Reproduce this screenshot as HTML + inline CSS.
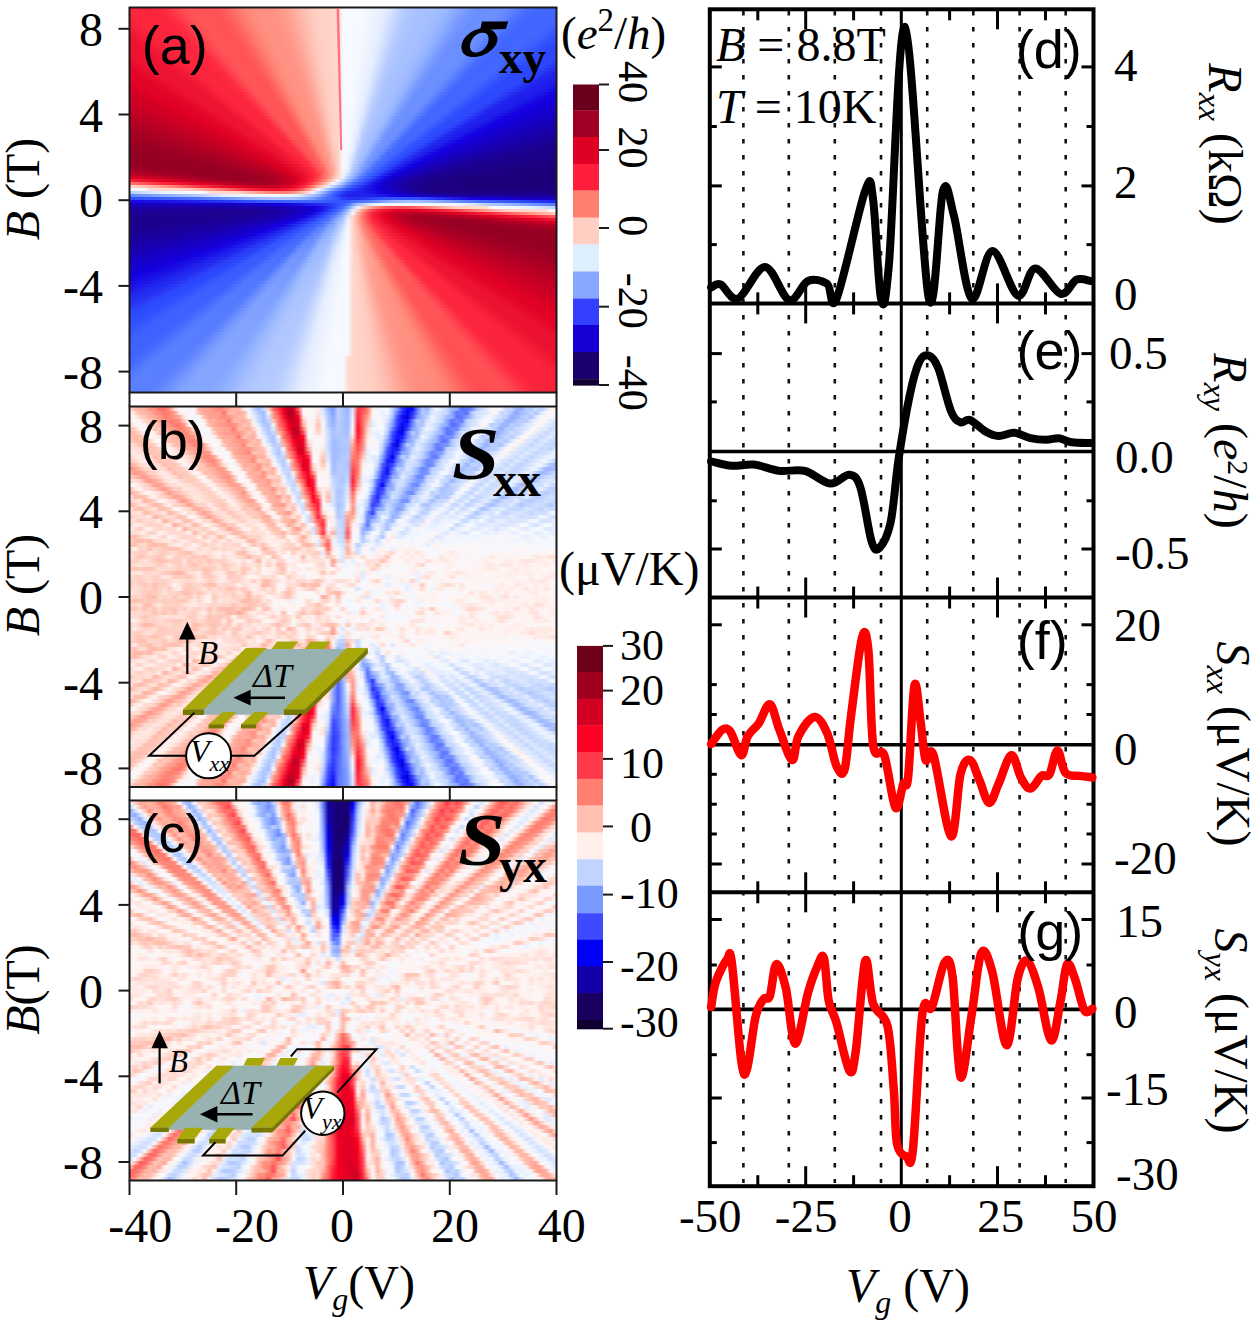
<!DOCTYPE html>
<html><head><meta charset="utf-8"><style>
html,body{margin:0;padding:0;background:#fff;width:1259px;height:1328px;overflow:hidden}
.hm{position:absolute;overflow:hidden}
.hm i{display:block;width:100%}
svg{position:absolute;left:0;top:0}
</style></head><body>
<div class="hm" style="left:130px;top:8px;width:426px;height:384px"><i style="height:3px;background:linear-gradient(90deg,#fc263d,#fc263d,#fb253d,#fb253c,#fb243c,#fc253d,#fd273e,#ff2b41,#ff3546,#ff3f4c,#ff4851,#ff4f55,#ff5457,#ff5558,#ff5458,#ff5357,#ff5256,#ff5357,#ff5659,#ff5d5d,#ff6662,#ff7068,#ff7b6e,#ff8475,#ff8a7c,#ff8e80,#ff9082,#ff9183,#ff9283,#ff9385,#ff9688,#ff9c8e,#ffa395,#ffac9e,#ffb5a8,#ffbeb1,#ffc6ba,#ffcdc1,#ffd0c4,#ffd2c6,#ffd3c9,#ffd6cc,#ffd8cf,#f6f9ff,#f6f9ff,#f6f9ff,#f6f9ff,#f6f9ff,#f2f6ff,#eef3ff,#ebf1ff,#e7efff,#dee8ff,#d3e0ff,#c7d7ff,#bbceff,#b3c9ff,#aec5ff,#aac2ff,#a7c0ff,#a6bfff,#a5beff,#a2bdff,#9fbaff,#99b6ff,#92b1ff,#89a9ff,#7fa1ff,#7799ff,#7193ff,#6d90ff,#6b8eff,#6c8fff,#6c8fff,#6d90ff,#6b8eff,#678bff,#6185ff,#597eff,#5076ff,#496fff,#456aff,#4267ff,#4165ff,#4165ff,#4266ff,#4267ff)"></i><i style="height:3px;background:linear-gradient(90deg,#fc253d,#fc263d,#fc263d,#fb253d,#fb243c,#fb253c,#fc263d,#fe293f,#ff2f43,#ff3949,#ff434e,#ff4c53,#ff5256,#ff5558,#ff5558,#ff5458,#ff5257,#ff5257,#ff5458,#ff5a5b,#ff6260,#ff6c65,#ff776c,#ff8172,#ff887a,#ff8d7f,#ff9082,#ff9183,#ff9183,#ff9384,#ff9587,#ff9a8c,#ffa294,#ffaa9d,#ffb4a7,#ffbdb0,#ffc5b9,#ffccc0,#ffd0c4,#ffd2c6,#ffd3c9,#ffd6cc,#ffd8cf,#f6f9ff,#f6f9ff,#f6f9ff,#f6f9ff,#f6f9ff,#f2f6ff,#eef3ff,#eaf1ff,#e7eeff,#dde7ff,#d1deff,#c5d5ff,#b9cdff,#b2c8ff,#adc4ff,#a9c2ff,#a7c0ff,#a6bfff,#a4beff,#a1bcff,#9db9ff,#97b5ff,#8fafff,#85a6ff,#7c9eff,#7496ff,#6f92ff,#6c8fff,#6b8eff,#6c8fff,#6d90ff,#6c8fff,#698dff,#6488ff,#5d81ff,#5479ff,#4b71ff,#466cff,#4368ff,#4266ff,#4165ff,#4165ff,#4266ff,#4267ff)"></i><i style="height:3px;background:linear-gradient(90deg,#fb243c,#fc263d,#fc263d,#fc253d,#fb253c,#fb243c,#fb253d,#fd273e,#ff2a40,#ff3445,#ff3e4b,#ff4851,#ff4f55,#ff5458,#ff5558,#ff5458,#ff5357,#ff5256,#ff5357,#ff575a,#ff5f5e,#ff6963,#ff736a,#ff7e6f,#ff8678,#ff8c7e,#ff9081,#ff9183,#ff9183,#ff9284,#ff9586,#ff998b,#ffa092,#ffa99b,#ffb2a5,#ffbcaf,#ffc4b8,#ffccbf,#ffd0c4,#ffd1c6,#ffd3c9,#ffd5cb,#ffd8cf,#f6f9ff,#f6f9ff,#f6f9ff,#f6f9ff,#f6f9ff,#f1f6ff,#edf3ff,#eaf1ff,#e6eeff,#dbe6ff,#cfddff,#c2d4ff,#b7cbff,#b1c7ff,#acc3ff,#a9c1ff,#a7c0ff,#a5bfff,#a3beff,#a0bbff,#9bb8ff,#94b3ff,#8bacff,#82a3ff,#799bff,#7294ff,#6d90ff,#6b8fff,#6c8fff,#6c8fff,#6d90ff,#6b8eff,#678bff,#6085ff,#587dff,#4f75ff,#486eff,#4469ff,#4266ff,#4165ff,#4165ff,#4266ff,#4267ff,#4266ff)"></i><i style="height:3px;background:linear-gradient(90deg,#fa233b,#fb253d,#fc263d,#fc263d,#fb253d,#fb243c,#fb253c,#fc263d,#fe283f,#ff2e42,#ff3848,#ff434e,#ff4c53,#ff5256,#ff5558,#ff5558,#ff5457,#ff5257,#ff5257,#ff5558,#ff5c5c,#ff6561,#ff7067,#ff7b6e,#ff8475,#ff8b7c,#ff8f80,#ff9182,#ff9183,#ff9284,#ff9486,#ff988a,#ff9f91,#ffa79a,#ffb1a4,#ffbbae,#ffc3b7,#ffcbbf,#ffd0c4,#ffd1c6,#ffd3c8,#ffd5cb,#ffd8cf,#f6f9ff,#f6f9ff,#f6f9ff,#f6f9ff,#f6f9ff,#f1f5ff,#edf3ff,#e9f0ff,#e5edff,#d9e5ff,#cddbff,#c0d2ff,#b6caff,#afc6ff,#abc3ff,#a8c1ff,#a6c0ff,#a5bfff,#a3bdff,#9fbaff,#99b6ff,#91b1ff,#88a8ff,#7e9fff,#7598ff,#6f92ff,#6c8fff,#6b8eff,#6c8fff,#6d90ff,#6c8fff,#698dff,#6488ff,#5c80ff,#5378ff,#4a70ff,#466bff,#4367ff,#4165ff,#4165ff,#4266ff,#4267ff,#4267ff,#4165ff)"></i><i style="height:3px;background:linear-gradient(90deg,#f8213a,#fa243c,#fc253d,#fc263d,#fc263d,#fb253d,#fb243c,#fb253d,#fc273e,#ff2a40,#ff3345,#ff3d4b,#ff4751,#ff4f55,#ff5458,#ff5558,#ff5458,#ff5357,#ff5257,#ff5458,#ff595a,#ff615f,#ff6c65,#ff776c,#ff8172,#ff897a,#ff8e80,#ff9082,#ff9183,#ff9283,#ff9385,#ff9789,#ff9d90,#ffa698,#ffb0a2,#ffb9ad,#ffc2b6,#ffcabe,#ffcfc4,#ffd1c6,#ffd3c8,#ffd5cb,#ffd8cf,#f6f9ff,#f6f9ff,#f6f9ff,#f6f9ff,#f6f9ff,#f0f5ff,#edf2ff,#e9f0ff,#e3ecff,#d7e3ff,#cadaff,#bed0ff,#b4c9ff,#aec5ff,#aac2ff,#a7c0ff,#a6bfff,#a4beff,#a2bcff,#9db9ff,#97b5ff,#8eaeff,#84a5ff,#7a9cff,#7395ff,#6e91ff,#6b8fff,#6c8fff,#6c8fff,#6d90ff,#6b8eff,#678aff,#6084ff,#577cff,#4e73ff,#476dff,#4468ff,#4266ff,#4165ff,#4166ff,#4266ff,#4267ff,#4266ff,#4063ff)"></i><i style="height:3px;background:linear-gradient(90deg,#f61e38,#f9223a,#fb243c,#fc263d,#fc263d,#fc253d,#fb253c,#fb243c,#fc253d,#fd283e,#ff2d42,#ff3748,#ff424e,#ff4b53,#ff5257,#ff5558,#ff5558,#ff5357,#ff5257,#ff5357,#ff5659,#ff5e5d,#ff6863,#ff7369,#ff7e70,#ff8778,#ff8d7e,#ff9082,#ff9183,#ff9283,#ff9385,#ff9688,#ff9c8e,#ffa497,#ffaea1,#ffb8ab,#ffc1b5,#ffc9bd,#ffcfc3,#ffd1c6,#ffd3c8,#ffd5cb,#ffd8cf,#f6f9ff,#f6f9ff,#f6f9ff,#f6f9ff,#f6f9ff,#f0f5ff,#ecf2ff,#e8f0ff,#e2ebff,#d5e2ff,#c8d8ff,#bbceff,#b3c8ff,#adc4ff,#a9c2ff,#a7c0ff,#a5bfff,#a4beff,#a0bbff,#9bb8ff,#94b3ff,#8babff,#80a2ff,#7799ff,#7093ff,#6c8fff,#6b8eff,#6c8fff,#6d90ff,#6c8fff,#698cff,#6387ff,#5b80ff,#5277ff,#496fff,#456aff,#4267ff,#4165ff,#4165ff,#4266ff,#4267ff,#4266ff,#4064ff,#3d61ff)"></i><i style="height:3px;background:linear-gradient(90deg,#f41b36,#f71f39,#fa233b,#fb253d,#fc263d,#fc263d,#fb253d,#fb243c,#fb253c,#fc263d,#fe293f,#ff3144,#ff3c4a,#ff4750,#ff4f55,#ff5458,#ff5558,#ff5458,#ff5257,#ff5257,#ff5458,#ff5a5b,#ff6461,#ff6f67,#ff7b6e,#ff8576,#ff8b7d,#ff8f81,#ff9183,#ff9183,#ff9284,#ff9587,#ff9b8d,#ffa395,#ffad9f,#ffb7aa,#ffc0b4,#ffc9bd,#ffcfc3,#ffd1c6,#ffd3c8,#ffd5cb,#ffd8cf,#f6f9ff,#f6f9ff,#f6f9ff,#f6f9ff,#f5f8ff,#f0f5ff,#ecf2ff,#e8efff,#e0eaff,#d3e0ff,#c6d6ff,#b9cdff,#b1c7ff,#acc4ff,#a9c1ff,#a7c0ff,#a5bfff,#a3bdff,#9fbaff,#99b6ff,#91b1ff,#87a7ff,#7c9eff,#7496ff,#6e91ff,#6c8fff,#6c8fff,#6c8fff,#6d90ff,#6b8eff,#668aff,#5f83ff,#567bff,#4c72ff,#476cff,#4368ff,#4165ff,#4165ff,#4266ff,#4267ff,#4267ff,#4165ff,#3e62ff,#3b5dff)"></i><i style="height:3px;background:linear-gradient(90deg,#f21934,#f51c37,#f82039,#fa233c,#fc253d,#fc263d,#fc263d,#fb253d,#fb243c,#fb253d,#fd273e,#ff2c41,#ff3647,#ff424d,#ff4b53,#ff5257,#ff5558,#ff5558,#ff5357,#ff5257,#ff5357,#ff585a,#ff605f,#ff6b65,#ff776c,#ff8273,#ff8a7b,#ff8f80,#ff9182,#ff9183,#ff9284,#ff9586,#ff9a8c,#ffa194,#ffab9e,#ffb5a8,#ffbfb3,#ffc8bc,#ffcfc3,#ffd1c5,#ffd3c8,#ffd5cb,#ffd8cf,#f6f9ff,#f6f9ff,#f6f9ff,#f6f9ff,#f4f8ff,#eff4ff,#ebf2ff,#e7efff,#dee8ff,#d1dfff,#c3d4ff,#b7cbff,#b0c6ff,#abc3ff,#a8c1ff,#a6c0ff,#a5beff,#a2bdff,#9db9ff,#96b4ff,#8daeff,#83a4ff,#799bff,#7194ff,#6d90ff,#6b8fff,#6c8fff,#6d90ff,#6c8fff,#698cff,#6387ff,#5a7fff,#5076ff,#486eff,#4469ff,#4266ff,#4165ff,#4266ff,#4266ff,#4267ff,#4266ff,#3f63ff,#3c5eff,#3759ff)"></i><i style="height:3px;background:linear-gradient(90deg,#f01633,#f31a35,#f61d38,#f9213a,#fb243c,#fc263d,#fc263d,#fc253d,#fb253c,#fb253c,#fc263d,#fe283f,#ff3043,#ff3c4a,#ff4650,#ff4f55,#ff5458,#ff5558,#ff5458,#ff5257,#ff5257,#ff5559,#ff5d5d,#ff6762,#ff7369,#ff7f70,#ff8879,#ff8d7f,#ff9082,#ff9183,#ff9284,#ff9486,#ff988a,#ffa092,#ffa99c,#ffb4a7,#ffbeb2,#ffc7bb,#ffcfc3,#ffd1c5,#ffd3c8,#ffd5cb,#ffd8cf,#f6f9ff,#f6f9ff,#f6f9ff,#f6f9ff,#f4f8ff,#eff4ff,#ebf1ff,#e7efff,#dce7ff,#cfddff,#c1d3ff,#b6caff,#afc6ff,#aac2ff,#a7c0ff,#a6bfff,#a4beff,#a1bcff,#9bb8ff,#94b2ff,#89aaff,#7fa0ff,#7598ff,#6f92ff,#6c8fff,#6b8fff,#6c8fff,#6d90ff,#6b8eff,#668aff,#5e82ff,#557aff,#4b71ff,#466bff,#4367ff,#4165ff,#4165ff,#4266ff,#4367ff,#4266ff,#4064ff,#3d60ff,#385aff,#3455ff)"></i><i style="height:3px;background:linear-gradient(90deg,#ef1431,#f11733,#f41b36,#f71f38,#f9223b,#fb253c,#fc263d,#fc263d,#fb253d,#fb243c,#fb253d,#fd273e,#ff2a40,#ff3546,#ff414d,#ff4b53,#ff5257,#ff5558,#ff5558,#ff5357,#ff5257,#ff5458,#ff595b,#ff6360,#ff6f67,#ff7b6e,#ff8576,#ff8c7e,#ff9081,#ff9183,#ff9283,#ff9385,#ff9789,#ff9e90,#ffa89a,#ffb2a5,#ffbdb0,#ffc6ba,#ffcec2,#ffd1c5,#ffd3c8,#ffd5cb,#ffd8cf,#f6f9ff,#f6f9ff,#f6f9ff,#f6f9ff,#f3f7ff,#eef4ff,#eaf1ff,#e6eeff,#dae5ff,#ccdbff,#bed1ff,#b4c9ff,#aec5ff,#a9c2ff,#a7c0ff,#a5bfff,#a3bdff,#9fbbff,#99b6ff,#90b0ff,#85a6ff,#7b9dff,#7295ff,#6d90ff,#6b8fff,#6c8fff,#6d90ff,#6c8fff,#698cff,#6286ff,#597eff,#4f74ff,#476dff,#4468ff,#4266ff,#4165ff,#4266ff,#4267ff,#4267ff,#4165ff,#3e61ff,#395cff,#3556ff,#3151ff)"></i><i style="height:3px;background:linear-gradient(90deg,#ee1331,#ef1532,#f11834,#f41b36,#f72039,#fa233b,#fb253d,#fc263d,#fc263d,#fb253d,#fb243c,#fc253d,#fd283f,#ff2f43,#ff3b49,#ff4650,#ff4f55,#ff5458,#ff5558,#ff5458,#ff5257,#ff5357,#ff5759,#ff5f5e,#ff6a64,#ff776b,#ff8273,#ff8a7c,#ff8f81,#ff9183,#ff9183,#ff9384,#ff9688,#ff9d8f,#ffa698,#ffb1a4,#ffbcaf,#ffc5b9,#ffcdc1,#ffd1c5,#ffd2c8,#ffd5cb,#ffd8cf,#f6f9ff,#f6f9ff,#f6f9ff,#f6f9ff,#f3f7ff,#eef4ff,#eaf1ff,#e6eeff,#d8e4ff,#cad9ff,#bccfff,#b2c8ff,#acc4ff,#a9c1ff,#a7c0ff,#a5bfff,#a2bdff,#9db9ff,#96b4ff,#8dadff,#81a2ff,#7799ff,#7093ff,#6c8fff,#6c8fff,#6c8fff,#6d90ff,#6b8eff,#6689ff,#5d82ff,#5378ff,#496fff,#456aff,#4266ff,#4165ff,#4266ff,#4267ff,#4267ff,#4165ff,#3f62ff,#3b5dff,#3657ff,#3252ff,#2f4cfe)"></i><i style="height:3px;background:linear-gradient(90deg,#ee1230,#ee1331,#f01532,#f21834,#f51d37,#f8213a,#fa243c,#fc263d,#fc263d,#fc253d,#fb253c,#fb253c,#fc263d,#ff2a40,#ff3446,#ff404c,#ff4b53,#ff5257,#ff5558,#ff5558,#ff5357,#ff5257,#ff5558,#ff5b5c,#ff6662,#ff7369,#ff7f70,#ff887a,#ff8e80,#ff9182,#ff9183,#ff9284,#ff9587,#ff9b8d,#ffa497,#ffafa2,#ffbaad,#ffc4b8,#ffcdc1,#ffd0c5,#ffd2c7,#ffd5ca,#ffd8cf,#f6f9ff,#f6f9ff,#f6f9ff,#f6f9ff,#f2f7ff,#eef3ff,#eaf0ff,#e4ecff,#d6e2ff,#c7d7ff,#b9cdff,#b1c7ff,#abc3ff,#a8c1ff,#a6bfff,#a4beff,#a1bcff,#9bb8ff,#93b2ff,#88a9ff,#7d9fff,#7496ff,#6e91ff,#6c8fff,#6c8fff,#6d90ff,#6c8fff,#698cff,#6185ff,#587dff,#4d73ff,#476cff,#4367ff,#4165ff,#4165ff,#4266ff,#4367ff,#4266ff,#3f63ff,#3c5eff,#3759ff,#3353ff,#2f4efe,#2d49fc)"></i><i style="height:3px;background:linear-gradient(90deg,#ee1230,#ee1230,#ee1331,#f01633,#f31935,#f61e38,#f9223a,#fb243c,#fc263d,#fc263d,#fb253d,#fb253c,#fb253d,#fd273e,#ff2d42,#ff3949,#ff4550,#ff4f55,#ff5458,#ff5558,#ff5458,#ff5257,#ff5357,#ff585a,#ff625f,#ff6e66,#ff7b6e,#ff8677,#ff8d7e,#ff9082,#ff9183,#ff9284,#ff9486,#ff9a8c,#ffa395,#ffada0,#ffb9ac,#ffc3b7,#ffccc0,#ffd0c5,#ffd2c7,#ffd5ca,#ffd8cf,#f6f9ff,#f6f9ff,#f6f9ff,#f6f9ff,#f2f6ff,#edf3ff,#e9f0ff,#e2ebff,#d4e1ff,#c5d5ff,#b7cbff,#b0c6ff,#aac2ff,#a7c0ff,#a6bfff,#a4beff,#a0bbff,#99b6ff,#90b0ff,#84a5ff,#799bff,#7193ff,#6c8fff,#6c8fff,#6c8fff,#6d90ff,#6b8eff,#6589ff,#5c81ff,#5277ff,#496eff,#4469ff,#4266ff,#4165ff,#4266ff,#4367ff,#4266ff,#4064ff,#3d60ff,#385aff,#3354ff,#304fff,#2e49fc,#2d47fb)"></i><i style="height:3px;background:linear-gradient(90deg,#ee1330,#ee1230,#ee1330,#ef1431,#f11733,#f41a36,#f71f38,#fa233b,#fb253d,#fc263d,#fc263d,#fb253d,#fb253c,#fc263d,#fe293f,#ff3345,#ff3f4c,#ff4b52,#ff5257,#ff5558,#ff5558,#ff5357,#ff5257,#ff5659,#ff5e5d,#ff6a64,#ff776b,#ff8374,#ff8b7d,#ff9081,#ff9183,#ff9283,#ff9485,#ff998a,#ffa193,#ffac9e,#ffb7aa,#ffc2b6,#ffcbbf,#ffd0c4,#ffd2c7,#ffd5ca,#ffd8cf,#f6f9ff,#f6f9ff,#f6f9ff,#f6f9ff,#f2f6ff,#edf3ff,#e9f0ff,#e0eaff,#d1dfff,#c2d3ff,#b5caff,#aec5ff,#a9c2ff,#a7c0ff,#a5bfff,#a3bdff,#9ebaff,#96b4ff,#8cacff,#80a1ff,#7598ff,#6f91ff,#6c8fff,#6c8fff,#6d90ff,#6c8fff,#688cff,#6185ff,#567bff,#4b71ff,#466bff,#4267ff,#4165ff,#4266ff,#4267ff,#4267ff,#4165ff,#3e61ff,#395bff,#3455ff,#3050ff,#2e4afd,#2d47fc,#2d47fc)"></i><i style="height:3px;background:linear-gradient(90deg,#ee1331,#ee1330,#ee1230,#ee1330,#ef1432,#f11734,#f41c36,#f82039,#fa233c,#fc263d,#fc263d,#fc253d,#fb253c,#fb253d,#fd273e,#ff2c41,#ff3848,#ff454f,#ff4f55,#ff5458,#ff5558,#ff5458,#ff5257,#ff5458,#ff5a5b,#ff6561,#ff7269,#ff7f70,#ff897a,#ff8f80,#ff9183,#ff9283,#ff9385,#ff9789,#ff9f91,#ffaa9c,#ffb6a9,#ffc1b4,#ffcabe,#ffd0c4,#ffd2c7,#ffd4ca,#ffd8ce,#f6f9ff,#f6f9ff,#f6f9ff,#f6f9ff,#f1f6ff,#ecf2ff,#e8efff,#dee8ff,#cfddff,#bfd1ff,#b4c9ff,#adc4ff,#a9c1ff,#a6c0ff,#a5beff,#a1bcff,#9bb8ff,#93b2ff,#87a8ff,#7b9dff,#7295ff,#6d90ff,#6c8fff,#6c8fff,#6d90ff,#6b8eff,#6588ff,#5b80ff,#5075ff,#486dff,#4368ff,#4166ff,#4165ff,#4266ff,#4367ff,#4266ff,#3f62ff,#3a5dff,#3557ff,#3151ff,#2e4bfd,#2d47fc,#2d47fc,#2d48fc)"></i><i style="height:3px;background:linear-gradient(90deg,#ed1230,#ee1331,#ee1330,#ee1230,#ee1331,#ef1532,#f21834,#f51d37,#f8213a,#fb243c,#fc263d,#fc263d,#fb253d,#fb253c,#fc253d,#fe283f,#ff3144,#ff3e4b,#ff4a52,#ff5257,#ff5558,#ff5558,#ff5357,#ff5357,#ff5759,#ff605f,#ff6e66,#ff7b6e,#ff8678,#ff8d7f,#ff9182,#ff9183,#ff9384,#ff9688,#ff9d90,#ffa89a,#ffb4a7,#ffc0b3,#ffcabd,#ffd0c4,#ffd2c7,#ffd4ca,#ffd8ce,#f6f9ff,#f6f9ff,#f6f9ff,#f6f9ff,#f1f5ff,#ecf2ff,#e7efff,#dce6ff,#ccdbff,#bdcfff,#b2c8ff,#acc3ff,#a8c1ff,#a6bfff,#a4beff,#a0bbff,#99b6ff,#8fafff,#82a4ff,#7799ff,#6f92ff,#6c8fff,#6c8fff,#6d90ff,#6c8fff,#688cff,#6084ff,#557aff,#4a70ff,#456aff,#4266ff,#4165ff,#4266ff,#4367ff,#4266ff,#4063ff,#3c5eff,#3758ff,#3252ff,#2f4cfd,#2d48fc,#2d47fc,#2d48fc,#2d48fc)"></i><i style="height:3px;background:linear-gradient(90deg,#ec112f,#ee1230,#ee1331,#ee1330,#ee1230,#ee1331,#f01532,#f31935,#f61e38,#f9223b,#fb253d,#fc263d,#fc263d,#fb253d,#fb253c,#fc263e,#ff2a40,#ff3747,#ff444f,#ff4f55,#ff5458,#ff5558,#ff5357,#ff5257,#ff5558,#ff5c5c,#ff6963,#ff776b,#ff8375,#ff8c7d,#ff9082,#ff9183,#ff9284,#ff9587,#ff9c8e,#ffa699,#ffb2a5,#ffbeb2,#ffc9bc,#ffd0c4,#ffd2c7,#ffd4ca,#ffd8ce,#f6f9ff,#f6f9ff,#f6f9ff,#f6f9ff,#f0f5ff,#ebf2ff,#e7efff,#d9e5ff,#c9d9ff,#bacdff,#b0c7ff,#abc3ff,#a7c0ff,#a6bfff,#a3bdff,#9ebaff,#96b4ff,#8aabff,#7e9fff,#7396ff,#6d90ff,#6c8fff,#6c8fff,#6d90ff,#6b8eff,#6488ff,#5a7fff,#4e74ff,#476cff,#4367ff,#4165ff,#4266ff,#4367ff,#4267ff,#4164ff,#3d60ff,#3859ff,#3353ff,#2f4dfe,#2d48fc,#2d47fc,#2d48fc,#2d48fc,#2c46fb)"></i><i style="height:3px;background:linear-gradient(90deg,#ea0e2d,#ec112f,#ee1330,#ee1331,#ee1330,#ee1230,#ee1431,#f01633,#f31a36,#f71f39,#fa233b,#fc263d,#fc263d,#fc253d,#fb253c,#fb253d,#fd283f,#ff3043,#ff3d4b,#ff4a52,#ff5257,#ff5559,#ff5458,#ff5257,#ff5357,#ff595a,#ff6461,#ff7269,#ff8071,#ff8a7b,#ff8f81,#ff9183,#ff9284,#ff9486,#ff9a8c,#ffa497,#ffb0a3,#ffbdb0,#ffc8bb,#ffcfc4,#ffd2c6,#ffd4ca,#ffd8ce,#f6f9ff,#f6f9ff,#f6f9ff,#f6f9ff,#f0f5ff,#ebf1ff,#e6eeff,#d7e3ff,#c7d7ff,#b7cbff,#afc6ff,#aac2ff,#a7c0ff,#a5bfff,#a2bcff,#9cb8ff,#92b2ff,#86a6ff,#799bff,#7093ff,#6c8fff,#6c8fff,#6d90ff,#6c8fff,#688bff,#5f83ff,#5379ff,#496eff,#4469ff,#4266ff,#4165ff,#4267ff,#4367ff,#4165ff,#3e61ff,#395bff,#3455ff,#304fff,#2d49fc,#2d47fc,#2d48fc,#2d48fc,#2d46fb,#2b41f9)"></i><i style="height:3px;background:linear-gradient(90deg,#e80b2b,#eb0e2e,#ed112f,#ee1330,#ee1331,#ee1330,#ee1330,#ef1431,#f11733,#f41c36,#f82039,#fb243c,#fc263d,#fc263d,#fb253d,#fb253c,#fc263d,#ff2a40,#ff3647,#ff444e,#ff4f55,#ff5558,#ff5558,#ff5357,#ff5257,#ff5659,#ff5f5e,#ff6d66,#ff7c6e,#ff8779,#ff8e80,#ff9183,#ff9283,#ff9385,#ff998b,#ffa295,#ffafa1,#ffbbaf,#ffc7ba,#ffcfc3,#ffd1c6,#ffd4ca,#ffd7ce,#f6f9ff,#f6f9ff,#f6f9ff,#f6f9ff,#eff4ff,#eaf1ff,#e4edff,#d4e1ff,#c4d5ff,#b5caff,#adc5ff,#a9c1ff,#a6c0ff,#a4beff,#a0bbff,#99b6ff,#8eaeff,#81a2ff,#7597ff,#6e91ff,#6c8fff,#6c8fff,#6d90ff,#6b8eff,#6487ff,#597dff,#4c72ff,#466bff,#4266ff,#4165ff,#4266ff,#4367ff,#4266ff,#3f62ff,#3a5dff,#3556ff,#3050ff,#2e4afc,#2d47fc,#2d48fc,#2d48fc,#2d47fb,#2b41f9,#2839f6)"></i><i style="height:3px;background:linear-gradient(90deg,#e60829,#e80b2b,#eb0f2e,#ed1130,#ee1330,#ee1331,#ee1230,#ee1330,#ef1432,#f21834,#f51d37,#f9213a,#fb253d,#fc263d,#fc263d,#fb253d,#fb253d,#fd273e,#ff2e42,#ff3c4a,#ff4a52,#ff5257,#ff5659,#ff5458,#ff5257,#ff5458,#ff5b5c,#ff6863,#ff776b,#ff8475,#ff8d7e,#ff9182,#ff9283,#ff9385,#ff9789,#ffa093,#ffad9f,#ffbaad,#ffc6b9,#ffcfc3,#ffd1c6,#ffd4c9,#ffd7ce,#f6f9ff,#f6f9ff,#f6f9ff,#f5f9ff,#eff4ff,#eaf1ff,#e2ebff,#d2dfff,#c0d2ff,#b3c9ff,#acc4ff,#a8c1ff,#a6bfff,#a3beff,#9ebaff,#95b4ff,#89aaff,#7c9dff,#7294ff,#6d90ff,#6c8fff,#6d90ff,#6c8fff,#678bff,#5e82ff,#5277ff,#486dff,#4368ff,#4165ff,#4266ff,#4367ff,#4267ff,#4064ff,#3b5eff,#3657ff,#3151ff,#2e4afd,#2d47fc,#2d48fc,#2d48fc,#2d47fb,#2b42f9,#2839f6,#2530f3)"></i><i style="height:3px;background:linear-gradient(90deg,#e40527,#e60829,#e80b2b,#eb0f2e,#ed1230,#ee1331,#ee1331,#ee1230,#ee1331,#f01532,#f21935,#f61e38,#fa233b,#fc253d,#fc263d,#fc253d,#fb253c,#fc263d,#fe293f,#ff3446,#ff434e,#ff4f55,#ff5558,#ff5558,#ff5357,#ff5357,#ff575a,#ff6260,#ff7168,#ff8071,#ff8b7c,#ff9082,#ff9183,#ff9284,#ff9688,#ff9e91,#ffaa9d,#ffb8ab,#ffc4b8,#ffcec2,#ffd1c6,#ffd4c9,#ffd7ce,#f6f9ff,#f6f9ff,#f6f9ff,#f5f8ff,#eef4ff,#e9f0ff,#e0eaff,#cfddff,#bdd0ff,#b2c8ff,#abc3ff,#a7c0ff,#a5bfff,#a2bdff,#9cb8ff,#92b1ff,#84a5ff,#7799ff,#6f92ff,#6c8fff,#6c8fff,#6d90ff,#6a8eff,#6387ff,#577cff,#4a70ff,#4569ff,#4266ff,#4266ff,#4267ff,#4367ff,#4165ff,#3d60ff,#3759ff,#3252ff,#2e4cfd,#2d48fc,#2d48fc,#2d48fc,#2d47fc,#2b42fa,#283af6,#2530f3,#2227ef)"></i><i style="height:3px;background:linear-gradient(90deg,#e30426,#e40527,#e60829,#e80b2c,#eb0f2e,#ed1230,#ee1331,#ee1331,#ee1230,#ee1331,#f01633,#f31a35,#f71f39,#fa243c,#fc263d,#fc263d,#fb253d,#fb253c,#fc273e,#ff2c41,#ff3b4a,#ff4952,#ff5357,#ff5659,#ff5458,#ff5257,#ff5558,#ff5e5d,#ff6c65,#ff7c6e,#ff8879,#ff8f81,#ff9183,#ff9284,#ff9587,#ff9c8f,#ffa89b,#ffb6a9,#ffc3b7,#ffcdc1,#ffd1c6,#ffd4c9,#ffd7ce,#f6f9ff,#f6f9ff,#f6f9ff,#f4f8ff,#eef3ff,#e9f0ff,#dee8ff,#ccdbff,#baceff,#b0c6ff,#aac2ff,#a7c0ff,#a5beff,#a1bcff,#99b6ff,#8dadff,#7fa0ff,#7396ff,#6d90ff,#6c8fff,#6d90ff,#6c8fff,#678bff,#5d81ff,#5075ff,#476cff,#4367ff,#4165ff,#4266ff,#4367ff,#4266ff,#3e61ff,#395bff,#3354ff,#2f4dfe,#2d48fc,#2d47fc,#2d48fc,#2d48fc,#2b43fa,#283af7,#2530f3,#2227ef,#2022ed)"></i><i style="height:3px;background:linear-gradient(90deg,#e20326,#e30426,#e40527,#e60829,#e90c2c,#eb0f2e,#ed1230,#ee1331,#ee1331,#ee1330,#ee1431,#f11733,#f41c36,#f8213a,#fb253c,#fc263d,#fc263d,#fb253d,#fb253d,#fe283f,#ff3345,#ff424e,#ff4f55,#ff5558,#ff5558,#ff5357,#ff5357,#ff5a5b,#ff6662,#ff776b,#ff8576,#ff8e7f,#ff9183,#ff9283,#ff9486,#ff9b8d,#ffa699,#ffb4a7,#ffc2b5,#ffcdc0,#ffd1c5,#ffd4c9,#ffd7ce,#f6f9ff,#f6f9ff,#f6f9ff,#f3f7ff,#edf3ff,#e8efff,#dbe6ff,#c9d8ff,#b7cbff,#aec5ff,#a9c1ff,#a6c0ff,#a4beff,#9ebaff,#95b3ff,#88a8ff,#7a9cff,#7093ff,#6c8fff,#6c8fff,#6d90ff,#6a8eff,#6286ff,#557aff,#496fff,#4468ff,#4266ff,#4266ff,#4367ff,#4266ff,#3f63ff,#3a5cff,#3455ff,#304ffe,#2d48fc,#2d47fc,#2d48fc,#2d48fc,#2c43fa,#293bf7,#2530f3,#2227ef,#2022ed,#1f1fec)"></i><i style="height:3px;background:linear-gradient(90deg,#e20326,#e20326,#e30426,#e40527,#e60829,#e90c2c,#ec102e,#ed1230,#ee1331,#ee1330,#ee1330,#ef1431,#f11834,#f51d37,#f9223b,#fc253d,#fc263d,#fc253d,#fb253c,#fc263d,#ff2b40,#ff3a49,#ff4951,#ff5357,#ff5659,#ff5458,#ff5257,#ff5659,#ff615f,#ff7168,#ff8172,#ff8c7d,#ff9082,#ff9283,#ff9385,#ff998b,#ffa496,#ffb2a5,#ffc0b4,#ffccc0,#ffd1c5,#ffd3c9,#ffd7ce,#f6f9ff,#f6f9ff,#f6f9ff,#f3f7ff,#edf3ff,#e7efff,#d8e4ff,#c5d6ff,#b5caff,#adc4ff,#a8c1ff,#a6bfff,#a3bdff,#9cb8ff,#91b1ff,#82a3ff,#7597ff,#6e91ff,#6c8fff,#6d90ff,#6c90ff,#678aff,#5b80ff,#4e73ff,#466bff,#4266ff,#4266ff,#4367ff,#4367ff,#4064ff,#3b5eff,#3557ff,#3050ff,#2e49fc,#2d47fc,#2d48fc,#2d48fc,#2c44fa,#293bf7,#2531f3,#2227ef,#2021ed,#1f1fec,#1f1eec)"></i><i style="height:3px;background:linear-gradient(90deg,#e10225,#e20326,#e20326,#e30426,#e40527,#e60829,#e90c2c,#ec102f,#ee1230,#ee1331,#ee1330,#ee1330,#ef1532,#f21935,#f61e38,#fa233b,#fc263d,#fc263d,#fb253d,#fb253d,#fd283e,#ff3144,#ff414d,#ff4e55,#ff5558,#ff5558,#ff5357,#ff5458,#ff5c5c,#ff6b65,#ff7c6e,#ff897a,#ff9081,#ff9283,#ff9384,#ff9789,#ffa294,#ffb0a3,#ffbfb2,#ffcbbf,#ffd1c5,#ffd3c9,#ffd7cd,#f6f9ff,#f6f9ff,#f6f9ff,#f2f6ff,#ecf2ff,#e6eeff,#d5e2ff,#c2d3ff,#b3c9ff,#abc3ff,#a7c0ff,#a5bfff,#a1bcff,#98b6ff,#8cacff,#7c9eff,#7194ff,#6c8fff,#6c8fff,#6d90ff,#6a8dff,#6185ff,#5479ff,#486dff,#4367ff,#4266ff,#4266ff,#4367ff,#4165ff,#3d60ff,#3758ff,#3151ff,#2e4afd,#2d47fc,#2d48fc,#2d48fc,#2c44fa,#293cf7,#2531f3,#2227ef,#2021ed,#1f1fec,#1f1eec,#1e1deb)"></i><i style="height:3px;background:linear-gradient(90deg,#df0024,#e10225,#e20326,#e20326,#e30426,#e40527,#e6082a,#e90c2c,#ec102f,#ee1330,#ee1331,#ee1330,#ee1331,#f01532,#f31a35,#f72039,#fb243c,#fc263d,#fc263d,#fb253d,#fc263d,#ff2a40,#ff3848,#ff4851,#ff5357,#ff5659,#ff5458,#ff5357,#ff585a,#ff6561,#ff766b,#ff8677,#ff8e80,#ff9183,#ff9284,#ff9688,#ffa092,#ffaea0,#ffbdb0,#ffcabd,#ffd0c5,#ffd3c8,#ffd7cd,#f6f9ff,#f6f9ff,#f6f9ff,#f2f6ff,#ebf2ff,#e5edff,#d2dfff,#bed1ff,#b1c7ff,#aac2ff,#a7c0ff,#a4beff,#9fbaff,#95b3ff,#86a7ff,#7799ff,#6e91ff,#6c8fff,#6d90ff,#6d90ff,#668aff,#5a7eff,#4b71ff,#4569ff,#4266ff,#4266ff,#4367ff,#4266ff,#3e61ff,#385aff,#3253ff,#2e4bfd,#2d48fc,#2d48fc,#2d49fc,#2c45fb,#293cf7,#2531f3,#2227ef,#2021ed,#1f1fec,#1f1eec,#1e1ceb,#1c18e9)"></i><i style="height:3px;background:linear-gradient(90deg,#da0024,#df0024,#e10125,#e20326,#e20326,#e30426,#e40528,#e6082a,#e90d2c,#ec102f,#ee1330,#ee1331,#ee1330,#ee1331,#f01633,#f41c36,#f9213a,#fb253d,#fc263e,#fc253d,#fb253d,#fd273e,#ff2f43,#ff404c,#ff4e55,#ff5558,#ff5558,#ff5357,#ff5558,#ff605e,#ff7068,#ff8173,#ff8d7e,#ff9183,#ff9284,#ff9587,#ff9d90,#ffab9e,#ffbbae,#ffc8bc,#ffd0c4,#ffd3c8,#ffd7cd,#f6f9ff,#f6f9ff,#f6f9ff,#f1f6ff,#ebf1ff,#e3ebff,#cfddff,#bbceff,#afc6ff,#a9c2ff,#a6c0ff,#a3bdff,#9cb8ff,#90b0ff,#80a1ff,#7395ff,#6d90ff,#6c8fff,#6d90ff,#6a8dff,#6084ff,#5277ff,#476cff,#4267ff,#4266ff,#4367ff,#4367ff,#4063ff,#3a5cff,#3354ff,#2f4dfe,#2d48fc,#2d48fc,#2d49fc,#2c45fb,#293df8,#2531f3,#2227ef,#2021ed,#1f1fec,#1f1eec,#1e1ceb,#1c17e9,#1a10e6)"></i><i style="height:3px;background:linear-gradient(90deg,#d50024,#d90024,#de0024,#e10125,#e20326,#e20326,#e30426,#e40528,#e6092a,#ea0d2d,#ec112f,#ee1331,#ee1331,#ee1330,#ef1431,#f11734,#f51d37,#fa233b,#fc263d,#fc263d,#fb253d,#fb253d,#fe293f,#ff3747,#ff4851,#ff5357,#ff5659,#ff5457,#ff5357,#ff5b5b,#ff6a64,#ff7c6f,#ff8a7b,#ff9082,#ff9283,#ff9486,#ff9b8d,#ffa99b,#ffb9ac,#ffc7bb,#ffd0c4,#ffd3c8,#ffd7cd,#f6f9ff,#f6f9ff,#f6f9ff,#f0f5ff,#eaf1ff,#e0eaff,#cbdaff,#b7ccff,#adc5ff,#a8c1ff,#a6bfff,#a1bcff,#98b6ff,#8aabff,#7a9cff,#6f92ff,#6c8fff,#6d90ff,#6d90ff,#6689ff,#587dff,#4a6fff,#4468ff,#4266ff,#4267ff,#4367ff,#4165ff,#3b5eff,#3556ff,#2f4efe,#2d48fc,#2d48fc,#2e49fc,#2c46fb,#293df8,#2532f3,#2227ef,#2021ed,#1f1fec,#1f1eec,#1e1ceb,#1c16e9,#190fe6,#1708e3)"></i><i style="height:3px;background:linear-gradient(90deg,#d20024,#d50024,#d90024,#dd0024,#e10125,#e20326,#e20326,#e30426,#e40528,#e6092a,#ea0d2d,#ed112f,#ee1331,#ee1331,#ee1330,#ef1431,#f21934,#f71f38,#fa243c,#fc263d,#fc263d,#fb253d,#fc263d,#ff2d42,#ff3f4c,#ff4e54,#ff5659,#ff5558,#ff5357,#ff5759,#ff6461,#ff766b,#ff8778,#ff8f81,#ff9283,#ff9385,#ff998b,#ffa699,#ffb7aa,#ffc6ba,#ffd0c4,#ffd3c8,#ffd7cd,#f6f9ff,#f6f9ff,#f6f9ff,#f0f5ff,#e9f0ff,#dde7ff,#c8d8ff,#b5caff,#acc3ff,#a7c0ff,#a5bfff,#9fbbff,#94b3ff,#84a5ff,#7597ff,#6d90ff,#6c90ff,#6e90ff,#6a8dff,#5f83ff,#4f75ff,#466aff,#4266ff,#4266ff,#4367ff,#4266ff,#3d60ff,#3658ff,#3050ff,#2e49fc,#2d48fc,#2e49fc,#2d46fb,#2a3ef8,#2632f3,#2227ef,#2021ed,#1f1fec,#1f1eec,#1e1beb,#1c15e8,#190ee5,#1606e2,#1401e0)"></i><i style="height:3px;background:linear-gradient(90deg,#d10024,#d20024,#d40024,#d80024,#dd0024,#e10125,#e20326,#e20326,#e30426,#e40528,#e7092a,#ea0d2d,#ed1130,#ee1331,#ee1331,#ee1331,#ef1532,#f31a35,#f82039,#fb253d,#fc263e,#fc253d,#fb253d,#fd283f,#ff3546,#ff4750,#ff5357,#ff5659,#ff5357,#ff5458,#ff5e5d,#ff7067,#ff8273,#ff8e7f,#ff9183,#ff9284,#ff9889,#ffa496,#ffb4a7,#ffc4b8,#ffcfc4,#ffd2c8,#ffd6cd,#f6f9ff,#f6f9ff,#f6f9ff,#eff4ff,#e9f0ff,#dae5ff,#c4d5ff,#b3c8ff,#aac2ff,#a7c0ff,#a4beff,#9cb8ff,#8fafff,#7d9fff,#7193ff,#6c8fff,#6d90ff,#6d90ff,#6588ff,#567bff,#486eff,#4367ff,#4266ff,#4367ff,#4267ff,#3e62ff,#385aff,#3151ff,#2e4afd,#2d48fc,#2e49fc,#2d47fb,#2a3ef8,#2632f4,#2227ef,#2021ed,#1f1fec,#1f1eec,#1d1bea,#1b14e8,#180ce5,#1605e2,#1400e0,#1400de)"></i><i style="height:3px;background:linear-gradient(90deg,#cf0024,#d00024,#d20024,#d40024,#d70024,#dc0024,#e00124,#e20326,#e20326,#e30426,#e40528,#e7092a,#ea0e2d,#ed1230,#ee1331,#ee1331,#ee1331,#f01633,#f41c36,#f9223b,#fc263d,#fc263d,#fb253d,#fc263d,#ff2b41,#ff3d4b,#ff4e54,#ff5659,#ff5558,#ff5357,#ff595a,#ff6963,#ff7d6f,#ff8b7d,#ff9183,#ff9284,#ff9688,#ffa193,#ffb2a5,#ffc3b6,#ffcfc3,#ffd2c7,#ffd6cd,#f6f9ff,#f6f9ff,#f6f9ff,#eef4ff,#e8efff,#d7e3ff,#c0d2ff,#b0c7ff,#a9c2ff,#a6bfff,#a2bdff,#98b6ff,#88a9ff,#779aff,#6e91ff,#6c90ff,#6e91ff,#6a8dff,#5d82ff,#4d73ff,#4469ff,#4266ff,#4367ff,#4367ff,#4064ff,#395cff,#3253ff,#2e4bfd,#2d48fc,#2e49fc,#2d47fc,#2a3ff8,#2633f4,#2227ef,#2021ed,#1f1fec,#1f1eec,#1d1aea,#1b13e7,#180be4,#1504e2,#1400e0,#1400de,#1400dc)"></i><i style="height:3px;background:linear-gradient(90deg,#cb0024,#ce0024,#d00024,#d20024,#d30024,#d70024,#db0024,#e00024,#e20226,#e20326,#e30426,#e40528,#e7092a,#ea0e2d,#ed1230,#ee1331,#ee1331,#ee1331,#f11733,#f61d37,#fa233c,#fc263e,#fc263d,#fb253d,#fd273e,#ff3345,#ff4650,#ff5357,#ff5659,#ff5357,#ff5558,#ff6260,#ff766b,#ff8879,#ff9082,#ff9284,#ff9586,#ff9f91,#ffafa2,#ffc1b4,#ffcfc3,#ffd2c7,#ffd6cc,#f6f9ff,#f6f9ff,#f6f9ff,#eef3ff,#e7efff,#d3e0ff,#bbcfff,#aec5ff,#a8c1ff,#a5bfff,#a0bbff,#93b2ff,#81a3ff,#7295ff,#6d90ff,#6d90ff,#6d90ff,#6488ff,#5479ff,#476cff,#4266ff,#4266ff,#4368ff,#4165ff,#3b5eff,#3455ff,#2f4cfe,#2d48fc,#2e49fc,#2d48fc,#2a40f9,#2633f4,#2227ef,#2021ed,#1f1fec,#1e1eec,#1d1aea,#1a12e7,#1709e4,#1503e1,#1400df,#1400dd,#1500db,#1500d7)"></i><i style="height:3px;background:linear-gradient(90deg,#c60024,#c90024,#cd0024,#d00024,#d10024,#d30024,#d60024,#db0024,#e00024,#e20226,#e20326,#e30426,#e40528,#e7092a,#eb0e2e,#ed1230,#ee1331,#ee1331,#ef1431,#f21834,#f71f39,#fb253c,#fc263e,#fc253d,#fc253d,#ff2a40,#ff3c4a,#ff4e54,#ff5659,#ff5558,#ff5357,#ff5c5c,#ff6f67,#ff8374,#ff8f80,#ff9283,#ff9485,#ff9c8e,#ffad9f,#ffbfb2,#ffcec2,#ffd2c7,#ffd6cc,#f6f9ff,#f6f9ff,#f6f9ff,#edf3ff,#e6eeff,#cfddff,#b7ccff,#acc4ff,#a7c0ff,#a4beff,#9cb9ff,#8daeff,#7b9dff,#6f92ff,#6d90ff,#6e91ff,#698dff,#5c80ff,#4a70ff,#4368ff,#4266ff,#4367ff,#4266ff,#3d60ff,#3557ff,#2f4efe,#2d48fc,#2e49fc,#2d48fc,#2b40f9,#2633f4,#2227ef,#2021ed,#1f1fec,#1e1eec,#1d19ea,#1a10e6,#1708e3,#1502e1,#1400df,#1400dd,#1500da,#1500d5,#1600d0)"></i><i style="height:3px;background:linear-gradient(90deg,#c20024,#c50024,#c80024,#cc0024,#cf0024,#d10024,#d20024,#d50024,#da0024,#df0024,#e20225,#e20326,#e30427,#e40628,#e70a2a,#eb0f2e,#ee1330,#ee1331,#ee1331,#ef1432,#f31a35,#f8213a,#fc263d,#fc263e,#fb253d,#fc263e,#ff3144,#ff454f,#ff5457,#ff5659,#ff5357,#ff5759,#ff6763,#ff7d6f,#ff8c7e,#ff9283,#ff9385,#ff9a8c,#ffaa9c,#ffbdb0,#ffccc0,#ffd2c7,#ffd6cc,#f6f9ff,#f6f9ff,#f5f8ff,#ecf2ff,#e3ecff,#cbdaff,#b5caff,#abc3ff,#a7c0ff,#a3bdff,#98b6ff,#86a7ff,#7597ff,#6d90ff,#6d90ff,#6d90ff,#6387ff,#5177ff,#456aff,#4266ff,#4367ff,#4367ff,#3f62ff,#3759ff,#3050ff,#2d49fc,#2e49fc,#2d49fc,#2b41f9,#2634f4,#2227ef,#2021ed,#1f1fec,#1e1eeb,#1c18e9,#190fe6,#1606e2,#1401e0,#1400de,#1400dc,#1500d8,#1500d3,#1600cf,#1600cb)"></i><i style="height:3px;background:linear-gradient(90deg,#c00024,#c20024,#c40024,#c70024,#cb0024,#ce0024,#d10024,#d20024,#d50024,#d90024,#df0024,#e20225,#e20326,#e30427,#e40628,#e70a2b,#eb0f2e,#ee1331,#ee1331,#ee1331,#f01532,#f41c36,#fa233b,#fc263e,#fc263d,#fb253d,#fe293f,#ff3a49,#ff4e54,#ff5659,#ff5458,#ff5458,#ff605f,#ff766b,#ff897a,#ff9183,#ff9284,#ff988a,#ffa799,#ffbaae,#ffcbbf,#ffd2c6,#ffd6cc,#f6f9ff,#f6f9ff,#f4f8ff,#ecf2ff,#e0e9ff,#c6d6ff,#b2c8ff,#a9c2ff,#a6bfff,#a0bbff,#93b2ff,#7fa0ff,#7093ff,#6d90ff,#6e91ff,#698cff,#5a7eff,#496eff,#4367ff,#4266ff,#4368ff,#4064ff,#395bff,#3152ff,#2e49fc,#2e49fc,#2e49fc,#2b42fa,#2634f4,#2227ef,#2021ed,#1f1fec,#1e1deb,#1c17e9,#190de5,#1605e2,#1400e0,#1400de,#1400db,#1500d7,#1500d2,#1600cd,#1600ca,#1600c7)"></i><i style="height:3px;background:linear-gradient(90deg,#bc0024,#bf0024,#c10024,#c30024,#c60024,#c90024,#cd0024,#d00024,#d20024,#d40024,#d80024,#de0024,#e10225,#e20326,#e30427,#e40628,#e70a2b,#ec102e,#ee1331,#ee1331,#ee1331,#f11633,#f61d38,#fb243c,#fc273e,#fc253d,#fc263d,#ff2e42,#ff444f,#ff5458,#ff5659,#ff5357,#ff5a5b,#ff6e66,#ff8475,#ff9081,#ff9284,#ff9688,#ffa396,#ffb8ab,#ffcabe,#ffd1c6,#ffd6cc,#f6f9ff,#f6f9ff,#f3f7ff,#ebf1ff,#dce7ff,#c1d3ff,#afc6ff,#a8c1ff,#a5bfff,#9db9ff,#8cacff,#789aff,#6d90ff,#6d90ff,#6d90ff,#6286ff,#4f74ff,#4469ff,#4266ff,#4368ff,#4266ff,#3b5eff,#3353ff,#2e4afd,#2e49fc,#2e4afc,#2b43fa,#2635f4,#2227ef,#2021ed,#1f1fec,#1e1deb,#1c15e8,#180ce5,#1504e1,#1400e0,#1400dd,#1500da,#1500d5,#1600d0,#1600cc,#1600c9,#1700c6,#1700c3)"></i><i style="height:3px;background:linear-gradient(90deg,#b80024,#bb0024,#bd0024,#c00024,#c20024,#c40024,#c80024,#cc0024,#cf0024,#d20024,#d30024,#d70024,#dd0024,#e10225,#e20326,#e30427,#e40628,#e80a2b,#ec102f,#ee1331,#ee1331,#ee1331,#f21834,#f72039,#fc263d,#fc263e,#fb253d,#fd283e,#ff3848,#ff4d54,#ff5659,#ff5458,#ff5659,#ff6662,#ff7e6f,#ff8e7f,#ff9284,#ff9486,#ffa093,#ffb5a8,#ffc8bc,#ffd1c6,#ffd5cb,#f6f9ff,#f6f9ff,#f2f7ff,#eaf1ff,#d8e4ff,#bccfff,#adc4ff,#a7c0ff,#a3bdff,#98b5ff,#84a5ff,#7295ff,#6d90ff,#6e91ff,#688cff,#577cff,#476cff,#4266ff,#4367ff,#4367ff,#3d60ff,#3455ff,#2f4cfd,#2e49fc,#2e4afd,#2c44fa,#2735f5,#2227ef,#2021ed,#1f1fec,#1e1ceb,#1b14e8,#170ae4,#1503e1,#1400df,#1400dd,#1500d9,#1500d3,#1600ce,#1600ca,#1600c7,#1700c4,#1700c1,#1800bd)"></i><i style="height:3px;background:linear-gradient(90deg,#b40024,#b60024,#b90024,#bc0024,#bf0024,#c10024,#c30024,#c70024,#cb0024,#cf0024,#d10024,#d30024,#d60024,#dc0024,#e10125,#e20326,#e30427,#e40628,#e80b2b,#ec112f,#ee1331,#ee1331,#ef1431,#f31a35,#f9223a,#fc263e,#fc263d,#fc253d,#ff2c41,#ff434e,#ff5458,#ff5659,#ff5457,#ff5e5d,#ff766b,#ff8a7c,#ff9283,#ff9385,#ff9d8f,#ffb2a5,#ffc6ba,#ffd1c5,#ffd5cb,#f6f9ff,#f6f9ff,#f2f6ff,#e9f0ff,#d4e1ff,#b8ccff,#abc3ff,#a7c0ff,#a1bcff,#92b1ff,#7c9dff,#6e91ff,#6e90ff,#6d90ff,#6084ff,#4c71ff,#4368ff,#4267ff,#4368ff,#3f63ff,#3658ff,#2f4efe,#2e49fc,#2e4afd,#2c44fb,#2736f5,#2227ef,#2021ed,#1f20ec,#1e1ceb,#1a13e7,#1708e3,#1502e1,#1400df,#1400dc,#1500d7,#1600d1,#1600cc,#1600c9,#1700c6,#1700c2,#1700be,#1800bb,#1800b8)"></i><i style="height:3px;background:linear-gradient(90deg,#b10024,#b30024,#b50024,#b70024,#ba0024,#be0024,#c00024,#c20024,#c50024,#c90024,#ce0024,#d10024,#d30024,#d60024,#db0024,#e10125,#e20326,#e30427,#e40628,#e80b2b,#ed112f,#ee1431,#ee1331,#ef1532,#f41c36,#fa243c,#fd273e,#fc253d,#fd273e,#ff3647,#ff4d54,#ff5759,#ff5458,#ff585a,#ff6d66,#ff8576,#ff9183,#ff9384,#ff9b8d,#ffaea1,#ffc4b8,#ffd1c5,#ffd5cb,#f6f9ff,#f6f9ff,#f1f5ff,#e8efff,#cfddff,#b4c9ff,#aac2ff,#a6bfff,#9db9ff,#8aaaff,#7497ff,#6d90ff,#6e91ff,#688bff,#557aff,#456aff,#4266ff,#4368ff,#4165ff,#385aff,#3050ff,#2e49fc,#2e4afd,#2c45fb,#2736f5,#2227ef,#2021ed,#1f20ec,#1d1bea,#1a11e6,#1607e3,#1401e0,#1400de,#1500da,#1500d5,#1600cf,#1600cb,#1600c8,#1700c4,#1700c0,#1800bc,#1800b9,#1800b6,#1900b3)"></i><i style="height:3px;background:linear-gradient(90deg,#ad0024,#af0024,#b10024,#b40024,#b60024,#b90024,#bc0024,#bf0024,#c10024,#c40024,#c80024,#cc0024,#d00024,#d20024,#d50024,#da0024,#e10124,#e20326,#e30427,#e40628,#e80b2c,#ed1130,#ef1431,#ee1331,#f01633,#f61e38,#fb253d,#fc273e,#fc253d,#ff2a40,#ff414d,#ff5458,#ff5659,#ff5458,#ff6360,#ff7e70,#ff8f81,#ff9284,#ff988a,#ffab9d,#ffc2b6,#ffd0c5,#ffd5cb,#f6f9ff,#f6f9ff,#f0f5ff,#e7eeff,#cad9ff,#b1c7ff,#a8c1ff,#a4beff,#97b5ff,#81a2ff,#7092ff,#6e91ff,#6d90ff,#5e83ff,#496fff,#4367ff,#4368ff,#4267ff,#3b5dff,#3152ff,#2e4afd,#2e4afd,#2d46fb,#2737f5,#2227ef,#2021ed,#1f20ec,#1d1aea,#190fe6,#1605e2,#1400e0,#1400dd,#1500d9,#1500d2,#1600cd,#1600c9,#1700c6,#1700c2,#1700be,#1800ba,#1800b7,#1800b4,#1900b1,#1900ad)"></i><i style="height:3px;background:linear-gradient(90deg,#a90024,#ab0024,#ad0024,#b00024,#b20024,#b50024,#b70024,#ba0024,#be0024,#c00024,#c30024,#c60024,#cb0024,#cf0024,#d20024,#d40024,#d90024,#e00024,#e20326,#e30427,#e40628,#e90c2c,#ed1230,#ef1431,#ee1331,#f11734,#f82039,#fc263e,#fc263d,#fc263d,#ff3345,#ff4d54,#ff5759,#ff5458,#ff5b5c,#ff756b,#ff8c7d,#ff9284,#ff9688,#ffa799,#ffc0b3,#ffd0c4,#ffd5cb,#f6f9ff,#f6f9ff,#eff4ff,#e4edff,#c4d5ff,#aec5ff,#a7c0ff,#a1bcff,#90b0ff,#789aff,#6d90ff,#6f91ff,#678bff,#5177ff,#4469ff,#4367ff,#4368ff,#3d60ff,#3354ff,#2e4afd,#2e4bfd,#2d47fc,#2838f6,#2228ef,#2021ed,#1f1fec,#1d19ea,#190de5,#1504e1,#1400df,#1400dc,#1500d7,#1600d0,#1600cb,#1600c8,#1700c4,#1700c0,#1800bb,#1800b8,#1800b5,#1900b1,#1900ae,#1900ab,#1a00a8)"></i><i style="height:3px;background:linear-gradient(90deg,#a50024,#a70024,#a90024,#ab0024,#ae0024,#b10024,#b30024,#b50024,#b80024,#bc0024,#bf0024,#c20024,#c50024,#c90024,#ce0024,#d10024,#d40024,#d80024,#e00024,#e20326,#e30427,#e40628,#e90c2c,#ee1230,#ef1431,#ef1431,#f31935,#fa233b,#fd273e,#fc263d,#fe283f,#ff404c,#ff5558,#ff5659,#ff5659,#ff6b65,#ff8778,#ff9284,#ff9486,#ffa395,#ffbdb0,#ffd0c4,#ffd5ca,#f6f9ff,#f6f9ff,#eef3ff,#e0e9ff,#bed0ff,#acc4ff,#a6c0ff,#9db9ff,#87a8ff,#7194ff,#6e91ff,#6d90ff,#5c81ff,#476cff,#4267ff,#4468ff,#4063ff,#3556ff,#2e4cfd,#2e4bfd,#2d48fc,#2839f6,#2228ef,#2021ed,#1f1fec,#1c17e9,#180be4,#1502e1,#1400df,#1500db,#1500d4,#1600ce,#1600ca,#1700c6,#1700c2,#1700bd,#1800b9,#1800b6,#1900b2,#1900af,#1900ac,#1a00a9,#1a00a6,#1a00a3)"></i><i style="height:3px;background:linear-gradient(90deg,#a20024,#a30024,#a50024,#a80024,#aa0024,#ac0024,#af0024,#b10024,#b40024,#b70024,#ba0024,#be0024,#c10024,#c40024,#c70024,#cd0024,#d10024,#d30024,#d70024,#df0024,#e20326,#e30427,#e50628,#e90d2c,#ee1331,#ef1431,#ef1432,#f41c36,#fb253d,#fd273e,#fc263d,#ff3043,#ff4c53,#ff575a,#ff5458,#ff615f,#ff7f70,#ff9182,#ff9385,#ff9f91,#ffb9ac,#ffcfc3,#ffd4ca,#f6f9ff,#f6f9ff,#edf3ff,#dbe6ff,#b8ccff,#aac2ff,#a5bfff,#97b5ff,#7d9eff,#6e91ff,#6f92ff,#668aff,#4e73ff,#4367ff,#4368ff,#4266ff,#385aff,#2f4dfe,#2e4bfd,#2e49fc,#2839f6,#2228ef,#2021ed,#1f1fec,#1c16e8,#1709e3,#1401e1,#1400de,#1500d9,#1500d2,#1600cc,#1600c8,#1700c4,#1700bf,#1800bb,#1800b7,#1800b4,#1900b0,#1900ac,#1900a9,#1a00a6,#1a00a3,#1a00a0,#1b009e)"></i><i style="height:3px;background:linear-gradient(90deg,#9f0024,#a00024,#a20024,#a40024,#a60024,#a80024,#aa0024,#ad0024,#af0024,#b20024,#b50024,#b80024,#bc0024,#bf0024,#c20024,#c60024,#cb0024,#d00024,#d30024,#d60024,#de0024,#e20326,#e30427,#e50628,#ea0d2d,#ee1331,#ef1431,#f01532,#f61e38,#fc263e,#fc263d,#fd273e,#ff3d4b,#ff5558,#ff5559,#ff595b,#ff756a,#ff8e7f,#ff9385,#ff9c8e,#ffb5a9,#ffcec2,#ffd4ca,#f6f9ff,#f6f9ff,#ecf2ff,#d5e2ff,#b4c9ff,#a9c1ff,#a2bdff,#8fafff,#7497ff,#6e91ff,#6d90ff,#597eff,#456aff,#4367ff,#4368ff,#3b5dff,#3050ff,#2e4bfd,#2e4afd,#283af7,#2228ef,#2021ed,#1f1fec,#1b14e8,#1607e3,#1401e0,#1400dd,#1500d6,#1600cf,#1600ca,#1700c7,#1700c2,#1800bc,#1800b8,#1800b5,#1900b1,#1900ad,#1900aa,#1a00a6,#1a00a3,#1a00a0,#1b009d,#1b009b,#1b0098)"></i><i style="height:3px;background:linear-gradient(90deg,#9c0023,#9d0024,#9e0024,#a00024,#a20024,#a40024,#a60024,#a80024,#ab0024,#ad0024,#b00024,#b30024,#b60024,#ba0024,#be0024,#c10024,#c40024,#c90024,#cf0024,#d20024,#d50024,#dc0024,#e20326,#e30427,#e50728,#ea0e2d,#ee1331,#ef1431,#f11733,#f8213a,#fd273e,#fc263d,#ff2d42,#ff4b53,#ff5759,#ff5559,#ff6964,#ff8879,#ff9284,#ff998b,#ffb1a4,#ffccc0,#ffd4c9,#f6f9ff,#f6f9ff,#ebf1ff,#cfddff,#b0c7ff,#a7c0ff,#9db9ff,#84a5ff,#7092ff,#6f92ff,#6488ff,#4a70ff,#4367ff,#4468ff,#3d60ff,#3252ff,#2e4bfd,#2e4afd,#293bf7,#2228f0,#2022ed,#1e1eec,#1a11e7,#1605e2,#1400e0,#1400db,#1500d4,#1600cd,#1600c9,#1700c4,#1700bf,#1800ba,#1800b6,#1900b2,#1900ae,#1900aa,#1a00a7,#1a00a4,#1a00a0,#1b009d,#1b009b,#1b0098,#1b0095,#1c0093)"></i><i style="height:3px;background:linear-gradient(90deg,#9a0023,#9b0023,#9c0023,#9d0024,#9e0024,#a00024,#a20024,#a40024,#a60024,#a90024,#ab0024,#ae0024,#b10024,#b40024,#b80024,#bc0024,#c00024,#c30024,#c70024,#cd0024,#d20024,#d50024,#db0024,#e20226,#e30427,#e50729,#ea0e2d,#ef1431,#ef1431,#f21935,#fa243c,#fd273e,#fd273e,#ff3b49,#ff5458,#ff5659,#ff5f5e,#ff8071,#ff9183,#ff9788,#ffada0,#ffc9bd,#ffd4c9,#f6f9ff,#f6f9ff,#e9f0ff,#c8d8ff,#adc5ff,#a6bfff,#96b4ff,#799bff,#6f91ff,#6c8fff,#567bff,#4469ff,#4468ff,#4064ff,#3455ff,#2f4cfd,#2e4bfd,#293cf7,#2228f0,#2022ed,#1e1deb,#190fe6,#1504e2,#1400df,#1500d9,#1600d1,#1600cb,#1700c7,#1700c1,#1800bc,#1800b7,#1800b3,#1900af,#1900ab,#1a00a7,#1a00a4,#1a00a0,#1b009d,#1b009a,#1b0098,#1c0095,#1c0092,#1c0090,#1c008f)"></i><i style="height:3px;background:linear-gradient(90deg,#980023,#980023,#990023,#9a0023,#9c0023,#9d0024,#9e0024,#a00024,#a20024,#a40024,#a60024,#a90024,#ac0024,#af0024,#b20024,#b60024,#b90024,#be0024,#c20024,#c50024,#cb0024,#d10024,#d40024,#da0024,#e10225,#e30527,#e50729,#eb0f2e,#ef1431,#ef1532,#f41c36,#fc263d,#fc273e,#ff2a40,#ff4952,#ff5759,#ff595a,#ff746a,#ff8e80,#ff9587,#ffa89b,#ffc7ba,#ffd3c8,#f6f9ff,#f6f9ff,#e7efff,#c1d3ff,#abc3ff,#a2bdff,#8cacff,#7295ff,#6f92ff,#6286ff,#486eff,#4468ff,#4266ff,#3758ff,#2f4dfe,#2e4bfd,#293df8,#2229f0,#2022ed,#1e1beb,#180de5,#1503e1,#1400de,#1500d6,#1600ce,#1600c9,#1700c4,#1700be,#1800b9,#1800b5,#1900b0,#1900ac,#1a00a8,#1a00a4,#1a00a1,#1b009d,#1b009a,#1b0097,#1c0094,#1c0092,#1c0090,#1c008e,#1c008d,#1c008c)"></i><i style="height:3px;background:linear-gradient(90deg,#960022,#960023,#970023,#980023,#990023,#9a0023,#9b0023,#9d0023,#9e0024,#a00024,#a20024,#a40024,#a70024,#aa0024,#ad0024,#b00024,#b40024,#b70024,#bb0024,#c00024,#c40024,#c90024,#cf0024,#d40024,#d90024,#e10125,#e30527,#e50729,#eb0f2e,#ef1431,#f01532,#f71f38,#fd273e,#fd273e,#ff3848,#ff5458,#ff5759,#ff6863,#ff897a,#ff9485,#ffa496,#ffc4b7,#ffd3c8,#f6f9ff,#f5f8ff,#e5edff,#bacdff,#a9c1ff,#9db9ff,#80a2ff,#7092ff,#6b8eff,#5277ff,#4469ff,#4368ff,#3a5cff,#304fff,#2f4cfd,#2a3ef8,#2229f0,#2022ed,#1d1aea,#180ae4,#1502e1,#1400dc,#1500d3,#1600cc,#1700c7,#1700c1,#1800bb,#1800b6,#1900b1,#1900ad,#1a00a8,#1a00a5,#1a00a1,#1b009d,#1b009a,#1b0097,#1c0094,#1c0091,#1c008f,#1c008e,#1c008d,#1c008c,#1c008b,#1c008a)"></i><i style="height:3px;background:linear-gradient(90deg,#950022,#950022,#960022,#960023,#970023,#980023,#990023,#9a0023,#9b0023,#9c0023,#9e0024,#9f0024,#a20024,#a40024,#a70024,#aa0024,#ad0024,#b10024,#b50024,#b90024,#be0024,#c20024,#c70024,#ce0024,#d30024,#d80024,#e00124,#e30527,#e60829,#ec102f,#ef1432,#f11733,#f9223b,#fd273e,#ff2940,#ff4851,#ff5759,#ff5e5d,#ff8071,#ff9284,#ff9f92,#ffc0b3,#ffd2c8,#f6f9ff,#f3f7ff,#dfe9ff,#b5caff,#a7c0ff,#95b3ff,#7699ff,#6f92ff,#5f83ff,#476cff,#4469ff,#3d60ff,#3151ff,#2f4dfe,#2a3ff9,#232af0,#2022ed,#1c17e9,#1708e3,#1401e0,#1500d9,#1600d0,#1600ca,#1700c4,#1700bd,#1800b8,#1900b3,#1900ae,#1900a9,#1a00a5,#1a00a1,#1b009d,#1b009a,#1b0096,#1c0093,#1c0090,#1c008f,#1c008e,#1c008c,#1c008b,#1c008a,#1c0089,#1c0088,#1c0087)"></i><i style="height:3px;background:linear-gradient(90deg,#940022,#940022,#940022,#950022,#950022,#960022,#960023,#970023,#980023,#990023,#9b0023,#9c0023,#9e0024,#9f0024,#a20024,#a40024,#a80024,#ab0024,#ae0024,#b30024,#b70024,#bb0024,#c10024,#c50024,#cb0024,#d20024,#d70024,#e00024,#e30527,#e60829,#ec112f,#ef1532,#f31935,#fb253c,#fd273e,#ff3546,#ff5357,#ff595a,#ff746a,#ff9081,#ff9b8d,#ffbcaf,#ffd2c7,#f6f9ff,#f1f6ff,#d8e3ff,#b0c7ff,#a3bdff,#89aaff,#7194ff,#6a8dff,#4e73ff,#4469ff,#4064ff,#3354ff,#2f4dfe,#2b41f9,#232af0,#2022ed,#1b15e8,#1606e2,#1400df,#1500d6,#1600cd,#1600c7,#1700c0,#1800ba,#1800b4,#1900af,#1900aa,#1a00a5,#1a00a1,#1b009d,#1b0099,#1b0096,#1c0093,#1c0090,#1c008e,#1c008d,#1c008c,#1c008b,#1c0089,#1c0088,#1c0087,#1c0086,#1c0086,#1c0085)"></i><i style="height:3px;background:linear-gradient(90deg,#950022,#940022,#940022,#940022,#940022,#950022,#950022,#950022,#960023,#970023,#980023,#990023,#9a0023,#9c0023,#9d0024,#9f0024,#a20024,#a50024,#a80024,#ac0024,#b00024,#b40024,#b90024,#be0024,#c30024,#c90024,#d10024,#d60024,#df0024,#e30527,#e6082a,#ed1130,#f01532,#f51c37,#fc273e,#fe293f,#ff4650,#ff575a,#ff6662,#ff8a7c,#ff988a,#ffb7aa,#ffd1c6,#f6f9ff,#f0f5ff,#d0ddff,#acc4ff,#9db9ff,#7c9eff,#6f92ff,#5c80ff,#466bff,#4367ff,#3657ff,#2f4efe,#2b42fa,#232bf0,#2022ed,#1a12e7,#1605e2,#1400dd,#1500d2,#1600cb,#1700c4,#1800bc,#1800b6,#1900b0,#1900ab,#1a00a6,#1a00a1,#1b009d,#1b0099,#1b0095,#1c0092,#1c008f,#1c008e,#1c008c,#1c008b,#1c008a,#1c0089,#1c0088,#1c0087,#1c0086,#1c0085,#1c0084,#1c0083,#1c0083)"></i><i style="height:3px;background:linear-gradient(90deg,#960023,#960022,#950022,#950022,#940022,#940022,#940022,#940022,#950022,#950022,#960022,#960023,#970023,#980023,#9a0023,#9b0023,#9d0024,#9f0024,#a20024,#a50024,#a90024,#ad0024,#b10024,#b60024,#bb0024,#c10024,#c70024,#cf0024,#d50024,#dd0024,#e30527,#e6092a,#ed1230,#f01633,#f72039,#fd283e,#ff3244,#ff5457,#ff5d5d,#ff8172,#ff9587,#ffb1a4,#ffd1c6,#f6f9ff,#eef3ff,#c6d7ff,#a9c1ff,#93b2ff,#7496ff,#698cff,#4a70ff,#4469ff,#395cff,#3050ff,#2c44fa,#232bf1,#2021ed,#1910e6,#1503e1,#1500d9,#1600cf,#1600c8,#1700bf,#1800b8,#1900b2,#1900ac,#1a00a7,#1a00a1,#1b009d,#1b0099,#1c0095,#1c0091,#1c008f,#1c008d,#1c008c,#1c008a,#1c0089,#1c0088,#1c0087,#1c0086,#1c0085,#1c0084,#1c0083,#1c0082,#1c0082,#1c0081,#1c0080)"></i><i style="height:3px;background:linear-gradient(90deg,#9a0023,#990023,#980023,#970023,#960023,#950022,#950022,#950022,#940022,#940022,#950022,#950022,#950022,#960023,#970023,#980023,#990023,#9b0023,#9d0024,#9f0024,#a20024,#a50024,#a90024,#ae0024,#b30024,#b80024,#be0024,#c50024,#cc0024,#d40024,#dc0024,#e30527,#e7092a,#ee1331,#f11734,#fa233c,#fe293f,#ff444f,#ff595b,#ff746a,#ff9384,#ffac9e,#ffd0c5,#f6f9ff,#ecf2ff,#bccfff,#a4beff,#85a6ff,#7093ff,#587dff,#456aff,#3d60ff,#3151ff,#2c45fb,#232cf1,#1f20ec,#190de5,#1401e0,#1500d5,#1600cc,#1700c3,#1800bb,#1800b4,#1900ad,#1a00a7,#1a00a2,#1b009d,#1b0098,#1c0094,#1c0090,#1c008e,#1c008c,#1c008b,#1c0089,#1c0088,#1c0087,#1c0086,#1c0085,#1c0084,#1c0083,#1c0082,#1c0081,#1c0081,#1c0080,#1c0080,#1c007f,#1c007e)"></i><i style="height:3px;background:linear-gradient(90deg,#a00024,#9e0024,#9d0023,#9b0023,#9a0023,#990023,#980023,#970023,#960023,#950022,#950022,#950022,#950022,#950022,#950022,#960022,#970023,#980023,#990023,#9b0023,#9d0023,#9f0024,#a20024,#a60024,#aa0024,#af0024,#b50024,#bb0024,#c20024,#c90024,#d30024,#db0024,#e30527,#e70a2b,#ef1432,#f31a35,#fd273e,#ff3144,#ff5659,#ff6762,#ff8f81,#ffa799,#ffd0c4,#f5f8ff,#e9f0ff,#b4c9ff,#9cb9ff,#789aff,#678bff,#486eff,#4165ff,#3353ff,#2d48fc,#242cf1,#1f1fec,#180ae4,#1400de,#1500d2,#1600c8,#1700bf,#1800b7,#1900af,#1a00a8,#1a00a2,#1b009d,#1b0097,#1c0093,#1c008f,#1c008d,#1c008c,#1c008a,#1c0089,#1c0087,#1c0086,#1c0085,#1c0084,#1c0083,#1c0082,#1c0081,#1c0080,#1c0080,#1c007f,#1c007f,#1c007e,#1c007e,#1c007d,#1c007d)"></i><i style="height:3px;background:linear-gradient(90deg,#ac0024,#a90024,#a60024,#a40024,#a10024,#9f0024,#9d0024,#9c0023,#9a0023,#990023,#980023,#970023,#960023,#960022,#950022,#950022,#950022,#960022,#960023,#970023,#990023,#9a0023,#9c0023,#9f0024,#a20024,#a70024,#ac0024,#b10024,#b80024,#bf0024,#c70024,#d10024,#da0024,#e40527,#e90c2c,#f11733,#f71f38,#ff2b41,#ff4751,#ff6260,#ff897a,#ffa597,#ffd0c4,#f4f7ff,#e2ebff,#abc3ff,#8fafff,#7092ff,#5277ff,#4468ff,#3556ff,#2e4afd,#242df1,#1e1deb,#1709e3,#1500da,#1600ce,#1700c3,#1800ba,#1900b1,#1900aa,#1a00a3,#1b009c,#1b0097,#1c0092,#1c008f,#1c008d,#1c008b,#1c0089,#1c0087,#1c0086,#1c0085,#1c0084,#1c0083,#1c0082,#1c0081,#1c0080,#1c007f,#1c007f,#1c007e,#1c007e,#1c007d,#1c007d,#1c007c,#1c007c,#1c007c,#1c007b)"></i><i style="height:3px;background:linear-gradient(90deg,#c00024,#bc0024,#b80024,#b40024,#b10024,#ad0024,#aa0024,#a70024,#a40024,#a10024,#9f0024,#9d0024,#9b0023,#9a0023,#980023,#970023,#970023,#960023,#960023,#960023,#970023,#980023,#990023,#9b0023,#9d0024,#9f0024,#a30024,#a80024,#ae0024,#b50024,#bd0024,#c70024,#d10024,#dc0024,#e50729,#eb0f2e,#f41b36,#fd273e,#ff3c4a,#ff6561,#ff8475,#ffaa9c,#ffd2c7,#f0f5ff,#cfddff,#a1bcff,#7a9cff,#6185ff,#456aff,#385aff,#2e4cfd,#242ef2,#1d1aea,#1607e3,#1500d6,#1600ca,#1700bf,#1800b5,#1900ac,#1a00a4,#1b009d,#1b0097,#1c0091,#1c008e,#1c008c,#1c008a,#1c0088,#1c0086,#1c0085,#1c0084,#1c0082,#1c0081,#1c0081,#1c0080,#1c007f,#1c007e,#1c007e,#1c007d,#1c007d,#1c007c,#1c007c,#1c007c,#1c007b,#1c007b,#1c007b,#1c007b,#1c007a)"></i><i style="height:3px;background:linear-gradient(90deg,#e00024,#da0024,#d50024,#d00024,#cb0024,#c60024,#c10024,#bc0024,#b80024,#b30024,#af0024,#ab0024,#a80024,#a40024,#a10024,#9f0024,#9d0024,#9b0023,#9a0023,#990023,#980023,#980023,#980023,#990023,#9a0023,#9c0023,#9e0024,#a10024,#a70024,#ad0024,#b40024,#be0024,#c80024,#d40024,#e20225,#e90d2d,#f11834,#fb253d,#ff454f,#ff6662,#ff8b7c,#ffb9ac,#ffd6cd,#e9f0ff,#b4c9ff,#8fafff,#678bff,#486dff,#3b5eff,#2f4dfe,#242ef2,#1c18e9,#1604e2,#1500d4,#1700c6,#1800bb,#1900b0,#1a00a7,#1b009f,#1b0097,#1c0091,#1c008e,#1c008b,#1c0089,#1c0087,#1c0085,#1c0084,#1c0082,#1c0081,#1c0080,#1c007f,#1c007e,#1c007e,#1c007d,#1c007d,#1c007c,#1c007c,#1c007b,#1c007b,#1c007b,#1c007b,#1c007a,#1c007a,#1c007a,#1c007a,#1c007a,#1c007a)"></i><i style="height:3px;background:linear-gradient(90deg,#f72039,#f41b36,#f11633,#ed1230,#ea0d2d,#e7092a,#e30527,#e00024,#da0024,#d40024,#ce0024,#c80024,#c30024,#bd0024,#b80024,#b30024,#af0024,#aa0024,#a70024,#a30024,#a00024,#9e0024,#9d0024,#9c0023,#9c0023,#9c0023,#9d0024,#a00024,#a30024,#a90024,#b00024,#b90024,#c40024,#d20024,#e10125,#ea0d2d,#f41b36,#ff2a40,#ff5056,#ff7c6f,#ffa99c,#ffd1c6,#f2f6ff,#ccdaff,#99b6ff,#6f91ff,#4e73ff,#3c5fff,#2f4cfd,#242ff2,#1c17e9,#1503e1,#1500d3,#1700c5,#1800b9,#1900ae,#1a00a4,#1b009b,#1c0093,#1c008e,#1c008b,#1c0089,#1c0086,#1c0084,#1c0083,#1c0081,#1c0080,#1c007f,#1c007e,#1c007d,#1c007d,#1c007c,#1c007c,#1c007b,#1c007b,#1c007b,#1c007a,#1c007a,#1c007a,#1c007a,#1c007a,#1c007a,#1c007a,#1c007a,#1c007a,#1c007a,#1c007a)"></i><i style="height:3px;background:linear-gradient(90deg,#ff776b,#ff6b65,#ff5f5e,#ff5357,#ff4650,#ff3a49,#ff2d42,#fc263d,#f8213a,#f41b36,#f01633,#ec112f,#e90c2c,#e50628,#e10125,#db0024,#d40024,#cd0024,#c60024,#c00024,#ba0024,#b50024,#b10024,#ad0024,#aa0024,#a80024,#a70024,#a80024,#aa0024,#ae0024,#b50024,#be0024,#ca0024,#d90024,#e50729,#f01532,#fc253d,#ff4952,#ff776c,#ffa598,#ffd1c5,#f2f6ff,#d1deff,#a1bcff,#7294ff,#4b71ff,#3a5cff,#2d49fc,#242ff2,#1d18e9,#1605e2,#1500d5,#1600c8,#1800bb,#1900b0,#1a00a5,#1b009c,#1c0093,#1c008e,#1c008a,#1c0087,#1c0085,#1c0083,#1c0081,#1c0080,#1c007e,#1c007d,#1c007d,#1c007c,#1c007c,#1c007b,#1c007b,#1c007b,#1c007a,#1c007a,#1c007a,#1c007a,#1c007a,#1c007a,#1c007a,#1c007a,#1c007a,#1c007a,#1c007a,#1c007a,#1c007b,#1c007b)"></i><i style="height:3px;background:linear-gradient(90deg,#ffd2c7,#ffcfc4,#ffc8bc,#ffbfb2,#ffb5a8,#ffab9e,#ffa092,#ff9586,#ff897a,#ff7c6e,#ff6e67,#ff605f,#ff5257,#ff444e,#ff3546,#fe283f,#f9223b,#f41c36,#f01632,#eb0f2e,#e70a2a,#e30427,#de0024,#d60024,#d00024,#ca0024,#c60024,#c30024,#c30024,#c50024,#ca0024,#d20024,#de0024,#e70a2a,#f11733,#fd273e,#ff4f55,#ff8172,#ffb3a6,#ffd6cc,#eaf0ff,#bacdff,#97b5ff,#7093ff,#476dff,#3758ff,#2b43fa,#242ef2,#1e1ceb,#180be4,#1400dd,#1600d0,#1700c4,#1800b8,#1900ad,#1a00a3,#1b0099,#1c0090,#1c008c,#1c0089,#1c0086,#1c0083,#1c0081,#1c0080,#1c007e,#1c007d,#1c007d,#1c007c,#1c007c,#1c007b,#1c007b,#1c007b,#1c007b,#1c007b,#1c007b,#1c007b,#1c007b,#1c007b,#1c007b,#1c007b,#1c007c,#1c007c,#1c007c,#1c007c,#1c007c,#1c007d,#1c007d)"></i><i style="height:3px;background:linear-gradient(90deg,#f4f8ff,#f5f9ff,#f6f9ff,#f6f9ff,#ffdcd4,#ffdbd3,#ffdad2,#ffd9d0,#ffd7ce,#ffd5cb,#ffd3c9,#ffd1c5,#ffcbbf,#ffc1b4,#ffb6a9,#ffaa9c,#ff9d8f,#ff8f80,#ff8072,#ff7168,#ff605f,#ff5055,#ff3f4c,#ff2f43,#fc253d,#f71f39,#f31a35,#f01532,#ee1230,#ed112f,#ed1230,#f01632,#f51c37,#fc263d,#ff404c,#ff6763,#ff9587,#ffc8bb,#f5f8ff,#d5e1ff,#a5bfff,#7fa0ff,#5a7eff,#4165ff,#304fff,#2839f6,#232bf1,#1f20ec,#1c16e8,#180be4,#1400df,#1500d5,#1600c9,#1700be,#1900b2,#1a00a7,#1b009d,#1c0094,#1c008e,#1c008a,#1c0087,#1c0085,#1c0083,#1c0082,#1c0080,#1c007f,#1c007f,#1c007e,#1c007e,#1c007e,#1c007e,#1c007e,#1c007e,#1c007e,#1c007e,#1c007e,#1c007e,#1c007f,#1c007f,#1c007f,#1c007f,#1c007f,#1c0080,#1c0080,#1c0080,#1c0080,#1c0081)"></i><i style="height:3px;background:linear-gradient(90deg,#b7cbff,#bfd1ff,#c7d7ff,#cfddff,#d7e3ff,#dfe9ff,#e6eeff,#e9f0ff,#ecf2ff,#eef4ff,#f0f5ff,#f2f6ff,#f4f7ff,#f5f8ff,#f6f9ff,#f6f9ff,#ffdbd3,#ffdad2,#ffd9d0,#ffd7ce,#ffd5cb,#ffd2c7,#ffcfc3,#ffc4b7,#ffb8ab,#ffab9e,#ff9f91,#ff9384,#ff887a,#ff8071,#ff7c6e,#ff7c6e,#ff8374,#ff9182,#ffa699,#ffc4b8,#ffd7ce,#ebf2ff,#bfd1ff,#98b5ff,#6e91ff,#496eff,#3758ff,#2a40f9,#232cf1,#2125ee,#2022ed,#1f1fec,#1d1aea,#1b13e7,#180ae4,#1400e0,#1500d6,#1600cb,#1700c0,#1800b6,#1900ac,#1a00a4,#1b009c,#1c0095,#1c0090,#1c008d,#1c008b,#1c008a,#1c0088,#1c0088,#1c0087,#1c0086,#1c0086,#1c0086,#1c0086,#1c0086,#1c0085,#1c0086,#1c0086,#1c0086,#1c0086,#1c0086,#1c0086,#1c0086,#1c0086,#1c0087,#1c0087,#1c0087,#1c0087,#1c0087,#1c0088)"></i><i style="height:3px;background:linear-gradient(90deg,#6487ff,#698cff,#6e91ff,#7396ff,#799bff,#7fa0ff,#85a6ff,#8bacff,#91b1ff,#97b5ff,#9db9ff,#a3bdff,#a9c2ff,#afc6ff,#b6caff,#bed0ff,#c8d8ff,#d1dfff,#dbe6ff,#e4edff,#e8f0ff,#ebf2ff,#eef3ff,#f0f5ff,#f1f6ff,#f2f6ff,#f2f6ff,#f1f6ff,#f0f5ff,#f0f5ff,#eff4ff,#eef3ff,#ecf2ff,#e9f0ff,#e2ebff,#d1deff,#b9cdff,#a5bfff,#8daeff,#6e91ff,#4d73ff,#3a5dff,#2c44fa,#232bf1,#2021ed,#1f20ec,#1f21ed,#2021ed,#1f21ed,#1f1fec,#1d1beb,#1c16e9,#1910e6,#1708e3,#1400e0,#1500d9,#1500d2,#1600cb,#1700c4,#1700bf,#1800b9,#1800b4,#1900b0,#1900ad,#1900a9,#1a00a7,#1a00a4,#1a00a2,#1a00a1,#1a009f,#1b009e,#1b009d,#1b009c,#1b009b,#1b009a,#1b0099,#1b0099,#1b0098,#1b0098,#1b0098,#1b0097,#1b0097,#1b0097,#1b0097,#1b0097,#1b0097,#1b0097)"></i><i style="height:3px;background:linear-gradient(90deg,#2f4efe,#3151ff,#3253ff,#3455ff,#3557ff,#3759ff,#395bff,#3b5eff,#3d60ff,#3f63ff,#4266ff,#4469ff,#476cff,#4a70ff,#4f74ff,#5479ff,#5a7eff,#6084ff,#668aff,#6d90ff,#7396ff,#7a9cff,#81a3ff,#88a9ff,#90b0ff,#96b4ff,#9bb8ff,#a0bbff,#a5bfff,#a8c1ff,#aac2ff,#aac2ff,#a8c1ff,#a4beff,#9db9ff,#94b3ff,#86a7ff,#7597ff,#6286ff,#4f74ff,#4368ff,#3b5eff,#3354ff,#2a3ef8,#2532f3,#252ff2,#2532f3,#2736f5,#293df8,#2c44fb,#2e4bfd,#3151ff,#3353ff,#3454ff,#3455ff,#3454ff,#3353ff,#3151ff,#2f4dfe,#2d47fb,#2a40f9,#2839f6,#2632f4,#232cf1,#2125ee,#1f1fec,#1d18e9,#1b13e7,#190de5,#1708e3,#1503e1,#1400df,#1400db,#1500d8,#1500d5,#1500d2,#1600d0,#1600cd,#1600cb,#1600c9,#1700c7,#1700c5,#1700c3,#1700c2,#1700c0,#1700bf,#1700be)"></i><i style="height:3px;background:linear-gradient(90deg,#1709e3,#170ae4,#180be4,#180ce5,#190ee5,#190fe6,#1a11e6,#1a12e7,#1b14e8,#1c16e9,#1d18e9,#1d1bea,#1e1deb,#1f20ec,#2023ee,#2126ef,#2229f0,#242df1,#2531f3,#2635f4,#2839f6,#2a3ef8,#2b43fa,#2d48fc,#2f4dfe,#3151ff,#3354ff,#3657ff,#385aff,#3a5dff,#3c5fff,#3e61ff,#4063ff,#4165ff,#4165ff,#4165ff,#4064ff,#3f63ff,#3d60ff,#3b5eff,#395bff,#3758ff,#3556ff,#3455ff,#3658ff,#4367ff,#4a70ff,#4e74ff,#557aff,#6084ff,#6e91ff,#7c9eff,#89aaff,#93b2ff,#9ab7ff,#9fbaff,#a1bcff,#a1bcff,#a0bbff,#9db9ff,#98b6ff,#93b2ff,#8cacff,#84a5ff,#7c9eff,#7496ff,#6c8fff,#6487ff,#5c80ff,#5479ff,#4c72ff,#476dff,#4468ff,#4064ff,#3c5fff,#395bff,#3657ff,#3354ff,#3050ff,#2e4afd,#2c44fa,#2a3ef8,#2838f6,#2633f4,#242ef2,#2229f0,#2125ee)"></i><i style="height:3px;background:linear-gradient(90deg,#1700c2,#1700c2,#1700c2,#1700c2,#1700c2,#1700c2,#1700c2,#1700c2,#1700c2,#1700c2,#1700c2,#1700c2,#1700c2,#1700c3,#1700c3,#1700c4,#1700c4,#1700c5,#1700c5,#1700c6,#1600c7,#1600c8,#1600ca,#1600cb,#1600cd,#1600cf,#1600d1,#1500d3,#1500d6,#1500d9,#1400dd,#1401e0,#1606e2,#180be4,#1a11e6,#1c17e9,#1e1deb,#2023ee,#232af0,#2531f3,#2839f6,#2b42fa,#3050ff,#3a5cff,#4a6fff,#7ea0ff,#a3bdff,#b9cdff,#d1dfff,#e4ecff,#eaf1ff,#eef4ff,#f1f5ff,#f2f7ff,#f3f7ff,#f3f7ff,#f3f7ff,#f3f7ff,#f2f6ff,#f2f6ff,#f2f6ff,#f2f6ff,#f3f7ff,#f2f7ff,#f1f6ff,#eff4ff,#ecf2ff,#e9f0ff,#e5edff,#dae5ff,#cfddff,#c4d5ff,#b8ccff,#b1c7ff,#a9c2ff,#a2bdff,#9bb7ff,#94b2ff,#8cacff,#84a5ff,#7c9eff,#7597ff,#6d90ff,#668aff,#6084ff,#597eff,#5378ff)"></i><i style="height:3px;background:linear-gradient(90deg,#1900ab,#1900ab,#1900aa,#1900a9,#1a00a9,#1a00a8,#1a00a8,#1a00a7,#1a00a7,#1a00a6,#1a00a6,#1a00a5,#1a00a5,#1a00a4,#1a00a4,#1a00a4,#1a00a3,#1a00a3,#1a00a3,#1a00a3,#1a00a3,#1a00a3,#1a00a3,#1a00a4,#1a00a5,#1a00a6,#1a00a7,#1a00a8,#1900ab,#1900ad,#1900b0,#1800b4,#1800b8,#1700be,#1700c4,#1600cb,#1500d2,#1400dc,#1707e3,#1c16e9,#232af0,#2a3ff8,#3758ff,#486eff,#7698ff,#b4c9ff,#edf3ff,#ffd4ca,#ffb7aa,#ff9789,#ff7d6f,#ff6963,#ff5a5b,#ff5055,#ff4c53,#ff4c53,#ff5056,#ff585a,#ff6360,#ff7068,#ff7f70,#ff8d7f,#ff9c8e,#ffaa9d,#ffb8ab,#ffc4b8,#ffcfc3,#ffd2c7,#ffd5cb,#ffd7ce,#ffd9d0,#ffdbd2,#ffdbd3,#f6f9ff,#f6f9ff,#f5f8ff,#f3f7ff,#f1f6ff,#eff4ff,#ecf2ff,#e9f0ff,#e6eeff,#dee8ff,#d4e1ff,#cbdaff,#c1d3ff,#b7ccff)"></i><i style="height:3px;background:linear-gradient(90deg,#1b009d,#1b009c,#1b009b,#1b009b,#1b009a,#1b0099,#1b0099,#1b0098,#1b0098,#1b0097,#1b0097,#1b0096,#1b0095,#1b0095,#1c0095,#1c0094,#1c0094,#1c0094,#1c0094,#1c0093,#1c0094,#1c0094,#1c0094,#1c0095,#1b0096,#1b0097,#1b0098,#1b009a,#1b009c,#1a009f,#1a00a3,#1a00a7,#1900ac,#1900b2,#1800ba,#1700c2,#1600cc,#1500d8,#1709e3,#1f1fec,#283af6,#3354ff,#4468ff,#698cff,#9fbbff,#e8efff,#ffd1c5,#ff9b8d,#ff6a64,#ff404c,#fb243c,#f21934,#eb0f2e,#e6092a,#e30427,#e10125,#e10124,#e10225,#e30427,#e60829,#e90c2c,#ed1230,#f21834,#f61e38,#fc253d,#ff3043,#ff414d,#ff5256,#ff6360,#ff7369,#ff8374,#ff9183,#ff9e91,#ffab9e,#ffb7aa,#ffc2b6,#ffccc0,#ffd1c6,#ffd3c9,#ffd6cc,#ffd8ce,#ffd9d0,#ffdad2,#ffdbd3,#ffdcd4,#f6f9ff,#f6f9ff)"></i><i style="height:3px;background:linear-gradient(90deg,#1c0094,#1c0093,#1c0093,#1c0092,#1c0092,#1c0091,#1c0091,#1c0090,#1c0090,#1c0090,#1c0090,#1c008f,#1c008f,#1c008f,#1c008f,#1c008f,#1c008f,#1c008f,#1c008f,#1c008f,#1c0090,#1c0090,#1c0091,#1c0092,#1c0094,#1b0095,#1b0098,#1b009a,#1b009d,#1a00a1,#1a00a6,#1900ab,#1900b1,#1800b9,#1700c2,#1600cc,#1500d9,#180ae4,#1f20ec,#283af6,#3354ff,#4267ff,#5e82ff,#89aaff,#bdd0ff,#f5f8ff,#ffb3a6,#ff7a6d,#ff4851,#fb243c,#ef1532,#e60829,#dc0024,#cf0024,#c50024,#be0024,#b90024,#b60024,#b60024,#b70024,#b90024,#bd0024,#c20024,#c80024,#cf0024,#d70024,#df0024,#e40527,#e80b2b,#ec112f,#f11733,#f51d37,#fa233b,#ff2940,#ff3748,#ff4650,#ff5558,#ff6360,#ff7168,#ff7e6f,#ff8a7c,#ff9688,#ffa294,#ffac9f,#ffb7aa,#ffc0b4,#ffc9bd)"></i><i style="height:3px;background:linear-gradient(90deg,#1c008f,#1c008f,#1c008f,#1c008f,#1c008f,#1c008f,#1c008f,#1c008e,#1c008e,#1c008e,#1c008e,#1c008e,#1c008e,#1c008e,#1c008f,#1c008f,#1c008f,#1c008f,#1c0090,#1c0091,#1c0092,#1c0093,#1c0095,#1b0096,#1b0099,#1b009b,#1b009e,#1a00a2,#1a00a6,#1900ab,#1900b1,#1800b7,#1700bf,#1600c8,#1500d2,#1400df,#1a11e7,#2125ee,#2839f6,#3252ff,#4165ff,#5b80ff,#7b9dff,#9fbbff,#dde7ff,#ffd8ce,#ffaa9d,#ff7369,#ff414d,#f9223b,#ef1431,#e50729,#d90024,#cb0024,#bf0024,#b60024,#ae0024,#a90024,#a50024,#a30024,#a20024,#a20024,#a40024,#a60024,#a90024,#ad0024,#b10024,#b60024,#bc0024,#c10024,#c80024,#ce0024,#d50024,#dd0024,#e20326,#e60829,#e90d2c,#ed1230,#f11733,#f51c37,#f9223a,#fd273e,#ff2f43,#ff3c4a,#ff4951,#ff5558,#ff615f)"></i><i style="height:3px;background:linear-gradient(90deg,#1c008e,#1c008e,#1c008e,#1c008e,#1c008e,#1c008e,#1c008e,#1c008e,#1c008e,#1c008e,#1c008f,#1c008f,#1c008f,#1c008f,#1c0090,#1c0090,#1c0091,#1c0093,#1c0094,#1b0095,#1b0097,#1b0099,#1b009c,#1b009e,#1a00a1,#1a00a5,#1a00a9,#1900ad,#1900b2,#1800b8,#1700bf,#1700c7,#1600d0,#1500da,#1606e2,#1d19ea,#232bf1,#293cf7,#3556ff,#4165ff,#4b71ff,#6e91ff,#91b1ff,#afc6ff,#eaf1ff,#ffd5cb,#ffa598,#ff756a,#ff4d54,#fd273e,#f21834,#e90d2c,#e10125,#d30024,#c60024,#bc0024,#b30024,#ac0024,#a60024,#a10024,#9e0024,#9d0023,#9b0023,#9b0023,#9b0023,#9c0023,#9d0024,#9f0024,#a10024,#a40024,#a80024,#ac0024,#b00024,#b40024,#b90024,#bf0024,#c40024,#ca0024,#cf0024,#d60024,#dc0024,#e10125,#e40628,#e70a2b,#eb0e2e,#ee1331,#f11734)"></i><i style="height:3px;background:linear-gradient(90deg,#1c008e,#1c008e,#1c008e,#1c008e,#1c008e,#1c008f,#1c008f,#1c008f,#1c008f,#1c0090,#1c0090,#1c0091,#1c0092,#1c0093,#1c0094,#1b0095,#1b0097,#1b0098,#1b009a,#1b009c,#1b009f,#1a00a2,#1a00a5,#1a00a8,#1900ac,#1900b0,#1800b5,#1800ba,#1700c0,#1600c7,#1600cf,#1500d8,#1503e1,#190ee6,#1f20ec,#2530f3,#2b41f9,#3658ff,#3c5fff,#4d73ff,#6387ff,#7b9dff,#a0bbff,#bccfff,#eff4ff,#ffd4ca,#ffa89b,#ff8273,#ff5357,#ff3446,#f82039,#ee1331,#e70a2a,#df0024,#d20024,#c70024,#bd0024,#b50024,#ad0024,#a70024,#a20024,#9f0024,#9c0023,#9a0023,#990023,#980023,#980023,#980023,#980023,#990023,#9a0023,#9c0023,#9d0024,#9f0024,#a20024,#a50024,#a90024,#ac0024,#b00024,#b50024,#b90024,#bd0024,#c20024,#c70024,#cc0024,#d10024,#d60024)"></i><i style="height:3px;background:linear-gradient(90deg,#1c008f,#1c008f,#1c008f,#1c008f,#1c008f,#1c0090,#1c0090,#1c0091,#1c0092,#1c0093,#1c0094,#1b0095,#1b0096,#1b0098,#1b0099,#1b009b,#1b009d,#1a009f,#1a00a2,#1a00a5,#1a00a8,#1900ab,#1900af,#1900b3,#1800b7,#1800bc,#1700c2,#1600c8,#1600cf,#1500d7,#1400df,#180be4,#1c16e9,#2126ef,#2735f5,#2d47fb,#3557ff,#3c5fff,#4a70ff,#567bff,#789aff,#88a8ff,#abc3ff,#c9d9ff,#f3f7ff,#ffd4ca,#ffb1a4,#ff8677,#ff6360,#ff424d,#fd273e,#f51c37,#ec112f,#e6082a,#de0024,#d40024,#c90024,#c00024,#b80024,#b10024,#ab0024,#a60024,#a10024,#9e0024,#9c0023,#9a0023,#980023,#970023,#960023,#960023,#960023,#960023,#970023,#980023,#990023,#9a0023,#9c0023,#9d0024,#9f0024,#a20024,#a50024,#a80024,#ab0024,#ae0024,#b20024,#b50024,#b90024)"></i><i style="height:3px;background:linear-gradient(90deg,#1c0090,#1c0090,#1c0091,#1c0091,#1c0092,#1c0093,#1c0094,#1b0095,#1b0096,#1b0098,#1b0099,#1b009a,#1b009c,#1b009e,#1a00a0,#1a00a2,#1a00a5,#1a00a7,#1900aa,#1900ae,#1900b1,#1800b5,#1800b9,#1700be,#1700c3,#1600c9,#1600cf,#1500d6,#1400dd,#1607e3,#1a11e7,#1e1deb,#232bf1,#2839f6,#2e4bfd,#3455ff,#3f62ff,#4469ff,#597eff,#6488ff,#85a6ff,#93b2ff,#b3c8ff,#d4e1ff,#f6f9ff,#ffd4ca,#ffb7aa,#ff8b7d,#ff7369,#ff4b52,#ff3747,#f9213a,#f31a35,#eb0f2e,#e60829,#df0024,#d50024,#cb0024,#c30024,#bb0024,#b50024,#ae0024,#a90024,#a50024,#a10024,#9e0024,#9b0023,#9a0023,#980023,#970023,#960023,#960022,#950022,#950022,#950022,#960022,#960023,#970023,#980023,#990023,#9b0023,#9c0023,#9e0024,#a00024,#a20024,#a50024,#a70024)"></i><i style="height:3px;background:linear-gradient(90deg,#1c0092,#1c0093,#1c0094,#1b0095,#1b0096,#1b0097,#1b0098,#1b009a,#1b009b,#1b009d,#1b009f,#1a00a1,#1a00a3,#1a00a5,#1a00a7,#1900aa,#1900ad,#1900b0,#1800b3,#1800b7,#1800bb,#1700bf,#1700c4,#1600c9,#1600cf,#1500d5,#1400dc,#1503e1,#190ee5,#1c16e9,#2124ee,#252ff2,#293cf7,#304fff,#3354ff,#3f63ff,#4266ff,#567bff,#5f83ff,#7699ff,#8cadff,#9db9ff,#bbceff,#dde7ff,#f6f9ff,#ffd5ca,#ffbaad,#ff9587,#ff776c,#ff5e5d,#ff3c4a,#ff2c41,#f61e38,#f21834,#ea0e2d,#e50729,#e00024,#d60024,#ce0024,#c50024,#bf0024,#b80024,#b20024,#ad0024,#a80024,#a40024,#a00024,#9e0024,#9c0023,#9a0023,#980023,#970023,#960023,#950022,#950022,#950022,#950022,#950022,#950022,#960022,#960023,#970023,#980023,#990023,#9a0023,#9c0023,#9d0024)"></i><i style="height:3px;background:linear-gradient(90deg,#1b0096,#1b0097,#1b0098,#1b0099,#1b009b,#1b009c,#1b009e,#1a009f,#1a00a1,#1a00a3,#1a00a5,#1a00a7,#1900aa,#1900ac,#1900af,#1900b2,#1800b5,#1800b9,#1800bc,#1700c0,#1700c5,#1600c9,#1600cf,#1500d4,#1500da,#1401e0,#1709e3,#1b14e8,#1d1bea,#2229f0,#2633f4,#2a3ff8,#3151ff,#3354ff,#3f62ff,#4267ff,#4b71ff,#6286ff,#668aff,#86a7ff,#92b1ff,#a6c0ff,#c4d5ff,#e4edff,#f6f9ff,#ffd5cb,#ffbcaf,#ffa092,#ff7b6e,#ff6b65,#ff4951,#ff3446,#fc273e,#f41b36,#f11633,#e90d2c,#e50729,#e10125,#d70024,#d00024,#c80024,#c10024,#bb0024,#b50024,#b00024,#ab0024,#a70024,#a40024,#a00024,#9e0024,#9c0023,#9a0023,#990023,#970023,#960023,#960022,#950022,#950022,#940022,#940022,#950022,#950022,#950022,#960022,#960023,#970023,#980023)"></i><i style="height:3px;background:linear-gradient(90deg,#1b009a,#1b009b,#1b009d,#1b009e,#1a00a0,#1a00a1,#1a00a3,#1a00a5,#1a00a7,#1900a9,#1900ac,#1900ae,#1900b1,#1800b4,#1800b7,#1800ba,#1700be,#1700c1,#1700c5,#1600ca,#1600cf,#1500d4,#1500d9,#1400e0,#1606e2,#190fe6,#1c18e9,#1f1fec,#242ef2,#2736f5,#2b41f9,#3253ff,#3354ff,#3d60ff,#4469ff,#466bff,#5e82ff,#6589ff,#7396ff,#90b0ff,#97b5ff,#aec5ff,#cbdaff,#e8efff,#f6f9ff,#ffd5cb,#ffbdb0,#ffa799,#ff8374,#ff6e66,#ff5b5c,#ff3949,#ff2f43,#f9223b,#f31935,#f01532,#e90c2c,#e50628,#e10225,#d80024,#d20024,#ca0024,#c30024,#be0024,#b80024,#b30024,#af0024,#aa0024,#a70024,#a30024,#a00024,#9e0024,#9c0023,#9b0023,#990023,#980023,#970023,#960023,#950022,#950022,#950022,#940022,#940022,#940022,#950022,#950022,#950022)"></i><i style="height:3px;background:linear-gradient(90deg,#1b009f,#1a00a0,#1a00a2,#1a00a3,#1a00a5,#1a00a7,#1a00a9,#1900ab,#1900ad,#1900b0,#1900b2,#1800b5,#1800b8,#1800bb,#1700bf,#1700c2,#1700c6,#1600ca,#1600cf,#1500d3,#1500d8,#1400de,#1504e2,#180be4,#1b15e8,#1e1ceb,#2024ee,#2632f3,#2838f6,#2b43fa,#3353ff,#3455ff,#3b5dff,#456aff,#456aff,#5379ff,#688cff,#698cff,#82a3ff,#96b4ff,#9cb9ff,#b5caff,#d2dfff,#eaf1ff,#f6f9ff,#ffd6cc,#ffbfb2,#ffaa9d,#ff8e7f,#ff7067,#ff6662,#ff4951,#ff3144,#ff2a40,#f71f39,#f21834,#ef1432,#e80b2c,#e50628,#e20225,#d90024,#d30024,#cd0024,#c60024,#c00024,#bb0024,#b60024,#b20024,#ae0024,#aa0024,#a60024,#a30024,#a00024,#9e0024,#9c0023,#9b0023,#9a0023,#980023,#970023,#960023,#960022,#950022,#950022,#940022,#940022,#940022,#940022)"></i><i style="height:3px;background:linear-gradient(90deg,#1a00a4,#1a00a5,#1a00a7,#1a00a9,#1900ab,#1900ad,#1900af,#1900b1,#1800b4,#1800b7,#1800b9,#1800bc,#1700c0,#1700c3,#1700c7,#1600ca,#1600cf,#1500d3,#1500d7,#1400dd,#1503e1,#1708e3,#1a10e6,#1d19ea,#1f1fec,#2228ef,#2736f5,#283af7,#2c44fa,#3354ff,#3556ff,#395bff,#4469ff,#466cff,#4a70ff,#6488ff,#6b8eff,#7194ff,#8fafff,#99b7ff,#a2bdff,#bdd0ff,#d8e4ff,#ecf2ff,#f6f9ff,#ffd6cc,#ffc1b4,#ffac9e,#ff9789,#ff756b,#ff6863,#ff5a5b,#ff3948,#ff2d42,#fd273e,#f51c37,#f11733,#ee1331,#e80b2b,#e40628,#e20326,#da0024,#d40024,#cf0024,#c80024,#c20024,#be0024,#b90024,#b40024,#b00024,#ac0024,#a90024,#a60024,#a30024,#a00024,#9e0024,#9d0024,#9b0023,#9a0023,#990023,#980023,#970023,#960023,#950022,#950022,#950022,#940022)"></i><i style="height:3px;background:linear-gradient(90deg,#1a00a9,#1900aa,#1900ac,#1900ae,#1900b1,#1900b3,#1800b5,#1800b8,#1800bb,#1700bd,#1700c0,#1700c4,#1600c7,#1600cb,#1600cf,#1500d3,#1500d7,#1400db,#1401e0,#1607e3,#180ce5,#1b15e8,#1e1deb,#2021ed,#232cf1,#2839f6,#293cf7,#2c46fb,#3455ff,#3657ff,#385aff,#4367ff,#486eff,#486dff,#5a7fff,#6d90ff,#6c8fff,#7d9fff,#97b5ff,#9cb8ff,#a8c1ff,#c5d6ff,#dde8ff,#eef3ff,#f6f9ff,#ffd6cc,#ffc3b7,#ffac9f,#ff9e90,#ff7f70,#ff6863,#ff6360,#ff4a52,#ff2f43,#ff2b41,#fb243c,#f31935,#f01633,#ee1330,#e80a2b,#e40528,#e20326,#dc0024,#d40024,#d00024,#ca0024,#c40024,#c00024,#bb0024,#b70024,#b30024,#af0024,#ac0024,#a80024,#a60024,#a30024,#a00024,#9f0024,#9d0024,#9c0023,#9a0023,#990023,#980023,#970023,#960023,#960022,#950022)"></i><i style="height:3px;background:linear-gradient(90deg,#1900ae,#1900b0,#1900b2,#1800b4,#1800b6,#1800b9,#1800bc,#1700be,#1700c1,#1700c4,#1600c8,#1600cb,#1600ce,#1500d3,#1500d6,#1500da,#1400df,#1605e2,#180ae4,#1a10e6,#1d1aea,#1f20ec,#2124ee,#2530f3,#293bf7,#2a3ef8,#2d47fb,#3455ff,#3758ff,#3759ff,#4165ff,#496fff,#486dff,#5176ff,#698dff,#6f92ff,#7194ff,#8aaaff,#9cb8ff,#9fbaff,#aec5ff,#ccdbff,#e2ebff,#eff4ff,#f6f9ff,#ffd6cd,#ffc6ba,#ffada0,#ffa294,#ff897b,#ff6b65,#ff6461,#ff595b,#ff3a49,#ff2a40,#fe293f,#f8213a,#f11834,#f01532,#ed1230,#e70a2a,#e40527,#e20326,#dd0024,#d50024,#d10024,#cc0024,#c60024,#c10024,#bd0024,#b90024,#b50024,#b10024,#ae0024,#ab0024,#a80024,#a50024,#a30024,#a00024,#9f0024,#9d0024,#9c0023,#9b0023,#990023,#980023,#980023,#970023)"></i><i style="height:3px;background:linear-gradient(90deg,#1800b3,#1800b5,#1800b8,#1800ba,#1800bc,#1700bf,#1700c2,#1700c5,#1600c8,#1600cb,#1600ce,#1500d2,#1500d6,#1500da,#1400de,#1504e1,#1709e3,#190de5,#1b15e8,#1e1deb,#2022ed,#2227ef,#2633f4,#293df8,#2a3ff8,#2d48fc,#3456ff,#385aff,#3759ff,#3f62ff,#496eff,#496fff,#4a70ff,#6084ff,#7194ff,#6f92ff,#799bff,#94b3ff,#9fbaff,#a2bdff,#b3c9ff,#d2dfff,#e6eeff,#f1f5ff,#f6f9ff,#ffd6cd,#ffc9bd,#ffaea1,#ffa396,#ff9284,#ff7369,#ff6360,#ff605f,#ff4b53,#ff2f43,#ff2940,#fd283e,#f61e38,#f01633,#f01532,#ed112f,#e7092a,#e40527,#e20326,#de0024,#d60024,#d20024,#ce0024,#c80024,#c30024,#bf0024,#bb0024,#b70024,#b30024,#b00024,#ad0024,#aa0024,#a70024,#a50024,#a30024,#a00024,#9f0024,#9d0024,#9c0023,#9b0023,#9a0023,#990023)"></i><i style="height:3px;background:linear-gradient(90deg,#1800b9,#1800bb,#1700bd,#1700c0,#1700c2,#1700c5,#1600c8,#1600cb,#1600ce,#1500d2,#1500d6,#1500d9,#1400dd,#1502e1,#1708e3,#180ce5,#1a11e7,#1d19ea,#1f20ed,#2124ee,#232af0,#2736f5,#2a3ff8,#2b40f9,#2d49fc,#3556ff,#385aff,#3859ff,#3d60ff,#476dff,#4c71ff,#496fff,#567bff,#6e91ff,#7396ff,#7294ff,#84a5ff,#9bb8ff,#a1bcff,#a5bfff,#b9cdff,#d7e3ff,#e8efff,#f2f6ff,#f6f9ff,#ffd7cd,#ffccc0,#ffb0a3,#ffa496,#ff998b,#ff7d6f,#ff6461,#ff615f,#ff595a,#ff3c4a,#fe293f,#fe293f,#fc253d,#f41b36,#f01532,#ef1532,#ec112f,#e7092a,#e30527,#e20326,#df0024,#d70024,#d20024,#cf0024,#ca0024,#c40024,#c10024,#bd0024,#b90024,#b50024,#b20024,#af0024,#ac0024,#aa0024,#a70024,#a50024,#a30024,#a00024,#9f0024,#9e0024,#9c0023,#9b0023)"></i><i style="height:3px;background:linear-gradient(90deg,#1700be,#1700c1,#1700c3,#1700c6,#1600c9,#1600cb,#1600ce,#1500d2,#1500d5,#1500d9,#1400dc,#1400e0,#1606e2,#180be4,#190fe6,#1b15e8,#1e1deb,#2023ed,#2126ef,#242df1,#2839f6,#2b41f9,#2b41f9,#2e4afd,#3556ff,#395bff,#385aff,#3b5eff,#456aff,#4d73ff,#4a70ff,#4f74ff,#6589ff,#7597ff,#7295ff,#7799ff,#8fafff,#a0bbff,#a2bdff,#a9c2ff,#c0d2ff,#dce6ff,#e9f0ff,#f4f7ff,#f6f9ff,#ffd7cd,#ffcec2,#ffb3a5,#ffa496,#ff9c8f,#ff8779,#ff6a64,#ff5f5e,#ff5f5e,#ff4c53,#ff3043,#fe283f,#fe293f,#fa233b,#f21935,#ef1432,#ef1432,#ec102f,#e6092a,#e30427,#e20326,#e00024,#d80024,#d30024,#d00024,#cc0024,#c60024,#c20024,#bf0024,#bb0024,#b80024,#b40024,#b10024,#af0024,#ac0024,#a90024,#a70024,#a50024,#a20024,#a10024,#9f0024,#9e0024)"></i><i style="height:3px;background:linear-gradient(90deg,#1700c4,#1700c6,#1600c9,#1600cc,#1600ce,#1500d2,#1500d5,#1500d8,#1400db,#1400df,#1504e2,#1709e4,#190de5,#1a11e7,#1d19ea,#1f20ec,#2124ee,#2228ef,#2530f3,#293cf7,#2b42fa,#2b43fa,#2e4bfd,#3556ff,#395cff,#395bff,#3a5dff,#4368ff,#4d72ff,#4d72ff,#4b71ff,#5b80ff,#7193ff,#7698ff,#7396ff,#80a1ff,#97b5ff,#a3bdff,#a4beff,#aec5ff,#c7d7ff,#e0e9ff,#eaf1ff,#f6f9ff,#f6f9ff,#ffd7cd,#ffcfc4,#ffb6a9,#ffa496,#ff9e90,#ff8f81,#ff7369,#ff5f5e,#ff5f5e,#ff585a,#ff3e4c,#fe293f,#fe283f,#fd283e,#f82039,#f11733,#ef1431,#ef1431,#eb0f2e,#e6082a,#e30427,#e20326,#e00024,#d90024,#d30024,#d00024,#cd0024,#c80024,#c30024,#c00024,#bd0024,#ba0024,#b60024,#b30024,#b00024,#ae0024,#ab0024,#a90024,#a60024,#a40024,#a20024,#a10024)"></i><i style="height:3px;background:linear-gradient(90deg,#1600c9,#1600cc,#1600ce,#1500d1,#1500d5,#1500d8,#1500db,#1400de,#1502e1,#1708e3,#180ce5,#1910e6,#1b15e8,#1e1ceb,#2023ed,#2126ef,#232af0,#2633f4,#2a3ef8,#2b43fa,#2c44fa,#2e4bfd,#3556ff,#3a5cff,#395cff,#3a5cff,#4165ff,#4b71ff,#4f74ff,#4b71ff,#5479ff,#698cff,#7799ff,#7598ff,#7799ff,#8aaaff,#9ebaff,#a4beff,#a6c0ff,#b2c8ff,#ccdbff,#e3ecff,#ebf2ff,#f6f9ff,#f6f9ff,#ffd7cd,#ffd0c4,#ffb9ac,#ffa597,#ff9e90,#ff9586,#ff7d6f,#ff6360,#ff5d5d,#ff5d5d,#ff4d54,#ff3245,#fd283e,#fe283f,#fc263d,#f61e38,#f01633,#ef1431,#ee1331,#eb0f2e,#e60829,#e30427,#e20326,#e10125,#da0024,#d40024,#d10024,#ce0024,#ca0024,#c50024,#c10024,#be0024,#bb0024,#b80024,#b50024,#b20024,#b00024,#ad0024,#ab0024,#a80024,#a60024,#a40024)"></i><i style="height:3px;background:linear-gradient(90deg,#1600ce,#1500d1,#1500d4,#1500d7,#1500da,#1400dd,#1401e0,#1606e2,#180be4,#190ee6,#1a12e7,#1c18e9,#1f1fec,#2125ee,#2227ef,#232cf1,#2736f5,#2a40f9,#2c44fa,#2c45fb,#2f4cfe,#3556ff,#3a5cff,#3a5cff,#3a5cff,#4063ff,#496eff,#5075ff,#4d73ff,#4f75ff,#6084ff,#7395ff,#789aff,#7598ff,#7e9fff,#93b2ff,#a2bdff,#a6bfff,#a9c1ff,#b6cbff,#d2dfff,#e6eeff,#ecf2ff,#f6f9ff,#f6f9ff,#ffd7cd,#ffd1c5,#ffbcaf,#ffa799,#ff9e90,#ff988a,#ff8577,#ff6b64,#ff5c5c,#ff5d5d,#ff5759,#ff414d,#ff2a40,#fd273e,#fd283e,#fb243c,#f41b36,#ef1532,#ee1431,#ee1331,#eb0e2e,#e60829,#e30427,#e20326,#e10125,#db0024,#d50024,#d10024,#cf0024,#cb0024,#c70024,#c20024,#c00024,#bd0024,#ba0024,#b70024,#b40024,#b10024,#af0024,#ac0024,#aa0024,#a80024)"></i><i style="height:3px;background:linear-gradient(90deg,#1500d4,#1500d7,#1500da,#1400dd,#1400e0,#1504e2,#1709e4,#190de5,#1a10e6,#1b15e8,#1e1beb,#2022ed,#2126ef,#2229f0,#242ef2,#2838f6,#2b41f9,#2c45fb,#2c46fb,#2f4dfe,#3556ff,#3a5cff,#3b5dff,#3a5cff,#3e61ff,#476cff,#5075ff,#4f75ff,#4e73ff,#587dff,#6c8fff,#789bff,#789aff,#789aff,#86a7ff,#9ab7ff,#a5bfff,#a7c0ff,#acc3ff,#bccfff,#d6e2ff,#e7efff,#eef3ff,#f6f9ff,#f6f9ff,#ffd7cd,#ffd1c6,#ffbfb2,#ffa99b,#ff9e90,#ff9a8c,#ff8c7e,#ff7369,#ff5f5e,#ff5b5b,#ff5b5c,#ff4e54,#ff3546,#fd283e,#fd273e,#fd273e,#f9223b,#f31935,#ef1431,#ee1331,#ee1330,#ea0e2d,#e60829,#e30427,#e20326,#e10125,#dc0024,#d60024,#d20024,#cf0024,#cd0024,#c80024,#c40024,#c10024,#be0024,#bb0024,#b80024,#b50024,#b30024,#b00024,#ae0024,#ac0024)"></i><i style="height:3px;background:linear-gradient(90deg,#1500d9,#1400dc,#1400df,#1503e1,#1708e3,#180ce5,#190fe6,#1b13e7,#1c18e9,#1f1eec,#2124ee,#2228ef,#232af0,#2530f3,#283af7,#2b43fa,#2c46fb,#2d47fb,#2f4efe,#3556ff,#3a5cff,#3b5eff,#3a5dff,#3d60ff,#456aff,#4e74ff,#5177ff,#4e74ff,#5378ff,#6487ff,#7597ff,#7a9cff,#789aff,#7c9eff,#8eaeff,#9fbbff,#a7c0ff,#a8c1ff,#afc6ff,#c1d3ff,#dae5ff,#e8efff,#eff4ff,#f6f9ff,#f6f9ff,#ffd7cd,#ffd1c6,#ffc1b5,#ffab9e,#ff9e91,#ff9a8c,#ff9183,#ff7c6e,#ff6461,#ff5a5b,#ff5b5c,#ff5659,#ff424e,#ff2c41,#fc263e,#fd273e,#fc263d,#f72039,#f11834,#ee1331,#ee1331,#ed1230,#ea0e2d,#e60829,#e30427,#e20326,#e10125,#dd0024,#d70024,#d20024,#d00024,#cd0024,#ca0024,#c50024,#c20024,#bf0024,#bd0024,#ba0024,#b70024,#b40024,#b20024,#b00024)"></i><i style="height:3px;background:linear-gradient(90deg,#1400de,#1502e1,#1606e2,#180ae4,#190ee5,#1a11e7,#1b15e8,#1d1bea,#2021ed,#2126ef,#2229f0,#232cf1,#2633f4,#293cf7,#2c44fa,#2d46fb,#2d47fc,#2f4efe,#3556ff,#3a5cff,#3c5eff,#3b5dff,#3d5fff,#4368ff,#4c72ff,#5277ff,#5075ff,#5076ff,#5c81ff,#6e91ff,#7a9cff,#7a9cff,#799bff,#83a4ff,#95b4ff,#a3bdff,#a8c1ff,#aac2ff,#b2c8ff,#c7d7ff,#dee8ff,#e9f0ff,#f0f5ff,#f6f9ff,#f6f9ff,#ffd7cd,#ffd2c6,#ffc4b7,#ffaea1,#ff9f91,#ff9a8c,#ff9586,#ff8475,#ff6c65,#ff5b5c,#ff595b,#ff5a5b,#ff4e54,#ff3848,#fe283f,#fc263d,#fd273e,#fb253c,#f61d38,#f01633,#ee1331,#ee1331,#ed1230,#ea0d2d,#e60729,#e30427,#e20326,#e10225,#de0024,#d80024,#d30024,#d00024,#ce0024,#cb0024,#c70024,#c30024,#c00024,#be0024,#bc0024,#b90024,#b60024,#b30024)"></i><i style="height:3px;background:linear-gradient(90deg,#1604e2,#1709e3,#190de5,#1a10e6,#1b13e7,#1c18e9,#1e1eeb,#2024ee,#2228ef,#232af0,#242df2,#2635f4,#2a3ef8,#2c45fb,#2d47fc,#2d48fc,#304ffe,#3556ff,#3a5cff,#3c5fff,#3b5eff,#3c5fff,#4266ff,#4a6fff,#5277ff,#5277ff,#5075ff,#567bff,#678aff,#7799ff,#7c9dff,#799bff,#7c9eff,#8aabff,#9bb8ff,#a6c0ff,#a9c2ff,#acc3ff,#b5caff,#ccdaff,#e1eaff,#eaf1ff,#f0f5ff,#f6f9ff,#f6f9ff,#ffd7cd,#ffd2c7,#ffc6ba,#ffb1a4,#ffa193,#ff9a8c,#ff9688,#ff8a7c,#ff746a,#ff5f5e,#ff585a,#ff5a5b,#ff5558,#ff444f,#ff2e42,#fc263e,#fc263d,#fc273e,#fa233b,#f41b36,#f01532,#ee1331,#ee1331,#ed1130,#e90d2d,#e50729,#e30427,#e20326,#e10225,#df0024,#d90024,#d40024,#d10024,#cf0024,#cc0024,#c80024,#c40024,#c10024,#bf0024,#bd0024,#ba0024,#b70024)"></i><i style="height:3px;background:linear-gradient(90deg,#180ce4,#190fe6,#1a12e7,#1b15e8,#1d1aea,#1f20ec,#2126ef,#2229f0,#232bf1,#252ff2,#2737f5,#2a40f9,#2d46fb,#2d48fc,#2e49fc,#304fff,#3556ff,#3a5cff,#3c5fff,#3c5eff,#3c5fff,#4064ff,#486dff,#5176ff,#5378ff,#5076ff,#5378ff,#6084ff,#7193ff,#7b9dff,#7c9dff,#7a9cff,#81a2ff,#91b1ff,#a0bbff,#a8c1ff,#aac2ff,#aec5ff,#b9cdff,#d0deff,#e4edff,#ebf1ff,#f1f6ff,#f6f9ff,#f6f9ff,#ffd7cd,#ffd2c7,#ffc8bc,#ffb3a6,#ffa295,#ff9a8c,#ff9789,#ff8f80,#ff7c6e,#ff6662,#ff595a,#ff585a,#ff585a,#ff4e54,#ff3a49,#fe293f,#fc263d,#fc263e,#fc263d,#f8213a,#f31a35,#ef1431,#ee1330,#ee1330,#ed112f,#e90d2c,#e50729,#e30426,#e20326,#e10225,#df0024,#da0024,#d40024,#d10024,#cf0024,#cd0024,#ca0024,#c60024,#c20024,#c00024,#be0024,#bc0024)"></i><i style="height:3px;background:linear-gradient(90deg,#1a11e7,#1b14e8,#1c17e9,#1e1deb,#2023ed,#2227ef,#232af0,#232cf1,#2531f3,#2839f6,#2b42f9,#2d47fc,#2d48fc,#2e4afd,#3050ff,#3556ff,#3a5cff,#3c5fff,#3c5fff,#3c5fff,#3f63ff,#466bff,#4f75ff,#5479ff,#5277ff,#5177ff,#5a7eff,#6a8dff,#789aff,#7d9fff,#7b9dff,#7c9eff,#87a8ff,#97b5ff,#a4beff,#aac2ff,#abc3ff,#b0c7ff,#bed0ff,#d4e1ff,#e6eeff,#ecf2ff,#f2f6ff,#f6f9ff,#f6f9ff,#ffd7cd,#ffd2c7,#ffcabd,#ffb6a9,#ffa497,#ff9a8c,#ff9789,#ff9284,#ff8374,#ff6d66,#ff5c5c,#ff5759,#ff585a,#ff5558,#ff454f,#ff3144,#fd273e,#fc253d,#fc263e,#fb253d,#f71f39,#f21834,#ee1331,#ee1230,#ee1330,#ec112f,#e90c2c,#e50729,#e30426,#e20226,#e10225,#e00024,#db0024,#d50024,#d20024,#cf0024,#ce0024,#cb0024,#c70024,#c40024,#c10024,#bf0024)"></i><i style="height:3px;background:linear-gradient(90deg,#1c15e8,#1d1aea,#1f1fec,#2125ee,#2229f0,#232bf1,#242df2,#2633f4,#293bf7,#2b43fa,#2d48fc,#2e49fc,#2e4afd,#3050ff,#3556ff,#3a5cff,#3c5fff,#3c5fff,#3c5fff,#3e62ff,#4569ff,#4d73ff,#5479ff,#5379ff,#5177ff,#567bff,#6387ff,#7395ff,#7c9eff,#7d9fff,#7b9dff,#80a1ff,#8eaeff,#9db9ff,#a7c0ff,#abc3ff,#adc4ff,#b3c8ff,#c2d4ff,#d8e4ff,#e7efff,#ecf2ff,#f3f7ff,#f6f9ff,#f6f9ff,#ffd7cd,#ffd2c7,#ffcbbf,#ffb9ac,#ffa799,#ff9b8d,#ff9789,#ff9485,#ff887a,#ff756a,#ff615f,#ff5759,#ff5759,#ff575a,#ff4e55,#ff3c4a,#ff2a40,#fc263d,#fc263d,#fc263d,#fa233c,#f61d38,#f11733,#ee1331,#ed1230,#ee1230,#ec102f,#e90c2c,#e50729,#e30426,#e20226,#e10225,#e00024,#db0024,#d60024,#d20024,#d00024,#ce0024,#cc0024,#c80024,#c50024,#c20024)"></i><i style="height:3px;background:linear-gradient(90deg,#1e1ceb,#2022ed,#2227ef,#232af0,#232cf1,#242ff2,#2635f4,#293df7,#2c44fa,#2d49fc,#2e4afc,#2e4bfd,#3050ff,#3556ff,#3a5cff,#3c5fff,#3d60ff,#3c5fff,#3e61ff,#4368ff,#4a70ff,#5378ff,#557aff,#5278ff,#5379ff,#5d81ff,#6c8fff,#799bff,#7ea0ff,#7d9eff,#7d9eff,#85a6ff,#94b3ff,#a1bcff,#a9c2ff,#acc3ff,#aec5ff,#b5caff,#c7d7ff,#dbe6ff,#e8efff,#edf3ff,#f4f8ff,#f6f9ff,#f6f9ff,#ffd7cd,#ffd2c8,#ffcdc1,#ffbbae,#ffa99c,#ff9c8e,#ff9789,#ff9586,#ff8d7e,#ff7c6e,#ff6763,#ff595a,#ff5559,#ff575a,#ff5458,#ff4650,#ff3345,#fd273e,#fb253d,#fc263d,#fc263d,#f9223b,#f41c36,#f01632,#ee1330,#ed1230,#ed1230,#ec102f,#e90c2c,#e50729,#e30426,#e20226,#e10225,#e00024,#dc0024,#d70024,#d30024,#d00024,#ce0024,#cd0024,#ca0024,#c60024)"></i><i style="height:3px;background:linear-gradient(90deg,#2124ee,#2228f0,#232bf1,#242df1,#2530f3,#2736f5,#2a3ef8,#2c45fb,#2e49fc,#2e4afd,#2e4bfd,#3051ff,#3556ff,#395cff,#3d5fff,#3d60ff,#3c5fff,#3e61ff,#4266ff,#496eff,#5277ff,#557aff,#5479ff,#5378ff,#587dff,#6589ff,#7497ff,#7d9fff,#7ea0ff,#7c9eff,#7fa1ff,#8babff,#99b6ff,#a5bfff,#abc3ff,#adc4ff,#b0c6ff,#b8ccff,#cbdaff,#dee8ff,#e9f0ff,#eef3ff,#f5f9ff,#f6f9ff,#f6f9ff,#ffd7cd,#ffd3c8,#ffcec2,#ffbdb1,#ffab9e,#ff9e90,#ff9789,#ff9587,#ff9081,#ff8273,#ff6e67,#ff5d5d,#ff5558,#ff5659,#ff5659,#ff4f55,#ff3e4b,#ff2b41,#fc263d,#fb253d,#fc263d,#fb253d,#f8203a,#f31a35,#ef1532,#ed1230,#ed1230,#ed1230,#ec102e,#e80b2c,#e50728,#e30426,#e20226,#e10225,#e00024,#dd0024,#d80024,#d30024,#d10024,#cf0024,#cd0024,#cb0024)"></i><i style="height:3px;background:linear-gradient(90deg,#2329f0,#232cf1,#242ef2,#2532f3,#2838f6,#2a40f9,#2d46fb,#2e4afd,#2e4bfd,#2f4cfd,#3151ff,#3556ff,#395cff,#3d5fff,#3d60ff,#3d60ff,#3d60ff,#4165ff,#476cff,#5075ff,#557aff,#557aff,#5378ff,#557bff,#6084ff,#6e91ff,#7a9cff,#7fa0ff,#7e9fff,#7d9fff,#83a4ff,#91b0ff,#9ebaff,#a8c1ff,#acc4ff,#aec5ff,#b1c7ff,#bccfff,#cfddff,#e1ebff,#eaf0ff,#eff4ff,#f6f9ff,#f6f9ff,#f6f9ff,#ffd7cd,#ffd3c8,#ffcfc3,#ffbfb3,#ffaea1,#ff9f91,#ff9789,#ff9587,#ff9183,#ff8778,#ff756a,#ff6260,#ff5759,#ff5558,#ff5659,#ff5457,#ff4751,#ff3546,#fe283f,#fb253d,#fb253d,#fc263d,#fa243c,#f71f39,#f21934,#ef1431,#ed1230,#ed1230,#ed1230,#eb0f2e,#e80b2b,#e50728,#e30426,#e20225,#e10225,#e00124,#dd0024,#d90024,#d40024,#d10024,#cf0024,#ce0024)"></i><i style="height:3px;background:linear-gradient(90deg,#242df1,#242ff2,#2633f4,#283af6,#2b41f9,#2d47fc,#2e4afd,#2e4bfd,#2f4cfe,#3151ff,#3556ff,#395bff,#3d5fff,#3d61ff,#3d60ff,#3d60ff,#4064ff,#466bff,#4d73ff,#557aff,#567bff,#5479ff,#5479ff,#5b80ff,#688bff,#7698ff,#7ea0ff,#7fa1ff,#7e9fff,#7fa1ff,#88a9ff,#96b4ff,#a2bdff,#aac2ff,#adc4ff,#afc5ff,#b3c9ff,#c0d2ff,#d2e0ff,#e4edff,#eaf1ff,#eff4ff,#f6f9ff,#f6f9ff,#f6f9ff,#ffd7cd,#ffd3c8,#ffcfc3,#ffc1b5,#ffb0a3,#ffa193,#ff988a,#ff9587,#ff9384,#ff8b7c,#ff7c6e,#ff6963,#ff5a5b,#ff5458,#ff5558,#ff5659,#ff4f55,#ff3f4c,#ff2d42,#fc263d,#fb253c,#fc253d,#fc253d,#fa233b,#f61d38,#f11734,#ee1331,#ed1230,#ed1230,#ed1230,#eb0f2e,#e80b2b,#e50728,#e30426,#e20225,#e10225,#e10124,#de0024,#d90024,#d50024,#d10024,#cf0024)"></i><i style="height:3px;background:linear-gradient(90deg,#2530f3,#2634f4,#293bf7,#2b43fa,#2d48fc,#2e4bfd,#2e4bfd,#2f4dfe,#3151ff,#3556ff,#395bff,#3c5fff,#3e61ff,#3d60ff,#3d60ff,#3f63ff,#4469ff,#4b71ff,#5479ff,#577bff,#557aff,#5479ff,#587dff,#6286ff,#7093ff,#7b9dff,#80a1ff,#7fa0ff,#7ea0ff,#82a4ff,#8eaeff,#9bb7ff,#a5bfff,#acc3ff,#aec5ff,#b0c6ff,#b5caff,#c3d4ff,#d6e2ff,#e6eeff,#ebf1ff,#f0f5ff,#f6f9ff,#f6f9ff,#f6f9ff,#ffd7cd,#ffd3c8,#ffd0c4,#ffc3b7,#ffb3a6,#ffa396,#ff998b,#ff9587,#ff9385,#ff8e7f,#ff8173,#ff6f67,#ff5e5e,#ff5558,#ff5458,#ff5659,#ff5357,#ff4851,#ff3747,#fe293f,#fb253d,#fb253c,#fc253d,#fb253d,#f9213a,#f41c36,#f01633,#ee1330,#ed1230,#ed1230,#ed1130,#eb0f2e,#e80b2b,#e50628,#e30426,#e20225,#e10225,#e10125,#de0024,#da0024,#d60024,#d20024)"></i><i style="height:3px;background:linear-gradient(90deg,#2736f5,#293df8,#2c44fa,#2e49fc,#2e4bfd,#2f4cfd,#2f4dfe,#3151ff,#3556ff,#395bff,#3c5fff,#3e61ff,#3e61ff,#3d60ff,#3f62ff,#4368ff,#496fff,#5277ff,#577bff,#567bff,#5479ff,#567bff,#5d82ff,#6a8dff,#7799ff,#7fa0ff,#80a2ff,#7fa0ff,#7fa1ff,#86a7ff,#93b2ff,#9fbaff,#a8c1ff,#adc4ff,#aec5ff,#b1c7ff,#b8ccff,#c7d7ff,#d9e4ff,#e7efff,#ecf2ff,#f1f5ff,#f6f9ff,#f6f9ff,#f6f9ff,#ffd7cd,#ffd3c8,#ffd0c4,#ffc5b8,#ffb5a8,#ffa598,#ff9a8c,#ff9587,#ff9385,#ff9081,#ff8677,#ff766b,#ff6461,#ff575a,#ff5357,#ff5458,#ff5558,#ff4f55,#ff414d,#ff3043,#fd273e,#fb243c,#fb253c,#fc253d,#fb243c,#f82039,#f31a36,#f01532,#ed1230,#ed1230,#ed1230,#ed112f,#eb0e2e,#e80a2b,#e50628,#e30426,#e20225,#e10225,#e10125,#df0024,#db0024,#d60024)"></i><i style="height:3px;background:linear-gradient(90deg,#2a3ef8,#2c45fb,#2e4afd,#2e4cfd,#2f4cfe,#2f4efe,#3151ff,#3556ff,#395bff,#3c5fff,#3e61ff,#3e61ff,#3d60ff,#3f62ff,#4266ff,#486dff,#5076ff,#567bff,#577cff,#557aff,#557aff,#5a7fff,#6588ff,#7294ff,#7c9eff,#81a2ff,#80a1ff,#7fa0ff,#82a3ff,#8bacff,#97b5ff,#a3bdff,#aac2ff,#aec5ff,#afc6ff,#b3c8ff,#bbceff,#cbdaff,#dce7ff,#e8efff,#ecf2ff,#f1f6ff,#f6f9ff,#f6f9ff,#f6f9ff,#ffd7cd,#ffd3c8,#ffd0c4,#ffc6ba,#ffb7aa,#ffa89a,#ff9c8e,#ff9587,#ff9385,#ff9183,#ff8a7b,#ff7c6e,#ff6a64,#ff5b5c,#ff5357,#ff5357,#ff5558,#ff5357,#ff4951,#ff3948,#ff2a40,#fc253d,#fb243c,#fb253d,#fb253d,#fa233b,#f71f38,#f21935,#ef1432,#ed1230,#ed1130,#ed1230,#ec112f,#eb0e2d,#e80a2b,#e50628,#e30326,#e20225,#e10225,#e10125,#df0024,#db0024)"></i><i style="height:3px;background:linear-gradient(90deg,#2c46fb,#2e4afd,#2f4cfd,#2f4dfe,#2f4efe,#3152ff,#3556ff,#395bff,#3c5fff,#3e61ff,#3e61ff,#3e61ff,#3e62ff,#4165ff,#476cff,#4e74ff,#557aff,#587cff,#567bff,#557aff,#577cff,#6084ff,#6c8fff,#789aff,#7fa1ff,#81a2ff,#80a1ff,#80a1ff,#85a6ff,#90b0ff,#9cb8ff,#a6bfff,#acc4ff,#afc5ff,#b0c7ff,#b4c9ff,#bed0ff,#cedcff,#dfe9ff,#e8f0ff,#edf3ff,#f2f6ff,#f6f9ff,#f6f9ff,#f6f9ff,#ffd7cd,#ffd3c8,#ffd0c4,#ffc7bb,#ffb9ac,#ffaa9d,#ff9d8f,#ff9688,#ff9385,#ff9283,#ff8c7e,#ff8172,#ff7068,#ff605e,#ff5558,#ff5257,#ff5458,#ff5458,#ff4f55,#ff424d,#ff3244,#fd273e,#fb243c,#fb243c,#fb253d,#fb253d,#f9223b,#f61d37,#f21834,#ee1431,#ed1230,#ed1130,#ed1230,#ec112f,#ea0e2d,#e70a2b,#e50628,#e30326,#e20225,#e10225,#e10125,#df0024)"></i><i style="height:3px;background:linear-gradient(90deg,#2e4bfd,#2f4cfe,#2f4dfe,#304ffe,#3152ff,#3556ff,#395bff,#3c5fff,#3e61ff,#3e62ff,#3e61ff,#3e61ff,#4165ff,#456aff,#4c72ff,#5479ff,#587cff,#577cff,#557aff,#567bff,#5c80ff,#678aff,#7396ff,#7d9eff,#81a2ff,#81a2ff,#80a1ff,#82a3ff,#89aaff,#95b3ff,#a0bbff,#a9c1ff,#adc5ff,#afc6ff,#b1c7ff,#b6caff,#c1d3ff,#d1dfff,#e1eaff,#e9f0ff,#edf3ff,#f3f7ff,#f6f9ff,#f6f9ff,#f6f9ff,#ffd7cd,#ffd3c8,#ffd0c5,#ffc9bc,#ffbbae,#ffac9f,#ff9f91,#ff9788,#ff9385,#ff9283,#ff8e80,#ff8576,#ff766b,#ff6562,#ff585a,#ff5257,#ff5357,#ff5458,#ff5257,#ff4952,#ff3b49,#ff2b41,#fc263d,#fb243c,#fb243c,#fb253d,#fb243c,#f8213a,#f51c37,#f11733,#ee1331,#ed1130,#ed1130,#ed1130,#ec102f,#ea0e2d,#e70a2b,#e50628,#e30326,#e20225,#e10225,#e10125)"></i><i style="height:3px;background:linear-gradient(90deg,#2f4dfe,#2f4dfe,#304fff,#3152ff,#3556ff,#395bff,#3c5fff,#3e61ff,#3e62ff,#3e61ff,#3e61ff,#4064ff,#4469ff,#4a70ff,#5277ff,#577cff,#587dff,#567bff,#567bff,#597eff,#6286ff,#6e91ff,#799bff,#80a1ff,#82a3ff,#81a2ff,#80a2ff,#84a5ff,#8eaeff,#99b6ff,#a3bdff,#abc3ff,#aec5ff,#b0c6ff,#b2c8ff,#b8ccff,#c4d5ff,#d4e1ff,#e4ecff,#eaf1ff,#eef4ff,#f3f7ff,#f6f9ff,#f6f9ff,#f6f9ff,#ffd7cd,#ffd3c9,#ffd0c5,#ffcabd,#ffbdb0,#ffaea1,#ffa193,#ff9889,#ff9385,#ff9284,#ff8f81,#ff887a,#ff7c6e,#ff6b65,#ff5c5d,#ff5458,#ff5256,#ff5357,#ff5458,#ff4f55,#ff434e,#ff3445,#fe283f,#fb253c,#fa243c,#fb253c,#fb253d,#fa233c,#f72039,#f41b36,#f01632,#ee1230,#ed1130,#ed1130,#ed1130,#ec102f,#ea0d2d,#e70a2b,#e50628,#e30326,#e20225,#e10125)"></i><i style="height:3px;background:linear-gradient(90deg,#2f4efe,#304fff,#3252ff,#3556ff,#395aff,#3c5fff,#3e61ff,#3f62ff,#3e61ff,#3e61ff,#4063ff,#4368ff,#486eff,#5076ff,#567bff,#587dff,#577cff,#567bff,#577cff,#5e82ff,#698cff,#7497ff,#7d9fff,#82a3ff,#82a3ff,#80a2ff,#82a3ff,#88a8ff,#92b1ff,#9db9ff,#a6c0ff,#acc4ff,#afc6ff,#b1c7ff,#b4c9ff,#baceff,#c8d7ff,#d7e3ff,#e6eeff,#eaf1ff,#eff4ff,#f4f7ff,#f6f9ff,#f6f9ff,#f6f9ff,#ffd7cd,#ffd3c9,#ffd1c5,#ffcbbe,#ffbeb2,#ffb0a3,#ffa395,#ff998b,#ff9385,#ff9283,#ff9082,#ff8b7c,#ff8071,#ff7168,#ff615f,#ff5659,#ff5156,#ff5257,#ff5458,#ff5256,#ff4a52,#ff3c4a,#ff2d42,#fc263e,#fb243c,#fa243c,#fb253c,#fb253c,#f9233b,#f61e38,#f31935,#ef1532,#ed1230,#ed112f,#ed1130,#ed1130,#ec102f,#ea0d2d,#e70a2a,#e40628,#e30326,#e10225)"></i><i style="height:3px;background:linear-gradient(90deg,#3050ff,#3252ff,#3556ff,#385aff,#3c5fff,#3e61ff,#3f62ff,#3e62ff,#3e61ff,#3f63ff,#4267ff,#476dff,#4e74ff,#557aff,#587dff,#587dff,#567bff,#577cff,#5b80ff,#6488ff,#6f92ff,#7a9cff,#80a2ff,#82a4ff,#81a3ff,#81a2ff,#84a5ff,#8cacff,#96b4ff,#a0bcff,#a9c1ff,#aec5ff,#b0c6ff,#b1c7ff,#b5caff,#bdd0ff,#cbdaff,#dae5ff,#e7eeff,#ebf1ff,#eff4ff,#f5f8ff,#f6f9ff,#f6f9ff,#f6f9ff,#ffd7cd,#ffd3c9,#ffd1c5,#ffcbbf,#ffc0b3,#ffb2a5,#ffa597,#ff9a8c,#ff9486,#ff9283,#ff9082,#ff8d7e,#ff8475,#ff766b,#ff6762,#ff5a5b,#ff5257,#ff5156,#ff5357,#ff5357,#ff4e55,#ff444f,#ff3546,#fe293f,#fb253d,#fa243c,#fb243c,#fb253c,#fb243c,#f9223a,#f61d37,#f21834,#ef1431,#ed1230,#ed112f,#ed1130,#ed112f,#ec102f,#ea0d2d,#e7092a,#e40628,#e30326)"></i><i style="height:3px;background:linear-gradient(90deg,#3252ff,#3556ff,#385aff,#3c5eff,#3e61ff,#3f62ff,#3f62ff,#3e62ff,#3f63ff,#4266ff,#466bff,#4c72ff,#5479ff,#587dff,#597dff,#577cff,#567bff,#597eff,#6084ff,#6a8eff,#7698ff,#7ea0ff,#82a3ff,#82a4ff,#81a2ff,#82a3ff,#87a7ff,#90b0ff,#9ab7ff,#a4beff,#abc3ff,#afc6ff,#b1c7ff,#b2c8ff,#b6cbff,#c0d2ff,#cddcff,#dce7ff,#e7efff,#ecf2ff,#f0f5ff,#f5f9ff,#f6f9ff,#f6f9ff,#f6f9ff,#ffd7cd,#ffd3c9,#ffd1c5,#ffccc0,#ffc1b5,#ffb4a7,#ffa799,#ff9c8e,#ff9586,#ff9283,#ff9182,#ff8e80,#ff8779,#ff7c6e,#ff6c65,#ff5e5d,#ff5458,#ff5156,#ff5256,#ff5357,#ff5156,#ff4a52,#ff3d4b,#ff2f43,#fd273e,#fb243c,#fa243c,#fb243c,#fb253c,#fa243c,#f8203a,#f51c37,#f11733,#ee1331,#ed1130,#ed112f,#ed112f,#ed112f,#ec102e,#e90d2d,#e7092a,#e40628)"></i><i style="height:3px;background:linear-gradient(90deg,#3556ff,#385aff,#3c5eff,#3e61ff,#3f62ff,#3f62ff,#3e62ff,#3f62ff,#4165ff,#456aff,#4a70ff,#5277ff,#577cff,#597eff,#587dff,#577cff,#587dff,#5d81ff,#668aff,#7194ff,#7b9cff,#81a2ff,#83a4ff,#82a3ff,#81a3ff,#83a5ff,#8aaaff,#94b3ff,#9ebaff,#a7c0ff,#adc4ff,#b0c6ff,#b1c7ff,#b3c9ff,#b8ccff,#c2d4ff,#d0deff,#dfe9ff,#e8efff,#ecf2ff,#f0f5ff,#f6f9ff,#f6f9ff,#f6f9ff,#f6f9ff,#ffd7cd,#ffd3c9,#ffd1c6,#ffcdc1,#ffc3b6,#ffb6a9,#ffa99b,#ff9d8f,#ff9587,#ff9283,#ff9182,#ff8f81,#ff8a7b,#ff8071,#ff7268,#ff6360,#ff575a,#ff5156,#ff5156,#ff5257,#ff5357,#ff4e55,#ff454f,#ff3747,#ff2a40,#fc263d,#fa243c,#fa243c,#fb243c,#fb243c,#fa233b,#f71f39,#f41b36,#f01633,#ee1331,#ed112f,#ed112f,#ed112f,#ec112f,#eb0f2e,#e90d2c,#e7092a)"></i><i style="height:3px;background:linear-gradient(90deg,#385aff,#3b5eff,#3e61ff,#3f62ff,#3f62ff,#3f62ff,#3f62ff,#4165ff,#4469ff,#496fff,#5076ff,#577bff,#597eff,#597eff,#577cff,#577cff,#5a7fff,#6286ff,#6c8fff,#7799ff,#7fa0ff,#83a4ff,#83a4ff,#82a3ff,#82a3ff,#86a7ff,#8eaeff,#97b5ff,#a1bcff,#a9c2ff,#aec5ff,#b0c7ff,#b2c8ff,#b4c9ff,#bacdff,#c5d6ff,#d3e0ff,#e1eaff,#e9f0ff,#edf3ff,#f1f5ff,#f6f9ff,#f6f9ff,#f6f9ff,#f6f9ff,#ffd7cd,#ffd4c9,#ffd1c6,#ffcec2,#ffc4b7,#ffb8ab,#ffab9e,#ff9f91,#ff9688,#ff9284,#ff9182,#ff8f81,#ff8c7d,#ff8375,#ff776b,#ff6863,#ff5b5c,#ff5357,#ff5056,#ff5156,#ff5357,#ff5156,#ff4a52,#ff3f4c,#ff3144,#fd283f,#fb243c,#fa233c,#fa243c,#fb243c,#fb243c,#f9223b,#f61e38,#f31a35,#f01532,#ee1230,#ed112f,#ec112f,#ed112f,#ec112f,#eb0f2e,#e90c2c)"></i><i style="height:3px;background:linear-gradient(90deg,#3b5eff,#3e61ff,#3f62ff,#3f63ff,#3f62ff,#3f62ff,#4064ff,#4368ff,#486dff,#4f74ff,#557aff,#597eff,#597eff,#587dff,#577cff,#597eff,#5f83ff,#688bff,#7295ff,#7b9dff,#81a3ff,#83a4ff,#83a4ff,#82a3ff,#83a4ff,#89a9ff,#92b1ff,#9bb8ff,#a4beff,#abc3ff,#afc6ff,#b1c7ff,#b3c8ff,#b5caff,#bccfff,#c8d8ff,#d6e2ff,#e3ecff,#e9f0ff,#edf3ff,#f1f6ff,#f6f9ff,#f6f9ff,#f6f9ff,#f6f9ff,#ffd7cd,#ffd4c9,#ffd1c6,#ffcec2,#ffc5b9,#ffbaad,#ffada0,#ffa193,#ff988a,#ff9284,#ff9082,#ff9081,#ff8d7e,#ff8678,#ff7b6e,#ff6d66,#ff5f5e,#ff5558,#ff5056,#ff5056,#ff5257,#ff5257,#ff4e55,#ff454f,#ff3948,#ff2b41,#fc263d,#fa243c,#fa233c,#fb243c,#fb243c,#fa243c,#f8213a,#f51d37,#f21934,#ef1532,#ed1230,#ec112f,#ec112f,#ed112f,#ec112f,#eb0f2e)"></i><i style="height:3px;background:linear-gradient(90deg,#3e61ff,#3f63ff,#3f63ff,#3f62ff,#3f62ff,#4064ff,#4367ff,#476cff,#4d72ff,#5479ff,#587dff,#5a7eff,#597eff,#577cff,#587dff,#5c80ff,#6487ff,#6e91ff,#789aff,#7fa1ff,#83a4ff,#84a5ff,#83a4ff,#82a4ff,#85a6ff,#8cacff,#95b4ff,#9ebaff,#a7c0ff,#adc4ff,#b0c6ff,#b2c8ff,#b3c9ff,#b7cbff,#bfd1ff,#cbdaff,#d8e4ff,#e5edff,#eaf1ff,#eef3ff,#f2f6ff,#f6f9ff,#f6f9ff,#f6f9ff,#f6f9ff,#ffd7cd,#ffd4c9,#ffd1c6,#ffcfc3,#ffc6ba,#ffbbae,#ffafa1,#ffa395,#ff998b,#ff9385,#ff9082,#ff9081,#ff8e7f,#ff897a,#ff8071,#ff7269,#ff6461,#ff595a,#ff5256,#ff5055,#ff5156,#ff5257,#ff5156,#ff4b52,#ff404c,#ff3345,#fe293f,#fb253d,#fa233c,#fa233c,#fb243c,#fb243c,#fa233b,#f82039,#f51c37,#f11834,#ef1431,#ed1230,#ec112f,#ec112f,#ed112f,#ec102f)"></i><i style="height:3px;background:linear-gradient(90deg,#3f63ff,#3f63ff,#3f62ff,#3f62ff,#4063ff,#4266ff,#466bff,#4b71ff,#5278ff,#587cff,#5a7eff,#597eff,#587dff,#587cff,#5a7fff,#6084ff,#698dff,#7396ff,#7c9eff,#82a3ff,#84a5ff,#83a4ff,#82a4ff,#83a4ff,#88a8ff,#90b0ff,#99b6ff,#a2bcff,#a9c2ff,#aec5ff,#b1c7ff,#b2c8ff,#b4c9ff,#b8ccff,#c1d3ff,#cddcff,#dae5ff,#e6eeff,#eaf1ff,#eef4ff,#f2f6ff,#f6f9ff,#f6f9ff,#f6f9ff,#f6f9ff,#ffd7cd,#ffd4c9,#ffd1c6,#ffcfc3,#ffc7bb,#ffbcb0,#ffb1a3,#ffa497,#ff9a8c,#ff9485,#ff9182,#ff9081,#ff8e80,#ff8b7c,#ff8374,#ff776c,#ff6964,#ff5d5d,#ff5458,#ff5055,#ff5055,#ff5256,#ff5257,#ff4e54,#ff4650,#ff3a49,#ff2d42,#fd273e,#fb243c,#fa233b,#fa243c,#fb243c,#fb243c,#f9223b,#f71f39,#f41b36,#f11733,#ee1331,#ed1130,#ec112f,#ec112f,#ed112f)"></i><i style="height:3px;background:linear-gradient(90deg,#3f63ff,#3f63ff,#3f62ff,#4063ff,#4266ff,#456aff,#496fff,#5176ff,#567bff,#5a7eff,#5a7fff,#597dff,#587dff,#597eff,#5e82ff,#6589ff,#6f92ff,#789aff,#80a1ff,#83a4ff,#84a5ff,#83a4ff,#83a4ff,#85a6ff,#8babff,#93b2ff,#9cb8ff,#a5beff,#abc3ff,#afc6ff,#b1c7ff,#b3c8ff,#b5caff,#bacdff,#c3d4ff,#d0deff,#dde7ff,#e7efff,#ebf1ff,#eff4ff,#f3f7ff,#f6f9ff,#f6f9ff,#f6f9ff,#f6f9ff,#ffd7cd,#ffd4c9,#ffd1c6,#ffcfc3,#ffc8bb,#ffbeb1,#ffb2a5,#ffa699,#ff9c8e,#ff9586,#ff9182,#ff8f81,#ff8f80,#ff8c7d,#ff8677,#ff7b6e,#ff6e66,#ff615f,#ff5759,#ff5156,#ff4f55,#ff5156,#ff5257,#ff5156,#ff4b52,#ff414d,#ff3446,#fe293f,#fc253d,#fa233c,#fa233b,#fa243c,#fb243c,#fa243c,#f9223a,#f61e38,#f31a35,#f01633,#ee1331,#ed112f,#ec112f,#ec112f)"></i><i style="height:3px;background:linear-gradient(90deg,#3f63ff,#3f63ff,#3f63ff,#4165ff,#4469ff,#486eff,#4f74ff,#557aff,#597eff,#5a7fff,#597eff,#587dff,#587dff,#5b80ff,#6286ff,#6b8eff,#7497ff,#7d9eff,#82a3ff,#84a5ff,#84a5ff,#83a4ff,#83a5ff,#87a8ff,#8eaeff,#96b4ff,#9fbbff,#a7c0ff,#adc4ff,#b0c7ff,#b2c8ff,#b3c9ff,#b6cbff,#bccfff,#c6d6ff,#d2dfff,#dfe9ff,#e8efff,#ebf2ff,#eff4ff,#f3f7ff,#f6f9ff,#f6f9ff,#f6f9ff,#f6f9ff,#ffd7cd,#ffd4c9,#ffd1c6,#ffcfc3,#ffc9bc,#ffbfb2,#ffb4a7,#ffa89b,#ff9e90,#ff9688,#ff9183,#ff8f81,#ff8f80,#ff8d7e,#ff8879,#ff7f70,#ff7369,#ff6662,#ff5a5b,#ff5257,#ff4f55,#ff5055,#ff5156,#ff5256,#ff4e54,#ff4650,#ff3b4a,#ff2f43,#fd273e,#fb243c,#fa233b,#fa233b,#fb243c,#fb243c,#fa233b,#f8213a,#f51d37,#f21935,#f01532,#ee1230,#ec112f,#ec112f)"></i><i style="height:3px;background:linear-gradient(90deg,#3f63ff,#3f63ff,#4165ff,#4468ff,#476dff,#4d73ff,#5479ff,#587dff,#5a7fff,#5a7fff,#597dff,#587dff,#5a7fff,#5f83ff,#678aff,#7093ff,#799bff,#80a1ff,#84a5ff,#85a6ff,#84a5ff,#83a4ff,#85a6ff,#8aaaff,#91b1ff,#9ab7ff,#a2bdff,#a9c2ff,#aec5ff,#b1c7ff,#b3c8ff,#b4c9ff,#b7cbff,#bed0ff,#c8d8ff,#d4e1ff,#e1eaff,#e8f0ff,#ecf2ff,#eff4ff,#f4f7ff,#f6f9ff,#f6f9ff,#f6f9ff,#f6f9ff,#ffd7cd,#ffd4c9,#ffd2c6,#ffcfc4,#ffc9bd,#ffc0b4,#ffb5a9,#ffaa9d,#ff9f91,#ff9789,#ff9283,#ff8f81,#ff8f80,#ff8d7f,#ff8a7b,#ff8273,#ff776c,#ff6a64,#ff5e5d,#ff5558,#ff5055,#ff4f55,#ff5056,#ff5256,#ff5056,#ff4b53,#ff424d,#ff3647,#ff2a40,#fc263d,#fa243c,#fa233b,#fa233c,#fb243c,#fb243c,#fa233b,#f82039,#f51c37,#f21834,#ef1432,#ed1230,#ec112f)"></i><i style="height:3px;background:linear-gradient(90deg,#3f63ff,#4064ff,#4367ff,#466cff,#4b71ff,#5278ff,#587cff,#5a7fff,#5b7fff,#597eff,#587dff,#597eff,#5d81ff,#6387ff,#6c8fff,#7598ff,#7d9fff,#82a4ff,#85a6ff,#84a5ff,#84a5ff,#84a5ff,#86a7ff,#8cadff,#94b3ff,#9db9ff,#a5bfff,#abc3ff,#afc6ff,#b2c8ff,#b3c9ff,#b5caff,#b8ccff,#c0d2ff,#cbdaff,#d7e3ff,#e3ecff,#e9f0ff,#ecf2ff,#f0f5ff,#f4f8ff,#f6f9ff,#f6f9ff,#f6f9ff,#f6f9ff,#ffd7cd,#ffd4c9,#ffd2c6,#ffd0c4,#ffcabe,#ffc1b5,#ffb7aa,#ffac9e,#ffa193,#ff988a,#ff9284,#ff9081,#ff8f80,#ff8e7f,#ff8b7c,#ff8576,#ff7b6e,#ff6f67,#ff6260,#ff585a,#ff5156,#ff4f55,#ff4f55,#ff5156,#ff5156,#ff4e54,#ff4750,#ff3c4a,#ff3044,#fe283f,#fb253d,#fa233b,#fa233b,#fa243c,#fb243c,#fa243c,#f9223b,#f71f39,#f41b36,#f11733,#ef1431,#ed1230)"></i><i style="height:3px;background:linear-gradient(90deg,#4064ff,#4267ff,#466bff,#4a70ff,#5176ff,#567bff,#5a7fff,#5b7fff,#5a7fff,#597eff,#597dff,#5b80ff,#6085ff,#688cff,#7194ff,#7a9cff,#80a2ff,#84a5ff,#85a6ff,#84a5ff,#84a5ff,#85a6ff,#89a9ff,#90b0ff,#97b5ff,#a0bbff,#a7c0ff,#adc4ff,#b0c7ff,#b2c8ff,#b4c9ff,#b6caff,#bacdff,#c2d4ff,#cddbff,#d9e4ff,#e5edff,#e9f0ff,#edf3ff,#f0f5ff,#f5f8ff,#f6f9ff,#f6f9ff,#f6f9ff,#ffdcd4,#ffd7cd,#ffd4c9,#ffd2c6,#ffd0c4,#ffcbbe,#ffc2b6,#ffb8ac,#ffada0,#ffa395,#ff998b,#ff9385,#ff9081,#ff8f80,#ff8e80,#ff8c7d,#ff8778,#ff7f70,#ff7369,#ff6762,#ff5b5c,#ff5357,#ff4f55,#ff4f55,#ff5055,#ff5156,#ff5055,#ff4b53,#ff424e,#ff3747,#ff2b41,#fc273e,#fa243c,#fa233b,#fa233b,#fa243c,#fb243c,#fa233c,#f9213a,#f61e38,#f31a35,#f01633,#ee1331)"></i><i style="height:3px;background:linear-gradient(90deg,#4266ff,#456aff,#496eff,#4f75ff,#557aff,#597eff,#5b7fff,#5b7fff,#597eff,#597dff,#5a7fff,#5e82ff,#6589ff,#6d90ff,#7699ff,#7e9fff,#83a4ff,#85a6ff,#85a6ff,#84a5ff,#84a5ff,#86a7ff,#8bacff,#93b2ff,#9bb7ff,#a3bdff,#a9c2ff,#aec5ff,#b1c7ff,#b3c8ff,#b4c9ff,#b6cbff,#bccfff,#c4d5ff,#cfddff,#dbe6ff,#e6eeff,#eaf1ff,#edf3ff,#f1f5ff,#f5f8ff,#f6f9ff,#f6f9ff,#f6f9ff,#ffdbd3,#ffd7cd,#ffd4c9,#ffd2c7,#ffd0c4,#ffcbbf,#ffc3b7,#ffbaad,#ffafa2,#ffa497,#ff9b8d,#ff9486,#ff9082,#ff8f80,#ff8e80,#ff8d7e,#ff897a,#ff8273,#ff776c,#ff6b65,#ff5f5e,#ff5659,#ff5056,#ff4e54,#ff4f55,#ff5156,#ff5156,#ff4e54,#ff4751,#ff3d4b,#ff3244,#fe293f,#fc253d,#fa233c,#fa233b,#fa233b,#fa243c,#fb243c,#fa233b,#f8203a,#f51d37,#f31935,#f01632)"></i><i style="height:3px;background:linear-gradient(90deg,#4469ff,#486dff,#4d73ff,#5479ff,#587dff,#5b7fff,#5b80ff,#5a7fff,#597eff,#597eff,#5c81ff,#6286ff,#6a8dff,#7295ff,#7b9cff,#81a2ff,#84a5ff,#85a6ff,#85a6ff,#84a5ff,#85a6ff,#88a9ff,#8eaeff,#95b4ff,#9db9ff,#a5bfff,#abc3ff,#afc6ff,#b2c8ff,#b3c9ff,#b5caff,#b7ccff,#bdd0ff,#c7d7ff,#d1dfff,#dde7ff,#e7efff,#eaf1ff,#eef3ff,#f1f6ff,#f6f9ff,#f6f9ff,#f6f9ff,#f6f9ff,#ffdbd3,#ffd7cd,#ffd4c9,#ffd2c7,#ffd0c4,#ffccc0,#ffc4b8,#ffbbae,#ffb1a4,#ffa698,#ff9c8e,#ff9587,#ff9182,#ff8f80,#ff8e80,#ff8d7f,#ff8a7c,#ff8476,#ff7b6e,#ff7067,#ff6460,#ff595b,#ff5257,#ff4e55,#ff4e54,#ff5055,#ff5156,#ff5055,#ff4b53,#ff434e,#ff3848,#ff2d42,#fd273e,#fb243c,#fa233b,#fa233b,#fa233c,#fb243c,#fa243c,#f9223b,#f72039,#f51c37,#f21834)"></i><i style="height:3px;background:linear-gradient(90deg,#476cff,#4c71ff,#5278ff,#577cff,#5a7fff,#5b80ff,#5b7fff,#597eff,#597eff,#5b80ff,#5f84ff,#668aff,#6f92ff,#7799ff,#7ea0ff,#83a4ff,#85a6ff,#85a6ff,#84a5ff,#84a5ff,#86a7ff,#8aabff,#91b1ff,#98b6ff,#a0bbff,#a7c0ff,#adc4ff,#b0c7ff,#b3c8ff,#b4c9ff,#b5caff,#b8ccff,#bfd1ff,#c9d8ff,#d4e0ff,#dfe9ff,#e7efff,#ebf1ff,#eef4ff,#f1f6ff,#f6f9ff,#f6f9ff,#f6f9ff,#f6f9ff,#ffdbd3,#ffd7cd,#ffd4c9,#ffd2c7,#ffd0c4,#ffccc0,#ffc5b9,#ffbcb0,#ffb2a5,#ffa89a,#ff9e90,#ff9688,#ff9183,#ff8f80,#ff8e7f,#ff8d7f,#ff8b7d,#ff8678,#ff7f70,#ff746a,#ff6863,#ff5d5d,#ff5458,#ff4f55,#ff4e54,#ff4f55,#ff5056,#ff5156,#ff4e54,#ff4851,#ff3e4b,#ff3345,#ff2940,#fc263d,#fa243c,#fa233b,#fa233b,#fa243c,#fa243c,#fa233c,#f9223a,#f71f39,#f41b36)"></i><i style="height:3px;background:linear-gradient(90deg,#4a70ff,#5176ff,#567bff,#5a7fff,#5b80ff,#5b80ff,#5a7fff,#597eff,#5a7fff,#5d82ff,#6387ff,#6b8eff,#7396ff,#7b9dff,#81a2ff,#85a6ff,#86a7ff,#85a6ff,#84a5ff,#85a6ff,#87a8ff,#8dadff,#94b3ff,#9bb8ff,#a3bdff,#a9c2ff,#aec5ff,#b1c7ff,#b3c9ff,#b4c9ff,#b6cbff,#bacdff,#c1d3ff,#cbdaff,#d6e2ff,#e1eaff,#e8efff,#ebf2ff,#eef4ff,#f2f6ff,#f6f9ff,#f6f9ff,#f6f9ff,#f6f9ff,#ffdbd3,#ffd7cd,#ffd4ca,#ffd2c7,#ffd0c4,#ffcdc1,#ffc6b9,#ffbdb1,#ffb4a7,#ffa99c,#ff9f92,#ff9789,#ff9284,#ff8f80,#ff8e7f,#ff8d7f,#ff8c7d,#ff8879,#ff8173,#ff786c,#ff6c65,#ff615f,#ff5759,#ff5156,#ff4e54,#ff4e54,#ff5055,#ff5156,#ff5055,#ff4b53,#ff444e,#ff3949,#ff2f43,#fd283f,#fb253c,#fa233b,#fa233b,#fa233b,#fa243c,#fa243c,#fa233b,#f8213a,#f61e38)"></i><i style="height:3px;background:linear-gradient(90deg,#4f75ff,#557aff,#597eff,#5b80ff,#5b80ff,#5a7fff,#597eff,#5a7eff,#5c80ff,#6185ff,#688bff,#7093ff,#789aff,#7fa0ff,#83a4ff,#85a6ff,#86a7ff,#85a6ff,#85a6ff,#86a7ff,#89aaff,#90b0ff,#97b5ff,#9ebaff,#a5bfff,#abc3ff,#b0c6ff,#b2c8ff,#b4c9ff,#b5caff,#b7cbff,#bccfff,#c3d4ff,#cddbff,#d8e3ff,#e3ebff,#e8f0ff,#ecf2ff,#eff4ff,#f2f6ff,#f6f9ff,#f6f9ff,#f6f9ff,#f6f9ff,#ffdbd3,#ffd7cd,#ffd4ca,#ffd2c7,#ffd0c5,#ffcdc1,#ffc6ba,#ffbeb2,#ffb5a8,#ffab9e,#ffa193,#ff998b,#ff9384,#ff8f81,#ff8e7f,#ff8d7f,#ff8c7e,#ff897b,#ff8475,#ff7b6e,#ff7068,#ff6561,#ff5a5b,#ff5357,#ff4f55,#ff4e54,#ff4f55,#ff5056,#ff5056,#ff4e54,#ff4851,#ff3f4c,#ff3546,#ff2a40,#fc263e,#fa243c,#fa233b,#fa233b,#fa233b,#fa243c,#fa243c,#f9233b,#f82039)"></i><i style="height:3px;background:linear-gradient(90deg,#5479ff,#587dff,#5b80ff,#5c80ff,#5b80ff,#5a7fff,#5a7eff,#5b7fff,#5f83ff,#6588ff,#6c8fff,#7497ff,#7c9eff,#81a3ff,#85a6ff,#86a7ff,#86a6ff,#85a6ff,#85a6ff,#87a8ff,#8cacff,#92b2ff,#99b7ff,#a1bcff,#a8c0ff,#adc4ff,#b1c7ff,#b3c8ff,#b4c9ff,#b5caff,#b8ccff,#bdd0ff,#c5d6ff,#cfddff,#dae5ff,#e4edff,#e9f0ff,#ecf2ff,#eff4ff,#f3f7ff,#f6f9ff,#f6f9ff,#f6f9ff,#f6f9ff,#ffdbd3,#ffd7cd,#ffd4ca,#ffd2c7,#ffd0c5,#ffcdc1,#ffc7bb,#ffbfb3,#ffb6a9,#ffac9f,#ffa395,#ff9a8c,#ff9485,#ff9081,#ff8e7f,#ff8d7f,#ff8d7e,#ff8a7c,#ff8677,#ff7e70,#ff746a,#ff6963,#ff5e5d,#ff5558,#ff5055,#ff4d54,#ff4e54,#ff4f55,#ff5056,#ff4f55,#ff4b53,#ff444f,#ff3b49,#ff3043,#fe283f,#fb253d,#fa233b,#f9223b,#fa233b,#fa233c,#fa243c,#fa233c,#f9223b)"></i><i style="height:3px;background:linear-gradient(90deg,#577cff,#5b7fff,#5c80ff,#5b80ff,#5a7fff,#5a7eff,#5a7fff,#5d81ff,#6286ff,#698cff,#7194ff,#799bff,#7fa1ff,#84a5ff,#86a7ff,#86a7ff,#85a6ff,#85a6ff,#86a7ff,#89a9ff,#8eaeff,#95b3ff,#9cb8ff,#a3bdff,#aac2ff,#aec5ff,#b1c7ff,#b3c9ff,#b4caff,#b6cbff,#b9cdff,#bfd1ff,#c7d7ff,#d1deff,#dbe6ff,#e6eeff,#e9f0ff,#ecf2ff,#f0f5ff,#f3f7ff,#f6f9ff,#f6f9ff,#f6f9ff,#f6f9ff,#ffdbd2,#ffd7cd,#ffd4ca,#ffd2c7,#ffd0c5,#ffcec2,#ffc8bb,#ffc0b4,#ffb8ab,#ffaea1,#ffa497,#ff9b8d,#ff9586,#ff9082,#ff8e80,#ff8d7f,#ff8d7e,#ff8b7d,#ff8779,#ff8172,#ff786c,#ff6d66,#ff6260,#ff585a,#ff5256,#ff4e54,#ff4d54,#ff4e55,#ff5055,#ff5056,#ff4e54,#ff4851,#ff404c,#ff3647,#ff2c41,#fd273e,#fb243c,#fa233b,#f9223b,#fa233b,#fa243c,#fa243c,#fa233b)"></i><i style="height:3px;background:linear-gradient(90deg,#5a7fff,#5c80ff,#5c80ff,#5b7fff,#5a7fff,#5a7fff,#5c80ff,#6084ff,#6689ff,#6d90ff,#7598ff,#7c9eff,#82a3ff,#85a6ff,#86a7ff,#86a7ff,#85a6ff,#85a6ff,#87a8ff,#8babff,#91b1ff,#97b5ff,#9fbaff,#a6bfff,#abc3ff,#afc6ff,#b2c8ff,#b4c9ff,#b5caff,#b7cbff,#baceff,#c1d2ff,#c9d9ff,#d3e0ff,#dde8ff,#e7eeff,#eaf1ff,#edf3ff,#f0f5ff,#f3f7ff,#f6f9ff,#f6f9ff,#f6f9ff,#f6f9ff,#ffdbd2,#ffd7cd,#ffd4ca,#ffd2c7,#ffd0c5,#ffcec2,#ffc8bc,#ffc1b5,#ffb9ac,#ffafa2,#ffa698,#ff9d8f,#ff9688,#ff9182,#ff8e80,#ff8d7f,#ff8d7e,#ff8c7d,#ff897a,#ff8374,#ff7b6e,#ff7168,#ff6662,#ff5c5c,#ff5458,#ff4f55,#ff4d54,#ff4e54,#ff4f55,#ff5056,#ff4f55,#ff4b53,#ff454f,#ff3c4a,#ff3144,#fe293f,#fc263d,#fa233c,#f9223b,#f9223b,#fa233b,#fa243c,#fa243c)"></i><i style="height:3px;background:linear-gradient(90deg,#5b80ff,#5c81ff,#5b80ff,#5a7fff,#5a7fff,#5b7fff,#5e82ff,#6387ff,#6a8dff,#7294ff,#799bff,#80a1ff,#84a5ff,#86a7ff,#86a7ff,#86a7ff,#85a6ff,#86a7ff,#88a9ff,#8dadff,#93b2ff,#9ab7ff,#a1bcff,#a8c1ff,#adc4ff,#b1c7ff,#b3c8ff,#b4c9ff,#b5caff,#b7ccff,#bccfff,#c2d4ff,#cbdaff,#d5e1ff,#dfe9ff,#e7efff,#eaf1ff,#edf3ff,#f0f5ff,#f4f8ff,#f6f9ff,#f6f9ff,#f6f9ff,#f6f9ff,#ffdbd2,#ffd7cd,#ffd4ca,#ffd2c7,#ffd0c5,#ffcfc3,#ffc9bd,#ffc2b6,#ffbaad,#ffb1a4,#ffa79a,#ff9e90,#ff9789,#ff9183,#ff8e80,#ff8d7f,#ff8d7e,#ff8c7d,#ff8a7b,#ff8576,#ff7e70,#ff746a,#ff6a64,#ff5f5e,#ff5759,#ff5056,#ff4d54,#ff4d54,#ff4e55,#ff5055,#ff5055,#ff4e54,#ff4851,#ff414d,#ff3747,#ff2d42,#fd273e,#fb253c,#fa233b,#f9223b,#fa233b,#fa233b,#fa243c)"></i><i style="height:3px;background:linear-gradient(90deg,#5c81ff,#5c80ff,#5b7fff,#5a7fff,#5a7fff,#5d81ff,#6185ff,#678bff,#6e91ff,#7698ff,#7d9fff,#82a3ff,#85a6ff,#86a7ff,#86a7ff,#86a6ff,#85a6ff,#87a8ff,#8aabff,#90b0ff,#96b4ff,#9db9ff,#a4beff,#aac2ff,#aec5ff,#b1c7ff,#b3c9ff,#b5caff,#b6cbff,#b8ccff,#bdd0ff,#c4d5ff,#cddbff,#d7e3ff,#e1eaff,#e8efff,#ebf1ff,#eef3ff,#f1f5ff,#f4f8ff,#f6f9ff,#f6f9ff,#f6f9ff,#f6f9ff,#ffdbd2,#ffd7cd,#ffd4ca,#ffd2c7,#ffd1c5,#ffcfc3,#ffc9bd,#ffc3b6,#ffbbae,#ffb2a5,#ffa99b,#ffa092,#ff988a,#ff9284,#ff8f80,#ff8d7f,#ff8d7e,#ff8c7e,#ff8b7c,#ff8778,#ff8172,#ff786c,#ff6e66,#ff6360,#ff5a5b,#ff5257,#ff4e54,#ff4d54,#ff4e54,#ff4f55,#ff5055,#ff4f55,#ff4b53,#ff454f,#ff3c4a,#ff3345,#ff2a40,#fc263d,#fa243c,#f9233b,#f9223b,#fa233b,#fa233c)"></i><i style="height:3px;background:linear-gradient(90deg,#5c81ff,#5b80ff,#5a7fff,#5a7fff,#5c80ff,#5f83ff,#6488ff,#6b8eff,#7395ff,#7a9cff,#80a1ff,#84a5ff,#86a7ff,#87a7ff,#86a7ff,#85a6ff,#86a7ff,#88a9ff,#8cacff,#92b1ff,#98b6ff,#9fbbff,#a6bfff,#abc3ff,#afc6ff,#b2c8ff,#b4c9ff,#b5caff,#b7cbff,#b9cdff,#bed1ff,#c6d6ff,#cfddff,#d8e4ff,#e2ebff,#e8efff,#ebf2ff,#eef3ff,#f1f6ff,#f5f8ff,#f6f9ff,#f6f9ff,#f6f9ff,#f6f9ff,#ffdbd2,#ffd7cd,#ffd4ca,#ffd2c7,#ffd1c5,#ffcfc3,#ffcabe,#ffc4b7,#ffbcaf,#ffb3a6,#ffaa9d,#ffa193,#ff998b,#ff9385,#ff8f81,#ff8d7f,#ff8d7e,#ff8c7e,#ff8b7d,#ff8879,#ff8374,#ff7b6e,#ff7168,#ff6762,#ff5d5d,#ff5558,#ff5055,#ff4d54,#ff4d54,#ff4e54,#ff5055,#ff5055,#ff4e54,#ff4951,#ff414d,#ff3848,#ff2e42,#fe283f,#fb253d,#fa233b,#f9223b,#f9223b,#fa233b)"></i></div>
<div class="hm" style="left:130px;top:407px;width:426px;height:380px"><i style="height:4px;background:linear-gradient(90deg,#ffded6,#ffbdad,#ffb7a7,#ffb0a1,#ff9585,#ff9384,#ff6d67,#ff7169,#ff8f7f,#ffdfd7,#fbf6f7,#fdf5f5,#f2f7ff,#fdf5f4,#ffaf9f,#ffa697,#ffa393,#ff9383,#ff8475,#ff9485,#ffaa9a,#ffb8a8,#ffafa0,#ffede9,#f4f8fe,#c3d6ff,#a2bbff,#c3d6ff,#ffd3c9,#ff6462,#ff384b,#f00023,#bd0022,#cf0024,#ff5a5c,#f8f7fb,#fef4f3,#fbf6f7,#ffefeb,#d9e5ff,#9eb7ff,#7d9cff,#bfd3ff,#a8c0ff,#9cb6ff,#e2ebff,#ff3c4d,#ff4d56,#ff8273,#ffefeb,#eef4ff,#eff5ff,#f5f8fe,#c1d5ff,#7b9aff,#2f39fd,#0a0cf9,#090bf9,#637bff,#aec5ff,#9fb8ff,#d5e2ff,#f3f7ff,#d6e4ff,#c2d6ff,#9fb8ff,#8ca9ff,#596eff,#647cff,#718dff,#b1c7ff,#ccdcff,#e0eaff,#f6f7fd,#f8f7fa,#f6f7fc,#c0d4ff,#c0d4ff,#9cb6ff,#93aeff,#b5cbff,#b4caff,#cedeff,#bacfff,#dbe7ff,#fcf5f5,#fff2ef)"></i><i style="height:4px;background:linear-gradient(90deg,#fff4f2,#ffdbd3,#ffbcac,#ffb5a6,#ffb0a0,#ff9485,#ff897a,#ff786c,#ff8778,#ff9c8d,#ffede9,#faf6f8,#faf6f7,#f6f7fd,#ffbeae,#ffa696,#ffa091,#ff9585,#ffa091,#ff746a,#ffbeae,#ffb3a3,#ffac9d,#ffb6a6,#f5f8fe,#d8e5ff,#b0c7ff,#a4bdff,#f5f8fe,#ff8e7e,#ff4d56,#fd0022,#b00021,#be0022,#ff2c42,#f8f7fb,#fef5f4,#f6f7fc,#ffe5df,#dfeaff,#a8c0ff,#84a1ff,#bed2ff,#aac2ff,#9fb9ff,#e6eeff,#ff2f44,#ff5b5d,#ff8677,#fef4f3,#f7f7fc,#e5eeff,#f4f8ff,#bcd1ff,#5e75ff,#2229fc,#0100f2,#252dfc,#6881ff,#b3c9ff,#aac2ff,#dde8ff,#dfe9ff,#d0dfff,#c4d7ff,#8da9ff,#5f76ff,#6983ff,#5a70ff,#b4caff,#d0dfff,#d7e4ff,#e0eaff,#fcf5f5,#f5f7fd,#c5d7ff,#ccdcff,#adc4ff,#8ca8ff,#a6beff,#aec5ff,#c8d9ff,#afc6ff,#dce7ff,#f9f6f9,#fef4f3,#f5f8fe)"></i><i style="height:4px;background:linear-gradient(90deg,#f7f7fb,#fff1ee,#ffd5cb,#ffc7b9,#ffb5a5,#ffad9d,#ff9484,#ff8071,#ff8576,#ff998a,#ffac9c,#ffe8e2,#fdf5f4,#f3f8ff,#fbf6f7,#ffbbab,#ffa495,#ffa191,#ff9787,#ff8879,#ff9585,#ffaa9b,#ffbaaa,#ffb9a9,#fff2ef,#e4edff,#c1d4ff,#a8c0ff,#d9e5ff,#ff9989,#ff6a65,#ff122f,#c10023,#c90023,#f90022,#ffe3dd,#fef4f4,#f6f7fc,#ffdcd4,#e9f0ff,#b2c8ff,#8eaaff,#bed2ff,#aec5ff,#a1baff,#eaf1ff,#ff283f,#ff6763,#ffa091,#f9f6f9,#f7f7fb,#eef4ff,#e6eeff,#aac2ff,#4453ff,#0c0ef9,#0a00d1,#313bfe,#7f9dff,#a3bcff,#bfd3ff,#f1f6ff,#d9e5ff,#c8d9ff,#a1baff,#94afff,#5c72ff,#637bff,#7d9cff,#afc6ff,#d3e1ff,#e1ebff,#f8f6fa,#eef4ff,#dbe6ff,#ccdcff,#bdd2ff,#90acff,#9bb5ff,#adc4ff,#bfd3ff,#acc3ff,#dde8ff,#f6f7fc,#fbf5f7,#f6f7fd,#e2ebff)"></i><i style="height:4px;background:linear-gradient(90deg,#fef4f3,#f8f6fa,#fff1ee,#ffd4c9,#ffc9bc,#ffaf9f,#ffa293,#ff9383,#ff7d6f,#ff8374,#ff9283,#ffd1c6,#fbf5f6,#fcf5f6,#f4f8ff,#ffebe6,#ffac9c,#ffb0a0,#ff9d8d,#ffa595,#ff766b,#ffbbab,#ffb5a5,#ffae9e,#ffc1b1,#f4f8ff,#c4d7ff,#a8c0ff,#c3d6ff,#ffc4b5,#ff746a,#ff3146,#d80024,#ce0024,#e40023,#ffc4b5,#faf6f7,#fbf5f7,#ffccc0,#f4f8ff,#b5cbff,#94afff,#bacfff,#adc4ff,#a1baff,#f1f6ff,#ff1d37,#ff6b66,#ffb6a7,#e6eeff,#f7f7fb,#faf6f8,#dce7ff,#8fabff,#3540fe,#1418fa,#090bf9,#6178ff,#b3c9ff,#a5beff,#d8e4ff,#ebf2ff,#d9e5ff,#c3d6ff,#8aa7ff,#6077ff,#718dff,#647cff,#c0d4ff,#cdddff,#dfe9ff,#f2f7ff,#f7f7fb,#f1f6ff,#c2d5ff,#c0d4ff,#9ab4ff,#9ab4ff,#b0c6ff,#b7ccff,#b4caff,#dae6ff,#edf3ff,#fbf5f6,#f6f7fc,#e1ebff,#dde8ff)"></i><i style="height:4px;background:linear-gradient(90deg,#ffd0c4,#fdf5f4,#faf6f8,#fff3f0,#ffc8ba,#ffccbf,#ffb3a3,#ffa192,#ff9384,#ff776c,#ff7a6d,#ff9889,#fff2f0,#f8f6fa,#faf6f8,#f8f7fb,#ffbdad,#ffa899,#ffa091,#ff9787,#ff8b7c,#ff9081,#ffa898,#ffc3b4,#ffb9a9,#fff1ee,#e2ebff,#b3c9ff,#a8c0ff,#f6f7fd,#ff7d6f,#ff4652,#f80022,#cd0023,#e50023,#ffb2a2,#fbf5f6,#fdf5f4,#ffc0b0,#f7f7fb,#b7ccff,#99b3ff,#b8cdff,#acc3ff,#a2bbff,#f5f8fe,#ff112e,#ff6a65,#ffc3b3,#e2ebff,#f7f7fb,#f8f7fa,#c3d6ff,#7e9dff,#303bfe,#0709f9,#1f26fc,#6881ff,#aac2ff,#adc4ff,#e8f0ff,#dee9ff,#c8daff,#a1baff,#8aa7ff,#586dff,#627aff,#8ba7ff,#bcd1ff,#d5e3ff,#dbe7ff,#fcf5f5,#f7f7fb,#b7cdff,#c3d6ff,#a0b9ff,#98b3ff,#b9ceff,#b2c8ff,#c1d4ff,#dae6ff,#e3ecff,#fbf5f6,#faf6f8,#e2ecff,#dde8ff,#c5d7ff)"></i><i style="height:4px;background:linear-gradient(90deg,#ffc0b0,#ffcfc3,#fdf5f4,#faf6f8,#fff2ef,#ffbeae,#ffccbf,#ffb7a7,#ff9d8d,#ff9787,#ff7d6f,#ff8a7b,#ffa696,#ffebe6,#fdf5f5,#f4f8ff,#fbf5f7,#ffb6a6,#ffafa0,#ffa494,#ffa293,#ff776c,#ffbbab,#ffb7a7,#ffad9d,#ffd6cc,#f7f7fb,#c5d8ff,#b0c6ff,#dce7ff,#ff9889,#ff5c5d,#ff0727,#bf0022,#d30024,#ff796d,#faf6f7,#fef4f3,#ffc7b9,#fbf6f7,#c3d6ff,#a4bcff,#b8cdff,#abc3ff,#a5bdff,#f9f6f9,#ff0a29,#ff6462,#ffdad0,#f0f5ff,#f6f7fd,#f5f8fe,#c3d6ff,#657dff,#2027fc,#0600e1,#333efe,#809eff,#a2bbff,#d0dfff,#eff4ff,#e2ebff,#c1d5ff,#8da9ff,#5e75ff,#6f8bff,#6d87ff,#b4caff,#cadbff,#e3ecff,#f6f7fd,#eef4ff,#d5e3ff,#cdddff,#aec5ff,#91acff,#b8cdff,#b2c8ff,#cadbff,#d1dfff,#d9e6ff,#fcf5f6,#faf6f7,#e2ecff,#dee9ff,#c7d9ff,#d4e2ff)"></i><i style="height:4px;background:linear-gradient(90deg,#ffbaaa,#ffc0b1,#ffd3c8,#fdf5f5,#fbf5f6,#ffece8,#ffb9a9,#ffcabc,#ffb4a4,#ff9c8d,#ff9687,#ff8677,#ff9c8d,#ffb7a7,#fff4f2,#fbf5f6,#f4f8fe,#ffd1c6,#ffa999,#ffa192,#ff9c8c,#ff9283,#ff9383,#ffad9d,#ffc6b7,#ffb4a4,#f7f7fb,#d2e1ff,#afc6ff,#c1d5ff,#ffbbac,#ff7d6f,#ff2039,#c60023,#ca0023,#ff4652,#f6f7fc,#fef4f3,#ffd6cc,#fcf5f5,#cbdbff,#a8c0ff,#b2c8ff,#abc3ff,#a9c1ff,#fdf5f5,#ff0f2d,#ff6965,#ffe0d8,#ecf2ff,#e7efff,#f2f7ff,#afc6ff,#4554ff,#1216fa,#0100f5,#6077ff,#b7cdff,#9fb8ff,#d7e4ff,#dde8ff,#c8daff,#a9c1ff,#94afff,#5e75ff,#627aff,#9eb7ff,#d0dfff,#d6e3ff,#f0f5ff,#f7f7fc,#eef4ff,#c6d8ff,#c2d5ff,#8fabff,#a6beff,#b4caff,#cadbff,#c3d6ff,#d3e1ff,#fbf5f7,#fdf5f5,#e1ebff,#dce7ff,#c9daff,#d7e4ff,#e2ebff)"></i><i style="height:4px;background:linear-gradient(90deg,#ffc0b0,#ffbbab,#ffc0b0,#ffd2c7,#fef4f3,#fef4f4,#ffe9e4,#ffbaaa,#ffc0b0,#ffbbab,#ff9f8f,#ff8b7c,#ff8b7c,#ff9484,#ffe2db,#f8f7fa,#fbf5f7,#faf6f8,#ffbdad,#ffa697,#ffa99a,#ffa393,#ff7c6e,#ffc4b5,#ffb8a8,#ffac9d,#ffefec,#e7efff,#bfd3ff,#abc2ff,#f8f6fa,#ff7068,#ff4351,#df0023,#da0024,#ff0a29,#f8f6fa,#fdf5f4,#ffefeb,#fbf5f7,#d0dfff,#a7bfff,#afc6ff,#afc6ff,#afc6ff,#ffe1d9,#ff1733,#ff766b,#ffe6e1,#f3f7ff,#e5edff,#e3ecff,#9cb5ff,#3843fe,#0f12fa,#1b20fb,#667fff,#9cb6ff,#abc3ff,#f0f5ff,#d7e4ff,#bacfff,#93aeff,#647cff,#738fff,#7390ff,#adc4ff,#d5e2ff,#d9e5ff,#fcf5f6,#f5f8fe,#bbd0ff,#c0d4ff,#9eb8ff,#9eb7ff,#b0c7ff,#c8daff,#b7ccff,#d2e0ff,#fdf5f5,#fef4f3,#e1ebff,#d9e5ff,#c6d8ff,#d7e4ff,#e3ecff,#c6d8ff)"></i><i style="height:4px;background:linear-gradient(90deg,#ffd1c6,#ffbdae,#ffbdad,#ffc1b2,#ffd4ca,#fdf5f4,#fef4f3,#ffe5df,#ffbcac,#ffbbab,#ffb8a8,#ff9a8a,#ff8677,#ff8374,#ff9c8d,#fef4f3,#fdf5f4,#f5f8fe,#fef4f3,#ffb0a0,#ffb2a2,#ff9f8f,#ff9787,#ff9485,#ffae9e,#ffbfaf,#ffb3a3,#f5f8fe,#c6d8ff,#abc2ff,#dbe6ff,#ff9d8d,#ff595c,#ff0324,#de0024,#f20023,#ffdcd3,#fdf5f5,#faf6f8,#fcf5f6,#cedeff,#a5bdff,#aac1ff,#b2c8ff,#b4caff,#ffbfaf,#ff2940,#ff8475,#fff2f0,#f7f7fb,#f7f7fb,#d5e3ff,#82a0ff,#3642fe,#0000f8,#343ffe,#819fff,#9bb5ff,#d1e0ff,#e2ecff,#c6d8ff,#abc3ff,#93aeff,#5e75ff,#6178ff,#b5cbff,#cedeff,#dde8ff,#f4f8ff,#f0f5ff,#c9daff,#cadbff,#9fb8ff,#a0b9ff,#b5caff,#bfd3ff,#b0c7ff,#dbe7ff,#faf6f7,#fff0ed,#dde8ff,#d8e4ff,#c3d6ff,#d6e3ff,#dce8ff,#cadbff,#c5d7ff)"></i><i style="height:4px;background:linear-gradient(90deg,#ffddd5,#ffd8ce,#ffbdad,#ffc1b1,#ffc2b2,#ffd4c9,#fcf5f5,#fff3f0,#ffe3dc,#ffc1b2,#ffb9a9,#ffac9c,#ff9a8a,#ff8172,#ff897a,#ffa999,#ffebe6,#fbf5f6,#f5f8fd,#ffc5b6,#ffab9c,#ffa798,#ffa292,#ff8273,#ffc5b6,#ffbdad,#ffb6a6,#ffefec,#e4edff,#b4caff,#c3d6ff,#ffb3a3,#ff756b,#ff1430,#d40024,#f10023,#ffc8bb,#fbf5f7,#f6f7fd,#fff3f1,#cadbff,#a3bcff,#a9c0ff,#b1c7ff,#b4caff,#ffa999,#ff4451,#ff897a,#fbf5f7,#f6f7fd,#faf6f8,#c2d5ff,#6d88ff,#1a20fb,#0600df,#5c72ff,#b9ceff,#a4bcff,#dee9ff,#cfdeff,#b7cdff,#95b0ff,#647cff,#738fff,#7897ff,#b0c6ff,#d5e3ff,#e5eeff,#f6f7fd,#e9f0ff,#cbdcff,#b2c8ff,#94afff,#b9ceff,#b4caff,#acc3ff,#dfe9ff,#fbf5f7,#fff2f0,#e0eaff,#dbe6ff,#c2d6ff,#d3e1ff,#d9e6ff,#c5d8ff,#c7d9ff,#bfd3ff)"></i><i style="height:4px;background:linear-gradient(90deg,#ffe7e2,#ffded6,#ffdcd4,#ffbfaf,#ffc4b5,#ffc5b6,#ffd2c7,#fcf5f5,#fff2ef,#ffe3dc,#ffc7b9,#ffb8a8,#ffa798,#ffa292,#ff8879,#ffa293,#ffcbbe,#f9f6f9,#fcf5f6,#faf6f8,#ffbaaa,#ffafa0,#ffa090,#ff9889,#ff9586,#ffaf9f,#ffb8a8,#ffc7b9,#f7f7fc,#cadbff,#b2c8ff,#faf6f8,#ff796d,#ff3246,#d20024,#dc0024,#ff9f90,#fbf5f6,#f7f7fc,#ffe6e0,#ccdcff,#a3bcff,#a9c0ff,#adc4ff,#afc6ff,#ff9889,#ff5057,#ff9383,#eaf1ff,#f7f7fc,#f2f6ff,#bbcfff,#4a5bff,#1a1ffb,#1b21fb,#6780ff,#96b1ff,#c5d7ff,#e8efff,#d0dfff,#b0c7ff,#92aeff,#637bff,#647dff,#bfd3ff,#c8daff,#dce8ff,#faf6f8,#f5f8fe,#bfd3ff,#c1d4ff,#90acff,#b5caff,#b2c8ff,#bacfff,#dee8ff,#fbf6f7,#fff1ee,#dfe9ff,#dae6ff,#cadbff,#dae6ff,#d6e4ff,#c4d6ff,#cdddff,#c1d5ff,#dbe7ff)"></i><i style="height:4px;background:linear-gradient(90deg,#ffe8e2,#ffe7e1,#ffddd5,#ffe3dc,#ffbdae,#ffc8ba,#ffc3b4,#ffd7cd,#fdf5f4,#ffeae5,#ffe2dc,#ffcec2,#ffb8a8,#ffa697,#ff9b8c,#ff9687,#ff9c8c,#fff4f2,#fcf5f6,#f4f8fe,#fff1ef,#ffab9b,#ff9f90,#ff9c8c,#ff8576,#ffc4b5,#ffbeaf,#ffbaaa,#fbf5f7,#d0dfff,#acc3ff,#dce7ff,#ff9b8c,#ff585b,#e80023,#e10023,#ff6361,#fbf6f7,#fdf5f5,#ffdad2,#d3e1ff,#a2bbff,#a9c1ff,#b1c7ff,#b4caff,#ff8a7b,#ff5c5e,#ffb0a0,#e7efff,#f4f8ff,#f2f6ff,#a2bbff,#3d4aff,#171cfb,#3743fe,#86a3ff,#98b3ff,#d0dfff,#d5e2ff,#c2d5ff,#98b2ff,#6982ff,#7491ff,#85a2ff,#cbdcff,#d7e4ff,#f1f6ff,#edf3ff,#bfd3ff,#c4d6ff,#9db6ff,#a1baff,#b6ccff,#ccdcff,#dbe7ff,#f6f7fc,#fff2ef,#e0eaff,#dde8ff,#cadbff,#dfe9ff,#d6e3ff,#c3d6ff,#cfdeff,#d2e0ff,#e1ebff,#ebf1ff)"></i><i style="height:4px;background:linear-gradient(90deg,#ffd2c7,#ffe5de,#ffeae5,#ffe4dd,#ffdfd7,#ffb9a9,#ffc7b8,#ffc7b9,#ffd1c6,#fdf5f5,#ffeeea,#ffe2db,#ffd3c8,#ffbdad,#ffa393,#ff9181,#ff8c7d,#ffa292,#ffeeea,#fdf5f4,#f7f7fc,#ffc2b3,#ffad9d,#ffa696,#ffa595,#ff9586,#ffb6a6,#ffaf9f,#ffe3dc,#eaf1ff,#bdd1ff,#c5d7ff,#ffaa9a,#ff6a65,#ff112e,#e70023,#ff2039,#f7f7fc,#fff4f2,#ffc9bb,#dde8ff,#a4bcff,#a8c0ff,#b3c9ff,#b8cdff,#ff7b6e,#ff6c66,#ffc2b2,#f1f6ff,#e0eaff,#e2ecff,#85a3ff,#3641fe,#0200ef,#5f76ff,#b8cdff,#a6beff,#e7efff,#d5e2ff,#bcd0ff,#97b2ff,#667fff,#657dff,#b5cbff,#d1e0ff,#d8e4ff,#f6f7fc,#e3ecff,#ccddff,#a1baff,#a3bbff,#b6cbff,#cfdeff,#d5e3ff,#edf3ff,#fcf5f6,#e4edff,#d8e5ff,#c8daff,#dde8ff,#d2e0ff,#c1d5ff,#d0dfff,#d8e4ff,#e7efff,#ebf2ff,#e0eaff)"></i><i style="height:4px;background:linear-gradient(90deg,#ffc9bb,#ffd5ca,#ffe5df,#fff1ee,#ffe3dd,#ffd6cc,#ffb9a9,#ffc9bc,#ffc5b7,#ffd6cc,#fbf6f7,#ffefec,#ffdad1,#ffd4c9,#ffbeae,#ffa292,#ff8b7c,#ff897a,#ffb5a5,#fbf6f7,#fcf5f5,#fcf5f6,#ffb5a5,#ffad9e,#ffa191,#ff8b7c,#ffcbbe,#ffc3b3,#ffb7a7,#f7f7fc,#cbdbff,#b5cbff,#fef4f4,#ff9080,#ff263e,#e50023,#fe0022,#f8f6fa,#fff3f0,#ffbaaa,#e7efff,#a2bbff,#aec5ff,#b3c9ff,#b1c8ff,#ff6b66,#ff766b,#ffdfd8,#edf3ff,#edf3ff,#cbdcff,#7592ff,#191efb,#181dfb,#6882ff,#99b3ff,#cdddff,#d7e4ff,#c1d5ff,#9cb5ff,#6f8aff,#728eff,#9db6ff,#cfdeff,#d8e5ff,#f8f6fa,#f6f7fd,#c8d9ff,#bacfff,#9fb8ff,#b7ccff,#c8d9ff,#c9daff,#e1ebff,#faf6f8,#dde8ff,#d3e1ff,#c8d9ff,#dce7ff,#ceddff,#c0d4ff,#cedeff,#dae6ff,#edf3ff,#edf3ff,#d9e5ff,#b9ceff)"></i><i style="height:4px;background:linear-gradient(90deg,#ffae9f,#ffbbab,#ffd9cf,#ffe0d9,#ffede9,#ffded6,#ffd8cf,#ffb6a6,#ffccbf,#ffc0b0,#ffd6cc,#fbf6f7,#ffebe6,#ffd0c5,#ffd0c5,#ffc0b0,#ff9d8d,#ff8d7e,#ffa99a,#ffdfd8,#fbf5f7,#f7f7fb,#ffddd4,#ffaa9a,#ffad9d,#ffb0a0,#ff9485,#ffb9a9,#ffb3a3,#fff4f2,#e7efff,#b2c8ff,#dde8ff,#ff8c7c,#ff4954,#d90024,#fc0022,#ffd7ce,#fef4f3,#ffc6b7,#f4f8fe,#a4bcff,#b3c9ff,#b5caff,#b0c6ff,#ff5a5d,#ff786c,#ffeae5,#f6f7fd,#faf6f8,#c7d9ff,#4d5fff,#2128fc,#3743fe,#86a3ff,#9bb5ff,#dae6ff,#cfdfff,#c0d4ff,#96b1ff,#6c86ff,#6e89ff,#b3c9ff,#d4e2ff,#ecf2ff,#ecf2ff,#b8ceff,#c3d6ff,#98b3ff,#c0d4ff,#bcd1ff,#b6cbff,#d6e3ff,#f8f6fa,#e0eaff,#d7e4ff,#c5d7ff,#dfe9ff,#cbdbff,#bed2ff,#ccddff,#dae6ff,#ecf3ff,#ebf2ff,#cdddff,#aac1ff,#a0b9ff)"></i><i style="height:4px;background:linear-gradient(90deg,#ff9181,#ffa393,#ffb6a6,#ffd9cf,#ffd4ca,#ffe7e2,#ffddd4,#ffd8cf,#ffb9a9,#ffcabd,#ffc8ba,#ffd4ca,#fcf5f6,#ffeeea,#ffc5b6,#ffc6b8,#ffb5a5,#ffa999,#ff9787,#ff9d8d,#fef4f3,#fdf5f4,#f9f6f9,#ffbdad,#ffb9a9,#ffa494,#ff9384,#ffcbbe,#ffc4b5,#ffb1a2,#f7f7fb,#c5d8ff,#c5d7ff,#ffa898,#ff6864,#f00023,#e70023,#ffc7b9,#fef4f4,#ffded6,#f9f6f9,#a3bcff,#b5cbff,#b5cbff,#b2c8ff,#ff4853,#ff756b,#fff4f3,#f5f8fe,#f2f6ff,#b0c7ff,#4351ff,#1013fa,#576cff,#b6cbff,#b1c7ff,#dde8ff,#c1d5ff,#9bb5ff,#6a84ff,#7491ff,#b6ccff,#c7d9ff,#d4e2ff,#f5f8fd,#d8e5ff,#c9daff,#a2bbff,#b6ccff,#b2c8ff,#adc4ff,#d7e4ff,#f9f6f9,#e0eaff,#d0dfff,#c9daff,#dde8ff,#c8daff,#c2d5ff,#cbdbff,#d7e4ff,#ecf3ff,#e9f1ff,#c3d6ff,#9ab4ff,#a0b9ff,#acc4ff)"></i><i style="height:4px;background:linear-gradient(90deg,#ffb6a6,#ff998a,#ffa293,#ffb1a2,#ffd3c8,#ffd1c6,#ffe7e2,#ffe8e2,#ffddd5,#ffbcac,#ffcabc,#ffc8ba,#ffd5cb,#fbf6f7,#fff1ee,#ffbeae,#ffc0b0,#ffb0a0,#ffa393,#ff9a8a,#ffa99a,#fff3f1,#fdf5f4,#fcf5f6,#ffb2a3,#ffab9c,#ffb3a4,#ff9383,#ffbeae,#ffb3a3,#fff4f2,#d3e1ff,#bed3ff,#ffebe7,#ff8475,#ff223b,#f30023,#ff897a,#fcf5f6,#fdf5f5,#fef4f3,#abc2ff,#b6ccff,#b7ccff,#b8ceff,#ff3c4d,#ff7c6f,#fbf5f6,#f5f8fe,#edf3ff,#8eaaff,#343ffe,#0e11fa,#6c87ff,#9cb6ff,#ceddff,#c8d9ff,#c1d4ff,#92adff,#708cff,#7896ff,#c2d5ff,#d1e0ff,#f5f8fe,#f0f5ff,#d0dfff,#a9c1ff,#a8c0ff,#bacfff,#b6cbff,#dae6ff,#faf6f8,#e6eeff,#d2e0ff,#ccddff,#e0eaff,#c8daff,#c7d9ff,#c4d7ff,#d9e5ff,#e7efff,#dde8ff,#bed2ff,#a0b9ff,#a7bfff,#b8ceff,#cbdcff)"></i><i style="height:4px;background:linear-gradient(90deg,#ffd1c6,#ffbdad,#ffa797,#ff9788,#ffb4a5,#ffc4b5,#ffd7cd,#ffe6e1,#ffeae6,#ffd9cf,#ffc2b3,#ffcabd,#ffcbbe,#ffd6cb,#faf6f7,#fef4f3,#ffc4b5,#ffc0b1,#ffab9b,#ff9888,#ff9283,#ffc3b4,#f9f6f9,#f8f7fb,#ffc3b4,#ffb0a0,#ffa596,#ff9383,#ffd5cb,#ffd2c7,#ffc8ba,#ebf2ff,#bbd0ff,#e3ecff,#ff8374,#ff3247,#f40022,#ff4150,#fcf5f5,#f6f7fd,#fff1ef,#bbd0ff,#b9ceff,#b0c7ff,#bfd3ff,#ff2e43,#ff8b7c,#eaf1ff,#eff4ff,#dae6ff,#819fff,#232afc,#333dfe,#8ca8ff,#a0b9ff,#e5edff,#c5d7ff,#a4bcff,#718dff,#6c86ff,#c1d4ff,#cfdfff,#e3ecff,#eaf1ff,#bed2ff,#c1d5ff,#a5beff,#b4caff,#c7d9ff,#dfe9ff,#faf6f8,#e4edff,#cdddff,#c8daff,#e4edff,#c9daff,#c8daff,#c6d8ff,#e0eaff,#eaf1ff,#d8e5ff,#b1c7ff,#a1baff,#b5caff,#cadbff,#d0dfff,#c2d6ff)"></i><i style="height:4px;background:linear-gradient(90deg,#ffdcd3,#ffded7,#ffd7ce,#ffae9f,#ff9787,#ffab9b,#ffbaaa,#ffdcd3,#ffe7e1,#ffeeeb,#ffdfd8,#ffd3c9,#ffcabd,#ffccc0,#ffd9cf,#faf6f8,#fff1ee,#ffc9bc,#ffbcac,#ffab9c,#ff9889,#ffab9b,#fdf5f4,#fef4f3,#faf6f8,#ffb4a5,#ffa999,#ffad9d,#ff9687,#ffc3b4,#ffbdad,#f8f7fb,#cedeff,#c8daff,#ffa999,#ff6160,#e80023,#ff1431,#f6f7fd,#faf6f8,#fdf5f4,#c6d8ff,#b7ccff,#adc4ff,#c5d8ff,#ff2039,#ff9989,#e9f0ff,#e5eeff,#bacfff,#4f62ff,#2229fc,#4f61ff,#abc2ff,#c4d7ff,#d4e2ff,#b6ccff,#94afff,#7998ff,#84a1ff,#cfdeff,#d4e2ff,#f3f7ff,#c9daff,#c4d6ff,#98b3ff,#b9ceff,#cbdbff,#dbe7ff,#faf6f8,#e8efff,#cdddff,#c6d8ff,#e3ecff,#c7d9ff,#cdddff,#cfdeff,#e7efff,#e9f1ff,#cdddff,#a3bbff,#9fb8ff,#b3c9ff,#d0dfff,#d4e2ff,#dae6ff,#e2ecff)"></i><i style="height:4px;background:linear-gradient(90deg,#fef5f4,#fef4f3,#ffe2dc,#ffd5ca,#ffbfaf,#ffa293,#ffa090,#ffbaaa,#ffdcd4,#ffddd5,#ffe9e4,#ffe0d8,#ffddd5,#ffd2c7,#ffd0c4,#ffd7cd,#fbf5f7,#ffece8,#ffccbf,#ffc2b3,#ffaa9a,#ff9e8f,#ffa393,#ffe8e3,#fef4f3,#fef4f3,#ffb1a1,#ffab9b,#ff9d8d,#ffd3c8,#ffccbf,#ffe7e2,#dee8ff,#bfd3ff,#ffd9d0,#ff7c6f,#fa0022,#ff0c2b,#fbf6f7,#fef4f3,#fef4f3,#cadbff,#b7cdff,#b6ccff,#d2e1ff,#ff2a41,#ffa898,#f0f5ff,#f8f7fb,#bfd3ff,#4453ff,#0506f9,#6d88ff,#94afff,#d2e0ff,#cedeff,#aac1ff,#7693ff,#6a85ff,#b2c9ff,#d0dfff,#f0f5ff,#eff5ff,#ccddff,#a3bcff,#c0d4ff,#c8daff,#dae6ff,#faf6f8,#f0f5ff,#cadbff,#c5d8ff,#e5eeff,#c9daff,#cbdcff,#d6e3ff,#ebf2ff,#eaf1ff,#c2d5ff,#a1baff,#acc4ff,#c0d4ff,#d1e0ff,#cadbff,#eaf1ff,#cedeff,#c4d7ff)"></i><i style="height:4px;background:linear-gradient(90deg,#ffbfaf,#ffe7e2,#faf6f7,#ffdad1,#ffd9d0,#ffc8bb,#ffa899,#ff9b8b,#ffb5a6,#ffd0c4,#ffcbbe,#ffeae6,#ffe0d8,#ffe4de,#ffd3c8,#ffcec2,#ffd6cc,#faf6f8,#ffe9e4,#ffd5cb,#ffc6b7,#ffb0a1,#ffa292,#ffad9e,#faf6f8,#f8f6fa,#ffc1b1,#ffb6a6,#ffac9c,#ff9485,#ffc7b9,#ffbdad,#f8f6fa,#c4d7ff,#e8f0ff,#ff9b8b,#ff3246,#f80022,#ffd2c7,#ffeeea,#ffe5df,#d2e1ff,#b1c7ff,#b8ceff,#d9e6ff,#ff4552,#ffcabc,#f6f7fc,#f2f6ff,#9fb8ff,#303bfe,#313cfe,#8eaaff,#95b0ff,#cdddff,#b5caff,#96b0ff,#7f9dff,#93aeff,#c5d8ff,#d7e4ff,#e8f0ff,#c8daff,#a8c0ff,#afc6ff,#bacfff,#c9daff,#f7f7fb,#f6f7fd,#ccdcff,#c7d9ff,#e7efff,#c8d9ff,#cedeff,#d9e5ff,#e7efff,#dfeaff,#bed2ff,#a2bbff,#bacfff,#cfdeff,#d4e2ff,#d5e2ff,#e6eeff,#cadbff,#bdd1ff,#b7ccff)"></i><i style="height:4px;background:linear-gradient(90deg,#ffafa0,#ffc0b0,#ffd4c9,#fef4f3,#fef4f3,#ffe5de,#ffded6,#ffb8a8,#ff9a8a,#ffb3a3,#ffc2b3,#ffd1c5,#ffe1da,#ffe0d9,#ffe0d8,#ffd3c8,#ffcdc1,#ffd8ce,#faf6f7,#ffe5df,#ffdbd2,#ffbdad,#ffac9d,#ff9485,#ffd5cb,#fff2ef,#fdf5f4,#ffb2a2,#ffb3a4,#ffa191,#ffd4ca,#ffc2b2,#ffefec,#d7e4ff,#cedeff,#ffa192,#ff4b55,#ff0c2a,#ffa898,#fef4f3,#ffcabd,#dde8ff,#aac2ff,#bacfff,#dce8ff,#ff6362,#ffe7e2,#f5f7fd,#ecf2ff,#809eff,#2b34fd,#4858ff,#98b2ff,#c3d6ff,#c8daff,#aac1ff,#7997ff,#6d88ff,#b7cdff,#d0dfff,#eff5ff,#bbd0ff,#c8d9ff,#aac1ff,#b7ccff,#b5cbff,#eff5ff,#f6f7fc,#cdddff,#c5d7ff,#e8efff,#cedeff,#cfdfff,#d7e4ff,#e7efff,#dbe6ff,#afc5ff,#a5bdff,#afc6ff,#d1dfff,#c4d7ff,#e4edff,#cdddff,#c5d7ff,#b4caff,#c4d7ff,#c3d6ff)"></i><i style="height:4px;background:linear-gradient(90deg,#ffe7e1,#ffbcac,#ffbdad,#ffc1b1,#ffe4de,#fbf5f6,#ffd8cf,#ffd3c9,#ffbfaf,#ffa494,#ffa696,#ffbaaa,#ffd5cb,#ffe6e0,#ffe3dd,#ffded5,#ffd3c8,#ffcec1,#ffddd5,#fcf5f5,#ffe6e1,#ffd3c8,#ffb7a7,#ffa596,#ffaf9f,#fff4f2,#fff3f0,#ffe2db,#ffb5a5,#ffae9e,#ff9585,#ffcbbe,#ffb6a6,#f3f7ff,#c1d5ff,#ffbfaf,#ff7b6e,#fb0022,#ff6663,#fcf5f6,#ffbdad,#dbe6ff,#adc4ff,#c2d5ff,#e3ecff,#ff7a6e,#fdf5f4,#f7f7fc,#d9e5ff,#566aff,#1f25fc,#6d88ff,#8eaaff,#d5e2ff,#bdd1ff,#94afff,#89a6ff,#b6cbff,#cdddff,#e6eeff,#e4edff,#c9daff,#9eb8ff,#b6ccff,#aec5ff,#e0eaff,#faf6f8,#d2e1ff,#c7d9ff,#e7efff,#c5d7ff,#ccdcff,#d4e2ff,#e2ebff,#ccdcff,#a0b9ff,#acc3ff,#c9daff,#d3e1ff,#cadbff,#dfeaff,#c5d7ff,#b6ccff,#b9ceff,#c3d6ff,#d2e0ff,#ceddff)"></i><i style="height:4px;background:linear-gradient(90deg,#ffd6cc,#ffddd4,#ffe2db,#ffb3a3,#ffbeae,#ffd4c9,#fdf5f4,#fff0ed,#ffdfd7,#ffd9d0,#ffad9e,#ff9c8c,#ffb8a8,#ffdbd3,#ffe6e0,#ffe0d9,#ffd9cf,#ffd0c4,#ffccbf,#ffd2c7,#fdf5f4,#ffe3dc,#ffcbbd,#ffb6a6,#ffa090,#ffa898,#faf6f8,#fbf6f7,#ffbfaf,#ffae9e,#ffa999,#ffdad0,#ffbeae,#f8f7fb,#cbdcff,#edf3ff,#ff9a8a,#ff0d2b,#ff2c42,#fdf5f5,#ffc8ba,#d6e3ff,#b0c6ff,#bfd4ff,#e9f0ff,#ff8c7d,#faf6f8,#e8f0ff,#bcd1ff,#4959ff,#2f39fd,#90acff,#abc3ff,#bacfff,#a8c0ff,#7896ff,#728fff,#cdddff,#c7d9ff,#e4edff,#ceddff,#a3bcff,#bfd3ff,#c3d6ff,#d2e1ff,#faf6f8,#d1e0ff,#cbdcff,#e8f0ff,#bdd1ff,#c6d8ff,#d9e5ff,#e3edff,#bfd3ff,#a7bfff,#bcd1ff,#cfdeff,#ceddff,#e6eeff,#c5d7ff,#bfd3ff,#b2c8ff,#c4d7ff,#c4d7ff,#d2e0ff,#c9daff,#bbd0ff)"></i><i style="height:4px;background:linear-gradient(90deg,#ffaf9f,#ffc9bc,#ffded6,#ffe0d8,#ffcfc3,#ffb6a6,#ffbfaf,#ffdcd3,#fbf6f7,#ffd4c9,#ffd2c6,#ffbdad,#ff9f8f,#ffbaaa,#ffd4c9,#ffd0c5,#ffece8,#ffd7cd,#ffcabd,#ffcbbd,#ffded6,#fff1ee,#ffdbd3,#ffcabd,#ffb4a4,#ffad9d,#ffbdad,#fff2ef,#fff3f1,#ffad9d,#ffa595,#ff9686,#ffd2c6,#ffcfc4,#e0eaff,#d2e1ff,#ff8f80,#ff4a55,#ff1833,#f9f6f9,#fff2ef,#dce7ff,#aac2ff,#b6cbff,#f4f8ff,#ff9b8b,#ebf2ff,#e4edff,#b2c8ff,#333efe,#4c5dff,#88a5ff,#c5d7ff,#b0c7ff,#91adff,#8ca8ff,#c4d7ff,#cdddff,#ebf2ff,#b6ccff,#a9c1ff,#c3d6ff,#d1e0ff,#d6e3ff,#f7f7fb,#cbdcff,#c5d7ff,#ebf2ff,#bfd3ff,#c5d8ff,#e5edff,#dfeaff,#b7ccff,#a7bfff,#bbd0ff,#d2e0ff,#c7d9ff,#e0eaff,#c6d8ff,#adc4ff,#c1d5ff,#c1d5ff,#d1e0ff,#cbdcff,#c0d4ff,#b3c9ff,#c9daff)"></i><i style="height:4px;background:linear-gradient(90deg,#ffe5df,#ffc7b9,#ffbcac,#ffccbf,#ffd8ce,#ffe5de,#ffbfaf,#ffbeae,#ffcfc3,#fcf5f5,#fff4f2,#ffe1da,#ffd4c9,#ffb0a0,#ffae9e,#ffc3b4,#ffd3c8,#ffece8,#ffd8ce,#ffc5b7,#ffd8cf,#ffdfd7,#ffe9e4,#ffc4b5,#ffcbbe,#ffbaaa,#ff9f90,#fff4f3,#ffe9e4,#ffc2b3,#ffb6a6,#ffb6a7,#ffdfd8,#ffbaaa,#fdf5f4,#d0dfff,#ffb2a2,#ff6864,#ff1c36,#fff2ef,#f5f8fe,#edf3ff,#aec5ff,#c2d6ff,#fdf5f4,#ff9181,#e6eeff,#f1f6ff,#9ab4ff,#4453ff,#819fff,#9bb5ff,#cdddff,#b6cbff,#83a1ff,#8eaaff,#d0dfff,#e9f0ff,#e7efff,#d0dfff,#b5cbff,#d0dfff,#e3ecff,#f7f7fb,#dfeaff,#cfdeff,#edf3ff,#cadbff,#d2e1ff,#f2f7ff,#e0eaff,#acc3ff,#b2c9ff,#d6e3ff,#dae6ff,#e5eeff,#d0dfff,#c5d8ff,#c2d5ff,#c7d9ff,#d7e4ff,#d1e0ff,#c7d9ff,#bfd3ff,#d2e1ff,#c8daff,#d0dfff)"></i><i style="height:4px;background:linear-gradient(90deg,#ffdbd2,#ffded6,#ffe7e1,#ffbdad,#ffc6b8,#ffd1c5,#ffdcd3,#ffe5e0,#ffb5a5,#ffcabc,#ffdfd7,#fcf5f6,#ffddd4,#ffe1da,#ffb7a7,#ffa091,#ffb9a9,#ffd4ca,#ffdcd4,#ffe0d9,#ffc6b8,#ffcfc4,#ffddd5,#ffded7,#ffc8ba,#ffd1c6,#ffbdad,#ffbbab,#ffebe7,#fcf5f6,#ffb7a7,#ffb2a2,#ff9a8b,#ffd2c7,#ffefec,#dde8ff,#f6f7fd,#ff8f80,#ff2b41,#ffdbd2,#fff2f0,#fcf5f5,#b0c7ff,#c5d7ff,#ffc3b4,#ff9686,#ecf3ff,#eaf1ff,#708cff,#333efe,#b1c8ff,#c8daff,#cfdfff,#a3bbff,#96b1ff,#c4d7ff,#dbe7ff,#f5f8fd,#e1ebff,#bbd0ff,#c5d8ff,#ecf3ff,#f8f6fa,#e2ebff,#d3e1ff,#f2f6ff,#d5e2ff,#e4edff,#eef4ff,#d3e1ff,#afc6ff,#c8daff,#dde8ff,#cdddff,#eff5ff,#ccdcff,#c2d5ff,#d4e2ff,#d6e3ff,#d7e4ff,#cdddff,#c3d6ff,#d3e1ff,#cdddff,#d1e0ff,#eef4ff,#ecf3ff)"></i><i style="height:4px;background:linear-gradient(90deg,#ffc6b8,#ffd9d0,#ffdbd2,#ffddd5,#ffe9e4,#ffb4a4,#ffc7b9,#ffd8ce,#ffdcd3,#ffd6cc,#ffc2b2,#ffc8ba,#fff2f0,#fff1ee,#ffd9d0,#ffc0b0,#ffa091,#ffbcac,#ffd3c9,#ffdfd7,#ffe3dd,#ffcabd,#ffcfc3,#ffddd5,#ffdfd8,#ffc8ba,#ffcbbe,#ffad9d,#ffaf9f,#fef4f3,#fff2ef,#ffbfaf,#ffc0b0,#ffe0d9,#ffc4b5,#f7f7fb,#cfdfff,#ffa696,#ff243c,#ff8d7d,#ffe8e2,#ffefeb,#b6cbff,#bdd2ff,#ffa595,#ffac9d,#f4f8fe,#d8e5ff,#6e89ff,#708cff,#adc4ff,#eef4ff,#d9e5ff,#95b0ff,#a8c0ff,#e0eaff,#f7f7fb,#d7e4ff,#b8cdff,#d1e0ff,#e5edff,#f9f6f9,#e1ebff,#dee9ff,#eaf1ff,#dce7ff,#e2ebff,#f5f8fe,#d1e0ff,#b7ccff,#cdddff,#e2ecff,#ebf2ff,#d4e2ff,#d4e2ff,#d1e0ff,#d5e3ff,#e4edff,#d9e5ff,#ceddff,#d6e3ff,#d1e0ff,#d7e4ff,#f2f7ff,#ecf3ff,#d2e0ff,#cdddff)"></i><i style="height:4px;background:linear-gradient(90deg,#ffe6e0,#ffd7cd,#ffc9bb,#ffdad2,#ffd6cc,#ffdcd3,#ffefeb,#ffb0a0,#ffcabd,#ffdad1,#ffe4dd,#ffc1b1,#ffbfaf,#ffdfd7,#fdf5f4,#ffd9cf,#ffded6,#ffab9b,#ffb1a1,#ffd3c8,#ffe6e0,#ffe5df,#ffd6cc,#ffd0c4,#ffe5df,#ffe3dd,#ffdfd7,#ffbeae,#ffb2a3,#ffccc0,#ffe6e0,#ffbcac,#ffb7a8,#ff9f90,#ffd5ca,#fef4f3,#d3e1ff,#ffae9f,#ff5e5f,#ff4150,#fff0ed,#fff1ef,#cadbff,#c2d5ff,#ff9282,#ffd3c9,#f7f7fb,#e2ecff,#6882ff,#a1baff,#b6cbff,#e1ebff,#b3c9ff,#a0b9ff,#eff4ff,#f4f8ff,#e7efff,#c6d8ff,#d6e3ff,#cdddff,#fff4f3,#e9f0ff,#dce8ff,#ebf2ff,#edf3ff,#ebf1ff,#f7f7fc,#cfdeff,#cbdcff,#eef4ff,#dde8ff,#f4f8ff,#dbe7ff,#cdddff,#e2ebff,#eaf1ff,#dce7ff,#d4e2ff,#dae6ff,#dbe7ff,#dce7ff,#f6f7fd,#f4f8ff,#d6e3ff,#d3e1ff,#dae6ff,#ebf1ff)"></i><i style="height:4px;background:linear-gradient(90deg,#ffd2c7,#ffeeeb,#ffeae5,#ffdbd2,#ffd3c8,#ffd7cd,#ffd5cb,#ffddd5,#fff1ef,#ffac9c,#ffc9bc,#ffd5cb,#ffe3dd,#ffb8a8,#ffcec1,#fef4f3,#ffebe7,#ffd9d0,#ffc5b6,#ffad9d,#ffc9bc,#ffcdc0,#ffede9,#ffe8e3,#ffddd5,#ffe2db,#ffeeea,#ffe5df,#ffc1b1,#ffb3a3,#fef4f3,#ffe7e2,#ffac9c,#ffbfaf,#ffdfd8,#ffbcac,#f0f5ff,#f7f7fb,#ff7d6f,#ff293f,#fdf5f5,#fff1ef,#ccdcff,#bed3ff,#ff8879,#ffeeeb,#e7efff,#b6cbff,#5d73ff,#cdddff,#e4edff,#cfdeff,#a8c0ff,#d4e2ff,#e7efff,#faf6f8,#e9f0ff,#dfeaff,#d2e0ff,#ffeeea,#f0f5ff,#e4edff,#e8f0ff,#f0f5ff,#f7f7fc,#f4f8ff,#c1d5ff,#dee9ff,#f0f5ff,#f5f8fe,#e3ecff,#d8e5ff,#e3ecff,#e8efff,#e2ecff,#d8e5ff,#d9e6ff,#e3ecff,#e2ecff,#f8f7fa,#f5f8fe,#dce8ff,#d4e2ff,#e5eeff,#f5f8fe,#f0f6ff,#dee9ff)"></i><i style="height:4px;background:linear-gradient(90deg,#fff2f0,#ffdbd2,#ffccbf,#ffe4dd,#fff4f2,#ffdbd2,#ffd8ce,#ffdfd7,#ffd7cd,#ffd8cf,#fff3f1,#ffb4a4,#ffd0c4,#ffd8cf,#ffddd5,#ffcdc1,#ffded6,#fbf5f7,#ffdcd3,#ffcfc3,#ffa797,#ffbeae,#ffcfc4,#ffeeea,#fff1ee,#ffd6cc,#ffe2dc,#fff0ed,#ffd7cd,#ffbdad,#ffc0b0,#fcf5f5,#ffe1d9,#ffb4a4,#ff9b8b,#ffdcd3,#ffebe6,#d3e1ff,#ffa495,#ff3f4e,#f5f8fd,#ffdcd4,#cdddff,#c8daff,#ff6864,#fff1ee,#fef4f4,#96b1ff,#85a2ff,#bcd0ff,#f1f6ff,#cbdcff,#a9c0ff,#ecf2ff,#fbf5f7,#eff4ff,#d2e1ff,#eef4ff,#fcf5f6,#f4f8ff,#ecf2ff,#e9f1ff,#f0f5ff,#f9f6f9,#f0f5ff,#ceddff,#e7efff,#edf3ff,#f6f7fc,#e3edff,#e1ebff,#e7efff,#f0f5ff,#e7efff,#d8e5ff,#e8f0ff,#e5eeff,#faf6f8,#f7f7fc,#e6eeff,#dfe9ff,#eef4ff,#f6f7fd,#f6f7fd,#dee9ff,#e2ecff,#e8efff)"></i><i style="height:4px;background:linear-gradient(90deg,#ffdbd3,#ffddd4,#ffe5df,#ffe8e2,#ffd3c8,#ffd6cc,#fef4f3,#ffe8e2,#ffddd5,#ffdcd4,#ffd9cf,#ffddd5,#fff4f1,#ffb9a9,#ffd5cb,#ffe4de,#ffc9bc,#ffccbf,#ffe7e2,#ffe4de,#ffd6cc,#ffb9aa,#ffb7a7,#ffd5ca,#ffe0d9,#ffdcd4,#ffe2db,#ffe1da,#fff1ee,#ffcdc1,#ffc5b6,#ffb4a5,#ffddd4,#ffbdad,#ffc2b3,#ffe8e2,#ffd0c4,#dfe9ff,#ffa798,#ff3045,#ffe7e1,#ffafa0,#cdddff,#c1d4ff,#ff5259,#f8f6fa,#f9f6f9,#99b4ff,#c4d7ff,#f3f7ff,#f7f7fc,#c0d4ff,#f6f7fd,#f9f6f9,#e8f0ff,#cedeff,#dfe9ff,#f5f8fe,#ebf2ff,#f7f7fc,#f6f7fd,#f5f8fe,#fbf5f7,#e5edff,#dee9ff,#f5f7fd,#edf3ff,#e3ecff,#dae6ff,#f6f7fd,#f5f8fd,#eef4ff,#e3ecff,#f2f6ff,#e6eeff,#fcf5f6,#f7f7fb,#eaf1ff,#e7efff,#f7f7fb,#f7f7fb,#f1f6ff,#e2ecff,#e7efff,#f5f8fe,#e8efff,#e2ebff)"></i><i style="height:4px;background:linear-gradient(90deg,#ffc4b5,#ffbaaa,#ffd0c4,#ffdfd7,#ffe5df,#fff2ef,#ffe1da,#ffd2c6,#fef4f3,#ffebe7,#ffe0d8,#ffd1c6,#ffd8cf,#ffd8cf,#fef5f4,#ffc4b5,#ffdfd7,#ffe8e3,#ffbbab,#ffcec2,#fcf5f6,#ffe5df,#ffd2c7,#ffb8a8,#ffd3c8,#ffd5ca,#ffd4c9,#ffe7e2,#ffeeea,#fff0ec,#ffd7cd,#ffc5b6,#fdf5f5,#ffebe7,#ffd9d0,#ffa99a,#ffddd5,#f5f8fe,#ffebe7,#ff8676,#ffbcac,#ffe9e4,#d6e3ff,#c8d9ff,#ff6362,#f5f8fe,#f0f5ff,#a9c1ff,#eaf1ff,#f7f7fb,#d7e4ff,#b1c7ff,#f6f7fc,#ffeae6,#e4edff,#e0eaff,#f7f7fc,#eff5ff,#f5f7fd,#faf6f8,#f8f7fb,#fdf5f4,#dde8ff,#e6eeff,#f9f6f9,#faf6f8,#ebf2ff,#f2f7ff,#f5f7fd,#f1f6ff,#eaf1ff,#f5f7fd,#f0f5ff,#fcf5f5,#f8f7fb,#f4f8ff,#eef4ff,#f9f6f9,#f9f6f9,#ecf2ff,#e7efff,#f1f6ff,#f6f7fd,#eaf1ff,#ebf2ff,#f4f8ff,#eaf1ff)"></i><i style="height:4px;background:linear-gradient(90deg,#ffd3c9,#ffc1b1,#ffbaaa,#ffc5b6,#ffb8a8,#ffd9cf,#ffddd5,#ffe6e0,#ffe9e3,#ffd6cd,#ffe4de,#ffedea,#ffddd5,#ffd3c8,#ffdad2,#ffddd5,#ffeeeb,#ffcec2,#ffe0d9,#ffe8e3,#ffd1c6,#ffeae6,#ffe6e0,#ffe9e4,#ffb7a7,#ffb8a8,#ffd7ce,#ffe5df,#fff3f1,#ffe9e4,#ffe8e2,#ffeae6,#ffd6cc,#faf6f8,#ffd0c4,#ffbcac,#ffe1da,#fef4f3,#e3ecff,#ffbcad,#ff756b,#f2f7ff,#dae6ff,#cbdcff,#ff9f8f,#fcf5f5,#f5f8fe,#b5cbff,#d6e3ff,#eff4ff,#c7d9ff,#f4f8ff,#ffebe7,#f8f7fb,#f2f7ff,#fdf5f4,#f5f8fe,#eef4ff,#f8f7fb,#fdf5f4,#faf6f8,#e1ebff,#faf6f8,#e7efff,#f1f6ff,#f2f6ff,#f5f8fe,#f7f7fc,#f5f7fd,#f9f6f9,#f5f8fe,#fdf5f4,#f9f6fa,#f3f7ff,#f7f7fb,#fcf5f6,#f9f6f9,#eef4ff,#eef4ff,#f8f7fb,#eff4ff,#ecf2ff,#f5f8fe,#f4f8ff,#f7f7fc,#f8f7fb,#f7f7fb)"></i><i style="height:4px;background:linear-gradient(90deg,#ffc6b8,#ffc1b1,#ffd7cd,#ffdad2,#ffbfaf,#ffb8a8,#ffc1b1,#ffbdad,#ffe1da,#ffe6e0,#fff1ee,#ffddd4,#ffded5,#fef4f3,#ffe0d8,#ffcdc1,#ffd9d0,#ffd7cd,#ffebe7,#ffd3c8,#ffded6,#ffd5ca,#ffd5cb,#faf6f8,#ffe6e1,#ffc2b2,#ffd6cc,#ffc3b4,#ffe1da,#fff1ef,#ffece8,#ffe0d9,#ffd5cb,#ffd2c7,#fff2ef,#ffbdad,#ffb5a6,#ffcabd,#dce7ff,#ffa696,#ff585c,#fff0ec,#e5eeff,#d7e4ff,#ffbfaf,#fbf5f7,#b6ccff,#e0eaff,#fff2ef,#eef4ff,#e0eaff,#eef4ff,#f9f6f9,#f3f7ff,#fdf5f5,#fbf5f6,#f8f7fa,#f8f6fa,#fcf5f6,#f8f6fa,#e5eeff,#fbf5f6,#fff1ee,#f4f8ff,#fbf6f7,#fdf5f5,#f6f7fc,#f9f6f9,#f6f7fc,#fef4f3,#f9f6f9,#f4f8ff,#f6f7fc,#fbf6f7,#f8f7fb,#f6f7fd,#f8f7fb,#f7f7fc,#f5f8fe,#f7f7fc,#f7f7fc,#f8f6fa,#faf6f8,#f9f6fa,#f6f7fd,#f2f7ff,#f6f7fd)"></i><i style="height:4px;background:linear-gradient(90deg,#ffd7cd,#fff4f2,#ffcec2,#ffd7cd,#ffbfaf,#ffd9cf,#ffd3c8,#ffc8ba,#ffc3b3,#ffc3b4,#ffcabd,#ffded6,#ffe9e4,#ffebe7,#ffd6cc,#ffe6e0,#ffdfd7,#ffd3c8,#ffe0d8,#ffd8ce,#ffddd4,#ffded6,#ffe2dc,#ffcbbe,#ffece8,#fef4f3,#ffede9,#ffb4a5,#ffc8ba,#ffe0d8,#ffeeeb,#ffd7cd,#ffd1c6,#ffcec2,#ffc8bb,#ffe5df,#ffd2c7,#ffddd5,#fef4f3,#ffefec,#ff6964,#ffeae6,#f5f8fd,#dde8ff,#ffad9d,#fdf5f4,#ccdcff,#faf6f8,#fff4f2,#d8e5ff,#fff3f0,#fff2ef,#f6f7fc,#eaf1ff,#fff2f0,#faf6f7,#fbf5f7,#ffeae5,#faf6f8,#f7f7fc,#f6f7fd,#f8f7fb,#f6f7fd,#fbf5f7,#fef4f3,#f9f6f9,#fbf6f7,#fff3f0,#f9f6f9,#f6f7fc,#fbf6f7,#fef5f4,#f5f8fe,#f7f7fb,#faf6f8,#f6f7fd,#f8f7fb,#f7f7fb,#fbf5f6,#fdf5f5,#fbf5f6,#f7f7fb,#f8f7fb,#f6f7fc,#f8f7fb,#f9f6f9,#faf6f8)"></i><i style="height:4px;background:linear-gradient(90deg,#ffdad1,#ffd3c8,#ffd0c4,#ffcabd,#ffe6e0,#ffd9d0,#ffd1c6,#ffc8ba,#ffd9d0,#ffddd5,#ffcabc,#ffc5b7,#ffbfaf,#ffd6cc,#ffe8e3,#ffe5df,#ffdcd3,#ffe7e1,#fff4f2,#ffe1da,#ffeeea,#ffddd5,#ffbfaf,#ffbcac,#ffdfd8,#ffe6e0,#fcf5f6,#ffcfc3,#ffc4b5,#ffc8bb,#ffece8,#ffdfd8,#fff4f2,#ffccc0,#ffebe7,#ffded6,#ffdbd3,#ffd1c6,#ffcbbe,#e7efff,#ff998a,#fcf5f5,#f6f7fd,#e5eeff,#ffb3a3,#ffdcd4,#cfdeff,#f8f6fa,#f4f8ff,#eff4ff,#fff0ed,#fdf5f5,#ffe3dd,#ffd4ca,#f9f6f9,#fff4f2,#ffe4de,#f8f7fb,#ffe5df,#fff1ee,#f8f6fa,#f7f7fb,#f9f6f9,#f9f6f9,#fff0ed,#ffe7e2,#fbf5f7,#faf6f8,#fff3f1,#fef4f3,#f7f7fb,#faf6f8,#f8f6fa,#fbf5f7,#fdf5f5,#faf6f7,#fef4f4,#fcf5f6,#f9f6f9,#faf6f8,#faf6f8,#fbf5f7,#fcf5f6,#fcf5f6,#fef5f4,#fef5f4,#fef4f3)"></i><i style="height:4px;background:linear-gradient(90deg,#ffe1da,#ffd4c9,#ffc3b4,#ffccc0,#ffd6cc,#ffcfc4,#ffc5b7,#ffd4ca,#ffece8,#ffd2c7,#ffd0c4,#ffd3c8,#ffd5ca,#ffc4b5,#ffd1c5,#ffc4b5,#ffd6cb,#ffe3dd,#ffefeb,#ffd7cd,#ffebe7,#ffe8e3,#ffdad1,#ffcec2,#ffb3a3,#ffd7cd,#ffd1c6,#ffe6e0,#fff4f2,#ffbdad,#ffd3c8,#fcf5f5,#fbf5f7,#ffe7e2,#fdf5f4,#ffb8a9,#fbf5f6,#ffd8cf,#ffdad1,#f0f5ff,#ffc4b6,#ffd6cc,#faf6f8,#dce8ff,#ffcfc3,#ffe7e1,#fef4f3,#ffd9cf,#fdf5f4,#fcf5f5,#ffe9e5,#ffe4de,#ffc7b8,#fcf5f5,#fcf5f5,#ffebe7,#fef4f4,#ffe5df,#f8f6fa,#ffeae5,#fcf5f5,#f6f7fc,#faf6f8,#ffe4de,#fff1ef,#fbf5f6,#ffece7,#faf6f8,#f9f6f9,#fbf5f7,#faf6f8,#faf6f8,#fcf5f5,#ffe4de,#fff1ee,#fdf5f5,#fcf5f5,#fbf5f6,#fcf5f6,#fdf5f4,#fef4f3,#fcf5f6,#ffe6e0,#ffeae5,#ffebe7,#ffded6,#ffe0d9)"></i><i style="height:4px;background:linear-gradient(90deg,#ffd6cc,#ffcec2,#ffd7cd,#ffe5df,#ffdad1,#ffcabd,#ffc1b1,#ffc4b5,#ffcfc4,#ffccbf,#ffccbf,#ffe6e1,#ffc5b6,#ffd5ca,#ffcec2,#ffd7ce,#ffbfaf,#ffd3c8,#ffcec2,#ffd3c8,#ffddd5,#ffeae5,#fff3f1,#ffdbd2,#fef4f3,#ffdbd3,#ffb1a1,#fef4f3,#ffd8ce,#ffefec,#ffcfc3,#ffd4ca,#faf6f8,#ffeeeb,#ffebe7,#ffd7cd,#ffe6e0,#ffeae5,#ffe0d9,#ffdfd7,#fcf5f6,#ff9b8c,#ffddd4,#d9e5ff,#fdf5f4,#e4edff,#fbf5f7,#fdf5f4,#ffdfd8,#ffe1da,#ffe2db,#ffc0b0,#ffe4de,#fef4f3,#fff4f2,#faf6f7,#ffe5df,#fdf5f4,#ffebe7,#fef4f3,#ffded6,#ffeae6,#fef4f3,#ffebe6,#ffe8e3,#fcf5f6,#fef4f3,#fbf6f7,#fcf5f5,#fcf5f5,#fff2ef,#fef4f3,#ffe8e3,#fef4f3,#fdf5f4,#fff4f2,#ffece7,#ffede9,#fff2ef,#ffe8e3,#ffe1d9,#ffe6e0,#ffe8e3,#ffeeea,#fff0ed,#fff2f0,#ffe5df)"></i><i style="height:4px;background:linear-gradient(90deg,#ffcec2,#ffdbd2,#ffe4dd,#ffdbd2,#ffe1da,#ffd5cb,#ffcbbe,#ffd7cd,#ffe6e1,#ffd6cb,#ffcdc0,#ffddd5,#ffccc0,#ffc1b2,#ffcec1,#ffd8cf,#ffcfc3,#ffd5ca,#ffe2dc,#ffc5b6,#ffd1c6,#ffdbd3,#ffeae5,#ffd1c5,#ffe7e2,#ffe4dd,#ffd3c8,#ffedea,#ffcfc3,#ffebe6,#ffbaaa,#ffc9bc,#ffeae5,#ffe9e5,#faf6f8,#fdf5f5,#fef4f3,#fff2f0,#ffdbd2,#ffd4ca,#f5f8fe,#ffaf9f,#fff4f2,#eff4ff,#fbf5f7,#f0f5ff,#ffe6e1,#f7f7fc,#ffe0d9,#ffe6e0,#ffcabc,#fff0ec,#ffefec,#f6f7fd,#f8f6fa,#fbf6f7,#fef4f3,#fcf5f6,#ffe8e3,#ffd4c9,#fcf5f5,#fcf5f6,#fcf5f5,#fef5f4,#f8f6fa,#ffeeea,#fcf5f5,#f9f6f9,#fbf5f7,#f8f6fa,#fcf5f5,#fef4f3,#ffece7,#ffe7e1,#fff0ed,#ffe8e3,#ffe7e1,#ffe6e0,#fff3f0,#ffedea,#ffece8,#fff1ee,#fff1ef,#fff2f0,#ffe8e3,#fff4f2,#ffefeb)"></i><i style="height:4px;background:linear-gradient(90deg,#ffc7b9,#ffc4b5,#ffc9bb,#ffc7b9,#ffc3b4,#ffd0c4,#ffe0d9,#ffdad1,#ffdad1,#ffd7cd,#ffcbbe,#ffd2c6,#ffd8ce,#ffcdc1,#ffd2c7,#ffc2b2,#ffc8ba,#ffd1c6,#ffe2db,#ffcdc0,#ffd2c7,#ffe5df,#ffdfd7,#ffc4b5,#ffd4c9,#fff1ee,#ffd8cf,#fef5f4,#ffedea,#fff0ed,#ffd2c7,#ffbaaa,#f9f6f9,#ffedea,#ffe9e4,#fdf5f4,#ffe7e1,#ffeeeb,#ffe8e3,#ffdcd3,#fff2ef,#fff4f2,#ffdfd7,#f5f8fe,#fbf6f7,#f5f8fe,#fff0ec,#fdf5f4,#fff1ee,#ffcfc3,#ffe3dd,#faf6f8,#f8f6fa,#f7f7fb,#f8f7fb,#f4f8fe,#fcf5f6,#ffeeea,#fef4f3,#fef4f3,#f7f7fb,#faf6f8,#fbf5f6,#fdf5f4,#ffede9,#fff4f2,#fef5f4,#f8f6fa,#f8f6fa,#fdf5f5,#fff2f0,#fff2f0,#ffebe7,#ffe9e5,#ffebe6,#fff4f2,#fff4f3,#fff2ef,#ffe6e1,#fff2ef,#ffeeeb,#fdf5f5,#fff0ed,#fff4f2,#fef4f3,#fdf5f4,#fdf5f4)"></i><i style="height:4px;background:linear-gradient(90deg,#ffe5df,#ffe2dc,#ffe9e4,#ffd9d0,#ffd5cb,#ffded6,#ffd4c9,#ffccbf,#ffc9bb,#ffbbab,#ffb6a6,#ffc4b5,#ffdfd8,#ffdfd7,#ffede9,#ffc6b7,#ffc8ba,#ffe0d9,#ffe9e4,#ffe4de,#ffc5b7,#ffc8bb,#ffdfd8,#ffc2b3,#ffe6e0,#ffe7e1,#ffdbd2,#fbf5f7,#fff2ef,#ffe0d9,#ffd4c9,#ffcabd,#ffede9,#ffdcd4,#fff3f1,#fdf5f5,#f9f6f9,#fef5f4,#ffe8e2,#ffc4b5,#ffede9,#ffd2c7,#f8f6fa,#f5f8fe,#fcf5f6,#eef4ff,#ffede9,#e1ebff,#ffece8,#fbf5f6,#f2f6ff,#f6f7fd,#f8f7fa,#fef4f3,#fcf5f6,#fef4f3,#faf6f8,#fff1ef,#e9f0ff,#f8f7fb,#ffece8,#ffe7e1,#fcf5f5,#f9f6f9,#fff0ee,#fff2ef,#ffe5df,#ffeae6,#fff2f0,#fdf5f4,#fff0ec,#fff1ee,#fff4f2,#fef4f3,#fef4f3,#faf6f7,#fff1ef,#ffebe7,#ffece8,#fcf5f6,#ffeae5,#ffebe7,#fef4f3,#ffedea,#fff4f2,#ffefec,#ffece8)"></i><i style="height:4px;background:linear-gradient(90deg,#ffd8ce,#ffd6cc,#ffcec2,#ffdcd3,#ffd9d0,#ffcfc3,#ffd7ce,#ffeae5,#ffe1da,#ffcbbe,#ffccbf,#ffccc0,#ffc7b9,#ffd8cf,#ffede9,#ffd1c6,#ffc8ba,#ffd3c8,#ffe7e2,#fff0ed,#ffc8ba,#ffd5ca,#ffcfc3,#ffe2db,#fff3f0,#fff4f2,#ffece8,#ffdbd2,#ffe0d9,#ffdbd2,#fff0ed,#fff4f2,#ffcfc3,#ffdfd8,#ffeeea,#ffe8e2,#f9f6f9,#fef4f3,#fdf5f5,#ffe5df,#fff2f0,#fff4f2,#fef4f3,#f7f7fb,#faf6f8,#fbf6f7,#ffe6e1,#e2ebff,#fbf5f7,#fff4f2,#faf6f8,#f9f6f9,#e8efff,#f9f6fa,#fcf5f6,#fef4f3,#fbf6f7,#fef5f4,#e9f1ff,#ffe8e3,#ffdcd3,#fcf5f5,#fef4f3,#faf6f8,#fff4f2,#ffdcd4,#fdf5f4,#fbf5f6,#ffede9,#fbf5f7,#fcf5f6,#f9f6f9,#fbf5f6,#fbf6f7,#ffede9,#fff2f0,#fff0ec,#fff0ec,#fef4f3,#fcf5f6,#fef4f3,#ffece8,#fdf5f5,#fef4f4,#ffece8,#ffe8e3,#ffede9)"></i><i style="height:4px;background:linear-gradient(90deg,#ffd1c5,#ffd5ca,#ffcabd,#ffd3c8,#ffdcd3,#ffcec1,#ffd1c6,#ffd1c6,#ffd7ce,#ffe2db,#ffe3dc,#ffdbd2,#ffd9cf,#ffded7,#ffe5de,#ffe4de,#ffcdc1,#ffd7cd,#ffeae6,#ffeae5,#ffd9d0,#ffd0c4,#ffd3c8,#ffe3dc,#ffe7e2,#ffcec2,#ffeae6,#ffc0b0,#ffbdad,#ffd8ce,#ffe1d9,#fff0ed,#ffe0d9,#ffece8,#ffd5cb,#ffd7cd,#ffe6e0,#ffd6cc,#ffc6b8,#ffd8ce,#f9f6fa,#ffebe7,#ffdcd3,#ffdfd7,#ffe3dc,#faf6f8,#ffd3c8,#f6f7fd,#f4f8ff,#ffe2dc,#ffd0c4,#faf6f8,#f0f5ff,#fcf5f6,#fef4f3,#ffeae6,#fef4f4,#ffd2c7,#e9f0ff,#fff4f2,#fcf5f6,#f6f7fd,#fcf5f6,#ffeeeb,#faf6f8,#fcf5f6,#f6f7fd,#fdf5f4,#f9f6f9,#f9f6f9,#fff2ef,#fbf6f7,#fff2f0,#fef5f4,#fff4f2,#fdf5f4,#fff1ee,#fcf5f6,#fff0ed,#fff1ef,#fff4f2,#ffe8e3,#ffedea,#ffe7e1,#ffe9e3,#fdf5f4,#fbf5f6)"></i><i style="height:4px;background:linear-gradient(90deg,#ffc8ba,#ffdcd4,#ffd2c7,#ffc2b2,#ffd6cc,#ffbcac,#ffcdc1,#ffd1c5,#ffd8ce,#fff4f2,#ffe6e0,#ffcfc3,#ffc6b8,#ffd5cb,#ffd9d0,#ffcbbe,#ffc0b0,#ffbfaf,#ffdcd4,#ffd5cb,#ffd6cd,#ffd9d0,#fdf5f4,#ffddd5,#ffe7e1,#ffeeea,#ffe6e0,#ffb5a5,#ffc1b2,#ffd5ca,#faf6f8,#fcf5f5,#ffded6,#ffded6,#ffd4c9,#ffb8a8,#ffcbbe,#ffc0b0,#ffbaaa,#faf6f8,#ffe6e1,#ffddd5,#fef5f4,#fff0ed,#ffe4dd,#ffd7cd,#f7f7fc,#f3f7ff,#fdf5f5,#fdf5f5,#fff2ef,#fbf5f6,#e4edff,#f8f6fa,#f9f6f9,#f0f5ff,#eaf1ff,#ffedea,#fcf5f6,#ffcabd,#faf6f8,#f8f7fb,#fff0ed,#ffe7e1,#ffdad1,#ffdfd8,#faf6f8,#ffe5de,#fdf5f4,#fcf5f6,#fef4f3,#f8f6fa,#f8f7fb,#f9f6f9,#fdf5f4,#ffe8e3,#fdf5f5,#fff4f2,#ffe6e0,#ffebe6,#fff2ef,#fff4f2,#ffe7e1,#fef4f3,#ffe9e4,#fcf5f6,#fdf5f4)"></i><i style="height:4px;background:linear-gradient(90deg,#ffd9d0,#ffe0d9,#ffd9cf,#ffd0c4,#ffd3c8,#ffc3b3,#ffd4c9,#ffdad1,#ffccc0,#ffe5de,#ffefeb,#ffcabd,#ffc9bb,#ffcec2,#ffd7cd,#ffe9e4,#ffccbf,#ffe0d8,#ffd1c5,#ffd7cd,#ffbdad,#ffccc0,#ffd8cf,#ffc7b9,#ffded7,#fff0ed,#ffe7e1,#ffcfc3,#ffe8e3,#ffcec2,#fff3f0,#fdf5f5,#ffc7b9,#ffdad0,#fef4f3,#ffe1da,#ffd2c7,#ffc5b6,#ffebe7,#fdf5f5,#ffccc0,#ffe3dd,#ffe6e0,#fdf5f5,#fcf5f5,#fff4f2,#d6e3ff,#faf6f8,#faf6f8,#f6f7fc,#f6f7fc,#fdf5f5,#fdf5f5,#fff3f0,#fff1ee,#f3f7ff,#e4edff,#f9f6f9,#fbf5f7,#ffdad1,#faf6f8,#eff4ff,#ffece8,#ffe9e4,#fbf6f7,#fdf5f5,#fdf5f4,#ffe9e4,#faf6f7,#fdf5f4,#fbf5f6,#fef4f3,#f9f6f9,#fdf5f5,#ffeae5,#fff0ec,#fff0ec,#ffe9e4,#fff4f2,#fff3f1,#ffe3dd,#fff2ef,#ffebe6,#fdf5f4,#ffe4dd,#fcf5f6,#ffefec)"></i><i style="height:4px;background:linear-gradient(90deg,#ffe3dd,#ffdfd7,#ffd5cb,#ffcec1,#ffc3b4,#ffcfc3,#ffd0c4,#ffe4dd,#ffd4ca,#ffd7cd,#ffccbf,#ffc2b2,#ffc1b2,#ffd6cc,#ffc7b9,#ffd3c8,#ffe6e1,#ffd5ca,#ffe0d9,#ffd4c9,#ffd5cb,#ffd2c7,#ffe5de,#ffd2c7,#ffb8a8,#ffe8e3,#ffe5df,#ffebe7,#ffdcd3,#ffd7cd,#fff0ed,#ffd3c8,#ffbaaa,#ffd8cf,#faf6f8,#fdf5f4,#f9f6fa,#faf6f8,#ffe3dd,#fef4f3,#ffccbf,#ffc3b4,#ffb1a2,#ffdbd3,#f9f6f9,#fdf5f4,#f7f7fb,#fbf6f7,#ffddd4,#f2f7ff,#f2f6ff,#fcf5f6,#ffe8e3,#ffeae6,#ffdad2,#fbf5f6,#fcf5f6,#f9f6f9,#fef4f3,#fdf5f4,#fdf5f4,#fef4f3,#fbf5f6,#f7f7fc,#f6f7fd,#faf6f8,#fdf5f5,#f8f7fa,#fff4f1,#ffdfd8,#fdf5f5,#ffe3dd,#ffefec,#fbf6f7,#ffefeb,#fdf5f5,#ffe4de,#fef4f3,#fdf5f4,#fcf5f6,#fff2ef,#ffede9,#ffeae5,#fef4f4,#fef4f3,#fdf5f5,#ffebe7)"></i><i style="height:4px;background:linear-gradient(90deg,#ffd7ce,#ffcfc3,#ffd8ce,#ffc8ba,#ffbfaf,#ffbcac,#ffdcd4,#ffd2c6,#ffdbd2,#ffc3b4,#ffd6cc,#ffd3c8,#ffc7b9,#ffded6,#ffcfc3,#ffe9e4,#fef4f3,#ffc5b6,#ffded6,#ffdbd2,#ffddd5,#ffcdc0,#ffd7cd,#ffd8ce,#ffb1a1,#ffdbd3,#ffccc0,#ffe6e0,#faf6f8,#ffece8,#ffe3dc,#ffd4c9,#ffc3b4,#ffe0d9,#f7f7fb,#fff3f1,#fff3f1,#f8f7fa,#fbf6f7,#ffaa9b,#ffcbbe,#faf6f8,#ffb9a9,#fff4f1,#fcf5f6,#fdf5f4,#fcf5f5,#ffe1da,#dfe9ff,#f9f6f9,#fff3f1,#fbf5f7,#f8f6fa,#ffe9e4,#fcf5f5,#f8f6fa,#f7f7fb,#f4f8fe,#fff0ed,#fbf5f6,#fef4f3,#ffeeeb,#fdf5f4,#fcf5f6,#fdf5f4,#fbf5f6,#fcf5f6,#fff4f2,#fff2f0,#fff4f2,#fdf5f4,#ffe8e2,#ffe2db,#ffeae5,#fdf5f4,#ffe8e3,#ffded6,#fff3f0,#ffe6e0,#fbf5f6,#fef4f3,#fdf5f5,#ffece7,#fff1ee,#ffeeea,#fef4f3,#fff2ef)"></i><i style="height:4px;background:linear-gradient(90deg,#ffcbbe,#ffbeae,#ffc5b6,#ffccc0,#ffc5b6,#ffccbf,#ffd1c6,#ffccbf,#ffcec2,#ffcdc0,#ffc9bb,#ffc5b6,#ffd8cf,#ffedea,#ffd3c8,#ffeae5,#fff4f2,#ffccbf,#ffe7e1,#ffe0d8,#ffdfd7,#ffddd4,#ffcdc0,#ffb9aa,#ffbdad,#ffcabd,#ffc4b5,#ffe5df,#ffdcd3,#fcf5f5,#fff0ec,#f9f6f9,#ffe9e4,#eef4ff,#fbf5f6,#fcf5f5,#ffdad1,#ffeeea,#fff0ed,#ffd5cb,#ffd6cc,#fcf5f5,#ffd1c6,#f6f7fc,#edf3ff,#f8f6fa,#ffe6e0,#fdf5f5,#f9f6f9,#fef4f4,#ffd6cc,#f9f6f9,#f6f7fc,#ffddd4,#ffd3c8,#ffd6cc,#fbf5f6,#f5f8fe,#eff4ff,#ffeeeb,#f9f6f9,#ffefec,#fdf5f5,#f9f6f9,#f9f6f9,#fff4f2,#ffeae5,#ffece7,#fff4f3,#faf6f7,#fef4f3,#fff1ee,#ffece8,#ffe5e0,#ffefec,#fff1ee,#ffeeeb,#ffeeea,#fff3f1,#fdf5f5,#ffede9,#fbf5f6,#ffebe6,#ffedea,#ffeae5,#fcf5f6,#ffeeeb)"></i><i style="height:4px;background:linear-gradient(90deg,#ffd9d0,#ffd5cb,#ffdfd7,#ffc2b3,#ffbcac,#ffd8ce,#ffe7e2,#ffcec1,#ffd1c5,#ffd0c4,#ffcfc3,#ffdfd7,#ffe5e0,#ffece8,#ffe3dd,#ffdfd7,#ffdcd3,#ffd2c7,#ffdad1,#ffd4c9,#ffd8ce,#ffc4b6,#ffd7cd,#ffd0c4,#ffc1b2,#ffc3b3,#ffd6cc,#ffcec1,#ffe2db,#f6f7fd,#f7f7fb,#fdf5f5,#fef4f3,#fff3f1,#faf6f8,#fff3f1,#ffd7cd,#ffd8ce,#ffbcac,#ffded5,#fff3f1,#fff4f2,#ffe5df,#fbf5f7,#f2f7ff,#f7f7fb,#fdf5f5,#f7f7fc,#f4f8ff,#fff3f1,#f9f6f9,#e9f0ff,#fbf5f7,#ffece8,#ffcfc3,#fcf5f6,#f8f7fa,#f8f7fa,#eff4ff,#faf6f8,#f7f7fc,#fdf5f4,#f6f7fc,#f4f8ff,#f6f7fd,#f4f8ff,#fff2ef,#ffece7,#ffebe6,#ffe3dd,#ffede9,#fff2ef,#fef4f3,#ffeeea,#fef4f3,#fbf6f7,#fff1ee,#fff1ee,#fff3f1,#ffeeea,#ffe9e4,#fff0ed,#ffdfd8,#ffe2db,#ffece8,#fff1ee,#fff4f2)"></i><i style="height:4px;background:linear-gradient(90deg,#ffccc0,#ffc6b8,#ffd6cc,#ffbfaf,#ffd2c7,#ffc0b0,#ffded6,#ffc7b9,#ffcec2,#ffc1b1,#ffd7cd,#ffcbbe,#ffe1da,#ffd4c9,#ffd1c6,#ffe0d9,#ffc0b0,#ffd9d0,#ffbeae,#ffbeae,#ffb8a8,#ffbdad,#ffccbf,#ffb2a2,#ffbdad,#ffcabd,#fbf5f6,#ffc5b7,#ffc7b9,#fbf5f7,#ffeeeb,#ffebe7,#fef4f3,#fdf5f4,#fff3f1,#ffcdc1,#ffe2db,#ffd9d0,#ffcbbe,#ffd4c9,#ffcbbe,#fdf5f4,#faf6f7,#ffd6cc,#faf6f7,#f4f8ff,#f3f7ff,#ffddd5,#f8f7fa,#fff4f2,#ffe5df,#ecf2ff,#f8f6fa,#fcf5f6,#ffe4dd,#faf6f8,#f6f7fd,#f9f6f9,#fef4f3,#ffded6,#fef4f3,#ffc7b9,#ffeeeb,#fcf5f5,#fbf5f6,#f6f7fd,#f6f7fd,#fef4f4,#ffddd5,#ffd7ce,#ffddd4,#ffe4de,#fdf5f5,#fdf5f4,#ffeeeb,#fdf5f5,#ffece8,#fff4f2,#ffe1da,#fff0ec,#fff4f3,#ffe0d9,#ffeeeb,#fff3f1,#fef5f4,#ffefec,#fff4f2)"></i><i style="height:4px;background:linear-gradient(90deg,#ffddd4,#ffd6cc,#ffd9cf,#ffd3c8,#ffd4c9,#ffbfaf,#ffd2c7,#ffc2b2,#ffd5ca,#ffc3b3,#ffdbd3,#ffe0d9,#ffd6cb,#ffccbf,#ffe0d9,#fff2ef,#ffccbf,#ffd8cf,#ffcfc3,#ffcbbe,#ffb7a7,#ffc2b3,#ffaa9a,#ffc3b4,#ffe0d8,#ffece7,#ffdfd8,#ffdfd8,#ffede9,#ffe4dd,#fef4f3,#ffbdae,#fff4f2,#fff2f0,#ffd6cc,#ffbeae,#ffddd5,#ffccbf,#ffb9a9,#ffd2c7,#fff2ef,#fef4f3,#fff4f3,#fef4f3,#ffe6e0,#ebf2ff,#fef4f3,#ffc6b7,#fff1ee,#ffefeb,#fcf5f6,#fff2ef,#f7f7fc,#f5f8fe,#f6f7fd,#faf6f8,#faf6f8,#f4f8ff,#ffdfd8,#ffd7ce,#fcf5f6,#fef4f3,#ffded7,#fff2ef,#fff0ed,#fef4f3,#f3f7ff,#fbf6f7,#fef4f3,#ffe2db,#fff0ed,#faf6f8,#fbf6f7,#ffeae6,#ffe8e3,#fff0ec,#ffe7e1,#ffede9,#fff4f2,#fff2f0,#fef4f3,#ffe6e0,#ffe1da,#fcf5f5,#fff4f2,#fff0ed,#ffe6e1)"></i><i style="height:4px;background:linear-gradient(90deg,#ffddd4,#ffded6,#ffd6cc,#ffc4b5,#ffd3c8,#ffd4c9,#ffdcd3,#ffe2db,#ffdfd7,#ffe2db,#ffe0d8,#ffdcd4,#ffcdc0,#ffcec2,#ffe5de,#ffdbd2,#ffc0b0,#ffcfc3,#ffc3b4,#ffd0c4,#ffcdc0,#fff4f2,#ffccc0,#ffd2c7,#ffd6cc,#ffe4de,#fff2ef,#fff0ec,#ffe4de,#ffd0c5,#ffe7e2,#ffd0c5,#ffd7cd,#fff2f0,#ffc7b9,#ffece7,#ffe7e2,#fff3f1,#ffd3c8,#ffece8,#ffe1da,#f9f6f9,#ffe1da,#fcf5f5,#fcf5f5,#fff1ee,#fff4f2,#ffeae6,#fbf5f6,#f7f7fb,#faf6f8,#ffe9e4,#f5f8fe,#f4f8ff,#f4f8ff,#f4f8ff,#f5f7fd,#f7f7fb,#fff4f3,#ffefeb,#fdf5f5,#faf6f8,#fff3f1,#fdf5f5,#fbf5f7,#fcf5f5,#fcf5f5,#ffe7e2,#fcf5f6,#ffe2db,#fff2f0,#f9f6f9,#fcf5f5,#fcf5f5,#ffeae5,#ffded6,#ffdfd7,#ffe6e0,#fef4f3,#fef4f4,#fdf5f4,#fef4f3,#ffe1da,#ffe9e4,#fff1ee,#fff2ef,#ffeeea)"></i><i style="height:4px;background:linear-gradient(90deg,#ffebe7,#ffeeea,#ffdcd4,#ffcec2,#ffd3c8,#ffd0c4,#ffdcd4,#ffd2c7,#ffd2c7,#ffc7b9,#ffc7b9,#ffd5cb,#ffdad2,#ffcbbe,#ffd9d0,#ffd1c5,#ffc7b9,#ffc8ba,#ffc6b7,#ffedea,#ffbeae,#ffe6e0,#fff2f0,#ffe4de,#ffcabc,#ffd6cc,#ffd5cb,#fff2ef,#fdf5f4,#ffece7,#ffddd5,#ffc6b7,#ffd7cd,#fef5f4,#ffebe7,#ffe2dc,#ffeeea,#ffefeb,#ffd7cd,#ffe5e0,#ffdad2,#fff0ed,#fef4f3,#f4f8ff,#ffe7e2,#f8f7fb,#fff4f2,#f9f6f9,#faf6f8,#ffe2dc,#fdf5f4,#fff3f1,#faf6f8,#f7f7fb,#fbf6f7,#f9f6fa,#f8f6fa,#ffe2dc,#ffe2dc,#ffe6e0,#faf6f8,#fdf5f4,#fdf5f5,#f9f6f9,#fdf5f4,#fef4f3,#fef4f3,#ffe5df,#fff0ed,#fdf5f5,#ffe7e2,#fef4f3,#fdf5f5,#fcf5f5,#ffede9,#ffdbd3,#ffece8,#f9f6f9,#fbf5f6,#fef4f3,#fff1ef,#fff4f3,#ffe8e3,#fff0ee,#ffe6e1,#fef4f3,#fbf6f7)"></i><i style="height:4px;background:linear-gradient(90deg,#ffd1c6,#ffe2db,#ffcfc3,#ffb9a9,#ffbcac,#ffc9bb,#ffd6cb,#ffd2c7,#ffdbd3,#ffd2c6,#ffcfc3,#ffdad1,#ffdbd2,#ffbaaa,#ffc7b9,#ffcfc3,#ffcbbe,#ffbdad,#ffcec2,#ffdbd2,#ffc6b8,#ffece8,#ffcabd,#ffdfd8,#ffdad1,#ffeae5,#ffe2dc,#ffe8e2,#ffdfd7,#ffcdc0,#ffc1b1,#ffd7cd,#ffded6,#f8f7fb,#ffdbd3,#ffcec2,#ffc3b4,#ffebe7,#ffeae5,#ffd2c7,#ffc1b1,#ffbbab,#ffd8cf,#f5f8fe,#ffc2b2,#f6f7fc,#ffe0d8,#ffd9d0,#ffe5df,#ffeeea,#fff3f1,#ffe8e3,#fbf5f7,#fcf5f5,#fef4f3,#fef4f3,#fdf5f4,#ffe3dd,#fef4f3,#f8f7fa,#f7f7fc,#fbf5f7,#fef4f3,#f6f7fc,#fef4f3,#f9f6f9,#fbf5f6,#ffefeb,#ffeae5,#ffe5de,#fef4f3,#ffe8e2,#fef4f3,#ffe8e3,#fef5f4,#fef4f3,#fff3f1,#fcf5f5,#ffede9,#ffeeeb,#fff4f2,#fdf5f5,#fdf5f4,#fbf5f7,#fcf5f5,#fef4f4,#fef4f3)"></i><i style="height:4px;background:linear-gradient(90deg,#ffd8ce,#ffeae5,#ffddd5,#ffd1c5,#ffd8cf,#ffe0d8,#ffc6b8,#ffccbf,#ffd2c7,#ffd1c6,#ffd4c9,#ffd4c9,#ffd7cd,#ffbeae,#ffd4c9,#ffe2db,#ffd4ca,#ffc0b0,#ffe3dc,#ffc6b7,#ffdcd3,#ffcabd,#ffc6b8,#ffe3dd,#ffeae5,#ffd7cd,#fff0ec,#ffdcd4,#ffd1c6,#ffefeb,#ffc6b8,#fcf5f5,#ffb8a8,#ffc7b9,#fff3f1,#ffeeea,#ffd3c8,#ffe6e0,#ffdbd2,#ffe7e2,#fdf5f4,#ff9d8d,#fcf5f5,#dce7ff,#fdf5f5,#eff4ff,#ffded7,#ffeae5,#ffdad1,#fff4f2,#ffc9bb,#ffd2c7,#fff3f1,#f6f7fd,#fff1ee,#ffe0d9,#fff4f2,#fdf5f5,#ffe1da,#fff0ed,#ffece7,#ffe8e3,#fbf6f7,#faf6f8,#fff1ee,#fdf5f5,#ffefec,#ffe5df,#fff4f3,#fdf5f5,#fcf5f5,#ffe3dc,#ffefec,#ffede9,#fcf5f5,#fef4f4,#ffece8,#ffeeea,#fff3f1,#fff3f0,#ffe9e4,#ffe6e0,#ffece8,#ffe9e4,#ffe9e3,#ffe9e3,#fff2ef)"></i><i style="height:4px;background:linear-gradient(90deg,#ffddd5,#ffcec2,#ffccc0,#ffdbd3,#ffe3dc,#ffd0c4,#ffcbbf,#ffcbbe,#ffcfc3,#ffd0c5,#ffcfc3,#ffe4dd,#ffd8ce,#ffd2c6,#ffd9d0,#ffd5cb,#ffc6b8,#ffc4b5,#ffcfc3,#ffdbd2,#fff0ed,#ffc3b4,#ffdbd3,#ffe7e2,#ffdad2,#ffd7cd,#ffc9bc,#ffd9cf,#ffdcd3,#ffeae6,#ffcfc3,#ffcabc,#ffddd5,#ffccbf,#ffeae5,#f8f7fa,#ffdcd3,#fff4f2,#ffdbd3,#ffd1c5,#ffcbbe,#ff9d8e,#ffe6e0,#ecf2ff,#ffdcd4,#f7f7fc,#f9f6f9,#faf6f8,#ffeeeb,#fff2ef,#fff1ee,#fff2f0,#fff0ed,#f9f6fa,#f6f7fc,#ffe7e2,#fdf5f4,#f9f6f9,#ffe6e0,#fff0ed,#ffe8e2,#ffe8e3,#fbf5f6,#fef4f3,#ffccbf,#ffe9e4,#fff1ef,#fcf5f5,#fcf5f6,#fef4f3,#fef4f3,#fff0ed,#fdf5f4,#fef4f3,#fdf5f4,#fef4f3,#ffe9e4,#fef4f3,#fcf5f6,#ffece8,#ffeae6,#ffdcd3,#ffe8e2,#ffece7,#ffe9e4,#ffeeea,#fff2ef)"></i><i style="height:4px;background:linear-gradient(90deg,#ffd7cd,#ffcec2,#ffc3b4,#ffd2c7,#ffcbbe,#ffc1b1,#ffccbf,#ffd5ca,#ffe9e5,#ffcec2,#ffc6b8,#ffcbbe,#ffdad0,#ffc1b1,#ffc9bc,#ffbfaf,#ffe0d8,#ffd3c8,#ffe7e1,#ffd8cf,#ffe5df,#ffd2c6,#ffd3c8,#ffe3dc,#ffc2b2,#ffdfd7,#ffede8,#ffdbd2,#ffebe7,#ffe8e3,#ffdbd2,#ffe5de,#ffd1c6,#ffdad1,#ffeae6,#fff4f2,#ffd4ca,#ffdad1,#faf6f8,#fef4f3,#ffd8ce,#ffe1da,#edf3ff,#d9e5ff,#ffe7e2,#fdf5f5,#f6f7fc,#ffebe6,#f7f7fb,#ffebe7,#ffe7e1,#f6f7fc,#fff4f2,#f9f6f9,#ffeeeb,#ffddd4,#f6f7fd,#fff3f1,#fdf5f4,#fcf5f5,#fff2f0,#f6f7fd,#fcf5f6,#fef4f3,#fff0ed,#ffece8,#ffeeea,#fdf5f5,#fbf5f7,#fef4f3,#faf6f8,#fcf5f5,#fdf5f4,#fff2ef,#fff2f0,#fbf5f6,#fbf5f6,#f8f7fb,#fbf5f7,#fdf5f4,#fcf5f5,#fff2ef,#ffe9e4,#ffece8,#ffede9,#ffe5df,#ffe0d9)"></i><i style="height:4px;background:linear-gradient(90deg,#ffd7cd,#ffcdc0,#ffc0b0,#ffc1b1,#ffdbd2,#ffd4c9,#ffd3c8,#ffc8ba,#ffdbd2,#ffd2c7,#ffbaaa,#ffbfaf,#ffbeae,#ffdbd2,#ffdfd7,#fff2f0,#ffe2dc,#ffe3dd,#fff2f0,#ffe2db,#ffdbd2,#ffe1da,#ffd1c6,#ffd3c9,#ffebe7,#ffdfd7,#fbf5f7,#ffe2dc,#ffb8a8,#ffd7cd,#ffefec,#ffe8e3,#ffe5de,#ffcabd,#ffd9cf,#ffe8e2,#ffab9c,#ffbdad,#ffddd4,#fbf5f6,#ffb2a3,#fff3f1,#cedeff,#bdd2ff,#ffc8ba,#ffe1d9,#c7d9ff,#f4f8ff,#f8f7fb,#f4f8ff,#fff0ed,#fef5f4,#fff4f2,#faf6f8,#fbf6f7,#ffece8,#ffd5ca,#f4f8ff,#fff0ed,#ffefeb,#f8f7fa,#faf6f8,#fcf5f5,#faf6f7,#fef4f3,#fff2f0,#fcf5f5,#fdf5f5,#ffefec,#fff2ef,#f9f6f9,#fff4f2,#f8f7fb,#f8f6fa,#fbf6f7,#fcf5f6,#fff3f1,#fef5f4,#f9f6f9,#fbf5f7,#f6f7fc,#faf6f8,#faf6f8,#fbf6f7,#fef4f3,#fbf5f7,#fff4f1)"></i><i style="height:4px;background:linear-gradient(90deg,#ffd3c8,#ffeeea,#ffc7b9,#ffc9bc,#ffbbab,#ffd4ca,#ffd5ca,#ffc2b3,#ffc3b4,#ffc1b1,#ffc7b9,#ffd7ce,#ffddd5,#ffe9e4,#ffd3c8,#ffede9,#ffe7e1,#ffdbd2,#ffe2dc,#ffece7,#ffe7e1,#ffded6,#ffe7e1,#ffc7b9,#ffe4dd,#ffe6e0,#ffe2db,#ffb7a7,#ffcdc0,#ffe1da,#ffebe6,#ffddd5,#ffc8bb,#ffc1b2,#ffb5a5,#ffdcd4,#ffb5a5,#ffc2b3,#fdf5f4,#ffdbd2,#ff7c6e,#fff4f2,#b9ceff,#b3c9ff,#ffa697,#fdf5f4,#c7d9ff,#f8f7fa,#fff4f2,#dce8ff,#fbf6f7,#ffdbd2,#f8f7fb,#dde8ff,#fef4f3,#faf6f8,#fdf5f4,#ffe2db,#fbf5f6,#f6f7fd,#f5f8fe,#f3f7ff,#f7f7fc,#fef4f4,#f8f7fb,#f9f6f9,#fcf5f6,#ffe6e0,#f9f6fa,#f7f7fc,#fef5f4,#fff4f2,#f6f7fc,#f8f6fa,#fbf6f7,#f7f7fc,#f9f6f9,#fcf5f6,#fcf5f6,#fcf5f5,#faf6f8,#f7f7fc,#f6f7fd,#f5f8fe,#f7f7fb,#f6f7fc,#f8f7fa)"></i><i style="height:4px;background:linear-gradient(90deg,#ffccbf,#ffc1b2,#ffdcd4,#ffd8cf,#ffbcac,#ffb8a8,#ffc5b6,#ffbfaf,#ffe2db,#ffe3dc,#fff4f2,#ffdcd3,#ffd8cf,#fff4f2,#ffe8e2,#ffd6cc,#ffded6,#ffe2db,#ffeae6,#ffddd5,#ffe5e0,#ffd5cb,#ffd6cc,#faf6f8,#ffe6e0,#ffc3b4,#ffc9bc,#ffcabd,#ffdfd8,#ffe1da,#ffd9d0,#ffe7e2,#ffcbbe,#ffc8ba,#ffd9cf,#ffbcac,#ffb8a8,#ffc2b3,#e6eeff,#ffb2a2,#ff6a65,#ffeeea,#9eb8ff,#bacfff,#ffb2a2,#fbf6f7,#bcd1ff,#e4edff,#fdf5f4,#edf3ff,#d6e3ff,#f9f6f9,#fbf5f7,#f5f8fd,#fcf5f5,#fcf5f6,#f9f6f9,#f9f6f9,#fbf5f6,#f8f7fb,#ebf2ff,#faf6f8,#fcf5f5,#f0f5ff,#fbf5f7,#fdf5f5,#f5f8fe,#fcf5f6,#f6f7fd,#fef4f3,#f7f7fb,#f3f7ff,#f8f6fa,#fdf5f4,#f8f6fa,#f3f8ff,#f9f6fa,#f5f8fe,#f4f8ff,#f8f7fb,#f6f7fd,#f9f6f9,#f8f7fa,#f9f6f9,#f5f8fd,#f1f6ff,#f5f7fd)"></i><i style="height:4px;background:linear-gradient(90deg,#ffd1c5,#ffb8a8,#ffb8a8,#ffc5b6,#ffb5a5,#ffd9cf,#ffdad1,#ffe8e3,#ffece7,#ffd3c8,#ffe5df,#fff2ef,#ffe0d9,#ffd2c7,#ffddd4,#ffdcd4,#fff1ee,#ffd6cc,#ffe4de,#ffebe6,#ffd2c7,#ffebe7,#ffe9e3,#ffded6,#ffb0a0,#ffc1b1,#ffe2dc,#ffd8cf,#ffe6e0,#ffe0d9,#ffedea,#ffe4de,#ffbfaf,#fff4f2,#ffbdad,#ffb5a5,#ffd8ce,#ffdcd3,#dce7ff,#ffb3a3,#ff7b6e,#f6f7fc,#83a0ff,#b5cbff,#ff9e8f,#fdf5f5,#e2ebff,#b2c8ff,#e1ebff,#f7f7fc,#c4d7ff,#f8f7fb,#ffe2db,#fbf5f6,#f1f6ff,#fff2f0,#f5f8fe,#f5f8fe,#f6f7fc,#f7f7fb,#fef4f3,#e6eeff,#faf6f8,#e7efff,#eaf1ff,#eff5ff,#f5f8fe,#f6f7fd,#f1f6ff,#f9f6f9,#f6f7fd,#fff4f2,#f8f7fa,#f6f7fc,#f6f7fd,#faf6f8,#f9f6f9,#e7efff,#f0f5ff,#f7f7fb,#eef4ff,#edf3ff,#f4f8ff,#f4f8ff,#f6f7fc,#f8f6fa,#f8f7fb)"></i><i style="height:4px;background:linear-gradient(90deg,#ffc1b2,#ffbaaa,#ffcec1,#ffded6,#ffe4de,#ffeeea,#ffd8ce,#ffd1c6,#fff1ef,#ffe5de,#ffdbd2,#ffd8ce,#ffdad1,#ffdcd4,#fef5f4,#ffc2b2,#ffdbd2,#ffeeeb,#ffc3b4,#ffdbd3,#fef4f3,#ffe2db,#ffcabd,#ffb3a4,#ffd3c8,#ffd9d0,#ffe1da,#ffe6e0,#ffe6e0,#fff2f0,#ffcec1,#ffbeae,#ffeeeb,#ffeae5,#ffc4b5,#ffaa9b,#ffc1b1,#f8f6fa,#fef4f3,#ff8071,#ffc3b4,#ffe4de,#7997ff,#b5cbff,#ff6462,#f9f6fa,#e9f1ff,#9db7ff,#f8f7fb,#faf6f8,#dde8ff,#b7ccff,#f5f8fe,#fdf5f4,#dae6ff,#edf3ff,#fdf5f4,#f4f8ff,#f2f7ff,#f5f8fe,#f9f6f9,#fff0ed,#dbe6ff,#ecf2ff,#f7f7fc,#fcf5f6,#eff5ff,#ebf2ff,#f6f7fd,#f5f8fe,#eef4ff,#f7f7fc,#edf3ff,#fdf5f4,#f7f7fc,#f0f5ff,#f1f6ff,#f8f7fb,#f8f7fa,#ecf2ff,#e8efff,#f4f8ff,#f3f8ff,#eaf1ff,#eaf1ff,#f5f8fe,#eff5ff)"></i><i style="height:4px;background:linear-gradient(90deg,#ffe0d8,#ffe2db,#ffebe7,#ffe8e3,#ffd3c8,#ffd9d0,#fff4f3,#ffe5df,#ffd8ce,#ffd2c7,#ffd3c8,#ffe0d9,#fef4f3,#ffb7a7,#ffd1c5,#ffd7cd,#ffc8ba,#ffcec1,#fff4f2,#fff0ed,#ffdcd4,#ffb8a8,#ffb8a8,#ffd5cb,#ffe8e2,#ffded5,#ffe2dc,#ffe5df,#fef4f3,#ffd7cd,#ffc7b9,#ffb6a6,#ffe5df,#ffc1b1,#ffc8ba,#ffebe7,#ffd0c4,#e8f0ff,#ffab9c,#ff3548,#fef4f3,#ffd4c9,#7a98ff,#a6bfff,#ff5c5e,#fff4f3,#f8f7fa,#97b1ff,#bed2ff,#ecf2ff,#e9f1ff,#b9ceff,#f2f7ff,#f4f8ff,#dfeaff,#d4e2ff,#ecf2ff,#f9f6f9,#f2f6ff,#f5f8fe,#f4f8ff,#f5f8fe,#faf6f8,#e3ecff,#dce8ff,#f7f7fc,#f1f6ff,#e3ecff,#dbe7ff,#f4f8ff,#f4f8ff,#edf3ff,#e0eaff,#ecf2ff,#e8f0ff,#fbf6f7,#f5f7fd,#ebf2ff,#e6eeff,#f5f8fe,#f6f7fd,#f5f8fe,#e1ebff,#e5eeff,#f1f6ff,#e7efff,#e3edff)"></i><i style="height:4px;background:linear-gradient(90deg,#fff4f2,#ffe0d8,#ffd3c8,#ffe8e3,#ffede9,#ffe8e3,#ffdad1,#ffd9cf,#ffdbd2,#ffdcd3,#fff4f2,#ffb4a4,#ffcfc3,#ffdbd3,#ffdbd3,#ffc1b1,#ffd6cc,#fcf5f5,#ffdbd3,#ffd8ce,#ffa899,#ffbdad,#ffd3c8,#ffe9e4,#ffede9,#ffdad1,#ffe7e2,#fff2ef,#ffddd5,#ffc8ba,#ffc5b7,#fcf5f5,#ffd7cd,#ffb9a9,#ffae9e,#ffe5df,#fff1ee,#d9e5ff,#ff9d8d,#ff384b,#fbf5f7,#fdf5f4,#7d9bff,#99b3ff,#ff6a65,#ffeeeb,#fbf6f7,#89a6ff,#91acff,#c2d6ff,#e2ecff,#cdddff,#aec5ff,#f1f6ff,#fbf6f7,#f4f8fe,#dde8ff,#f5f8fd,#fdf5f5,#eff4ff,#e7efff,#edf3ff,#f1f6ff,#faf6f8,#edf3ff,#d0dfff,#ecf2ff,#f0f5ff,#f7f7fb,#e4edff,#dfe9ff,#e2ecff,#f0f5ff,#e1ebff,#d8e5ff,#eaf1ff,#e7efff,#f9f6f9,#f5f8fd,#e4edff,#dbe6ff,#eef4ff,#f6f7fd,#f5f7fd,#dae6ff,#dfe9ff,#eaf1ff)"></i><i style="height:4px;background:linear-gradient(90deg,#ffd4c9,#ffece8,#fff1ee,#ffddd5,#ffccbf,#ffdad1,#ffd9d0,#ffdcd4,#fff3f0,#ffb0a0,#ffd1c6,#ffdcd4,#ffe9e5,#ffbdad,#ffd0c5,#fdf5f4,#fff0ec,#ffd3c9,#ffc9bb,#ffac9c,#ffbeae,#ffc9bc,#ffe3dc,#ffe8e3,#ffd4c9,#ffe1da,#ffe7e1,#ffdcd3,#ffc2b2,#ffb5a5,#fff3f0,#ffeeea,#ffa99a,#ffbbab,#ffebe7,#ffb9aa,#e8efff,#f5f8fd,#ff8071,#ff2940,#fdf5f4,#f6f7fc,#85a2ff,#a1baff,#ff746a,#ffdfd8,#e8f0ff,#abc2ff,#657eff,#d7e4ff,#ebf2ff,#e3ecff,#a7bfff,#dfeaff,#ebf1ff,#f9f6f9,#edf3ff,#e9f0ff,#d1e0ff,#fff0ed,#ecf2ff,#e3ecff,#ecf3ff,#f1f6ff,#f5f7fd,#f6f7fd,#c2d6ff,#dee9ff,#eef4ff,#f2f7ff,#e0eaff,#d7e4ff,#e5eeff,#eaf1ff,#e4edff,#dfeaff,#d7e4ff,#dce7ff,#e2ecff,#f7f7fb,#f5f8fe,#dfeaff,#d7e4ff,#e4edff,#f5f8fe,#f0f5ff,#e2ecff)"></i><i style="height:4px;background:linear-gradient(90deg,#ffe7e1,#ffdad0,#ffcdc0,#ffddd5,#ffded6,#ffd7ce,#ffefec,#ffb1a1,#ffd0c4,#ffded6,#ffe4dd,#ffc7b9,#ffc4b6,#ffe1da,#fcf5f6,#ffe2db,#ffe4dd,#ffb3a3,#ffbbab,#ffd4c9,#ffd6cb,#ffe3dc,#ffd3c8,#ffd2c6,#ffd8cf,#ffe4de,#ffd9d0,#ffc5b7,#ffb7a7,#ffcec2,#ffdbd3,#ffbbab,#ffb7a7,#ff9989,#ffded6,#fff4f2,#d9e6ff,#ffb2a2,#ff6362,#ff5359,#fff3f1,#ecf3ff,#7794ff,#9fb8ff,#ff9888,#ffc9bb,#faf6f8,#dae6ff,#586dff,#9fb8ff,#bbcfff,#e5eeff,#afc6ff,#9cb6ff,#e5eeff,#f0f5ff,#e5edff,#cfdfff,#dae6ff,#c9dbff,#fff3f0,#ecf2ff,#e4edff,#e6efff,#e9f0ff,#eaf1ff,#f4f8fe,#cbdcff,#c8d9ff,#eff4ff,#dbe7ff,#f7f7fc,#dde8ff,#d4e2ff,#e1ebff,#e9f0ff,#dbe7ff,#d2e1ff,#dae6ff,#d9e5ff,#dde8ff,#f5f8fe,#f0f5ff,#d5e3ff,#d4e2ff,#dfeaff,#ecf3ff)"></i><i style="height:4px;background:linear-gradient(90deg,#ffc6b7,#ffdad1,#ffdbd3,#ffd8ce,#ffe5df,#ffb3a4,#ffcbbe,#ffd9d0,#ffe0d9,#ffd8ce,#ffc1b1,#ffc8ba,#fef4f3,#fff0ed,#ffd6cb,#ffc2b3,#ffa091,#ffbbab,#ffdbd3,#ffe0d9,#ffe3dd,#ffc9bc,#ffcabd,#ffddd5,#ffdcd4,#ffd1c6,#ffcec2,#ffb5a5,#ffb1a1,#fcf5f5,#ffede9,#ffbfaf,#ffc4b5,#ffe8e3,#ffc7b9,#f9f6f9,#dce8ff,#ffa192,#ff233c,#ff9182,#ffeae5,#f0f5ff,#667fff,#a2bbff,#ffa999,#ffafa0,#f7f7fb,#dfeaff,#5e75ff,#7694ff,#abc2ff,#e2ecff,#d6e3ff,#96b1ff,#a9c1ff,#dde8ff,#f7f7fb,#d9e6ff,#b8cdff,#c4d7ff,#e2ecff,#fdf5f4,#ebf2ff,#d0dfff,#eaf1ff,#dbe7ff,#e5eeff,#f4f8ff,#cfdeff,#bed2ff,#d1e0ff,#eaf1ff,#eef4ff,#d3e1ff,#d0dfff,#d1e0ff,#d2e1ff,#e0eaff,#d8e5ff,#d0dfff,#d6e3ff,#d3e1ff,#d7e4ff,#f1f6ff,#eff5ff,#d2e0ff,#d0dfff)"></i><i style="height:4px;background:linear-gradient(90deg,#ffd8cf,#ffdfd7,#ffe3dd,#ffbbab,#ffbfaf,#ffcfc3,#ffd9cf,#ffe3dc,#ffb4a4,#ffc2b3,#ffdfd7,#fcf5f5,#ffd7cd,#ffdcd3,#ffb7a8,#ffa494,#ffb9a9,#ffd4c9,#ffe6e0,#ffddd5,#ffc6b8,#ffcfc4,#ffe0d9,#ffe1da,#ffc2b2,#ffd5cb,#ffbdad,#ffbdad,#ffe9e5,#fcf5f5,#ffb8a8,#ffb3a3,#ff9e8e,#ffddd4,#fff2f0,#eaf1ff,#f6f7fd,#ff8c7d,#ff243c,#ffddd5,#fbf6f7,#cadbff,#5467ff,#98b3ff,#ffcbbf,#ff9d8d,#eef4ff,#f6f7fc,#6f8aff,#2b34fd,#a8c0ff,#c9daff,#d0dfff,#a4bcff,#9db6ff,#c9daff,#d9e5ff,#f4f8ff,#dde8ff,#b8cdff,#c7d9ff,#ecf2ff,#f7f7fc,#dae6ff,#d5e2ff,#e8f0ff,#d1e0ff,#e3ecff,#edf3ff,#d4e2ff,#afc6ff,#c7d9ff,#dee9ff,#ccdcff,#e9f0ff,#d3e1ff,#bed2ff,#d1e0ff,#d3e1ff,#dce7ff,#d4e2ff,#c9daff,#d5e3ff,#cfdeff,#d5e3ff,#edf3ff,#ebf2ff)"></i><i style="height:4px;background:linear-gradient(90deg,#ffe3dd,#ffc5b6,#ffb9a9,#ffc9bc,#ffdbd2,#ffe1da,#ffbeae,#ffc5b6,#ffd1c5,#fef5f4,#fff0ed,#ffddd5,#ffcfc3,#ffa999,#ffb1a1,#ffc9bb,#ffcec2,#ffede9,#ffdbd3,#ffc3b3,#ffd6cc,#ffe0d9,#ffece8,#ffc6b8,#ffc8bb,#ffc0b0,#ff9d8e,#fff3f1,#ffe7e2,#ffc4b5,#ffb5a5,#ffaf9f,#ffdbd2,#ffc1b1,#fbf6f7,#ccddff,#ffb6a6,#ff6763,#ff1b35,#fdf5f5,#f1f6ff,#afc5ff,#5062ff,#94afff,#fbf6f7,#ff9585,#eaf1ff,#f8f6fa,#97b1ff,#3a46ff,#7795ff,#98b3ff,#d1e0ff,#c0d4ff,#83a1ff,#8ca8ff,#cdddff,#e0eaff,#e0eaff,#cedeff,#b1c8ff,#cbdcff,#e1ebff,#f6f7fd,#d7e4ff,#cbdcff,#e8f0ff,#c8d9ff,#d6e3ff,#eff5ff,#e0eaff,#a6beff,#b7ccff,#d6e3ff,#d5e2ff,#e6eeff,#cdddff,#c8daff,#c0d4ff,#d0dfff,#d9e5ff,#d0dfff,#c5d7ff,#c1d5ff,#d1e0ff,#c4d7ff,#cdddff)"></i><i style="height:4px;background:linear-gradient(90deg,#ffb5a5,#ffcabd,#ffdad1,#ffe2db,#ffcec1,#ffb4a5,#ffc1b2,#ffdfd8,#fcf5f6,#ffd8ce,#ffd7cd,#ffc1b2,#ff9d8d,#ffb9a9,#ffd3c8,#ffd2c6,#ffe8e2,#ffd6cc,#ffc7b8,#ffcbbe,#ffdfd8,#fff4f3,#ffddd4,#ffc4b5,#ffb2a2,#ffaf9f,#ffb8a8,#fff0ed,#fff4f2,#ffb0a0,#ffaf9f,#ff9889,#ffcdc1,#ffcabd,#dee9ff,#c8d9ff,#ff8f80,#ff4753,#ff1b36,#f5f7fd,#fbf6f7,#97b1ff,#4c5dff,#8eaaff,#f2f6ff,#ff9c8d,#eaf1ff,#ecf2ff,#b2c8ff,#272ffc,#4d5fff,#82a0ff,#cadbff,#b8cdff,#90abff,#89a6ff,#bbd0ff,#cdddff,#eaf1ff,#b8cdff,#acc3ff,#c5d7ff,#d1e0ff,#dee9ff,#f6f7fd,#d2e0ff,#c4d7ff,#eaf1ff,#c1d5ff,#c7d9ff,#e8f0ff,#dce8ff,#b8cdff,#a4bdff,#b6cbff,#cfdfff,#c7d9ff,#e0eaff,#c5d7ff,#b2c9ff,#c2d6ff,#c1d5ff,#cdddff,#c6d8ff,#bfd3ff,#b2c9ff,#c5d8ff)"></i><i style="height:4px;background:linear-gradient(90deg,#ffddd5,#ffded7,#ffddd5,#ffb1a1,#ffbaaa,#ffd2c6,#fdf5f4,#fef4f3,#ffe3dd,#ffd8cf,#ffae9f,#ffa192,#ffb8a9,#ffd8ce,#ffddd5,#ffe0d8,#ffddd4,#ffcfc3,#ffc5b7,#ffd6cc,#fff4f3,#ffe4de,#ffcdc0,#ffb7a7,#ff9d8e,#ffa898,#fcf5f6,#fbf6f7,#ffbdad,#ffb0a0,#ffaa9a,#ffdad0,#ffbbab,#faf6f8,#d1e0ff,#ecf2ff,#ff9b8c,#ff0d2b,#ff233c,#fdf5f4,#ffe3dd,#8ca8ff,#4d5fff,#8fabff,#e6eeff,#ff8d7e,#faf6f8,#e9f0ff,#c7d9ff,#4555ff,#303bfe,#8fabff,#aec5ff,#bed2ff,#acc3ff,#7d9cff,#7490ff,#cfdfff,#c7d9ff,#e6eeff,#cedeff,#a4bdff,#bed2ff,#c7d9ff,#d1dfff,#faf6f8,#ccdcff,#c6d8ff,#eaf1ff,#c4d7ff,#c7d9ff,#dce7ff,#e5eeff,#bcd1ff,#a0b9ff,#b9ceff,#d1e0ff,#ccdcff,#dfeaff,#cadbff,#c0d4ff,#b0c7ff,#c0d4ff,#c8d9ff,#d3e1ff,#ccdcff,#c0d4ff)"></i><i style="height:4px;background:linear-gradient(90deg,#ffe9e4,#ffbdad,#ffbcac,#ffc1b1,#ffe5df,#fcf5f5,#ffd5ca,#ffd1c6,#ffc1b1,#ffa595,#ffa595,#ffbaaa,#ffdcd4,#ffe4de,#ffe0d9,#ffded6,#ffd5ca,#ffd3c8,#ffd8ce,#fcf5f5,#ffe3dd,#ffd6cc,#ffbbab,#ffab9b,#ffb2a3,#fef5f4,#ffefec,#ffdfd8,#ffb4a4,#ffab9b,#ff998a,#ffcdc0,#ffb9a9,#eef4ff,#c2d5ff,#ffc9bc,#ff8374,#fd0022,#ff6763,#fcf5f5,#ffdbd3,#8eaaff,#4b5dff,#8fabff,#dce8ff,#ff776c,#fff4f3,#f7f7fc,#dbe7ff,#5569ff,#2128fc,#6f8aff,#96b1ff,#d6e3ff,#bed2ff,#93aeff,#89a5ff,#b9ceff,#d0dfff,#e6eeff,#e5eeff,#c6d8ff,#a2bbff,#b8cdff,#acc3ff,#dde8ff,#f9f6f9,#ccdcff,#c5d7ff,#e7efff,#c4d7ff,#cadbff,#d1e0ff,#e5eeff,#c9daff,#9fb9ff,#aec5ff,#c5d8ff,#d2e1ff,#d0dfff,#e2ecff,#c6d8ff,#b6ccff,#bdd1ff,#c6d8ff,#d3e1ff,#d1dfff)"></i><i style="height:4px;background:linear-gradient(90deg,#ffb2a2,#ffbfaf,#ffd8cf,#fcf5f5,#fff4f3,#ffdfd8,#ffd5cb,#ffb5a6,#ff998a,#ffb2a2,#ffc4b5,#ffcec2,#ffe7e1,#ffe5df,#ffe5e0,#ffd0c5,#ffd1c5,#ffddd5,#fbf6f7,#ffe7e1,#ffded6,#ffc3b4,#ffb0a0,#ff9687,#ffdcd3,#fff4f2,#fef4f3,#ffb1a1,#ffb9a9,#ffa495,#ffd7cd,#ffc3b4,#fff1ee,#d5e2ff,#c6d8ff,#ffaa9a,#ff4e57,#ff0b2a,#ffab9b,#fcf5f6,#fff3f0,#8da9ff,#4c5dff,#8da9ff,#dbe7ff,#ff6562,#ffe9e4,#f5f8fe,#ecf3ff,#8ca8ff,#303afe,#4f61ff,#9fb8ff,#c2d5ff,#cbdcff,#a8c0ff,#7795ff,#6b86ff,#b5cbff,#d3e1ff,#eff4ff,#bed2ff,#c5d7ff,#abc2ff,#b9ceff,#b3c9ff,#eef4ff,#f7f7fc,#cadbff,#c6d8ff,#e6efff,#c8d9ff,#d2e1ff,#d5e3ff,#e7efff,#dae6ff,#adc4ff,#9eb7ff,#b1c7ff,#d1e0ff,#cbdcff,#e9f0ff,#ceddff,#c5d7ff,#b0c7ff,#c4d7ff,#c3d6ff)"></i><i style="height:4px;background:linear-gradient(90deg,#ffc1b1,#ffe6e0,#fcf5f6,#ffdad1,#ffd8ce,#ffcec2,#ffa898,#ff9d8d,#ffb5a6,#ffd3c8,#ffcbbf,#ffe7e1,#ffe2db,#ffe8e3,#ffcfc3,#ffccc0,#ffd7cd,#faf6f8,#ffece7,#ffdad2,#ffc5b6,#ffb4a4,#ffa898,#ffac9c,#faf6f8,#faf6f8,#ffbdad,#ffbaaa,#ffaf9f,#ff9283,#ffc0b0,#ffbeae,#f9f6f9,#c6d8ff,#e8efff,#ff998a,#ff3145,#f90022,#ffd7cd,#fcf5f5,#f9f6f9,#7693ff,#4f61ff,#89a6ff,#ccdcff,#ff4250,#ffcbbe,#f4f8ff,#f3f7ff,#a9c0ff,#313cfe,#343ffe,#8eaaff,#99b3ff,#d2e1ff,#b6ccff,#90acff,#7e9dff,#92adff,#c4d6ff,#d5e2ff,#e4edff,#c4d7ff,#acc3ff,#b0c7ff,#b7cdff,#c7d9ff,#f6f7fd,#f4f8ff,#cadbff,#c7d9ff,#e7efff,#c9daff,#ceddff,#d7e4ff,#e9f0ff,#e3ecff,#bdd2ff,#9db7ff,#b4caff,#cedeff,#d7e4ff,#d8e5ff,#e5edff,#c8d9ff,#b8ceff,#b7ccff)"></i><i style="height:4px;background:linear-gradient(90deg,#fdf5f5,#fef4f3,#ffded7,#ffd7ce,#ffbbab,#ffa595,#ffa393,#ffbcac,#ffdad1,#ffd8cf,#ffede9,#ffe2db,#ffe3dd,#ffd3c8,#ffc8ba,#ffd7ce,#faf6f8,#fff1ee,#ffd1c5,#ffc7b9,#ffab9c,#ff9c8d,#ffa595,#ffede9,#fff1ee,#fff3f0,#ffab9b,#ffac9d,#ffa192,#ffd0c4,#ffcabd,#ffeeea,#e4edff,#c4d6ff,#ffd5ca,#ff776c,#f90022,#ff0a29,#fcf5f6,#fcf5f5,#f3f7ff,#6a84ff,#5467ff,#87a4ff,#c8d9ff,#ff2b41,#ffa495,#edf3ff,#f8f7fa,#cadbff,#4959ff,#0001f8,#6c87ff,#96b1ff,#d3e1ff,#cdddff,#a4bdff,#7593ff,#6b86ff,#b1c8ff,#cfdeff,#ebf2ff,#eef4ff,#d1e0ff,#a5bdff,#c4d7ff,#c7d9ff,#d9e5ff,#faf6f8,#ebf2ff,#cedeff,#c7d9ff,#e2ecff,#c8d9ff,#cedeff,#d5e3ff,#ecf3ff,#ecf2ff,#bfd4ff,#9ab4ff,#a7bfff,#c0d4ff,#d2e0ff,#c4d7ff,#e8f0ff,#ccdcff,#c6d8ff)"></i><i style="height:4px;background:linear-gradient(90deg,#ffd9d0,#ffdfd8,#ffd4ca,#ffb2a2,#ff9585,#ffac9c,#ffbbab,#ffdcd4,#ffe3dc,#ffe9e4,#ffded6,#ffd3c9,#ffccc0,#ffcbbe,#ffd1c6,#fbf6f7,#fff1ef,#ffc9bc,#ffbeae,#ffae9e,#ff9686,#ffac9d,#fef4f3,#fef4f3,#fbf5f6,#ffb7a7,#ffac9c,#ffb1a1,#ff998a,#ffc4b6,#ffbfaf,#f7f7fb,#d4e2ff,#c8daff,#ffa696,#ff6160,#e90023,#ff0d2c,#f9f6f9,#f6f7fd,#e0eaff,#6078ff,#5568ff,#84a2ff,#c0d4ff,#ff263e,#ff9787,#eaf1ff,#e5edff,#c5d8ff,#576bff,#1f26fc,#5265ff,#aec5ff,#c4d7ff,#d3e1ff,#b8cdff,#98b3ff,#7592ff,#819fff,#ccdcff,#d5e2ff,#f3f8ff,#cbdcff,#c7d9ff,#9bb5ff,#bacfff,#cfdeff,#e1ebff,#faf6f8,#e9f0ff,#cbdcff,#c6d8ff,#dfeaff,#c6d8ff,#cbdcff,#cfdeff,#ebf2ff,#e9f1ff,#c9daff,#9eb7ff,#9eb7ff,#afc5ff,#cedeff,#d3e1ff,#dde8ff,#e7efff)"></i><i style="height:4px;background:linear-gradient(90deg,#ffd3c9,#ffbeae,#ffa494,#ff998a,#ffb4a4,#ffc3b4,#ffd0c4,#ffe6e0,#ffe4de,#ffdad1,#ffc8ba,#ffcdc1,#ffc9bb,#ffd7ce,#faf6f8,#fff1ef,#ffc0b0,#ffbeae,#ffac9c,#ff9687,#ff9081,#ffc1b1,#faf6f8,#f8f7fb,#ffc0b0,#ffae9e,#ffa898,#ff9383,#ffcfc3,#ffcfc3,#ffc6b8,#eff5ff,#bbd0ff,#e4edff,#ff8374,#ff3649,#f70022,#ff3d4d,#fcf5f6,#e8f0ff,#dee9ff,#5265ff,#566bff,#86a3ff,#b7ccff,#ff3045,#ff8b7c,#ebf2ff,#f1f6ff,#dde8ff,#86a3ff,#2831fd,#3641fe,#8ca8ff,#9fb8ff,#e4edff,#c9daff,#a1baff,#708cff,#6d88ff,#c2d6ff,#d3e1ff,#e3ecff,#ecf3ff,#c2d5ff,#c1d4ff,#a5bdff,#b1c8ff,#cadbff,#e1ebff,#faf6f8,#e6eeff,#cdddff,#c6d8ff,#dfe9ff,#c7d9ff,#cadbff,#c4d7ff,#dce8ff,#e7efff,#d9e5ff,#b1c8ff,#a1baff,#b5caff,#cdddff,#d4e2ff,#c5d7ff)"></i><i style="height:4px;background:linear-gradient(90deg,#ffb8a9,#ff9f90,#ffa292,#ffb3a3,#ffd0c5,#ffcfc3,#ffe3dc,#ffe0d8,#ffd6cb,#ffbbab,#ffcabd,#ffc6b8,#ffd3c9,#fcf5f6,#fff3f1,#ffc1b1,#ffc3b3,#ffb3a3,#ffa596,#ff9384,#ffab9b,#fff2f0,#fef4f3,#fdf5f5,#ffac9c,#ffab9c,#ffb3a3,#ff9182,#ffbcac,#ffb3a3,#fef4f3,#d2e0ff,#bcd0ff,#ffe8e3,#ff8576,#ff233b,#f30023,#ff7f70,#fbf6f7,#f6f7fc,#d8e5ff,#3f4dff,#5062ff,#7f9dff,#a8bfff,#ff394b,#ff7f70,#fcf5f5,#f7f7fb,#eef4ff,#92adff,#3440fe,#0e11fa,#6b86ff,#9bb5ff,#cfdeff,#ccdcff,#bfd3ff,#94afff,#718eff,#7998ff,#c0d4ff,#d5e3ff,#f6f7fd,#f3f7ff,#d1e0ff,#a3bcff,#a2bbff,#b9ceff,#b5cbff,#dae6ff,#f8f6fa,#e4edff,#d0dfff,#c9dbff,#e0eaff,#c7d9ff,#c5d8ff,#c4d7ff,#d9e6ff,#eaf1ff,#e1ebff,#bcd1ff,#9db7ff,#abc2ff,#bcd1ff,#d0dfff)"></i><i style="height:4px;background:linear-gradient(90deg,#ff9383,#ffa898,#ffb4a4,#ffdbd2,#ffd7cd,#ffe7e2,#ffe2db,#ffd5cb,#ffb6a6,#ffcbbd,#ffc4b5,#ffd4c9,#fbf6f7,#fff0ed,#ffc9bb,#ffcdc0,#ffb9a9,#ffac9c,#ff9c8d,#ffa090,#fef4f4,#fcf5f5,#f9f6f9,#ffbfaf,#ffb4a4,#ffa494,#ff9383,#ffcdc1,#ffc8ba,#ffb2a2,#f8f7fb,#c6d8ff,#c3d6ff,#ffa595,#ff6a65,#f20023,#e90023,#ffc0b0,#fcf5f5,#fff4f2,#cbdbff,#3a47ff,#4f61ff,#7a99ff,#a2bbff,#ff4954,#ff756b,#fff4f2,#f5f7fd,#f3f7ff,#b2c8ff,#3e4cff,#0f12fa,#5569ff,#b3c9ff,#aec5ff,#dde8ff,#c1d5ff,#9ab4ff,#6a84ff,#718dff,#b8cdff,#cadbff,#d2e1ff,#f5f8fe,#d8e5ff,#c9daff,#9db7ff,#b5cbff,#b4caff,#a9c0ff,#d3e1ff,#f9f6f9,#e4edff,#d5e2ff,#c7d9ff,#e1ebff,#cadbff,#c2d6ff,#c7d9ff,#d5e2ff,#edf3ff,#e9f1ff,#c2d6ff,#9bb5ff,#a2bbff,#b0c6ff)"></i><i style="height:4px;background:linear-gradient(90deg,#ffaf9f,#ffbeae,#ffdad1,#ffd9d0,#ffece8,#ffddd5,#ffd5cb,#ffb7a7,#ffcfc3,#ffc5b7,#ffd0c4,#fbf5f6,#ffece8,#ffd3c9,#ffd0c4,#ffbeae,#ffa091,#ff8b7c,#ffa797,#ffe3dd,#faf6f8,#f6f7fc,#ffdad1,#ffa999,#ffab9c,#ffaf9f,#ff9787,#ffb9aa,#ffb2a2,#fff4f2,#e4edff,#b6cbff,#dee8ff,#ff8879,#ff4652,#d90024,#fd0022,#ffd9cf,#faf6f8,#ffe5df,#b6ccff,#3743fe,#4c5eff,#7c9bff,#a3bcff,#ff5d5e,#ff7d6f,#ffefeb,#f6f7fd,#f9f6f9,#c6d8ff,#4f61ff,#232bfc,#3945ff,#85a2ff,#99b3ff,#d7e4ff,#cfdfff,#c3d6ff,#96b1ff,#6983ff,#718dff,#b5cbff,#d4e2ff,#eff4ff,#edf3ff,#bcd1ff,#c4d7ff,#99b3ff,#c0d4ff,#bdd1ff,#b2c9ff,#d7e4ff,#f9f6fa,#e2ebff,#d5e2ff,#c8daff,#dde8ff,#cbdcff,#bdd2ff,#ceddff,#d8e5ff,#ecf2ff,#ebf2ff,#ceddff,#aac1ff,#a0b9ff)"></i><i style="height:4px;background:linear-gradient(90deg,#ffc6b8,#ffddd5,#ffe3dd,#ffece8,#ffe2db,#ffd7cd,#ffb4a4,#ffcabd,#ffc7b9,#ffd3c9,#fdf5f4,#ffe6e1,#ffd1c6,#ffd3c8,#ffc1b1,#ffa191,#ff8a7a,#ff8b7c,#ffb4a4,#fbf5f7,#fcf5f6,#fcf5f6,#ffb3a3,#ffab9b,#ffa091,#ff8b7b,#ffcbbe,#ffc1b1,#ffb8a8,#f5f8fe,#cbdcff,#b8cdff,#fdf5f4,#ff9080,#ff243c,#e50023,#fd0022,#faf6f8,#fdf5f4,#ffe1da,#a0b9ff,#3540fe,#4555ff,#7997ff,#9eb7ff,#ff746b,#ff7f70,#ffe3dd,#ebf2ff,#eaf1ff,#cadbff,#7997ff,#1c21fb,#171cfb,#657eff,#99b4ff,#cbdbff,#d3e1ff,#c3d6ff,#9cb6ff,#6c86ff,#7693ff,#9eb7ff,#cdddff,#dbe7ff,#f7f7fb,#f4f8ff,#c8daff,#bacfff,#9bb5ff,#b7ccff,#c6d8ff,#c6d8ff,#e0eaff,#fbf5f7,#e1ebff,#d7e4ff,#c7d9ff,#dce7ff,#cbdbff,#bfd3ff,#ceddff,#d8e5ff,#eaf1ff,#edf3ff,#dbe7ff,#bbd0ff)"></i><i style="height:4px;background:linear-gradient(90deg,#ffd3c8,#ffe9e4,#ffe9e4,#ffe2db,#ffe0d8,#ffb7a7,#ffcabd,#ffc6b7,#ffd1c6,#fcf5f5,#ffece7,#ffdfd8,#ffcec2,#ffbbab,#ffa293,#ff9080,#ff8d7e,#ffa797,#ffefec,#fdf5f4,#f7f7fb,#ffbeae,#ffaa9b,#ffaa9a,#ffa898,#ff9384,#ffb4a4,#ffb0a0,#ffdfd7,#eaf1ff,#b9cfff,#c3d6ff,#ffae9e,#ff6964,#ff102d,#e80023,#ff1f39,#f8f7fa,#fcf5f5,#fef4f3,#8aa7ff,#303afd,#4250ff,#7592ff,#9fb9ff,#ff8475,#ff6f68,#ffcbbe,#eff5ff,#e2ebff,#e2ecff,#85a3ff,#343ffe,#0300ec,#5a6fff,#bbd0ff,#a2bbff,#e3ecff,#d7e4ff,#bbd0ff,#91adff,#657eff,#657dff,#b3c9ff,#d0dfff,#d5e3ff,#f7f7fb,#e4edff,#cedeff,#a2bbff,#a4bcff,#b2c9ff,#c9daff,#d1e0ff,#edf3ff,#fbf5f6,#e0eaff,#d6e4ff,#c6d8ff,#d9e6ff,#d3e1ff,#bfd3ff,#d1e0ff,#d6e3ff,#e7efff,#ebf2ff,#e5eeff)"></i><i style="height:4px;background:linear-gradient(90deg,#ffe8e3,#ffe3dd,#ffdfd7,#ffe1d9,#ffc0b0,#ffc7b9,#ffc8ba,#ffd7ce,#fcf5f6,#ffebe7,#ffe3dd,#ffcdc1,#ffb7a7,#ffa292,#ff9b8c,#ff9182,#ff9a8b,#fff4f2,#fbf5f6,#f6f7fd,#fff0ed,#ffad9e,#ffa293,#ffa191,#ff8a7b,#ffc6b7,#ffc0b0,#ffbcac,#fbf5f6,#cedeff,#afc6ff,#e0eaff,#ff9687,#ff5459,#e60023,#de0024,#ff6462,#fbf6f7,#f9f6f9,#f8f7fb,#7f9eff,#2f39fd,#4453ff,#7b9aff,#a1baff,#ff9181,#ff5c5e,#ffb4a4,#e4edff,#f5f8fe,#f4f8ff,#a6beff,#3b47ff,#151afa,#3945ff,#89a6ff,#9bb5ff,#d1dfff,#d7e4ff,#c5d8ff,#97b1ff,#647dff,#6e89ff,#82a0ff,#c7d9ff,#d5e3ff,#f4f8ff,#eff5ff,#c2d5ff,#c3d6ff,#9bb5ff,#a3bbff,#b6cbff,#cdddff,#dce7ff,#f7f7fc,#fef4f3,#dfe9ff,#dbe6ff,#c7d9ff,#dbe7ff,#d5e2ff,#c4d7ff,#d0dfff,#cedeff,#dfe9ff,#edf3ff)"></i><i style="height:4px;background:linear-gradient(90deg,#ffe9e4,#ffe1da,#ffe0d9,#ffbeae,#ffc4b5,#ffc4b4,#ffd6cc,#fcf5f5,#ffece7,#ffe1da,#ffcabd,#ffbaab,#ffa696,#ff9f90,#ff8b7c,#ffa393,#ffcdc1,#f9f6fa,#fbf5f7,#fbf6f7,#ffbcac,#ffb1a1,#ffa090,#ff998a,#ff9384,#ffb1a1,#ffbbab,#ffc7b9,#f7f7fc,#c8daff,#b3c9ff,#fbf6f7,#ff7b6e,#ff3145,#cf0024,#d90024,#ff9e8f,#fbf5f6,#f1f6ff,#f4f8fe,#738fff,#303afe,#4757ff,#7997ff,#9eb7ff,#ff9b8c,#ff5057,#ff9485,#e8efff,#f7f7fc,#f4f8ff,#bfd3ff,#4b5cff,#2027fc,#1e24fb,#6a85ff,#9db6ff,#c2d6ff,#e9f0ff,#d1e0ff,#b2c8ff,#94afff,#647dff,#5f76ff,#bdd2ff,#c6d8ff,#dae6ff,#f9f6f9,#f5f8fe,#c0d4ff,#c0d4ff,#94afff,#b9ceff,#b5cbff,#bed2ff,#dde8ff,#f9f6f9,#fff4f1,#e0eaff,#d8e5ff,#c5d8ff,#d8e4ff,#d8e5ff,#c6d8ff,#cdddff,#c0d4ff,#dae6ff)"></i><i style="height:4px;background:linear-gradient(90deg,#ffded6,#ffddd5,#ffc0b1,#ffc0b0,#ffc4b5,#ffd1c6,#fdf5f4,#fff0ed,#ffe1da,#ffc1b1,#ffb9a9,#ffae9e,#ff9687,#ff7e70,#ff8c7d,#ffad9d,#fff0ed,#fcf5f5,#f5f7fd,#ffc0b0,#ffa898,#ffa696,#ffa090,#ff8172,#ffc6b7,#ffbcac,#ffb5a5,#fff4f2,#e5eeff,#aec5ff,#c3d6ff,#ffb4a4,#ff796d,#ff1430,#d30024,#f00023,#ffc4b5,#faf6f7,#eaf1ff,#e9f0ff,#6d88ff,#2d36fd,#4554ff,#7592ff,#9db7ff,#ffad9d,#ff4150,#ff8879,#fbf5f7,#f6f7fd,#faf6f8,#c5d7ff,#6f8aff,#1c22fb,#0500e4,#5f76ff,#bbd0ff,#a4bdff,#e2ecff,#cfdfff,#b8cdff,#96b1ff,#6882ff,#7491ff,#7b99ff,#b5cbff,#d2e1ff,#e1ebff,#f5f8fe,#e7efff,#cdddff,#b8ceff,#95b0ff,#b9ceff,#b4caff,#acc3ff,#dbe6ff,#fbf6f7,#fff1ee,#dee9ff,#dee9ff,#c9daff,#d9e5ff,#d9e6ff,#c7d9ff,#c6d8ff,#c5d7ff)"></i><i style="height:4px;background:linear-gradient(90deg,#ffd3c8,#ffbfaf,#ffbeae,#ffc2b2,#ffd1c5,#fff4f2,#fff0ed,#ffe3dd,#ffbfaf,#ffbeae,#ffb5a5,#ff9c8d,#ff8475,#ff8273,#ffa191,#fef5f4,#fbf5f6,#f4f8fe,#fdf5f5,#ffae9e,#ffaf9f,#ffa091,#ff9889,#ff9484,#ffaf9f,#ffc0b1,#ffb5a5,#f4f8ff,#c8d9ff,#a9c0ff,#dae6ff,#ff9d8e,#ff5c5e,#ff0224,#dc0024,#f30023,#ffe0d9,#fbf6f7,#f5f8fe,#d8e5ff,#6f8bff,#313cfe,#4a5bff,#7795ff,#9cb6ff,#ffcabd,#ff2a40,#ff8273,#fef4f3,#f7f7fc,#f6f7fc,#d6e4ff,#82a0ff,#313cfe,#0203f8,#333efe,#84a1ff,#9eb7ff,#d5e3ff,#e2ebff,#ccdcff,#adc4ff,#97b1ff,#6178ff,#6179ff,#b7ccff,#cfdfff,#dbe6ff,#f5f8fe,#eef4ff,#c9daff,#c8d9ff,#9eb7ff,#9db7ff,#b3c9ff,#c3d6ff,#b0c7ff,#dde8ff,#fbf5f7,#ffede9,#e2ebff,#dce8ff,#c7d9ff,#d6e3ff,#dde8ff,#c8daff,#c9daff)"></i><i style="height:4px;background:linear-gradient(90deg,#ffc0b0,#ffbeae,#ffc2b3,#ffd3c8,#fef4f4,#fdf5f5,#ffe9e5,#ffbbab,#ffc4b5,#ffb8a8,#ff9d8e,#ff8a7b,#ff8a7b,#ff9686,#ffe3dc,#f7f7fb,#faf6f8,#f9f6f9,#ffbeae,#ffa798,#ffa99a,#ffa595,#ff7c6e,#ffbeae,#ffb8a8,#ffb2a2,#fff0ed,#e8efff,#c1d5ff,#acc3ff,#f8f7fa,#ff736a,#ff4753,#dd0024,#d80024,#ff0b2a,#f6f7fc,#fcf5f6,#f9f6f9,#d4e2ff,#718dff,#3540fe,#5062ff,#7795ff,#96b1ff,#ffebe7,#ff1b36,#ff786c,#ffebe7,#f4f8fe,#e4edff,#e5edff,#9ab4ff,#3743fe,#0d10f9,#1d23fb,#6b85ff,#a2bbff,#b1c8ff,#ecf3ff,#d8e5ff,#b8cdff,#92aeff,#637bff,#728fff,#7490ff,#b0c7ff,#d2e0ff,#d7e4ff,#fcf5f6,#f6f7fd,#b8cdff,#c1d4ff,#9db7ff,#a0b9ff,#b4caff,#c9daff,#b9cfff,#d4e2ff,#fcf5f6,#fff4f2,#e3ecff,#dde8ff,#c6d8ff,#d4e2ff,#e1ebff,#c8daff)"></i><i style="height:4px;background:linear-gradient(90deg,#ffbaaa,#ffc4b5,#ffd1c5,#fef5f4,#fcf5f6,#ffece7,#ffbcac,#ffc9bc,#ffb9a9,#ff9c8c,#ff9282,#ff8778,#ff9e8f,#ffb9a9,#fff4f2,#fcf5f6,#f5f8fe,#ffd2c7,#ffa899,#ffa191,#ff9889,#ff9181,#ff9384,#ffa898,#ffc2b2,#ffb2a2,#f9f6f9,#d5e2ff,#b2c8ff,#c6d8ff,#ffbcac,#ff8071,#ff253d,#c80023,#cf0024,#ff4753,#f7f7fb,#fcf5f5,#fff3f1,#d2e0ff,#657eff,#313cfe,#5163ff,#7390ff,#95b0ff,#fbf5f7,#ff0c2b,#ff6c66,#ffebe6,#eff4ff,#ebf2ff,#f2f7ff,#b1c8ff,#4554ff,#1114fa,#0000f6,#637aff,#b6ccff,#a7bfff,#d7e4ff,#dce7ff,#c6d8ff,#a7bfff,#90acff,#6078ff,#6178ff,#a2bbff,#cdddff,#d7e4ff,#eef4ff,#f7f7fb,#eff4ff,#c7d9ff,#c0d4ff,#8faaff,#a5bdff,#b2c8ff,#cedeff,#c6d8ff,#d5e3ff,#fdf5f5,#fdf5f4,#e3ecff,#dce7ff,#c5d7ff,#d2e1ff,#e5eeff)"></i><i style="height:4px;background:linear-gradient(90deg,#ffc0b0,#ffd2c6,#fdf5f4,#faf6f8,#fff4f2,#ffc0b0,#ffcdc1,#ffb5a5,#ff9d8d,#ff9787,#ff7c6f,#ff8879,#ffa596,#ffeeeb,#fdf5f4,#f5f8fe,#fbf5f7,#ffb3a4,#ffac9c,#ffa192,#ffa696,#ff796d,#ffbeae,#ffb4a4,#ffae9e,#ffd9cf,#f7f7fb,#c8daff,#adc4ff,#dbe7ff,#ff9a8b,#ff5e5f,#ff0a2a,#c00022,#d40024,#ff756b,#fbf6f7,#fbf5f7,#ffe9e4,#cbdcff,#5467ff,#2b35fd,#5467ff,#7592ff,#91adff,#f6f7fc,#ff0b2a,#ff6864,#ffe0d9,#f4f8ff,#f7f7fc,#f6f7fd,#c7d9ff,#667fff,#1f26fc,#0600df,#333efe,#82a0ff,#a6beff,#d0dfff,#f0f5ff,#dbe7ff,#c1d5ff,#8fabff,#637bff,#718dff,#6d88ff,#b5cbff,#c8daff,#dce7ff,#f6f7fc,#eff5ff,#d2e0ff,#ccdcff,#afc5ff,#8da9ff,#b5cbff,#b1c8ff,#cdddff,#d5e3ff,#dfe9ff,#fcf5f6,#fbf5f7,#e1ebff,#dde8ff,#c6d8ff,#d5e3ff)"></i><i style="height:4px;background:linear-gradient(90deg,#ffd3c8,#fdf5f5,#f9f6f9,#fff2ef,#ffcdc0,#ffcec2,#ffb0a0,#ff9f90,#ff9081,#ff786c,#ff7a6d,#ff9787,#fff1ee,#faf6f8,#f9f6f9,#f8f7fa,#ffbbab,#ffa595,#ff9d8d,#ff9687,#ff8f7f,#ff9586,#ffaa9a,#ffbfaf,#ffb9a9,#fff3f1,#e5edff,#b5cbff,#a6beff,#f5f8fe,#ff7b6e,#ff4552,#f70022,#d00024,#e50023,#ffad9e,#fbf5f7,#faf6f8,#ffe3dc,#bfd4ff,#4a5bff,#2831fd,#566aff,#6f8aff,#8aa7ff,#f3f7ff,#ff1330,#ff6b65,#ffc3b3,#e3ecff,#f7f7fb,#f8f6fa,#c1d5ff,#819fff,#323dfe,#090af9,#262efc,#6881ff,#acc3ff,#a7bfff,#e5eeff,#d9e5ff,#c8d9ff,#a4bcff,#91adff,#5c72ff,#637bff,#88a5ff,#bbcfff,#d1e0ff,#dce7ff,#fcf5f6,#f6f7fd,#bbd0ff,#c4d7ff,#9cb5ff,#98b2ff,#b8cdff,#b0c7ff,#c0d4ff,#dde8ff,#e2ecff,#fbf5f7,#f9f6fa,#e2ecff,#dee9ff,#c9daff)"></i><i style="height:4px;background:linear-gradient(90deg,#fef4f4,#f7f7fb,#fff3f1,#ffcec2,#ffc6b8,#ffb3a3,#ffa696,#ff9081,#ff7f70,#ff8273,#ff9383,#ffcfc3,#fbf5f6,#fcf5f6,#eff5ff,#ffe8e3,#ffad9d,#ffad9e,#ff9b8c,#ffa696,#ff736a,#ffc1b1,#ffb5a5,#ffa999,#ffbdad,#f5f8fe,#c8daff,#abc2ff,#c1d4ff,#ffc9bb,#ff7068,#ff2f44,#d80024,#d00024,#e30023,#ffbeae,#fbf6f7,#f6f7fd,#fff2ef,#adc4ff,#4453ff,#2026fc,#576bff,#6e89ff,#89a5ff,#e8f0ff,#ff1c36,#ff7068,#ffb6a6,#e6eeff,#f6f7fc,#faf6f8,#dbe7ff,#91adff,#3844fe,#151afa,#090bf9,#627aff,#b0c6ff,#a0b9ff,#dae6ff,#ecf3ff,#d6e3ff,#c8d9ff,#8fabff,#627aff,#708cff,#6179ff,#bdd2ff,#cdddff,#dee9ff,#f2f7ff,#f8f7fa,#f4f8ff,#c3d6ff,#c1d4ff,#99b4ff,#9eb7ff,#b2c8ff,#b5caff,#b5caff,#dce7ff,#edf3ff,#fbf5f6,#f7f7fc,#e4edff,#dde8ff)"></i><i style="height:4px;background:linear-gradient(90deg,#f7f7fc,#fef4f3,#ffdbd3,#ffc2b3,#ffaf9f,#ffad9d,#ff9283,#ff8374,#ff8677,#ff9687,#ffae9e,#ffeae6,#fdf5f5,#f5f8fe,#faf6f8,#ffbcac,#ffa596,#ffa191,#ff9889,#ff8879,#ff9383,#ffaf9f,#ffbfaf,#ffb4a5,#ffeeea,#e8efff,#c5d8ff,#abc2ff,#d8e5ff,#ff9a8b,#ff6864,#ff112f,#bf0022,#c80023,#f60022,#ffe2db,#fbf5f6,#ebf2ff,#faf6f7,#9fb8ff,#3d4bff,#151afa,#5c71ff,#708bff,#84a2ff,#e1ebff,#ff253d,#ff6864,#ffa192,#f9f6f9,#f6f7fc,#edf3ff,#e5eeff,#aac1ff,#4756ff,#0c0ff9,#0900d2,#3641fe,#7f9dff,#a3bcff,#c2d5ff,#f3f7ff,#d5e3ff,#c8d9ff,#a5beff,#8fabff,#5b70ff,#667fff,#7e9cff,#b3c9ff,#d5e3ff,#dee9ff,#f8f6fa,#eff5ff,#dae6ff,#cedeff,#bdd1ff,#90abff,#9db7ff,#adc4ff,#c2d5ff,#a8c0ff,#dde8ff,#f6f7fd,#fbf5f6,#f5f8fe,#e2ebff)"></i><i style="height:4px;background:linear-gradient(90deg,#fff2f0,#ffd9d0,#ffc2b2,#ffb5a5,#ffae9e,#ff9081,#ff897a,#ff7a6d,#ff8576,#ff998a,#ffece8,#faf6f8,#f9f6f9,#f8f7fb,#ffbcac,#ffa596,#ffa797,#ff9b8b,#ffa192,#ff7169,#ffbbab,#ffb5a5,#ffae9e,#ffb0a0,#f7f7fc,#dae6ff,#b2c8ff,#a6bfff,#f5f8fe,#ff8e7f,#ff4c56,#fc0022,#ae0021,#bd0022,#ff3145,#f6f7fc,#fbf5f6,#e9f0ff,#f5f8fe,#8fabff,#333efe,#0d10f9,#5c71ff,#6e89ff,#84a2ff,#e3ecff,#ff2f44,#ff5d5e,#ff8879,#fff4f2,#f7f7fb,#e7efff,#f4f8ff,#c0d4ff,#6077ff,#2128fc,#0100f3,#262efc,#657eff,#b5cbff,#afc5ff,#dde8ff,#e2ebff,#cdddff,#c5d8ff,#87a4ff,#5f76ff,#6b85ff,#5c72ff,#b3c9ff,#d3e1ff,#d7e4ff,#e0eaff,#fdf5f4,#f7f7fc,#c3d6ff,#cedeff,#acc3ff,#8ba7ff,#aac1ff,#afc6ff,#c7d9ff,#b1c8ff,#dde8ff,#f9f6f9,#fdf5f5,#f5f8fe)"></i><i style="height:4px;background:linear-gradient(90deg,#ffdbd2,#ffbdad,#ffb8a8,#ffb0a0,#ff9181,#ff8f7f,#ff7068,#ff766b,#ff9081,#ffe2db,#fbf5f7,#fbf5f6,#f1f6ff,#fff4f2,#ffb0a0,#ffa797,#ffa596,#ff9787,#ff8374,#ff9484,#ffac9d,#ffb9a9,#ffb2a3,#ffe9e4,#f5f8fe,#c1d5ff,#a9c0ff,#c5d8ff,#ffcdc1,#ff6361,#ff394b,#f00023,#bb0022,#cc0023,#ff5d5e,#f7f7fc,#fdf5f4,#f5f7fd,#eff4ff,#809fff,#272ffc,#090af9,#5b71ff,#6d88ff,#83a1ff,#dbe6ff,#ff3e4e,#ff4e56,#ff7e70,#ffefec,#f0f5ff,#eff4ff,#f6f7fd,#c1d5ff,#7b9aff,#313bfe,#090bf9,#0b0df9,#6077ff,#b0c6ff,#a2bbff,#d6e3ff,#f2f7ff,#d9e5ff,#c0d4ff,#9db7ff,#8ca8ff,#586dff,#657eff,#728fff,#b1c7ff,#ccdcff,#e0eaff,#f6f7fd,#f8f7fa,#f6f7fd,#c3d6ff,#c2d6ff,#9eb7ff,#93aeff,#b6ccff,#b4caff,#d3e1ff,#b8ceff,#d9e5ff,#fcf5f6,#fff1ef)"></i></div>
<div class="hm" style="left:130px;top:801px;width:426px;height:379px"><i style="height:4px;background:linear-gradient(90deg,#f5f8fe,#ffd1c6,#ffa797,#ffab9b,#ffb8a8,#ffaa9a,#ff8071,#ff8c7d,#ff9a8b,#ffae9f,#fef4f3,#b2c8ff,#9db7ff,#f3f8ff,#ffcdc0,#ffd4ca,#ffb8a8,#ff8e7f,#ff6c66,#ff6864,#ff5c5e,#ffe3dd,#fcf5f5,#fbf5f6,#f4f8ff,#a7bfff,#8ca9ff,#98b3ff,#7593ff,#bed2ff,#ffcdc0,#ff7e6f,#ff7e6f,#ffdad1,#f3f7ff,#ffe9e4,#f3f7ff,#faf6f8,#dce7ff,#6780ff,#160092,#16008c,#180077,#19006c,#18007a,#0400e8,#84a2ff,#d9e5ff,#f8f6fa,#ffb4a5,#ffd7cd,#ffc3b4,#ff8d7e,#ff8677,#ff756b,#ff8374,#ffa999,#acc3ff,#5b70ff,#8da9ff,#c1d5ff,#fef4f3,#ff9b8c,#ff7a6d,#ff3649,#ff6d67,#ff4853,#ff7068,#ffa999,#fbf6f7,#ecf3ff,#dbe7ff,#fdf5f4,#ffc0b1,#ff8273,#ff575b,#ff6763,#ff7e70,#ff6d67,#ff9c8c,#ffccc0,#ffe7e2,#fef4f3,#d1e0ff,#f6f7fd,#faf6f8,#ffcbbe)"></i><i style="height:4px;background:linear-gradient(90deg,#bfd3ff,#f6f7fd,#ffc4b4,#ff9d8e,#ffb1a2,#ffad9d,#ffa091,#ff6e67,#ff8d7e,#ffa091,#ff9b8b,#f1f6ff,#97b1ff,#b3c9ff,#fcf5f5,#ffcbbe,#ffbcac,#ffb6a6,#ff897a,#ff6160,#ff4753,#ffa696,#fdf5f5,#fff2ef,#f4f8ff,#e3edff,#a6bfff,#91adff,#718dff,#9cb6ff,#fff1ee,#ff9687,#ff8172,#ffeae5,#eef4ff,#ffded6,#f4f8ff,#faf6f8,#e0eaff,#6882ff,#160095,#160091,#180073,#19006d,#18007a,#0506f9,#9cb6ff,#e9f0ff,#fff2f0,#ffb7a7,#ffe1da,#ffaa9a,#ff8374,#ff8677,#ff7a6d,#ff766b,#ffe5df,#83a1ff,#647cff,#94afff,#cedeff,#ffd5cb,#ff8e7f,#ff6160,#ff5057,#ff6f67,#ff6060,#ff8273,#faf6f8,#faf6f8,#c1d4ff,#f9f6f9,#ffcdc0,#ff9a8b,#ff6a65,#ff5f5f,#ff8273,#ff6c66,#ff8878,#ffb4a4,#ffe0d9,#fef4f4,#dae6ff,#f3f7ff,#faf6f8,#ffcbbd,#ff7e70)"></i><i style="height:4px;background:linear-gradient(90deg,#8aa6ff,#c9daff,#f7f7fc,#ffc8ba,#ff9080,#ffbbab,#ffaf9f,#ff9384,#ff7f70,#ffa595,#ffa999,#ffc4b5,#d5e3ff,#99b3ff,#cfdeff,#ffd2c7,#ffe9e4,#ffccc0,#ff9585,#ff746a,#ff6c66,#ff6663,#ffdbd2,#fcf5f5,#faf6f8,#f1f6ff,#b2c8ff,#8da9ff,#809eff,#99b3ff,#fef4f3,#ffa191,#ff8879,#ffcfc3,#f6f7fc,#ffece7,#faf6f8,#f6f7fc,#eff4ff,#7390ff,#15009a,#160094,#180074,#180074,#18007e,#151afa,#a9c1ff,#f1f6ff,#ffe3dd,#ffa899,#ffdbd2,#ff9485,#ff7e6f,#ff7b6e,#ff8e7f,#ff8576,#f6f7fd,#5367ff,#819fff,#c0d4ff,#f9f6f9,#ffab9c,#ff7a6d,#ff3a4c,#ff6d67,#ff4b55,#ff786d,#ffab9b,#fef4f3,#dee9ff,#f1f6ff,#fef4f3,#ffa798,#ff6f68,#ff6965,#ff8778,#ff7168,#ff776c,#ffa495,#ffdbd2,#fef4f3,#dce7ff,#e8efff,#f9f6f9,#ffcdc0,#ff8b7b,#ff736a)"></i><i style="height:4px;background:linear-gradient(90deg,#a8c0ff,#8fabff,#c9daff,#f7f7fb,#ffbfaf,#ff9283,#ffbeae,#ffa495,#ff8d7e,#ff9788,#ffa898,#ffb2a2,#fef4f3,#b2c9ff,#a8c0ff,#f8f7fb,#ffc7b9,#ffcabd,#ffb5a5,#ff9889,#ff6161,#ff4753,#ffc3b3,#fff4f2,#faf6f8,#e9f0ff,#a9c1ff,#91acff,#a9c1ff,#7b9aff,#eff4ff,#ffae9e,#ff6b65,#ffae9e,#f9f6f9,#fff0ed,#fef4f3,#f4f8ff,#f4f8ff,#7a99ff,#1400a7,#170088,#180073,#180072,#180076,#252dfc,#bacfff,#f2f7ff,#ffe0d9,#ffc3b4,#ffded5,#ffb3a4,#ff8273,#ff766b,#ff8d7e,#ff998a,#b7ccff,#6178ff,#9bb5ff,#c3d6ff,#ffddd5,#ff8c7d,#ff6a65,#ff5158,#ff6e67,#ff7068,#ff9c8d,#f7f7fc,#f8f6fa,#d3e1ff,#fef4f3,#ffc1b1,#ff7e6f,#ff6261,#ff8071,#ff6c66,#ff6d66,#ffa091,#ffd6cc,#f9f6f9,#e7efff,#e8f0ff,#f9f6f9,#ffd3c8,#ff8d7e,#ff7e6f,#ff8374)"></i><i style="height:4px;background:linear-gradient(90deg,#bfd3ff,#b0c7ff,#91adff,#d7e4ff,#fef4f3,#ffbbab,#ff9989,#ffb7a7,#ffaa9b,#ff8778,#ff9586,#ffa191,#ffa596,#edf3ff,#96b1ff,#bcd0ff,#ffd1c5,#ffe3dc,#ffd7cd,#ffa697,#ff766b,#ff6e67,#ff6d67,#ffe5df,#fff4f2,#f7f7fc,#e6eeff,#abc3ff,#90acff,#7794ff,#b2c8ff,#ffbfaf,#ff7b6e,#ff8d7e,#fff0ed,#ffdbd2,#fff4f2,#f3f7ff,#f6f7fd,#7a98ff,#1100b2,#170088,#180073,#19006d,#19006e,#2e38fd,#b5cbff,#f8f6fa,#ffcfc3,#ffcfc3,#ffccbf,#ff9283,#ff897a,#ff786c,#ff8071,#ffdbd2,#89a5ff,#7693ff,#a8c0ff,#f6f7fd,#ffbeae,#ff8475,#ff4351,#ff766b,#ff4d56,#ff7169,#ffbcac,#fdf5f4,#cdddff,#f8f7fb,#ffcabd,#ff9282,#ff6060,#ff6f68,#ff7b6e,#ff6864,#ffa797,#ffdad1,#f9f6f9,#edf3ff,#dfeaff,#faf6f8,#ffd3c9,#ff9182,#ff756b,#ff8778,#ff9989)"></i><i style="height:4px;background:linear-gradient(90deg,#fff3f1,#bed2ff,#a6beff,#98b2ff,#e3ecff,#ffe3dc,#ffb7a7,#ffa797,#ffb3a3,#ffa797,#ff796d,#ff9b8c,#ffb4a4,#ffc5b7,#d6e3ff,#9fb9ff,#f5f8fe,#ffc5b6,#ffd3c8,#ffac9c,#ff8f80,#ff6362,#ff4250,#ffd9cf,#fff2f0,#fdf5f4,#f8f7fb,#b3c9ff,#8eaaff,#728eff,#a4bdff,#ffefeb,#ff9283,#ff8273,#ffd8ce,#ffede9,#fff1ee,#f5f8fe,#f7f7fc,#7f9dff,#0f00bc,#16008e,#180075,#190071,#180073,#3c49ff,#bfd4ff,#f8f7fb,#ffbfaf,#ffcdc1,#ffc6b8,#ff8777,#ff8576,#ff8a7b,#ff7e6f,#f8f7fa,#5b71ff,#83a1ff,#c7d9ff,#ffeeea,#ff9586,#ff7e70,#ff585c,#ff746a,#ff756b,#ff9d8e,#fcf5f6,#f3f7ff,#ebf2ff,#fef5f4,#ffa494,#ff6563,#ff6160,#ff8979,#ff736a,#ff9d8d,#ffd4c9,#fbf6f7,#f8f7fb,#dce7ff,#faf6f8,#ffd4c9,#ff8e7f,#ff796d,#ff8576,#ff9888,#ffcdc1)"></i><i style="height:4px;background:linear-gradient(90deg,#ff736a,#fff4f2,#c1d5ff,#aec5ff,#a0b9ff,#f4f8ff,#ffe1da,#ffae9f,#ffad9d,#ffaf9f,#ffa292,#ff897a,#ffab9c,#ffb4a4,#fff0ed,#b3c9ff,#b7ccff,#fff1ee,#ffd9cf,#ffc8ba,#ffa696,#ff796d,#ff6c66,#ff796d,#fff4f2,#fef4f3,#f5f8fd,#b8cdff,#99b3ff,#b6ccff,#a0b9ff,#fcf5f6,#ffa494,#ff8778,#ffe6e1,#f8f6fa,#fbf5f6,#f6f7fc,#f7f7fb,#82a0ff,#0d00c4,#16008e,#180074,#190070,#18007c,#4150ff,#c7d9ff,#f6f7fd,#ffb1a1,#ffd9d0,#ff9d8e,#ff8475,#ff7e70,#ffa797,#ff9686,#b6ccff,#6881ff,#a1baff,#d3e1ff,#ffd4c9,#ff998a,#ff5258,#ff7f70,#ff545a,#ff756b,#fff0ee,#fcf5f5,#ccdcff,#fff4f2,#ffbcac,#ff7e6f,#ff5e5f,#ff8b7b,#ff746a,#ff8e7f,#ffc5b6,#fff4f2,#fcf5f6,#dce7ff,#faf6f8,#ffd1c6,#ff9687,#ff7b6e,#ff8677,#ff9c8d,#ffd1c5,#ffe1da)"></i><i style="height:4px;background:linear-gradient(90deg,#ff6562,#ff766b,#ffeeea,#bed2ff,#b0c7ff,#acc3ff,#f7f7fb,#ffd3c8,#ff9383,#ffb5a5,#ffae9e,#ff9888,#ff9c8c,#ffa697,#ffa898,#f4f8ff,#9bb5ff,#d0dfff,#ffcabc,#ffded6,#ffad9e,#ff9485,#ff6964,#ff4954,#ffe3dd,#faf6f7,#f7f7fb,#e8f0ff,#b2c8ff,#95b0ff,#7795ff,#ebf2ff,#ffad9d,#ff8475,#ffe6e1,#f5f8fe,#fff3f1,#f9f6f9,#f2f7ff,#8ca8ff,#0a00d1,#16008b,#19006f,#19006f,#16008a,#4554ff,#cfdeff,#f8f7fa,#ffb0a0,#ffcabd,#ff9e8f,#ff7d6f,#ff746a,#ff8374,#ffc3b3,#89a6ff,#809fff,#c4d7ff,#fbf5f6,#ff9687,#ff7c6f,#ff5459,#ff7068,#ff7d6f,#ffa091,#fef5f4,#dae6ff,#f8f7fb,#ffd3c8,#ff8d7e,#ff6160,#ff8475,#ff6f68,#ff776c,#ffac9c,#ffe2db,#fdf5f4,#dfeaff,#faf6f8,#ffded7,#ffa090,#ff7d6f,#ff8879,#ff9383,#ffd8ce,#ffe5df,#fef4f3)"></i><i style="height:4px;background:linear-gradient(90deg,#ff6e67,#ff6764,#ff6f68,#fef4f3,#bbd0ff,#b2c8ff,#b2c8ff,#f7f7fb,#ffc3b4,#ff9181,#ffc5b6,#ffb5a5,#ff8f7f,#ff9081,#ffac9c,#ffbdad,#d2e0ff,#b0c7ff,#f9f6f9,#ffcdc0,#ffc9bc,#ffb0a0,#ff796d,#ff6763,#ff8c7d,#fef4f3,#fbf5f7,#f6f7fd,#b9ceff,#96b0ff,#6d88ff,#a0b9ff,#ffc1b2,#ff7068,#ffb8a8,#faf6f8,#ffded6,#f8f7fb,#e9f0ff,#92aeff,#0600df,#150096,#180073,#180074,#1400a3,#586dff,#d3e1ff,#fff1ee,#ffae9e,#ffd9d0,#ff9f90,#ff9081,#ff776c,#ff766b,#faf6f7,#6780ff,#99b3ff,#c3d6ff,#ffdbd2,#ff9a8a,#ff5359,#ff7d6f,#ff575b,#ff7f70,#f9f6f9,#fbf5f7,#edf3ff,#fef4f3,#ffae9e,#ff7169,#ff6d66,#ff8576,#ff6a65,#ffa494,#ffdad1,#ffece8,#dbe6ff,#fdf5f5,#ffe2dc,#ff9c8d,#ff8172,#ff8e7f,#ff9a8b,#ffd5cb,#ffebe6,#fdf5f4,#d3e1ff)"></i><i style="height:4px;background:linear-gradient(90deg,#ff8a7b,#ff7c6e,#ff6763,#ff776c,#fef4f3,#bcd0ff,#b4caff,#b7cdff,#f5f8fd,#ffc2b2,#ff8e7f,#ffbfaf,#ffad9e,#ff7a6d,#ffa494,#ffb5a5,#fff3f0,#b0c7ff,#bcd1ff,#ffd6cc,#ffe9e4,#ffaf9f,#ff8e7e,#ff6f68,#ff5a5d,#ffdfd8,#fff0ed,#f7f7fc,#c8daff,#95b0ff,#a1baff,#97b1ff,#fff2f0,#ff8b7c,#ff9686,#faf6f8,#ffece8,#eef4ff,#e9f0ff,#98b2ff,#0500e3,#16008b,#19006c,#180073,#1000b8,#6c86ff,#e7efff,#ffeae5,#ffd4c9,#ffd2c7,#ff8b7b,#ff8f80,#ff9889,#ff9383,#bdd2ff,#718dff,#a9c0ff,#f8f6fa,#ffa898,#ff8172,#ff555a,#ff6f68,#ff7e70,#ffa293,#fef5f4,#d6e3ff,#ffede9,#ffb9a9,#ff8071,#ff756b,#ff8b7c,#ff6f68,#ffa898,#ffd9d0,#fef4f3,#dfe9ff,#fcf5f6,#ffe9e4,#ffa999,#ff8172,#ff9182,#ff9787,#ffd5cb,#ffdbd3,#fbf5f7,#dbe6ff,#fdf5f4)"></i><i style="height:4px;background:linear-gradient(90deg,#ffa696,#ff9384,#ff776c,#ff6b65,#ff776c,#fff2ef,#bcd1ff,#acc3ff,#c6d8ff,#f8f7fb,#ffc1b1,#ffa192,#ffb2a2,#ffa999,#ff9384,#ffb6a6,#ffb4a4,#f0f5ff,#a1baff,#eff5ff,#ffbfaf,#ffc3b3,#ffb9a9,#ff8374,#ff6c66,#ffa999,#ffe5df,#fdf5f4,#eef4ff,#b3c9ff,#a2bbff,#8ca9ff,#fef4f3,#ffa494,#ff8475,#fff3f1,#fef4f3,#f7f7fc,#f4f8ff,#9cb6ff,#0100f6,#160090,#190070,#18007a,#0d00c3,#819fff,#ebf2ff,#ffe2db,#ffdcd4,#ffd0c4,#ff8677,#ff8374,#ff9485,#ffbcac,#8eaaff,#8ba8ff,#cedeff,#ffdfd8,#ff9c8c,#ff5b5d,#ff8172,#ff6160,#ff8c7d,#fcf5f5,#f2f7ff,#f8f7fa,#ffcdc0,#ff8e7f,#ff6864,#ff9889,#ff766b,#ffa494,#ffd0c4,#fef4f3,#e5edff,#fbf5f7,#ffebe7,#ffa494,#ff8474,#ff9384,#ff9788,#ffcabc,#ffd0c4,#fcf5f6,#e7efff,#ffe5df,#ffcec1)"></i><i style="height:4px;background:linear-gradient(90deg,#fcf5f6,#ffb4a4,#ff9485,#ff7f70,#ff7169,#ff7b6e,#fef5f4,#b9ceff,#acc3ff,#d1e0ff,#f8f6fa,#ffbeae,#ffad9e,#ffb3a3,#ff9d8d,#ffa595,#ffad9d,#ffb7a7,#d4e2ff,#b5cbff,#ffe3dc,#ffe2db,#ffbfaf,#ff9788,#ff6d67,#ff6763,#ffd6cc,#ffe6e0,#f2f6ff,#b5cbff,#9db7ff,#7a99ff,#e2ebff,#ffa797,#ff8b7c,#ffdfd8,#ffeae5,#fdf5f4,#f8f7fb,#a2baff,#0304f8,#16008c,#180074,#16008a,#0a00ce,#9fb8ff,#ebf2ff,#ffc6b8,#ffd9d0,#ff9687,#ff8071,#ff8071,#ff8071,#fbf5f7,#6a83ff,#afc5ff,#dee9ff,#ffbeae,#ff8778,#ff5b5d,#ff7169,#ff7f70,#ffbdad,#fff3f0,#e5eeff,#fdf5f4,#ffaa9a,#ff746a,#ff8b7c,#ff7a6d,#ff8d7e,#ffd1c6,#fdf5f4,#f5f8fd,#faf6f8,#fff4f2,#ffab9c,#ff8475,#ff9384,#ff9b8b,#ffd0c5,#ffd7cd,#faf6f8,#e3ecff,#ffcfc3,#ffc7b8,#ffa999)"></i><i style="height:4px;background:linear-gradient(90deg,#f8f7fa,#faf6f8,#ffb8a8,#ff9a8b,#ff8071,#ff736a,#ff766b,#fcf5f5,#b3c9ff,#adc4ff,#d1e0ff,#fef4f3,#ffb6a6,#ffb7a7,#ffb4a4,#ff9788,#ff9b8c,#ffb5a5,#ffede9,#b2c8ff,#cdddff,#ffc6b7,#ffd5ca,#ffc3b3,#ff7e6f,#ff6965,#ffc7b8,#fef5f4,#f6f7fc,#d7e4ff,#9cb6ff,#88a5ff,#a1baff,#ffb4a4,#ff7f70,#fef4f4,#f9f6f9,#fcf5f5,#f5f8fe,#abc2ff,#090bf9,#170089,#180075,#16008e,#0800d7,#a8c0ff,#f2f6ff,#ffbbab,#ffd9cf,#ffb1a1,#ff8f80,#ff8e7f,#ff9788,#bbd0ff,#7b9aff,#c3d6ff,#fff3f1,#ff9788,#ff6060,#ff8475,#ff6965,#ffa292,#ffebe7,#d9e5ff,#ffefec,#ffbaaa,#ff766b,#ff746a,#ff8475,#ff7a6d,#ffb5a6,#ffece7,#faf6f8,#fcf5f5,#fdf5f4,#ffb5a5,#ff8273,#ff9787,#ff9f90,#ffcfc3,#ffcec1,#f9f6fa,#e4edff,#ffc0b0,#ffbcac,#ff9d8e,#ffae9f)"></i><i style="height:4px;background:linear-gradient(90deg,#f4f8ff,#f6f7fd,#f9f6f9,#ffc1b2,#ff9485,#ff7d6f,#ff786c,#ff7e6f,#fdf5f4,#bbd0ff,#a9c1ff,#e5eeff,#ffe9e4,#ff9b8c,#ffc2b2,#ffb6a7,#ff8172,#ffbbab,#ffb2a2,#f1f6ff,#adc4ff,#fbf5f6,#ffd7cd,#ffd6cc,#ff9d8e,#ff7a6d,#ff776c,#fef4f3,#fbf5f7,#f6f7fd,#b9ceff,#a9c0ff,#a6beff,#fff2ef,#ff7f70,#ffd0c4,#e5eeff,#fcf5f6,#eaf1ff,#c1d5ff,#0d0ff9,#170089,#190072,#160096,#0000f7,#b8cdff,#f5f8fe,#ffc1b1,#ffece8,#ff9485,#ff9081,#ffaf9f,#ffb7a7,#90abff,#9ab4ff,#c4d7ff,#ffcec2,#ff8273,#ff565a,#ff6a65,#ff7e70,#fef4f4,#fdf5f4,#f9f6fa,#ffc8ba,#ff897a,#ff756b,#ff9889,#ff7169,#ffa697,#ffddd5,#fdf5f4,#f9f6f9,#ffeeea,#ffb1a1,#ff8475,#ff9889,#ff9e8f,#ffd4ca,#ffd0c5,#faf6f8,#f0f5ff,#ffbdad,#ffbdad,#ff9b8c,#ffa797,#ffbdad)"></i><i style="height:4px;background:linear-gradient(90deg,#ffb1a1,#fcf5f5,#ebf2ff,#f8f7fb,#ffc1b1,#ff8e7f,#ff8575,#ff786c,#ff7f70,#fcf5f5,#b9ceff,#b1c7ff,#f0f5ff,#ffd0c4,#ff8f80,#ffbcac,#ffab9b,#ffa192,#ffa696,#ffae9e,#d3e1ff,#c8d9ff,#ffc2b3,#ffd4ca,#ffccbf,#ff8677,#ff6562,#ffddd5,#fdf5f5,#f2f7ff,#b7ccff,#a0b9ff,#7f9dff,#fcf5f5,#ffa696,#ffa595,#eef4ff,#f9f6f9,#e7efff,#d1e0ff,#171cfb,#17008a,#190072,#160093,#151afa,#bdd2ff,#f4f8ff,#ffbbab,#ffd7cd,#ff8a7b,#ff897a,#ff9081,#fdf5f5,#7f9eff,#aac1ff,#fcf5f5,#ff9788,#ff6462,#ff897a,#ff6b66,#ffa394,#fff0ec,#e5edff,#ffede9,#ffa696,#ff7068,#ffa090,#ff7a6e,#ffad9d,#ffd8cf,#ffebe7,#f0f5ff,#fef4f3,#ffbdad,#ff8475,#ff9a8b,#ffa393,#ffd4ca,#ffdad1,#dde8ff,#fbf5f7,#ffc4b5,#ffb5a5,#ffa999,#ffa292,#ffc3b3,#ffc2b3)"></i><i style="height:4px;background:linear-gradient(90deg,#ff8071,#ffb1a2,#ffded6,#e0eaff,#f9f6f9,#ffc1b1,#ff9384,#ff8374,#ff8677,#ff8374,#f9f6f9,#c3d6ff,#acc3ff,#f7f7fb,#ffcec2,#ff9888,#ffb4a4,#ffa494,#ffa293,#ffb6a6,#ffe5df,#b5cbff,#f5f8fe,#ffc0b0,#ffd3c8,#ff998a,#ff7c6e,#ff746a,#fef4f3,#fef4f3,#e6efff,#9eb7ff,#7d9cff,#d5e3ff,#ffae9f,#ff9283,#f7f7fb,#ffefec,#edf3ff,#e0eaff,#181dfb,#170084,#19006d,#16008d,#2830fd,#c2d6ff,#fff4f2,#ffd7cd,#ffc2b3,#ff8879,#ff8c7d,#ff9383,#c7d9ff,#91adff,#d8e4ff,#ffccbf,#ff9182,#ff5359,#ff6663,#ff736a,#fcf5f6,#f4f8ff,#fff1ef,#ffb5a5,#ff7269,#ff9081,#ff7c6f,#ff9f90,#ffd5ca,#ffe1da,#f4f8ff,#fcf5f5,#ffc1b1,#ff8778,#ff9e8f,#ffa798,#ffd4ca,#fff0ed,#e8f0ff,#ffdbd2,#ffc6b8,#ffa999,#ffae9f,#ffa696,#ffc6b7,#ffccc0,#fff0ed)"></i><i style="height:4px;background:linear-gradient(90deg,#ffab9b,#ff8e7f,#ffad9d,#ffc6b8,#e5edff,#faf6f8,#ffded6,#ff9787,#ff8172,#ff8475,#ff8677,#faf6f7,#c4d7ff,#b5cbff,#f7f7fc,#ffc9bc,#ffa494,#ffb3a3,#ff9c8d,#ffa99a,#ffb6a6,#f0f5ff,#bacfff,#ffe4dd,#ffd8cf,#ffc3b4,#ff8677,#ff6663,#ffdfd7,#ffe1da,#faf6f8,#c0d4ff,#c5d8ff,#a6bfff,#ffbbab,#ff9d8e,#ffebe6,#fff4f2,#f1f6ff,#e9f0ff,#232afc,#170087,#19006e,#16008b,#4454ff,#c5d7ff,#fff4f2,#ffd6cb,#ff9283,#ff9787,#ff9f8f,#ffab9b,#8da9ff,#aec5ff,#edf3ff,#ff9d8e,#ff776c,#ff8879,#ff7a6d,#ffa494,#ffede9,#f9f6fa,#ffcabd,#ff8d7e,#ff7a6d,#ff8677,#ff9081,#ffcec2,#ffe4de,#f0f5ff,#fef4f3,#ffc8ba,#ff8b7b,#ff9f90,#ffafa0,#ffdbd2,#fff0ed,#f3f8ff,#ffccc0,#ffbbab,#ffa494,#ffb6a6,#ffbcac,#ffc4b5,#ffdad1,#f9f6f9,#fbf5f6)"></i><i style="height:4px;background:linear-gradient(90deg,#ffcfc2,#ffa596,#ff9b8b,#ff9687,#ffb3a3,#ecf3ff,#fcf5f6,#fef4f3,#ff9788,#ff8374,#ff897a,#ff8475,#faf6f8,#c9daff,#bacfff,#f9f6f9,#ffb4a4,#ffb0a0,#ffb1a2,#ff8777,#ffbfaf,#ffac9c,#cadbff,#cbdbff,#ffc2b3,#ffccc0,#ff9889,#ff8172,#ff9283,#fff1ee,#f8f7fb,#bacfff,#acc3ff,#99b3ff,#fef4f3,#ff8172,#ffe9e4,#fff0ec,#ebf2ff,#f6f7fd,#3b48ff,#16008b,#19006f,#160093,#5063ff,#d3e1ff,#ffe5e0,#ffe2db,#ffa495,#ff9788,#ff9f8f,#fff4f2,#7f9eff,#c6d8ff,#ffe7e2,#ffa393,#ff5c5e,#ff6864,#ff7e6f,#ffebe6,#e1ebff,#ffece7,#ffa393,#ff736a,#ffa191,#ff796d,#ffc8ba,#ffedea,#f5f7fd,#fff4f2,#ffccbf,#ff9081,#ff9d8e,#ffb3a3,#ffdfd7,#fdf5f5,#f4f8ff,#ffb7a7,#ffbcac,#ff9f8f,#ffa595,#ffd0c5,#ffc4b5,#ffdcd4,#f6f7fd,#fef4f3,#f8f7fa)"></i><i style="height:4px;background:linear-gradient(90deg,#eaf1ff,#ffddd4,#ffb6a6,#ffb2a2,#ff8677,#ffbaaa,#f9f6f9,#f8f7fb,#fff4f2,#ffa191,#ff8576,#ff8e7e,#ff8e7e,#f8f6fa,#d5e3ff,#c2d5ff,#faf6f8,#ffb6a6,#ffc2b3,#ffae9f,#ffaf9f,#ffb6a6,#ffefec,#b3c9ff,#fff4f2,#ffe3dd,#ffc0b0,#ff8b7c,#ff6562,#ffe4de,#fcf5f6,#f3f7ff,#a8c0ff,#82a0ff,#fbf5f6,#ff9b8c,#ffe6e0,#fff2ef,#e4edff,#f5f8fe,#495aff,#16008b,#190068,#15009f,#5164ff,#dee9ff,#ffc1b1,#ffece8,#ff9282,#ff8b7b,#ff8879,#cdddff,#9ab4ff,#d5e2ff,#ffae9e,#ff8677,#ff8f80,#ff8e7e,#ffc7b9,#fff4f2,#fef4f3,#ffb6a6,#ff746a,#ff9f90,#ff7d6f,#ffbaaa,#fff4f3,#f4f8ff,#fff2ef,#ffcbbe,#ff8f7f,#ffa393,#ffb7a7,#ffdad1,#fdf5f4,#f5f8fe,#ffb7a7,#ffb8a8,#ffafa0,#ffa191,#ffbeae,#ffd7cd,#fef4f3,#fcf5f6,#fdf5f4,#f6f7fd,#ffe3dc)"></i><i style="height:4px;background:linear-gradient(90deg,#f7f7fb,#e6efff,#fef4f3,#ffbdad,#ffad9d,#ff8e7f,#ffae9e,#ffe2db,#f9f6f9,#fef4f3,#ffa99a,#ff8b7b,#ff9182,#ff8e7e,#f8f6fa,#dae6ff,#c9daff,#faf6f7,#ffa090,#ffc4b5,#ffad9d,#ffa99a,#ffbbab,#f6f7fd,#c7d9ff,#ffc1b1,#ffcec2,#ffa091,#ff8f7f,#ffb2a2,#fdf5f4,#f3f8ff,#c5d7ff,#b0c7ff,#bdd2ff,#ffb5a5,#ffb6a6,#eaf1ff,#fbf5f7,#e4edff,#5c72ff,#16008c,#19006a,#1500a1,#6982ff,#e0eaff,#ffbfaf,#ffddd5,#ff8e7e,#ff9484,#ffa596,#95b0ff,#b4caff,#ffeeeb,#ffa293,#ff5f5f,#ff6764,#ff9181,#ffe9e4,#faf6f8,#ffc6b7,#ff8374,#ff8d7e,#ff897a,#ffae9f,#ffe6e0,#f9f6f9,#fff0ed,#ffccbf,#ff9081,#ffa798,#ffbeae,#ffd0c4,#fdf5f4,#f9f6f9,#ffc0b0,#ffb2a2,#ffbaaa,#ffb7a7,#ffbcac,#ffd4ca,#f6f7fc,#fef4f4,#f7f7fb,#fef4f3,#ffd7cd,#ffd6cc)"></i><i style="height:4px;background:linear-gradient(90deg,#ffbdad,#fdf5f4,#e3ecff,#f3f7ff,#ffcec1,#ffa595,#ff9788,#ffa596,#ffc5b6,#e8f0ff,#fff4f2,#ffad9d,#ff9687,#ff8b7c,#ff8e7f,#f9f6f9,#d9e5ff,#d2e1ff,#ffe9e4,#ff9485,#ffbbab,#ffa999,#ffc7b9,#ffa595,#d0dfff,#ebf2ff,#ffcbbf,#ffb3a3,#ff897a,#ff6a65,#fdf5f5,#f9f6fa,#bcd1ff,#b3c9ff,#aac2ff,#ffb5a5,#ff998a,#f4f8ff,#f9f6f9,#dde8ff,#708cff,#17008a,#190068,#160093,#7b9aff,#eff5ff,#ffc0b0,#ffbaaa,#ff9a8a,#ffb3a3,#ffe2db,#8fabff,#dbe7ff,#ffd3c8,#ff8c7d,#ff9989,#ff8f7f,#fef5f4,#f3f7ff,#ffdfd8,#ff9182,#ff8172,#ff8879,#ffae9e,#ffdad1,#fdf5f4,#ffdcd4,#ffd0c5,#ff9181,#ffaa9b,#ffc2b2,#ffcbbe,#fdf5f4,#ffe7e2,#ffc1b2,#ffab9b,#ffbaaa,#ffd8ce,#ffc0b0,#ffded7,#faf6f8,#fff4f2,#f7f7fc,#ffe8e3,#ffc9bc,#ffc8bb,#ffe3dc)"></i><i style="height:4px;background:linear-gradient(90deg,#ff9686,#ffa697,#ffd0c4,#f8f6fa,#eef4ff,#ffdcd3,#ffb4a4,#ffbaaa,#ff9182,#ffb9a9,#f4f8ff,#fff4f2,#ffb4a4,#ff9b8b,#ff9283,#ff9586,#f8f7fa,#d6e3ff,#e0eaff,#ffe2db,#ff9f90,#ffb5a5,#ff9788,#ffb3a3,#ffdad1,#c7d9ff,#ffcabd,#ffcdc0,#ffa191,#ff9485,#ffd7cd,#ffe6e0,#f5f8fe,#abc3ff,#91acff,#ffe7e1,#ff9e8f,#f9f6fa,#f8f7fa,#ecf3ff,#7998ff,#160093,#19006f,#160093,#a1baff,#eff5ff,#ffe7e2,#ffae9e,#ffa293,#ff9585,#d6e4ff,#a7bfff,#f7f7fb,#ffa595,#ff565b,#ff6964,#ffa393,#ffdcd3,#ffebe6,#ffb2a2,#ff7068,#ffa192,#ff9a8a,#ffd2c7,#ffe9e4,#ffe1da,#ffc7b9,#ff9586,#ffa898,#ffcdc0,#ffcabc,#e7efff,#ffc6b8,#ffb9a9,#ffab9c,#ffa798,#ffc1b2,#ffd0c4,#fcf5f6,#fff2ef,#f7f7fb,#fff3f0,#ffd7cd,#ffdbd2,#ffbfaf,#ffeae6,#fef4f3)"></i><i style="height:4px;background:linear-gradient(90deg,#ffcec1,#ffb9a9,#ff9182,#ffbbab,#fdf5f5,#eff5ff,#f9f6f9,#ffc5b7,#ffb3a3,#ff9586,#ffb6a6,#f8f6fa,#fef5f4,#ffbfaf,#ffa292,#ff8e7e,#ff9081,#f6f7fd,#dde8ff,#e1ebff,#ffd1c6,#ffb0a0,#ffbdad,#ffc3b3,#ffc4b5,#f6f7fd,#d1e0ff,#ffbbab,#ffbcac,#ff9081,#ff7f70,#ffe8e3,#f7f7fb,#c9daff,#92adff,#fdf5f4,#ff8b7c,#ffe4de,#fbf6f7,#ecf3ff,#7f9dff,#160092,#180079,#1500a1,#aec5ff,#fef4f4,#ffe7e2,#ff9d8e,#ff9f8f,#ffa293,#96b0ff,#cdddff,#ffdad1,#ffa495,#ff9a8a,#ff897a,#fff0ed,#f7f7fb,#ffbeae,#ff8475,#ffaa9b,#ff8071,#ffdbd2,#ffd9d0,#ffebe7,#ffd0c4,#ff8e7f,#ffaf9f,#ffd1c5,#ffcabd,#f4f8ff,#ffbbab,#ffc0b0,#ffb7a7,#ffbbab,#ffbcac,#ffd3c8,#f9f6f9,#fff4f2,#f6f7fd,#ffebe6,#ffccbf,#ffbdad,#fff3f1,#fff4f2,#fef5f4,#fff4f2)"></i><i style="height:4px;background:linear-gradient(90deg,#f9f6f9,#ffe8e3,#ffcabc,#ffa696,#ffa393,#ffc5b6,#f9f6f9,#f5f8fe,#ffd3c8,#ffad9d,#ffa090,#ffb1a1,#ffe5e0,#fef5f4,#ffd9d0,#ff9889,#ff8e7f,#ff9889,#f7f7fc,#e4edff,#f4f8ff,#ffc9bb,#ffcdc0,#ffbbab,#ffb2a2,#ffa596,#ccdcff,#ffece7,#ffd9d0,#ff9b8c,#ff9182,#ffe9e4,#faf6f8,#c0d4ff,#bbd0ff,#b4caff,#ffc1b1,#fbf5f6,#fdf5f5,#e6eeff,#82a0ff,#160090,#170085,#0c00c9,#a5bdff,#fdf5f4,#ffece8,#ff9a8a,#ff9e8f,#ffdfd8,#9fb8ff,#dde8ff,#ffa293,#ff6964,#ff7068,#ff9d8d,#ffeae5,#ffd4c9,#ff9a8a,#ff9081,#ff8b7c,#ffc5b7,#ffcfc3,#fdf5f4,#ffd0c5,#ff9485,#ffb0a1,#ffcfc4,#ffd7ce,#faf6f8,#ffaf9f,#ffbaaa,#ffc9bc,#ffddd5,#ffc9bc,#fff4f2,#fff4f2,#faf6f7,#fff2ef,#ffd6cb,#ffded6,#ffe1d9,#ffe6e1,#fdf5f5,#fdf5f4,#fcf5f6,#ffcec1)"></i><i style="height:4px;background:linear-gradient(90deg,#ffe4de,#fff4f2,#fcf5f5,#ffdcd3,#ffccc0,#ff9687,#ffbbab,#fff0ed,#f2f6ff,#ffeeeb,#ffc1b2,#ffb6a6,#ff9f8f,#ffcec2,#faf6f8,#ffe4de,#ff9484,#ff998a,#ff9f8f,#f7f7fc,#dfeaff,#fbf6f7,#ffc3b3,#ffcec1,#ffb1a1,#ffcbbe,#ffdcd3,#cfdeff,#ffb8a9,#ffcabd,#ff9283,#ff8a7b,#fbf5f6,#fbf5f7,#b9ceff,#b6cbff,#ffc1b1,#ffc6b8,#fff4f2,#e5edff,#8faaff,#160096,#150099,#0200f1,#b6ccff,#ffdbd3,#ffdad1,#ff9f90,#ff9b8c,#dae6ff,#c8daff,#ffdad1,#ff9a8b,#ffa596,#ff8576,#ffd1c6,#ffede9,#ffb2a2,#ff8b7b,#ff8677,#ffab9c,#ffe9e4,#fcf5f5,#ffd1c6,#ff9687,#ffb3a3,#ffd6cc,#ffeae6,#faf6f8,#ffb7a7,#ffa99a,#ffb7a7,#ffcabd,#ffd2c7,#f8f7fa,#fff4f3,#f7f7fb,#ffe9e5,#ffe6e0,#ffbfaf,#ffe1d9,#fff1ee,#fdf5f5,#faf6f8,#ffd5ca,#ffdad1,#f9f6f9)"></i><i style="height:4px;background:linear-gradient(90deg,#ffeae5,#ffe8e3,#ffe5df,#fcf5f5,#fbf5f7,#ffcfc3,#ffbeae,#ff9d8d,#ffc5b7,#fbf6f7,#f8f7fa,#ffc9bc,#ffb9a9,#ff9a8b,#ffbeae,#f0f5ff,#ffe4de,#ff9788,#ff9e8f,#ff9989,#f8f6fa,#e7efff,#faf6f8,#ffb3a4,#ffc0b0,#ffa495,#ffc6b8,#f5f8fe,#ecf2ff,#ffe7e2,#ffaa9a,#ff9b8c,#ffe9e4,#f6f7fc,#d9e5ff,#94afff,#fff4f2,#ffab9b,#f0f6ff,#ecf2ff,#89a6ff,#15009a,#15009a,#0200f1,#b5cbff,#ffd3c9,#ffb1a2,#ffb6a6,#ff9f90,#9cb6ff,#e3ecff,#ffb3a3,#ff766b,#ff756b,#ffc8ba,#fbf6f7,#ffbbab,#ff8172,#ffa999,#ffb1a2,#fff2f0,#fbf6f7,#ffd5ca,#ff9485,#ffae9e,#ffcbbd,#fff4f1,#fcf5f6,#ffbeae,#ffb5a5,#ffbdad,#ffc3b4,#ffd4c9,#ffeeeb,#faf6f8,#fff3f0,#ffd1c6,#ffc5b7,#fdf5f4,#ffece8,#fef4f3,#fcf5f6,#ffddd4,#ffcdc1,#f9f6f9,#f2f7ff,#fbf6f7)"></i><i style="height:4px;background:linear-gradient(90deg,#f7f7fb,#f6f7fc,#ffe9e4,#ffece8,#ffece8,#fcf5f6,#fff4f3,#ffd2c7,#ff9a8a,#ffb4a4,#ffece8,#f4f8ff,#ffdcd3,#ffb1a2,#ffa495,#ffbcac,#f5f7fd,#ffede9,#ffa595,#ff9889,#ff9e8e,#f6f7fd,#d9e5ff,#fbf5f6,#ffa090,#ffc3b4,#ffcabd,#ffbaaa,#ccdcff,#ffc7b9,#ffece7,#ff9485,#ff9586,#fff3f1,#d8e5ff,#d4e2ff,#f9f6fa,#ffb3a3,#dee9ff,#e9f1ff,#9db7ff,#1400a2,#1300aa,#2026fc,#d5e2ff,#ffd2c7,#ffc8ba,#ffae9f,#ffc9bc,#b3c9ff,#fbf6f7,#ffb2a2,#ffa899,#ff8273,#ffc9bb,#ffcdc0,#ff9989,#ffb0a1,#ff9787,#ffdbd2,#faf6f8,#ffe0d9,#ff8f7f,#ffb3a3,#ffc3b3,#fdf5f4,#ffd2c7,#ffb7a7,#ffcbbd,#ffe1da,#ffccbf,#fdf5f4,#ffe4de,#f5f8fd,#ffede9,#ffeae5,#ffd6cd,#ffd9d0,#fff4f2,#fcf5f6,#ffeae5,#ffd6cc,#fef4f3,#f7f7fb,#f9f6f9,#ffede9,#ffc0b0)"></i><i style="height:4px;background:linear-gradient(90deg,#ffc3b4,#ffede9,#f7f7fb,#f8f6fa,#ffe1da,#ffede9,#fff4f2,#fdf5f5,#ffd4ca,#ffcabd,#ff9c8d,#ffc5b7,#faf6f7,#faf6f8,#ffc4b5,#ffbaaa,#ffb2a3,#fcf5f5,#fef4f4,#ffa898,#ffa292,#ffa292,#f5f7fd,#dbe7ff,#fff4f2,#ffaa9a,#ffc6b7,#ffd3c8,#ffddd5,#d7e4ff,#ffd4ca,#ffc4b5,#ff9687,#faf6f8,#faf6f8,#bacfff,#bfd3ff,#ffb3a3,#edf3ff,#f2f7ff,#cbdcff,#1100b4,#0f00ba,#4959ff,#edf3ff,#ffd2c7,#ffa898,#ffd6cc,#e2ecff,#cadbff,#ffd1c5,#ff8576,#ff7f70,#fff4f2,#fff4f2,#ffbfaf,#ff9b8c,#ff8576,#ffcfc3,#fef5f4,#ffede9,#ff9a8a,#ffb1a2,#ffcec2,#fdf5f4,#ffb8a8,#ffb9a9,#ffc6b8,#ffcabc,#ffcabd,#ffefeb,#faf6f8,#fff3f1,#ffd8ce,#ffc1b1,#ffded6,#ffede9,#fff4f2,#fff0ed,#ffcdc1,#fef4f3,#f5f8fe,#fcf5f5,#ffeeea,#ffcbbe,#ffcfc3,#fff1ee)"></i><i style="height:4px;background:linear-gradient(90deg,#ffcec2,#ffc2b3,#ffb8a8,#ffe1da,#fcf5f6,#f9f6fa,#ffe6e0,#ffe7e2,#fff0ed,#fef4f3,#ffc8ba,#ffaa9b,#ffae9e,#ffede9,#f7f7fc,#ffd4c9,#ffb8a8,#ff9f8f,#ffdcd3,#ffefeb,#ffb7a7,#ff9989,#ff9f8f,#f4f8ff,#ebf2ff,#ffd6cc,#ffcabd,#ffc2b3,#ffcbbe,#f6f7fc,#ffe2db,#ffe0d8,#ff9e8e,#ffcfc3,#fff2ef,#dfeaff,#abc3ff,#ffcabc,#fbf5f6,#fcf5f6,#cfdfff,#0b00cd,#0c00c7,#6b85ff,#f3f7ff,#ffddd5,#ffb8a8,#ffa999,#b5cbff,#d9e6ff,#ffb4a4,#ffbbab,#ffae9e,#fcf5f6,#ffcdc1,#ff9485,#ff9d8e,#ffded7,#fff2ef,#ffede9,#ff9a8a,#ffb1a1,#ffd9d0,#f5f8fe,#ffad9e,#ffafa0,#ffbcac,#ffcec2,#ffe8e3,#ffe6e0,#f5f7fd,#ffece7,#ffd4ca,#ffeeea,#fff3f0,#fff3f1,#fcf5f6,#ffcdc0,#ffe4de,#f7f7fb,#f9f6f9,#fff4f2,#ffc5b7,#ffc9bc,#fbf5f7,#edf3ff,#f5f8fe)"></i><i style="height:4px;background:linear-gradient(90deg,#fef4f3,#fef5f4,#ffd1c5,#ffc9bc,#ffc0b0,#ffded6,#f9f6f9,#f7f7fb,#ffeeeb,#ffe0d9,#fff2f0,#ffe8e2,#ffd3c8,#ff9f90,#ffbcac,#f9f6f9,#fcf5f6,#ffc2b2,#ffafa0,#ffc2b3,#fbf6f7,#ffc0b0,#ffa798,#ffb3a3,#f5f7fd,#e6eeff,#ffd5ca,#ffd3c8,#ffc0b0,#ffd5cb,#d4e2ff,#ffbdad,#ffdad1,#ffa999,#fff4f2,#f7f7fb,#dbe7ff,#ffe6e1,#ffdbd2,#f8f6fa,#eff5ff,#0100f3,#0500e3,#7e9cff,#ffeae5,#ffede9,#ffb8a8,#ffccbf,#d5e2ff,#ffdad1,#ff9383,#ff9889,#ffddd4,#ffdad1,#ff9c8d,#ffb2a2,#ffc2b3,#ffe2dc,#fff4f1,#ff9c8d,#ffae9e,#ffd8ce,#f8f6fa,#ffc0b0,#ffc5b6,#ffe7e1,#ffcec2,#fff1ef,#fef4f4,#fef4f3,#ffebe6,#ffd7cd,#ffd7cd,#fef5f4,#f8f7fa,#ffc9bc,#ffded6,#f7f7fc,#fef5f4,#ffe3dd,#ffccbf,#ffcec1,#f9f6f9,#ebf2ff,#faf6f8,#fef4f3,#f8f6fa)"></i><i style="height:4px;background:linear-gradient(90deg,#ffe4dd,#fef4f3,#fdf5f4,#faf6f8,#ffd4c9,#ffc6b7,#ffbeae,#ffded7,#faf6f8,#fbf5f6,#fff4f2,#ffeeea,#fef4f3,#ffcfc4,#ffc5b6,#ffb8a8,#fef4f3,#f7f7fb,#ffd3c8,#ffd1c6,#ffc8ba,#e9f0ff,#ffe5df,#ffa090,#ffb1a1,#f4f8fe,#e7efff,#ffcec2,#ffccbf,#ffd5cb,#ffe0d9,#e4edff,#ffece8,#ffb4a4,#fff2ef,#f9f6f9,#cdddff,#f8f6fa,#ffa596,#fdf5f4,#f7f7fc,#0f12fa,#0100f3,#a4bdff,#ffe4dd,#ffa999,#ffa394,#f0f5ff,#e8f0ff,#ffbcad,#ffc9bb,#ffa595,#fff2ef,#ffc4b5,#ffccc0,#ffc7b9,#ffcec2,#fdf5f5,#ffa394,#ffab9b,#ffc3b4,#faf6f7,#ffc4b5,#ffe1da,#ffd6cc,#ffd2c7,#ffddd4,#f4f8ff,#ffe5e0,#ffc3b4,#ffd4c9,#ffece7,#f8f7fa,#ffdcd3,#ffdbd2,#f9f6f9,#faf6f8,#ffe2db,#ffc7b9,#ffd1c6,#f6f7fd,#e9f0ff,#fef4f3,#fbf6f7,#f0f5ff,#f0f5ff,#f8f6fa)"></i><i style="height:4px;background:linear-gradient(90deg,#fcf5f5,#ffe1d9,#ffeeea,#fff2f0,#fef4f3,#faf6f8,#ffe3dc,#ffc4b5,#ffcdc0,#ffddd5,#fcf5f5,#f8f6fa,#fcf5f5,#ffece8,#fdf5f4,#ffd4ca,#ffae9e,#ffcbbd,#faf6f8,#ffe8e2,#ffc1b1,#ffc4b5,#f1f6ff,#ffe9e4,#ffae9e,#ffb9a9,#e9f0ff,#fbf5f7,#ffad9e,#ffccbf,#fff4f2,#f6f7fd,#ffc6b8,#ffedea,#ff9c8c,#ffd8ce,#f5f8fe,#d1e0ff,#ffa596,#ffe0d9,#f6f7fd,#2d37fd,#080af9,#d4e2ff,#ffd5cb,#ffb5a5,#ffa898,#d7e4ff,#ffeae6,#ff9a8b,#ff9c8d,#ffd6cc,#ffddd4,#ffaa9a,#ffa394,#ffece7,#ffeae6,#ffbaaa,#ffb5a5,#ffbfb0,#ffeeea,#ffcbbe,#ffc9bc,#ffc5b6,#fff1ee,#fff3f1,#fdf5f5,#fef4f3,#ffeeea,#ffebe7,#f9f6f9,#ffdad1,#ffdcd4,#f6f7fd,#faf6f8,#ffe6e0,#ffcbbe,#ffe7e2,#f2f7ff,#f1f6ff,#fff4f2,#f7f7fb,#ecf3ff,#f8f6fa,#f9f6f9,#f9f6f9,#f7f7fc)"></i><i style="height:4px;background:linear-gradient(90deg,#ffd5ca,#ffc4b6,#ffded6,#fff4f2,#ffe4de,#ffe3dd,#fef5f4,#fef4f3,#fff0ed,#ffc5b6,#ffc9bc,#ffd9d0,#faf6f8,#faf6f8,#fdf5f5,#ffeae5,#ffede9,#ffcec2,#ffa99a,#ffe8e3,#faf6f8,#ffd8cf,#ffbbab,#ffe6e0,#ffece8,#ffb9a9,#ffc3b4,#fbf6f7,#faf6f7,#ffa495,#ffd7cd,#ffe1da,#d4e2ff,#fff2f0,#ffb5a5,#ffece8,#fff0ec,#bfd4ff,#ffdbd2,#f4f8ff,#fdf5f5,#4b5cff,#2128fc,#d7e4ff,#ffe7e2,#ffbdad,#ffb3a3,#e7efff,#ffb2a2,#ffc6b8,#ffefec,#ffe3dd,#ffa797,#ffb0a0,#fff3f1,#ffe1d9,#ffbbab,#ffcbbe,#ffe2db,#ffbbab,#ffb7a7,#ffe9e4,#ffd0c5,#ffd2c6,#f7f7fb,#ffdcd3,#ffd5ca,#ffe8e2,#faf6f7,#ffede9,#ffded6,#faf6f8,#fbf5f7,#ffe6e0,#ffd0c4,#fdf5f4,#e7efff,#fcf5f5,#faf6f8,#f0f5ff,#f6f7fc,#f6f7fc,#fbf6f7,#f8f7fa,#fef4f3,#ffedea,#fef4f3)"></i><i style="height:4px;background:linear-gradient(90deg,#ffc1b1,#ffb9a9,#ffc5b6,#ffd4c9,#ffd3c8,#fff4f2,#ffddd5,#ffe3dc,#fef4f3,#ffeeeb,#fbf5f6,#ffcdc1,#ffd6cc,#ffd6cd,#fbf5f7,#fdf5f5,#ffeeea,#ffefec,#ffd5cb,#ffbeae,#ffd5cb,#f6f7fc,#ffd8ce,#ffdbd3,#ffd2c7,#fcf5f5,#ffbaaa,#ffbbab,#f6f7fc,#fff1ee,#ffc5b7,#ffd4ca,#ffece8,#ffeae5,#fff1ef,#ffa595,#ffefeb,#f4f8ff,#ffe1da,#faf6f8,#f8f6fa,#5062ff,#4c5dff,#eff4ff,#ffe9e4,#ffc8ba,#f0f5ff,#d9e5ff,#ffb4a4,#ffac9c,#faf6f8,#ffb5a5,#ffc3b4,#ffe0d9,#ffe5df,#ffc4b6,#ffc9bc,#faf6f8,#ffa899,#ffd4ca,#ffd8ce,#ffdad1,#fef4f3,#fef4f3,#ffcec2,#ffd2c7,#fdf5f5,#fef5f4,#ffdbd3,#f9f6f9,#faf6f8,#ffdcd4,#ffcdc0,#f5f8fe,#e6eeff,#fbf6f7,#f7f7fb,#eaf1ff,#f7f7fc,#f9f6f9,#f8f7fa,#fef5f4,#ffe7e2,#fff4f2,#ffc6b8,#ffcbbe,#ffd5cb)"></i><i style="height:4px;background:linear-gradient(90deg,#ffd1c5,#ffd3c8,#ffc3b4,#ffc2b3,#ffb4a4,#ffcabd,#ffcec2,#ffcec1,#fff4f2,#ffebe7,#fff3f0,#fcf5f6,#f9f6f9,#ffcec2,#ffd7ce,#ffcbbe,#fdf5f4,#fdf5f4,#fff0ee,#fdf5f4,#ffcdc0,#ffa595,#ffede9,#fbf5f6,#ffdcd4,#ffe5de,#fcf5f6,#ffb8a8,#ffd4ca,#fdf5f5,#fef5f4,#ffe9e5,#ffdcd4,#e3ecff,#ffeae5,#ffbcac,#fef5f4,#f5f8fe,#f9f6f9,#f9f6fa,#f7f7fb,#576cff,#6882ff,#fbf5f7,#ffeae5,#ffe7e1,#e0eaff,#ffcdc0,#ffb8a8,#ffe0d9,#ffc8ba,#ffd8ce,#fbf6f7,#ffede9,#ffbdad,#ffe0d9,#fdf5f4,#ffc6b7,#ffedea,#ffcfc3,#ffe0d8,#f6f7fd,#fff4f2,#ffe1da,#fff4f2,#f4f8ff,#ffcfc3,#f9f6f9,#faf6f7,#ffd8cf,#ffd2c7,#f5f8fe,#f7f7fc,#f9f6f9,#ebf2ff,#f4f8ff,#f6f7fd,#faf6f8,#fef4f3,#ffefec,#fcf5f5,#ffccc0,#ffd2c7,#ffddd5,#fff0ed,#f7f7fc,#eaf1ff)"></i><i style="height:4px;background:linear-gradient(90deg,#ffd5cb,#ffe3dc,#ffd3c9,#ffc2b3,#ffd1c5,#ffc2b2,#ffbeae,#ffc0b0,#ffd0c5,#ffded7,#fff1ee,#ffe3dd,#ffe4de,#fdf5f5,#fef4f3,#ffd4ca,#ffd2c7,#ffc3b4,#fff1ef,#fff3f0,#ffece8,#ffe7e1,#ffe6e0,#ffc7b9,#f8f7fb,#ffdcd4,#ffbcac,#f7f7fb,#ffcec1,#ffdad0,#f7f7fb,#fdf5f4,#ffcbbe,#ffeeea,#eaf1ff,#ffd9cf,#ffa595,#fdf5f5,#dde8ff,#ffcfc4,#f2f6ff,#87a4ff,#667fff,#faf6f8,#ffd3c8,#ffc6b8,#e2ecff,#ffd4c9,#ffa292,#ffe9e4,#ffb0a1,#ffc5b6,#faf6f8,#ffd8ce,#ffcdc1,#f8f7fa,#ffccc0,#ffdbd2,#ffd2c7,#fff1ee,#fbf5f7,#ffc6b8,#ffe2db,#f6f7fd,#ffe7e2,#f7f7fb,#fff4f2,#ffdad2,#ffe6e1,#f5f8fe,#fdf5f4,#f8f6fa,#f4f8ff,#f5f8fe,#f8f6fa,#fbf6f7,#fff4f2,#fcf5f5,#ffc5b6,#ffd3c8,#ffece8,#fcf5f5,#f8f7fb,#eef4ff,#f5f8fe,#f7f7fc,#ffefec)"></i><i style="height:4px;background:linear-gradient(90deg,#ffefeb,#fef4f3,#ffebe7,#ffd3c8,#ffd0c4,#ffeae5,#ffcdc1,#ffded7,#ffc9bb,#ffc9bc,#ffc2b2,#ffccbf,#ffccbf,#fef4f3,#ffe8e3,#fff3f1,#ffebe6,#ffded6,#ffbfaf,#ffcec2,#f8f6fa,#fef4f3,#fef4f3,#ffe8e2,#ffb6a6,#ffe4de,#ffe7e2,#ffded6,#fef4f3,#ffe3dc,#ffebe6,#fff2f0,#ffcdc1,#ffd3c8,#ffe2db,#ffc2b2,#ffc6b7,#ffe9e3,#fef4f3,#ffc4b5,#ffede9,#a4bcff,#95b0ff,#ffe2db,#ffb9a9,#f7f7fb,#ffe1d9,#ffd6cc,#ffe4dd,#ffc0b0,#ffbbab,#ffe1da,#ffded7,#ffdbd2,#ffd0c4,#ffc2b3,#ffe0d8,#ffcfc3,#f8f7fb,#fff2ef,#ffd9cf,#fdf5f4,#ffdad1,#fcf5f6,#faf6f8,#ffd2c7,#fff0ed,#f5f8fe,#fff2f0,#f9f6f9,#fff4f2,#f7f7fb,#fbf5f7,#ffe9e3,#ffefeb,#ffdbd2,#ffd9cf,#fef4f3,#fdf5f4,#f3f7ff,#edf3ff,#f5f8fe,#fbf6f7,#ffefeb,#fcf5f6,#fdf5f4,#ffe7e2)"></i><i style="height:4px;background:linear-gradient(90deg,#fff3f1,#fcf5f5,#f9f6f9,#fcf5f5,#ffdfd7,#fff2f0,#fef4f3,#ffe5df,#ffe8e2,#ffe8e3,#ffe1da,#ffcabd,#ffbcac,#ffcfc3,#ffd7ce,#ffe5de,#ffddd5,#ffe1da,#fff4f2,#fdf5f4,#ffe5df,#ffcdc0,#fbf5f7,#f7f7fc,#ffebe7,#ffc0b1,#ffd0c4,#fbf6f7,#fff0ed,#ffede9,#fbf5f6,#ffbcac,#ffeae5,#ffdbd3,#fcf5f6,#f7f7fc,#f5f8fd,#ffe9e4,#fef4f3,#ffc9bb,#fff3f0,#9db6ff,#8ca8ff,#ffc4b5,#ffcbbe,#e3ecff,#ffd3c7,#ffc6b7,#ffd7cd,#ffd1c6,#ffe7e1,#ffdfd7,#fff4f3,#ffd1c6,#ffded7,#ffd1c5,#fbf6f7,#f9f6f9,#ffeeeb,#f9f6f9,#ffe9e4,#fff3f1,#fdf5f4,#ffd3c9,#fff2f0,#ffe5de,#fff4f2,#f8f7fa,#f8f7fa,#fff3f0,#ffe4de,#f9f6fa,#ffc7b9,#ffcabd,#ffe5df,#f6f7fc,#f5f8fe,#f5f7fd,#fbf6f7,#fff1ee,#fcf5f6,#fff1ee,#ffebe6,#ffe2db,#ffe9e4,#fdf5f4,#fff1ef)"></i><i style="height:4px;background:linear-gradient(90deg,#ffe9e4,#fff4f2,#fff0ed,#ffeeeb,#fbf5f6,#f9f6f9,#fef4f3,#fef4f3,#fff0ed,#fff3f0,#fff0ec,#ffd8cf,#ffc3b4,#ffd6cc,#ffb8a8,#ffcbbe,#ffd3c8,#ffe8e3,#ffdbd2,#ffcfc3,#ffe0d9,#ffeae5,#ffd8ce,#ffe9e4,#fbf6f7,#ffe9e3,#ffd3c8,#ffece8,#f7f7fc,#fbf5f6,#ffe5df,#ffe6e0,#f7f7fc,#fef4f3,#ffbaaa,#fef4f3,#f9f6f9,#ffd6cc,#fef4f3,#dfe9ff,#f6f7fc,#b1c8ff,#a3bcff,#ffded7,#ffe1da,#f9f6fa,#ffaf9f,#ffcbbe,#ffdfd7,#fcf5f5,#ffe5df,#ffddd5,#ffaf9f,#ffdad1,#ffded6,#fbf6f7,#ffe6e0,#fef4f3,#fbf6f7,#f5f8fe,#f8f7fb,#ffd3c9,#fdf5f5,#fdf5f4,#fbf6f7,#fff4f2,#fff0ed,#f6f7fc,#faf6f8,#ffd0c5,#ffd7ce,#fff4f2,#fbf6f7,#fff4f2,#fdf5f5,#ffedea,#fff2f0,#ffece8,#fef4f4,#ffe9e4,#ffe4de,#fef4f3,#ffe5df,#ffe3dd,#ffeae5,#fff0ed,#ffdbd3)"></i><i style="height:4px;background:linear-gradient(90deg,#fef4f3,#fdf5f4,#ffe3dd,#ffe5df,#ffede9,#fbf5f7,#ffdcd4,#ffd1c6,#fef4f4,#fcf5f5,#fdf5f4,#ffede9,#fff2ef,#ffdbd2,#ffd4c9,#ffe4de,#ffe2dc,#ffdfd7,#ffc2b3,#ffd7ce,#ffccc0,#ffdcd3,#ffe8e2,#f7f7fc,#fdf5f4,#fff1ee,#ffe6e0,#f8f7fb,#fdf5f4,#ffcbbe,#fff4f2,#ffcfc3,#ffe8e3,#ffe6e1,#ffeeeb,#ffe7e2,#ffcdc1,#fff0ee,#ffe9e4,#f5f8fe,#ffe1d9,#fcf5f6,#ccdcff,#ffebe7,#f8f6fa,#fff0ed,#fdf5f4,#ffd2c7,#ffded6,#fff4f2,#ffe8e3,#ffc7b9,#ffdfd8,#fdf5f5,#fff3f0,#ffe6e1,#f5f8fe,#fff2ef,#faf6f8,#ffede9,#f4f8ff,#fef4f3,#fff4f2,#ffe7e1,#ffe5de,#fef4f3,#ffe1da,#ffedea,#fff4f3,#fcf5f6,#fcf5f6,#ffddd5,#fff0ed,#ffe0d8,#ffdcd4,#ffded6,#ffe6e1,#ffe5df,#ffe1da,#ffe9e4,#ffe5df,#ffe4de,#ffe5df,#ffebe6,#ffdad1,#ffded6,#fff4f2)"></i><i style="height:4px;background:linear-gradient(90deg,#faf6f8,#f8f6fa,#fdf5f4,#fef4f3,#fdf5f4,#fff4f2,#ffeeeb,#ffd4c9,#ffded6,#fff0ed,#ffd8ce,#ffcfc3,#fff4f2,#fff4f2,#fff0ed,#ffded6,#ffe9e4,#ffd4ca,#ffd0c5,#ffe3dd,#ffe3dc,#ffcbbd,#ffd9d0,#fcf5f5,#fff0ed,#f7f7fb,#fdf5f4,#ffefec,#fff0ed,#ffdfd7,#ffede9,#f8f6fa,#fcf5f5,#faf6f8,#ffe9e4,#ffe2dc,#ffc1b1,#f6f7fc,#ffe0d8,#f8f6fa,#ffb4a4,#ffe8e3,#f9f6f9,#ffbdad,#fff3f1,#fef5f4,#f9f6f9,#ffe6e0,#ffcbbe,#ffd3c8,#fef4f3,#fcf5f6,#f9f6f9,#f9f6f9,#f7f7fb,#ffeeea,#fdf5f4,#fff4f3,#f9f6f9,#fff4f2,#fdf5f4,#ffeae5,#fff0ed,#ffd7cd,#fef4f3,#fcf5f6,#fcf5f5,#fef4f3,#fff0ed,#ffdad1,#ffdbd3,#ffe9e4,#fdf5f4,#ffece8,#ffe9e4,#ffe5df,#ffd3c8,#ffdfd7,#ffded6,#ffe1da,#ffe4dd,#fff4f2,#ffeae6,#fdf5f4,#ffece8,#ffe8e3,#ffebe7)"></i><i style="height:4px;background:linear-gradient(90deg,#ffeeeb,#fef4f3,#fdf5f4,#ffebe7,#ffe9e4,#ffeae5,#fff3f1,#fff2f0,#faf6f7,#ffe5df,#fff0ed,#fef4f3,#ffefec,#ffebe7,#ffe5df,#ffd4c9,#ffe6e1,#fef5f4,#faf6f7,#fff4f1,#fcf5f6,#ffdfd7,#ffd6cd,#ffe9e4,#ffd9d0,#faf6f8,#f5f8fe,#ffeae6,#ffc7b8,#ffc8bb,#ffeeea,#ffeeeb,#fbf5f7,#fff4f2,#ffe5df,#ffd9d0,#ffded6,#f6f7fd,#fdf5f4,#ffded5,#ffcabd,#fcf5f6,#ffece8,#ffaa9a,#ffb6a6,#ffe1da,#ffcfc3,#fdf5f5,#ffdbd3,#ffe2dc,#faf6f8,#ffe3dd,#fcf5f5,#f5f8fe,#faf6f7,#faf6f8,#fef4f3,#fff2f0,#fef4f3,#ffece8,#ffe1da,#ffefec,#fdf5f4,#ffe5df,#fff0ed,#ffece8,#ffe2db,#ffd5cb,#ffeeea,#ffd2c7,#fef4f3,#ffe8e3,#fcf5f5,#fff0ec,#ffe4de,#ffe6e1,#ffe8e3,#ffe4dd,#fff0ee,#fff4f2,#f8f6fa,#fff4f2,#ffece8,#ffe6e1,#fff1ef,#ffdcd4,#ffeae5)"></i><i style="height:4px;background:linear-gradient(90deg,#fef4f4,#fcf5f5,#fff0ec,#ffd7cd,#ffcec2,#ffd9d0,#ffddd4,#fef4f3,#fbf5f7,#ffe1da,#fcf5f5,#fdf5f4,#fcf5f6,#fdf5f4,#ffeeea,#fff4f2,#ffe1d9,#fcf5f6,#fef4f3,#ffe7e2,#ffcec2,#ffcdc0,#ffece7,#fbf5f7,#fff4f2,#ffeeeb,#ffe8e3,#ffe3dc,#ffbdad,#ffd0c4,#ffeae5,#fff1ee,#fdf5f4,#faf6f8,#ffece8,#ff9889,#fdf5f4,#fcf5f5,#ffdad1,#fff4f2,#fff4f2,#faf6f8,#fff4f2,#ffc7b8,#ffb5a6,#ffd9d0,#fdf5f4,#ffbdad,#ffece8,#f3f7ff,#ffe6e0,#f8f7fa,#fdf5f4,#f0f5ff,#fbf5f7,#fff4f2,#fdf5f4,#fff3f1,#f8f7fb,#fff3f1,#ffd6cd,#ffccbf,#ffece8,#fff1ef,#ffd6cc,#ffe5df,#ffe8e3,#ffcec2,#ffe9e4,#ffdad2,#fdf5f4,#ffddd5,#ffece8,#fbf6f7,#f7f7fb,#ffe5de,#ffe2db,#ffebe6,#ffdfd7,#ffdcd4,#ffe8e3,#fff1ee,#fbf5f7,#faf6f8,#ffeae5,#fef5f4,#fff1ee)"></i><i style="height:4px;background:linear-gradient(90deg,#fef4f3,#fbf5f6,#ffd8cf,#ffd1c5,#ffd9cf,#ffdfd7,#ffe6e0,#fff4f2,#ffe8e3,#ffccbf,#ffe7e2,#ffdbd3,#ffefeb,#fcf5f6,#ffe6e1,#fdf5f5,#ffe8e2,#fcf5f5,#ffe9e4,#ffd3c8,#ffd2c7,#ffd2c7,#fff4f2,#f5f8fe,#fff4f2,#ffe1da,#fff4f2,#ffede9,#ffb4a4,#ffe5df,#ffebe7,#ffede9,#ffdfd7,#ffd9cf,#fcf5f5,#ffdfd7,#ffbdad,#fef4f3,#ffded5,#fcf5f5,#fdf5f4,#ffe7e1,#ffe8e2,#ffe0d8,#ffd6cc,#f6f7fc,#fef4f3,#ffc6b8,#fef4f3,#fdf5f4,#ffeeea,#ffece8,#f0f5ff,#f9f6f9,#fbf5f7,#ffebe7,#ffc1b2,#ffcbbd,#ffc9bb,#fff4f2,#ffded7,#ffddd5,#fdf5f5,#f6f7fd,#fef4f3,#ffe1da,#ffe4dd,#fbf6f7,#faf6f8,#f8f6fa,#fff4f2,#ffdcd4,#ffefec,#f7f7fb,#fbf6f7,#fff0ed,#ffd4ca,#ffe4de,#fff4f3,#fef4f4,#ffeae5,#fff1ee,#ffeeea,#fff0ed,#ffe6e0,#ffe9e4,#ffdcd3)"></i><i style="height:4px;background:linear-gradient(90deg,#ffdfd7,#ffd4ca,#ffd7cd,#ffe0d8,#ffe6e0,#ffdcd3,#ffe8e2,#ffe8e3,#ffe9e4,#fcf5f5,#ffe6e0,#ffe9e4,#fef4f3,#fcf5f6,#fff4f2,#fbf6f7,#ffece7,#ffe3dc,#ffe3dd,#ffd1c5,#fef4f3,#ffefec,#fef5f4,#fdf5f5,#f9f6f9,#ffe3dd,#ffefeb,#ffeae5,#fef4f3,#fff2ef,#ffe5df,#e3ecff,#fbf6f7,#ffede9,#fdf5f5,#faf6f8,#ffd2c6,#f7f7fc,#ffefec,#f7f7fc,#fff0ed,#ffe5de,#ffd3c8,#f5f8fd,#fff2f0,#f9f6f9,#fff1ee,#ffefeb,#ffebe6,#ffdbd2,#eaf1ff,#f9f6f9,#ecf3ff,#faf6f8,#f2f6ff,#ffe7e1,#ffd0c4,#ffddd5,#ffddd5,#fbf5f6,#fff4f2,#ffdcd3,#fff1ee,#ffe6e1,#ffeae5,#ffe5df,#fff0ec,#fcf5f5,#fdf5f5,#f9f6f9,#ffeeea,#ffe7e1,#fff2ef,#fcf5f6,#ffdbd3,#fef4f3,#ffdbd2,#ffe4de,#ffe5df,#fff3f1,#fcf5f6,#ffe2db,#fff1ee,#ffddd5,#fdf5f4,#ffe6e1,#ffe1da)"></i><i style="height:4px;background:linear-gradient(90deg,#ffeeeb,#ffece8,#ffe3dd,#ffe6e0,#ffebe6,#ffe8e3,#ffe5df,#ffe3dc,#ffded6,#ffe5df,#fdf5f4,#f6f7fc,#fcf5f6,#ffd6cc,#ffd4ca,#fff4f2,#fdf5f4,#fcf5f6,#ffece8,#ffcabd,#fff4f2,#ffe9e4,#ffe2db,#fcf5f5,#fbf6f7,#ffc6b7,#ffefeb,#ffe5df,#fff0ed,#fff1ef,#ffbcac,#f7f7fb,#f6f7fd,#ffefeb,#ffe2db,#f0f6ff,#fdf5f4,#f9f6f9,#f9f6f9,#dfe9ff,#ffd3c8,#ffb6a7,#ffb1a2,#ffe5df,#f5f8fe,#fdf5f4,#ffd3c8,#ffdad1,#ffe8e3,#ffe5df,#fff4f1,#f1f6ff,#f8f6fa,#ffe3dc,#ffebe7,#ffedea,#ffe3dc,#fcf5f6,#ffded7,#ffddd5,#fff1ee,#ffd2c7,#ffe6e0,#fcf5f6,#fef4f3,#fff3f1,#ffeeeb,#ffddd5,#ffeeea,#ffe8e3,#ffd1c6,#ffd4ca,#fbf5f7,#ffe5df,#ffc8bb,#fdf5f5,#fdf5f4,#fdf5f4,#ffe4dd,#fbf6f7,#fcf5f5,#ffe3dc,#fff4f2,#ffeae6,#ffeeea,#ffebe7,#ffeeea)"></i><i style="height:4px;background:linear-gradient(90deg,#ffe8e3,#ffe8e3,#faf6f7,#ffe3dc,#ffd9d0,#ffd4ca,#ffe3dc,#ffe3dd,#ffe1da,#ffddd4,#ffe1da,#fff0ed,#ffe7e1,#ffd8cf,#ffd2c7,#ffedea,#ffdcd3,#ffede9,#f7f7fc,#ffdbd2,#f4f8ff,#ffe3dd,#fff4f2,#fff0ed,#ffe2db,#ffe3dd,#fff1ee,#fef5f4,#ffd1c6,#ffebe7,#f4f8ff,#ffede9,#ffc6b7,#ffe8e3,#f9f6f9,#fff0ed,#ffdbd2,#ffd1c5,#fdf5f4,#faf6f7,#ffd8ce,#ffc8ba,#ffb3a3,#ffe5df,#ffd4c9,#fff4f2,#ffc9bb,#ffccbf,#fff3f1,#fff3f0,#ffe5de,#ffe4de,#ffebe7,#ffd2c7,#ffb6a7,#f9f6fa,#fff1ee,#f9f6f9,#fff2f0,#ffe2dc,#fff4f2,#ffd6cc,#ffdfd7,#faf6f7,#fff1ee,#ffe6e0,#ffd3c8,#fff1ee,#fef4f4,#fff0ed,#ffcabc,#ffece8,#fff4f1,#fdf5f4,#fdf5f5,#ffe4de,#ffd8ce,#ffd6cc,#ffdbd2,#fbf5f7,#fbf6f7,#ffeeeb,#fef4f3,#ffefec,#ffe7e1,#ffdad1,#ffefec)"></i><i style="height:4px;background:linear-gradient(90deg,#ffece8,#ffe9e5,#ffe8e3,#ffeae5,#fdf5f4,#ffd6cc,#ffe5df,#ffe0d8,#ffccbf,#fcf5f5,#ffeeea,#ffeeeb,#ffe2db,#ffe2db,#ffe4de,#ffd3c9,#fff2f0,#ffede9,#f9f6f9,#ffdcd3,#fef4f3,#fbf5f6,#fff4f2,#ffe3dc,#ffd3c8,#f9f6f9,#ffcdc1,#ffdfd7,#ffded6,#fbf5f6,#faf6f8,#ffede9,#fff1ef,#ffe5df,#fff4f3,#ffe6e0,#f9f6f9,#f9f6f9,#ffdfd8,#fef4f3,#f7f7fc,#fef4f3,#fbf5f7,#fcf5f6,#fef4f3,#ffe7e2,#fcf5f5,#ffcdc1,#f9f6f9,#fcf5f5,#ffe9e4,#ffe3dc,#ffccc0,#fff1ee,#ffc5b7,#fff4f2,#f8f7fa,#f5f8fd,#f8f7fa,#ffece8,#f7f7fb,#fff2f0,#fdf5f4,#fff1ef,#ffdcd4,#ffe0d8,#ffece7,#ffede9,#ffe1d9,#ffe8e2,#ffede9,#ffe9e4,#ffefec,#fdf5f4,#fff3f1,#ffe6e1,#ffddd4,#ffebe7,#ffebe7,#fdf5f4,#fdf5f4,#ffe9e4,#f9f6f9,#fdf5f4,#ffeeea,#ffe7e2,#ffe1da)"></i><i style="height:4px;background:linear-gradient(90deg,#ffe3dd,#ffe2db,#ffe7e2,#fdf5f4,#fdf5f4,#ffeeea,#ffd8ce,#ffe0d9,#ffd1c6,#ffebe7,#fef5f4,#ffeeeb,#ffede9,#ffece7,#fef4f4,#f7f7fb,#fff4f3,#ffd3c8,#fcf5f6,#fdf5f5,#ffd9d0,#ffe9e4,#ffe3dc,#fdf5f5,#fdf5f4,#f3f7ff,#ebf2ff,#faf6f8,#fef4f3,#fcf5f5,#ffe4de,#faf6f8,#faf6f8,#ffbdad,#ffece8,#fcf5f5,#f8f6fa,#ffded6,#ffede9,#fdf5f4,#edf3ff,#e5eeff,#fbf5f7,#f7f7fb,#e7efff,#ffe6e0,#ffede9,#ffd4ca,#ffe9e3,#f6f7fd,#e6eeff,#ffddd5,#fff4f2,#fff3f0,#ffdcd4,#f6f7fd,#ffece8,#fff2f0,#fff3f1,#fdf5f5,#f6f7fd,#ffe9e5,#ffcdc0,#ffdad0,#fef4f3,#ffe8e3,#f9f6f9,#fbf6f7,#fdf5f5,#ffebe6,#fff3f1,#ffe3dd,#ffdfd7,#ffe3dc,#ffe1da,#ffe0d9,#ffe8e2,#ffe7e1,#ffd6cc,#fef4f3,#fff2ef,#fff3f0,#fcf5f5,#fdf5f4,#ffe9e4,#ffdfd7,#fff0ed)"></i><i style="height:4px;background:linear-gradient(90deg,#ffd9d0,#fff1ee,#fff4f3,#fff4f2,#ffd9d0,#ffd6cc,#ffe2db,#ffddd5,#ffd1c6,#ffcabd,#ffdfd8,#fff0ed,#fff4f2,#ffe9e4,#ffd9d0,#fff3f0,#ffeeeb,#ffe2db,#fff3f1,#ffdad1,#ffd4ca,#ffd8ce,#fdf5f4,#ffd9cf,#fff3f1,#f7f7fb,#ebf2ff,#fdf5f4,#ffac9d,#ffe2db,#fdf5f5,#ffb6a6,#ffc5b6,#ffcfc4,#ffdcd4,#ffc8ba,#f8f7fb,#f7f7fb,#ffdbd3,#fff3f1,#e8f0ff,#fef5f4,#ffe4de,#faf6f8,#d7e4ff,#fff4f2,#fff4f2,#f7f7fc,#ffe0d9,#ffe6e0,#fff1ee,#ffefeb,#fef4f3,#ffd4ca,#ffe7e2,#e5eeff,#ffe6e0,#ffd5cb,#ffcec2,#ffd2c7,#f8f7fb,#ffdad1,#ffdad1,#f0f5ff,#f8f7fa,#ffded7,#ffe4de,#fbf6f7,#fbf6f7,#fbf5f6,#f7f7fb,#ffdcd3,#ffcabd,#ffd4ca,#fff3f1,#fff2ef,#f9f6f9,#ffded6,#ffece8,#ffe6e0,#ffece8,#f9f6f9,#fff4f2,#fff4f3,#ffd9d0,#ffe0d8,#ffefeb)"></i><i style="height:4px;background:linear-gradient(90deg,#fff0ed,#fff4f2,#ffd4c9,#ffe4de,#ffc6b8,#ffeae6,#ffe3dd,#ffe8e3,#ffe9e4,#ffdad1,#ffe3dd,#faf6f8,#fef4f3,#ffd7cd,#ffc1b1,#ffe6e0,#ffeae6,#faf6f8,#fdf5f5,#fff0ec,#ffe0d8,#fef4f3,#fcf5f6,#fff4f2,#fbf6f7,#ffe9e4,#fcf5f5,#ffd3c8,#ffdbd2,#ffcfc3,#f4f8ff,#ffece7,#fcf5f5,#ffeae6,#fef5f4,#ffd5ca,#fef4f3,#ffefeb,#ffd6cd,#fef5f4,#fcf5f5,#f9f6f9,#f7f7fc,#e5eeff,#ecf2ff,#ffccbf,#fbf6f7,#f8f6fa,#fff2f0,#ffbdad,#ffd0c5,#ffc8ba,#ffdfd7,#fff3f1,#ffded6,#fcf5f5,#ffd8ce,#ffefec,#ffc5b7,#ffc6b7,#ffede9,#fff4f2,#faf6f8,#ffeeea,#ffeeea,#fdf5f5,#ffebe6,#ffe5df,#ffe4de,#fef5f4,#faf6f8,#ffe1d9,#ffcbbf,#ffe7e2,#ffede9,#fdf5f4,#fff4f2,#ffe6e0,#fff2f0,#ffd8cf,#ffe1d9,#ffd7cd,#ffede9,#ffe0d8,#ffd3c8,#ffd5cb,#ffe1db)"></i><i style="height:4px;background:linear-gradient(90deg,#ffd5cb,#ffd5ca,#ffdcd3,#ffdad1,#ffe5df,#ffeae6,#fff4f2,#fef4f3,#fcf5f5,#ffd7cd,#fff3f0,#fdf5f4,#eef4ff,#ffebe7,#ffe2db,#ffe5e0,#ffdbd2,#fdf5f5,#fff4f2,#fef5f4,#fcf5f5,#ffe8e3,#fef4f3,#f8f6fa,#fdf5f4,#fdf5f5,#f8f6fa,#ffc9bc,#ffcdc0,#ffe5df,#f8f7fb,#f7f7fc,#fcf5f6,#ffd3c8,#ffcabc,#ffd9d0,#ffeeeb,#ffece8,#eaf1ff,#f8f7fb,#ffc7b8,#ffefec,#fef4f3,#ffeae5,#f6f7fd,#ffebe6,#ffcfc2,#fff4f2,#ffcbbe,#ffc5b7,#ffeeea,#ffe2db,#fbf5f6,#f5f8fe,#ffd6cc,#ffd4ca,#fef4f3,#f7f7fb,#ffe3dc,#fcf5f6,#fdf5f5,#f7f7fb,#fff1ee,#ffdad1,#ffd9d0,#fcf5f6,#ffd8ce,#ffe8e2,#ffe8e2,#ffe1da,#fdf5f4,#ffe9e4,#ffe8e2,#fdf5f4,#ffe3dd,#fff2ef,#ffe8e3,#ffe6e1,#fff2f0,#ffebe7,#fff3f1,#ffefec,#ffede9,#ffd6cc,#ffe4de,#ffdbd2,#ffd3c9)"></i><i style="height:4px;background:linear-gradient(90deg,#ffe5df,#fff0ed,#ffefec,#fff1ee,#fef4f3,#ffe5df,#fff0ec,#f9f6f9,#fff3f0,#ffeae6,#f7f7fb,#fff2f0,#f6f7fd,#fef4f3,#ffefec,#f7f7fb,#ffeeea,#fcf5f5,#fef4f4,#ffeae6,#ffeae5,#ffcfc4,#fdf5f5,#ecf2ff,#ffe0d9,#ffded7,#ffe7e2,#ffccbf,#ffccc0,#ffe7e2,#ffece8,#ffede9,#ffe6e1,#ffc4b5,#ffcabd,#ffe7e2,#f4f8ff,#fdf5f5,#fff0ed,#fff1ee,#ffdbd2,#ffe6e1,#e3ecff,#ffc5b6,#ffd1c6,#ffe7e1,#ffd3c8,#ffc8ba,#ffdbd3,#ffd0c4,#faf6f8,#ffd0c5,#fff4f2,#fcf5f5,#ffd3c8,#fcf5f5,#fbf5f6,#ffeae5,#fcf5f6,#ffdbd3,#ffebe7,#ffece8,#ffcec2,#fff4f2,#ffefec,#ffeae5,#ffd9d0,#ffddd5,#fff0ed,#ffece7,#fff4f2,#ffede9,#f6f7fc,#f8f6fa,#ffe5df,#fff3f0,#fef4f3,#fff2f0,#fdf5f5,#fff3f1,#ffe4de,#fff2ef,#fff4f2,#ffd9cf,#ffe5df,#ffe2db,#ffebe7)"></i><i style="height:4px;background:linear-gradient(90deg,#fef4f3,#f7f7fb,#f7f7fb,#fff4f2,#fcf5f6,#fff3f0,#fef4f3,#fbf5f7,#fdf5f5,#fbf5f6,#fcf5f5,#fff1ee,#fcf5f5,#ffede9,#ffe5df,#fcf5f5,#ffe6e0,#f9f6f9,#fff1ef,#ffebe7,#ffe2db,#ffe0d8,#fcf5f5,#fff4f2,#ffd2c7,#ffd9cf,#fff3f1,#fff0ec,#fff3f0,#fff4f3,#ffc6b8,#ffe6e1,#ffece8,#ffedea,#ebf1ff,#e3ecff,#f5f8fe,#fcf5f6,#ffe0d9,#fbf5f6,#ffe5df,#ffd8ce,#e7efff,#ffb5a6,#fbf5f7,#fff4f3,#faf6f8,#ffefeb,#f4f8ff,#f9f6f9,#ffefeb,#fcf5f6,#fff4f2,#ffd0c4,#fff2ef,#fcf5f6,#faf6f8,#f8f7fa,#fcf5f6,#f6f7fd,#ffeae6,#fff0ec,#ffded6,#ffdfd7,#fdf5f4,#fbf5f6,#ffefec,#ffd2c7,#fbf6f7,#ffeeea,#fcf5f6,#ffe0d8,#fdf5f5,#fff4f2,#ffe0d9,#ffd5ca,#ffded6,#fff2ef,#fef4f3,#ffe7e1,#ffe8e2,#fef4f3,#fcf5f6,#ffe7e2,#ffdcd3,#ffd1c6,#ffe3dc)"></i><i style="height:4px;background:linear-gradient(90deg,#fef4f3,#fbf5f6,#fcf5f6,#ffeeeb,#fff3f1,#ffe7e1,#fdf5f4,#fff4f2,#ffded6,#ffe0d9,#fef4f3,#ffe6e0,#ffeae5,#ffe7e1,#ffe3dc,#fdf5f5,#ffe1d9,#ffeeeb,#fef4f3,#ffd7cd,#ffdbd2,#ffc4b5,#ffd5cb,#ffe6e0,#ffd3c8,#ffe5df,#fff0ed,#ffe6e0,#fdf5f4,#ffddd5,#fdf5f4,#faf6f8,#ffe0d9,#ffd1c5,#fcf5f5,#f8f7fa,#ffdcd4,#ffeeeb,#ffd5cb,#ffd4c9,#ffe7e1,#fef4f3,#faf6f8,#ffb0a0,#ffc0b0,#fff3f1,#e9f0ff,#fef4f3,#eef4ff,#fff1ee,#ffede9,#ffe7e2,#ffe3dc,#ffe3dc,#ffece8,#fdf5f4,#f2f6ff,#f5f8fe,#ffe1da,#faf6f7,#ffece8,#f5f8fe,#f7f7fc,#ffe2db,#fff0ee,#ffe5df,#ffedea,#ffebe7,#fff4f2,#fef4f3,#fcf5f6,#ffece8,#fff1ee,#ffece8,#ffe1da,#ffdfd8,#ffebe7,#ffebe6,#ffe1da,#ffddd5,#ffdbd2,#ffd7ce,#ffece7,#ffe7e2,#ffded6,#fff0ed,#ffefec)"></i><i style="height:4px;background:linear-gradient(90deg,#fdf5f5,#fff3f1,#ffebe7,#ffd8cf,#ffe5df,#ffd5cb,#ffe4de,#ffded6,#ffd7cd,#fff4f2,#f9f6f9,#faf6f8,#fff4f2,#ffe1da,#ffeae5,#ffe6e1,#ffd6cc,#ffe5df,#ffd8ce,#ffd6cc,#ffcfc3,#ffcfc3,#ffddd4,#fbf5f7,#fff4f3,#ffe4de,#ffd4ca,#fdf5f5,#f8f6fa,#ffd8ce,#ffefec,#f5f8fe,#f8f7fb,#f1f6ff,#ffe5de,#fcf5f5,#ffe2db,#f5f8fe,#ffd7ce,#ffd5cb,#ffc9bb,#f3f7ff,#f6f7fc,#ffb9a9,#ffeae6,#f6f7fd,#faf6f8,#ffe2db,#ffeeea,#ffdfd7,#ffe9e4,#ffdcd3,#fcf5f6,#fff1ee,#ffebe7,#f4f8ff,#ffe7e2,#faf6f8,#ffeae5,#ffeeea,#fef4f3,#fcf5f5,#f9f6f9,#fff1ef,#f8f7fb,#f3f7ff,#ffece8,#fff4f2,#ffd3c9,#fff1ee,#fff4f2,#f8f6fa,#faf6f8,#faf6f8,#fff0ed,#fff4f2,#fff0ed,#ffe5df,#fef4f3,#fff3f0,#fff0ed,#ffe2dc,#ffe5df,#ffded6,#ffddd5,#ffe4de,#ffe3dc)"></i><i style="height:4px;background:linear-gradient(90deg,#ffebe7,#ffe1da,#ffe2dc,#ffdbd2,#fcf5f5,#fdf5f4,#fff4f2,#fbf6f7,#fef4f3,#ffeeeb,#fdf5f4,#ffece8,#ffe8e3,#ffd4ca,#ffe2db,#ffc7b9,#ffc0b0,#ffd6cb,#ffd1c6,#ffe0d8,#ffdcd4,#fff4f2,#ffeeeb,#ffe0d8,#ffd9d0,#fef5f4,#faf6f7,#ffe8e3,#ffe0d9,#ffd8cf,#fff2ef,#ffded6,#f8f7fa,#ffe2db,#f9f6f9,#faf6f8,#e8efff,#e5edff,#eff5ff,#f8f7fb,#ffc3b3,#fbf5f6,#f7f7fc,#ffb6a6,#f7f7fb,#f3f7ff,#ffece8,#ffe5e0,#ffd3c8,#fdf5f5,#ffe4de,#ffc2b3,#faf6f8,#fcf5f5,#ffd2c7,#ffefec,#ffccbf,#ffdbd2,#fef4f4,#fef4f4,#ffede9,#f7f7fb,#ffefec,#ffd0c4,#fbf6f7,#faf6f8,#f6f7fd,#f7f7fb,#faf6f8,#f8f7fb,#fff0ec,#ffcbbd,#fff2f0,#fbf6f7,#fdf5f5,#fbf6f7,#fcf5f6,#fef5f4,#f7f7fb,#ffefec,#fff1ee,#ffdcd4,#fff1ef,#fff1ee,#ffe5df,#ffe5de,#fff4f2)"></i><i style="height:4px;background:linear-gradient(90deg,#fdf5f4,#fff4f2,#fff2ef,#fdf5f5,#fef4f4,#ffe7e1,#ffdad1,#ffe7e1,#ffddd5,#ffe3dc,#ffd2c7,#ffd9d0,#ffccbf,#ffc8ba,#ffd2c7,#ffe0d9,#ffe2db,#ffe0d8,#ffebe6,#fff1ef,#ffdbd2,#ffc6b7,#ffcbbf,#f9f6f9,#fdf5f5,#fef4f3,#ffcfc3,#ffc4b6,#f8f7fb,#ffe9e4,#fdf5f4,#fcf5f6,#f5f8fe,#ffd7cd,#fdf5f4,#edf3ff,#f0f5ff,#fff1ee,#f7f7fc,#fff4f2,#ffd2c7,#f9f6f9,#ffdbd2,#ffb5a5,#f1f6ff,#faf6f8,#ffdbd3,#ffede9,#e6eeff,#f8f7fb,#fbf6f7,#ffcfc3,#ffe4dd,#f8f7fa,#fef5f4,#ffd3c8,#fff1ef,#ffcdc1,#f7f7fc,#ffeeea,#ffd2c7,#f8f6fa,#fef4f3,#fcf5f6,#ffe7e1,#ffdad0,#f7f7fb,#f5f8fe,#f8f6fa,#f8f6fa,#fbf5f6,#fff4f2,#fff2f0,#fbf5f7,#ffb6a6,#ffd9d0,#ffebe6,#fdf5f5,#f6f7fc,#fcf5f6,#fbf5f6,#ffe9e4,#faf6f8,#fef4f3,#ffe3dc,#ffd8ce,#ffe1da)"></i><i style="height:4px;background:linear-gradient(90deg,#fdf5f5,#fff4f2,#ffe9e4,#ffe7e1,#ffe5df,#ffe0d9,#ffd3c8,#ffd3c8,#ffcdc1,#ffc7b9,#ffc4b5,#ffbcad,#ffd7ce,#ffe0d9,#fef4f3,#ffe8e3,#fef4f3,#fef4f3,#ffebe7,#ffe6e0,#ffc5b7,#ffe7e2,#ffece8,#ffefec,#ffe0d9,#ffdad1,#fdf5f4,#f8f7fb,#ffeeea,#fff2f0,#eef4ff,#fbf5f7,#f9f6fa,#ffe0d8,#fff2ef,#fcf5f5,#f5f8fe,#f9f6f9,#f5f8fe,#ffcfc3,#ffe5df,#f0f5ff,#ffbcac,#ff6864,#ffa595,#f6f7fd,#eff5ff,#ffeae5,#f3f8ff,#fcf5f6,#fff4f1,#f6f7fd,#f4f8ff,#faf6f8,#fcf5f6,#fbf5f7,#ffb6a6,#fdf5f4,#ffe0d9,#ffdfd8,#fbf5f7,#ffb6a6,#ffe5df,#eaf1ff,#ffcabc,#fef4f3,#fef4f3,#ffe9e5,#fcf5f6,#faf6f8,#fdf5f4,#fbf6f7,#fef5f4,#fff3f0,#fdf5f4,#fff4f2,#fef4f3,#ffc7b9,#ffd4c9,#ffd5cb,#fdf5f5,#f5f8fe,#ebf2ff,#f6f7fc,#fbf5f6,#ffefeb,#fcf5f6)"></i><i style="height:4px;background:linear-gradient(90deg,#ffe3dd,#ffd2c7,#ffd6cc,#ffd1c5,#ffdbd3,#ffccbf,#ffc5b7,#ffbbab,#ffbaaa,#ffd9d0,#ffccbf,#ffe9e3,#ffded6,#ffeeea,#fdf5f5,#ffefec,#ffdfd8,#ffece8,#ffcdc0,#fbf5f7,#fbf5f7,#ffe3dd,#ffe2db,#ffe2dc,#ffd0c4,#f7f7fb,#ffefeb,#ffeeea,#f5f8fe,#fff1ee,#f6f7fd,#f9f6f9,#ffb5a5,#fcf5f6,#f6f7fc,#f7f7fb,#f8f7fa,#fbf6f7,#fcf5f5,#ffb1a1,#f4f8fe,#fdf5f4,#ffb1a2,#ff5d5f,#ff8a7b,#ffebe6,#f4f8ff,#ffe4dd,#fcf5f6,#dee9ff,#ffe7e2,#fcf5f6,#f4f8ff,#fbf5f7,#fff3f1,#f9f6fa,#fcf5f5,#ffe1da,#ffe6e0,#fcf5f5,#ffd5cb,#f7f7fc,#fef4f3,#fff2ef,#ffe2db,#f8f6fa,#ffcfc4,#faf6f8,#f8f6fa,#ffd0c4,#ffdbd3,#f4f8ff,#fdf5f5,#faf6f8,#f7f7fc,#f7f7fc,#fcf5f5,#fff1ee,#ffeeea,#fef4f3,#ffcfc3,#ffd4ca,#ffe3dc,#fef4f3,#f7f7fb,#e9f1ff,#f5f8fe)"></i><i style="height:4px;background:linear-gradient(90deg,#ffc3b4,#ffd0c5,#ffc8ba,#ffc1b2,#ffbeae,#ffbeae,#ffd0c4,#ffcabd,#ffe2db,#fff3f1,#ffe0d9,#fdf5f4,#fdf5f4,#fff3f0,#ffd2c7,#ffdbd2,#ffc8bb,#fef4f3,#f8f6fa,#fff4f2,#ffefec,#ffcfc3,#ffbcac,#fef4f3,#f8f7fb,#fcf5f6,#ffede9,#d9e5ff,#fdf5f5,#fdf5f4,#fcf5f5,#ffded6,#ffbaaa,#f5f8fe,#fef4f4,#ffded6,#f6f7fd,#ffe6e1,#ffb4a4,#fdf5f4,#f4f8fe,#ffe4dd,#ff9889,#ff6060,#ff8172,#ffa898,#f9f6f9,#fff4f2,#f8f7fb,#dfe9ff,#ffede9,#ffe9e4,#ffebe6,#ffe5df,#fff2ef,#f6f7fd,#f8f7fa,#fef4f3,#fef4f3,#ffe6e0,#f9f6f9,#ffc6b7,#ffd2c6,#f8f6fa,#ffe1da,#ffbaaa,#fcf5f5,#f9f6f9,#ffddd4,#fdf5f5,#fdf5f4,#ffd3c8,#ffd4ca,#f5f8fe,#f7f7fb,#fef4f3,#f6f7fd,#f9f6fa,#f6f7fd,#faf6f8,#fbf5f7,#fef4f4,#fcf5f5,#ffcfc3,#ffcfc3,#ffe0d8,#ffede9)"></i><i style="height:4px;background:linear-gradient(90deg,#ffc1b2,#ffbeae,#ffb9a9,#ffccbf,#ffd7cd,#ffded6,#fef4f3,#ffd3c8,#ffe9e4,#faf6f8,#fff1ee,#fff4f3,#ffd0c4,#ffd9cf,#ffc7b9,#fef4f3,#faf6f8,#fdf5f5,#ffece8,#ffebe7,#fff3f1,#ffe8e2,#fdf5f4,#ffede9,#f8f7fa,#f8f7fb,#f6f7fd,#fdf5f5,#f5f8fe,#fbf5f7,#ffc0b0,#ffad9d,#f5f8fd,#f2f6ff,#eef4ff,#f3f7ff,#f2f7ff,#fef5f4,#ffb7a7,#fcf5f6,#fff4f2,#ffc8ba,#ff9283,#ff4c55,#ff404f,#ffb5a5,#fbf5f7,#fff3f0,#ffefec,#fef4f3,#d6e3ff,#e3edff,#ffe8e3,#fef4f3,#fff2f0,#ffd7cd,#f7f7fc,#f9f6f9,#fff4f2,#fef5f4,#ffd6cc,#fcf5f6,#ffd8ce,#ffdfd7,#e8f0ff,#fdf5f5,#ffc6b7,#ffd0c4,#f8f7fb,#fff4f2,#ffd0c4,#fdf5f4,#fbf5f7,#ffd3c8,#ffbfaf,#fbf5f7,#e7efff,#fbf6f7,#f9f6f9,#f4f8ff,#f7f7fc,#f9f6f9,#f9f6f9,#fdf5f4,#fdf5f4,#fcf5f5,#ffc1b2)"></i><i style="height:4px;background:linear-gradient(90deg,#ffc0b0,#ffd6cc,#ffddd4,#fff0ed,#ffece8,#ffe1da,#fff3f0,#fcf5f6,#ffe9e4,#ffe5df,#ffc7b9,#ffcfc3,#ffc8bb,#fff4f2,#f7f7fc,#f7f7fc,#ffebe7,#ffede9,#ffebe7,#ffd9d0,#ffe5df,#fcf5f6,#ffe5df,#fcf5f5,#ffe9e4,#fcf5f5,#ffeeea,#f7f7fb,#fff4f3,#ffbdad,#ffb3a3,#ffefeb,#e8f0ff,#f4f8ff,#ffcdc0,#f4f8ff,#fef4f3,#ffe1da,#ffb1a1,#ffd4c9,#ebf2ff,#ffd0c5,#ff7e6f,#ff404f,#ff5158,#ffd7ce,#ffd6cc,#eff5ff,#ffebe6,#ffefeb,#e6eeff,#f7f7fb,#ffd7cd,#fbf5f6,#e4edff,#fbf6f7,#ffe3dc,#faf6f8,#faf6f8,#faf6f8,#f6f7fd,#ffbeae,#f9f6f9,#fff4f3,#ffd0c4,#ffdbd2,#f6f7fc,#fbf5f6,#ffe1da,#ffd9d0,#f4f8fe,#ffefeb,#ffdcd4,#fdf5f5,#faf6f8,#ffe4de,#ffbcad,#fff3f1,#ebf2ff,#faf6f8,#faf6f8,#f5f8fd,#f7f7fb,#f4f8ff,#faf6f8,#faf6f8,#fff3f1)"></i><i style="height:4px;background:linear-gradient(90deg,#ffe3dc,#fff4f2,#ffd3c8,#ffefec,#f9f6fa,#fbf5f7,#fff4f2,#ffdfd7,#ffdad1,#ffd7cd,#ffc7b8,#fef4f3,#f9f6f9,#f9f6fa,#ffece8,#ffdfd8,#ffc8ba,#ffd4ca,#ffe8e3,#fdf5f5,#ffe8e3,#ffeeeb,#ffe4de,#f8f6fa,#f9f6f9,#faf6f8,#f8f7fb,#fcf5f6,#ffb4a4,#ffb1a2,#ffede9,#e6efff,#fcf5f5,#fcf5f6,#e7efff,#f4f8ff,#f7f7fb,#ffbcac,#ffb7a7,#ffe7e1,#f5f8fd,#ffe1da,#ff6e67,#ff384b,#ff565a,#fbf5f6,#fcf5f5,#eaf1ff,#ffd6cb,#ffded5,#fdf5f4,#dfeaff,#ffe8e2,#ffd6cb,#fcf5f6,#d7e4ff,#f3f7ff,#ffede9,#faf6f8,#f5f8fe,#f7f7fb,#f8f6fa,#ffa797,#ffe9e4,#f2f6ff,#ffd3c9,#ffc7b9,#eef4ff,#f1f6ff,#ffcabd,#ffb9a9,#ffe2dc,#eaf1ff,#ffe5de,#ffe0d9,#fff3f1,#fcf5f5,#ffeae5,#ffc9bb,#ffe2db,#f4f8ff,#eef4ff,#fdf5f5,#f9f6f9,#f3f7ff,#f5f7fd,#f3f8ff)"></i><i style="height:4px;background:linear-gradient(90deg,#ffe4dd,#ffefec,#f9f6fa,#fdf5f4,#ffede9,#ffdbd2,#ffd6cb,#ffd5ca,#ffd0c5,#fff3f1,#f7f7fb,#f7f7fb,#fff3f1,#ffded6,#ffc9bc,#ffece7,#ffcfc4,#fff3f0,#fbf5f7,#ffe3dc,#f5f7fd,#fcf5f6,#edf3ff,#fef5f4,#f5f8fe,#f4f8ff,#f8f6fa,#ffbaaa,#ffcabc,#ffe2dc,#f5f8fe,#f8f6fa,#f4f8ff,#fff1ee,#f4f8ff,#faf6f8,#ffe0d9,#ffa99a,#ffbeae,#edf3ff,#f6f7fc,#ffcec2,#ff756b,#ff2c42,#ff283f,#f9f6f9,#fef4f3,#eff4ff,#faf6f8,#ffccbf,#ffebe6,#f1f6ff,#f9f6f9,#ffe1da,#fff2ef,#f8f6fa,#f9f6f9,#f6f7fc,#ffe2db,#fff4f2,#f9f6f9,#f7f7fb,#f6f7fd,#ffb2a2,#ffe1da,#fdf5f4,#ffd8ce,#ffd3c9,#ffdfd7,#f6f7fd,#fdf5f5,#ffbfaf,#ffbaaa,#fff1ee,#ebf2ff,#ffe3dd,#ffe5df,#fcf5f5,#f9f6f9,#fff3f0,#ffcfc3,#ffcfc3,#f8f6fa,#edf3ff,#fcf5f6,#faf6f8,#f7f7fc)"></i><i style="height:4px;background:linear-gradient(90deg,#faf6f8,#ffeae5,#ffe7e2,#ffd3c9,#ffded7,#ffcec2,#ffccc0,#ffede9,#f6f7fd,#f7f7fb,#fef4f3,#ffe3dd,#ffded6,#ffded6,#ffcabc,#ffe5df,#fef4f3,#f9f6fa,#ffece8,#fbf5f7,#fdf5f4,#e3ecff,#faf6f8,#f7f7fb,#f6f7fd,#fef5f4,#ffaa9a,#ffcec2,#ffdcd3,#eef4ff,#f6f7fd,#f5f8fe,#ffe0d8,#e5eeff,#f4f8ff,#fbf6f7,#ffd6cc,#ff9f90,#ffe8e2,#dfeaff,#faf6f8,#ffc4b5,#ff7c6e,#ff1e38,#ff1e37,#fff3f0,#ffdad1,#f7f7fb,#ebf2ff,#ffd7ce,#fdf5f4,#e9f0ff,#dde8ff,#fff1ee,#ffe8e3,#f9f6f9,#f8f7fb,#fef4f3,#fbf6f7,#ffded6,#f9f6f9,#f4f8ff,#f8f7fa,#fbf5f6,#ffd0c4,#ffd7cd,#f5f7fd,#fdf5f4,#ffb8a8,#ffc5b6,#f4f8ff,#f4f8ff,#fef4f3,#ffd5cb,#ffc9bc,#fcf5f5,#eef4ff,#ffe0d9,#ffe9e5,#fef4f3,#faf6f8,#fcf5f5,#ffd6cc,#ffc1b1,#fef4f3,#e6eeff,#f7f7fc)"></i><i style="height:4px;background:linear-gradient(90deg,#ffe3dc,#ffd0c4,#ffe3dd,#ffc5b7,#ffd6cd,#fff0ed,#f6f7fd,#f9f6fa,#fbf5f7,#ffe3dd,#ffdfd7,#ffd6cb,#ffe0d9,#ffd8ce,#ffeeea,#fcf5f5,#ffddd5,#fef5f4,#fdf5f4,#fcf5f5,#f8f6fa,#fff3f0,#f7f7fb,#f0f5ff,#f9f6f9,#ffa595,#ffcdc0,#ffb2a2,#f0f5ff,#d1e0ff,#fcf5f6,#f8f7fb,#f5f8fe,#e6efff,#f7f7fb,#ffeeea,#ffaa9b,#ff776c,#ffd8ce,#faf6f8,#ffe9e4,#ffb1a1,#ff545a,#ff0c2a,#ff2039,#ffbcac,#ffb3a3,#ecf3ff,#e7efff,#ffe3dd,#ffd6cc,#fef4f3,#f1f6ff,#faf6f7,#f5f8fe,#ffcfc3,#faf6f8,#cdddff,#f6f7fd,#faf6f8,#fff4f2,#f1f6ff,#f5f8fe,#fbf6f7,#ffeeea,#ffeae5,#ffcec2,#f9f6f9,#f6f7fd,#ffd0c5,#ffd8ce,#ffdbd2,#f0f5ff,#faf6f8,#ffbbab,#ffbcac,#ffd9d0,#f8f7fb,#f5f8fe,#ffded5,#ffe8e3,#fdf5f5,#faf6f8,#faf6f7,#ffd8cf,#ffbaaa,#ffece8)"></i><i style="height:4px;background:linear-gradient(90deg,#ffe7e1,#ffc4b5,#ffd1c5,#ffe7e2,#f6f7fd,#f9f6f9,#f8f6fa,#ffece8,#ffd5ca,#ffccbf,#ffece7,#ffcfc3,#ffddd5,#ffefec,#fcf5f5,#ffebe7,#ecf3ff,#fdf5f4,#faf6f7,#fef4f3,#fef4f3,#f8f7fa,#f3f7ff,#faf6f8,#ff998a,#ffb9a9,#ffa090,#fef4f3,#c3d6ff,#fdf5f5,#f6f7fc,#ffd2c7,#eff5ff,#ebf2ff,#f5f8fe,#ffc5b6,#ff9e8f,#ffccbf,#ffe1da,#f6f7fd,#ffc7b9,#ffbcac,#ff4451,#ff0223,#ff1330,#ff8f7f,#ffaf9f,#f7f7fb,#d0dfff,#fcf5f5,#ffc2b2,#fbf6f7,#e4edff,#d5e2ff,#ffeeeb,#ffdad1,#fcf5f6,#f9f6fa,#c7d9ff,#edf3ff,#faf6f8,#ffece8,#f4f8fe,#f5f7fd,#fcf5f6,#ffe9e4,#fff0ed,#ffb4a4,#ffe9e4,#fcf5f6,#ffdbd2,#ffbfaf,#ffc5b7,#edf3ff,#ecf2ff,#f9f6f9,#ffc7b9,#ffb5a5,#ffede9,#f2f7ff,#f9f6f9,#ffdcd4,#ffe7e2,#fff4f2,#fbf5f7,#fcf5f5,#ffd3c8)"></i><i style="height:4px;background:linear-gradient(90deg,#ffcec2,#ffe4dd,#f6f7fd,#f7f7fb,#f6f7fd,#ffece7,#ffdcd4,#ffddd5,#ffe2dc,#ffd8ce,#ffe3dc,#ffe7e2,#fcf5f5,#ffe7e1,#fef5f4,#f7f7fc,#f5f8fe,#eff4ff,#fcf5f5,#fdf5f5,#f7f7fb,#f1f6ff,#fbf6f7,#ff9b8b,#ffa697,#ffb5a5,#ffeeeb,#dfe9ff,#e9f0ff,#f5f7fd,#ffe9e4,#ecf3ff,#dde8ff,#f7f7fb,#ffede9,#ffa697,#ff9a8a,#ffc1b2,#ebf2ff,#f5f8fe,#ffdcd4,#ffab9b,#ff3e4e,#f00023,#f80022,#ff595c,#ffc4b6,#f7f7fb,#d5e3ff,#f4f8ff,#ffcabd,#ffe4de,#ffefeb,#f4f8ff,#faf6f8,#e2ecff,#ffd0c5,#f7f7fc,#f7f7fc,#f6f7fd,#f7f7fb,#ffdbd2,#ffd3c8,#f6f7fd,#f3f7ff,#fef4f4,#fff0ed,#fef4f3,#ffa898,#ffe8e2,#f8f7fa,#fdf5f4,#ffb9a9,#ffd7cd,#ffe8e3,#edf3ff,#f6f7fd,#ffeeea,#ffd7cd,#ffcabd,#fff4f2,#e9f1ff,#faf6f7,#ffe5df,#fff2f0,#fff1ee,#fef4f3)"></i><i style="height:4px;background:linear-gradient(90deg,#f7f7fb,#f7f7fc,#f3f8ff,#fff4f2,#ffd8cf,#ffd9d0,#ffd3c8,#ffe9e4,#ffd4ca,#ffdbd3,#fff4f2,#fff4f2,#ffdfd7,#fcf5f6,#fcf5f5,#faf6f8,#dbe6ff,#fbf5f6,#fdf5f4,#f5f8fe,#edf3ff,#fbf6f7,#ff9484,#ffb4a4,#ffb6a6,#fef4f3,#e7efff,#d1e0ff,#f9f6f9,#f6f7fd,#ffe2db,#dde8ff,#e1ebff,#f7f7fb,#ffd2c7,#ffb7a7,#ff766b,#ffc5b6,#e3ecff,#f5f8fe,#ffcabd,#ff897a,#ff273f,#e80023,#ed0023,#ff4451,#ffc7b9,#fff4f1,#f1f6ff,#cfdfff,#ffdfd7,#ffd9d0,#ffeae6,#e5eeff,#d0dfff,#fff4f2,#ffe1da,#ffddd4,#e9f1ff,#e9f1ff,#f8f7fa,#f2f6ff,#ffd5ca,#ffdfd7,#f4f8ff,#f4f8ff,#fcf5f6,#fdf5f5,#f6f7fd,#ffa292,#ffded6,#f5f7fd,#f4f8ff,#ffd2c6,#ffcfc3,#ffc9bb,#eef4ff,#e8f0ff,#f9f6fa,#ffbaaa,#ffc2b2,#ffd1c6,#fbf5f6,#dfe9ff,#fdf5f5,#ffd9cf,#fff1ee)"></i><i style="height:4px;background:linear-gradient(90deg,#f3f7ff,#fdf5f5,#ffe2dc,#ffd8ce,#ffc9bc,#fff2f0,#ffd5ca,#ffe6e1,#ffeae5,#fbf5f6,#fff2ef,#ffe9e4,#eef4ff,#fdf5f4,#fcf5f6,#e5edff,#f9f6f9,#fbf6f7,#f4f8ff,#edf3ff,#f8f6fa,#ff9383,#ffa898,#ffb4a4,#ffe1d9,#f6f7fd,#dbe6ff,#ffeae5,#f4f8ff,#ffe7e2,#e9f0ff,#ccdcff,#dee9ff,#f7f7fc,#ffbfaf,#ff9283,#ffb7a8,#ffd2c7,#d9e5ff,#f2f7ff,#ffc0b0,#ff7a6d,#ff1e38,#f00023,#f10023,#ff4653,#ffeeea,#ffd6cc,#f8f7fa,#dce7ff,#fff4f2,#ffb3a3,#fff4f1,#ffefeb,#f5f8fe,#f9f6f9,#ffede9,#ffded6,#faf6f8,#f4f8ff,#bfd3ff,#fef5f4,#f5f8fe,#ffd9d0,#ffe9e4,#f5f7fd,#edf3ff,#faf6f8,#fcf5f5,#f6f7fc,#ffb6a7,#ffd2c6,#faf6f7,#f8f7fb,#ffe7e1,#ffbcac,#ffc9bc,#ffe6e0,#ecf3ff,#eff5ff,#f6f7fd,#ffcabd,#ffb2a2,#ffded6,#fcf5f6,#e1ebff,#fef5f4)"></i><i style="height:4px;background:linear-gradient(90deg,#ffe7e2,#ffd8cf,#ffd4c9,#ffdbd3,#ffefec,#ffdbd2,#ffe1da,#fff3f0,#fff3f0,#ffd9d0,#fcf5f6,#f1f6ff,#f9f6f9,#faf6f8,#f6f7fd,#fbf5f6,#faf6f8,#eff5ff,#ebf2ff,#f8f7fb,#ff9586,#ffab9b,#ffb8a8,#ffc0b0,#fcf5f6,#ccdcff,#eaf1ff,#f8f6fa,#f8f7fa,#fdf5f5,#d0dfff,#d8e5ff,#fbf6f7,#ffddd5,#ffa090,#ff9989,#ffbeae,#ffe1da,#f6f7fd,#f5f8fe,#ffded7,#ff766b,#ff1f38,#ee0023,#e80023,#ff3448,#ffefec,#ffcdc1,#f8f7fa,#bed2ff,#f9f6fa,#ffcec2,#ffe5df,#ffebe7,#d1e0ff,#c3d6ff,#f9f6f9,#fbf5f7,#ffc5b6,#f7f7fb,#f7f7fc,#bfd3ff,#f5f8fe,#fcf5f6,#ffd2c7,#ffede9,#f5f8fe,#f0f5ff,#fbf6f7,#fff4f2,#f8f7fb,#ffdcd4,#ffc6b8,#ffece8,#f8f6fa,#f8f7fa,#ffccbf,#ffcdc1,#ffc6b8,#ebf2ff,#e7efff,#f8f7fa,#ffdad1,#ffd2c6,#ffb4a5,#ffe4dd,#f8f6fa)"></i><i style="height:4px;background:linear-gradient(90deg,#ffd2c7,#ffcfc3,#fff4f2,#ffd4c9,#ffede9,#ffe0d8,#fcf5f5,#fef4f3,#ffe2dc,#fbf5f7,#f7f7fb,#f6f7fd,#f4f8ff,#fcf5f5,#faf6f7,#f6f7fc,#edf3ff,#ebf2ff,#f8f6fa,#ff9989,#ffab9b,#ffccbf,#ffa797,#ffe7e2,#dae6ff,#edf3ff,#fbf5f7,#fef4f4,#ffc9bc,#e2ecff,#c8daff,#d7e4ff,#fcf5f5,#ffbaaa,#ffbaaa,#ff786d,#ffbeae,#f6f7fc,#eaf1ff,#ffe8e3,#ffd0c4,#ff7b6e,#ff2039,#ea0023,#e40023,#ff1430,#fbf6f7,#ffb1a2,#eaf1ff,#cdddff,#d6e3ff,#ffd6cc,#ffbcac,#fef5f4,#f9f6fa,#edf3ff,#f7f7fc,#fcf5f5,#ffccbf,#ffd6cc,#eff5ff,#f1f6ff,#e5eeff,#f0f5ff,#fbf6f7,#ffd2c7,#fff4f2,#f5f7fd,#f0f5ff,#fbf5f7,#fff2ef,#f9f6fa,#ffdfd7,#ffb5a5,#ffefec,#ecf3ff,#ecf2ff,#ffd5ca,#ffbaab,#ffbfaf,#ffe6e0,#e9f0ff,#f0f5ff,#f5f8fe,#ffbeae,#ffbeaf,#ffc5b6)"></i><i style="height:4px;background:linear-gradient(90deg,#ffebe6,#ffe3dd,#ffe5df,#ffe6e1,#ffe8e2,#ffefec,#ffdfd7,#fcf5f5,#e7efff,#f9f6f9,#f9f6f9,#e3ecff,#fff4f2,#fcf5f5,#f1f6ff,#e9f0ff,#e4edff,#f7f7fb,#ff9586,#ffa292,#ffd3c8,#ffa191,#fff2f0,#e1ebff,#cbdcff,#ffe5df,#f6f7fc,#ffddd5,#f0f5ff,#c3d6ff,#d6e3ff,#f7f7fb,#fef5f4,#ffbaaa,#ff8f80,#ff9081,#ffb8a8,#d6e3ff,#d5e2ff,#ffe2db,#ffc2b3,#ff756b,#ff1431,#ec0023,#e40023,#ff0526,#ffeeeb,#ffa394,#f7f7fc,#f0f5ff,#d8e4ff,#ffeeea,#ff9a8b,#ffd4ca,#faf6f8,#c3d6ff,#c5d8ff,#f4f8ff,#ecf2ff,#ffd2c6,#fcf5f6,#f7f7fc,#e3ecff,#f0f5ff,#f7f7fc,#fcf5f6,#ffcdc0,#fdf5f4,#f5f8fe,#ebf2ff,#fbf6f7,#ffece7,#fcf5f6,#ffdcd3,#ffa595,#ffe5df,#f3f7ff,#f4f8ff,#ffe3dd,#ffb7a7,#ffcdc0,#ffc6b7,#f6f7fd,#eef4ff,#f3f7ff,#fbf5f7,#ffcbbe)"></i><i style="height:4px;background:linear-gradient(90deg,#ffdad2,#fff3f0,#ffe9e4,#fef4f4,#fff4f2,#ffe1da,#fbf5f6,#eef4ff,#fbf6f7,#fcf5f5,#e7efff,#fcf5f6,#fff2ef,#ecf3ff,#f1f6ff,#e4edff,#f8f7fa,#ff9b8c,#ff9b8b,#ffc2b3,#ffb5a5,#fff3f1,#f5f8fe,#d7e4ff,#eef4ff,#f8f7fb,#faf6f7,#ffd4ca,#d4e2ff,#cadbff,#d1e0ff,#f2f7ff,#ffd5ca,#ff9d8d,#ff9e8f,#ffbeae,#ffd4ca,#dfe9ff,#f8f7fa,#ffccbf,#ffcdc0,#ff796d,#ff0b2a,#ea0023,#e50023,#fa0022,#ffcec2,#ffb4a4,#fcf5f5,#f7f7fc,#d5e3ff,#f5f8fe,#ffb9a9,#ffc7b9,#ffe4de,#f0f5ff,#ecf3ff,#f7f7fb,#fdf5f4,#ffd4ca,#ffbeae,#fbf6f7,#faf6f8,#bdd1ff,#f9f6f9,#f4f8ff,#fef4f3,#ffcdc0,#fcf5f6,#f2f6ff,#ebf2ff,#faf6f8,#fcf5f5,#fef4f3,#ffe3dc,#ff9888,#ffdbd2,#f8f6fa,#f9f6f9,#f9f6f9,#ffcfc3,#ffc1b2,#ffb6a6,#ffe2db,#e0eaff,#e3ecff,#f4f8ff)"></i><i style="height:4px;background:linear-gradient(90deg,#ffded6,#ffe5df,#ffece7,#ffe6e0,#fff2ef,#f8f7fb,#f6f7fd,#f5f8fe,#fbf5f6,#eaf1ff,#fdf5f4,#fff1ee,#ecf2ff,#ebf2ff,#ebf2ff,#f7f7fb,#ff9889,#ff9585,#ffb2a2,#ffb9a9,#fff2f0,#f5f8fe,#c2d6ff,#ebf2ff,#fdf5f5,#fcf5f6,#ffddd5,#eaf1ff,#c2d6ff,#d5e3ff,#f6f7fd,#fcf5f6,#ffc4b5,#ffb0a1,#ff6d67,#ffaa9a,#ffe6e0,#dde8ff,#f0f5ff,#ffe2dc,#ffc6b7,#ff736a,#ff0022,#f10023,#e80023,#f70022,#ffa898,#ffbfaf,#ffe5df,#eaf1ff,#bed2ff,#eef4ff,#ffcec2,#ffb2a2,#fff4f2,#f9f6f9,#bcd1ff,#c0d4ff,#e2ebff,#f7f7fb,#ffc7b9,#ffcbbe,#f6f7fd,#f8f7fb,#bed2ff,#fbf6f7,#eef4ff,#ffcdc0,#ffcdc1,#fbf5f6,#f5f8fe,#e4edff,#f5f7fd,#fdf5f5,#ffe9e4,#ffeeea,#ffa999,#ffd6cc,#fdf5f5,#ecf3ff,#e5edff,#ffdad1,#ffb6a6,#ffc4b5,#ffc9bc,#f2f6ff,#e7efff)"></i><i style="height:4px;background:linear-gradient(90deg,#fff1ee,#ffe5df,#ffd6cb,#fdf5f4,#e4edff,#f8f7fa,#f4f8fe,#f8f6fa,#f9f6f9,#fef4f3,#fdf5f4,#ecf3ff,#e8f0ff,#e3ecff,#f8f7fb,#ffa091,#ff8b7b,#ffa999,#ffb6a6,#ffd7cd,#fcf5f6,#d6e3ff,#cedeff,#ffebe7,#f9f6f9,#fbf6f7,#ffe4de,#cadbff,#c2d5ff,#c5d8ff,#f0f5ff,#ffddd5,#ffa798,#ff9283,#ff6261,#ffcfc3,#f8f7fb,#f8f7fb,#f3f7ff,#ffe3dd,#ffb9a9,#ff6663,#f30023,#f00023,#e90023,#f90022,#ff8b7c,#ffcbbf,#ffd3c8,#fff2f0,#c4d7ff,#c1d5ff,#ffede9,#ff9c8d,#ffe0d8,#fff2ef,#d9e5ff,#e9f1ff,#f5f8fe,#fff0ed,#ffefec,#ffbdad,#fdf5f5,#f5f8fe,#f0f5ff,#dce8ff,#f5f8fe,#f7f7fc,#ffbcac,#ffcdc1,#fbf6f7,#f2f7ff,#e7efff,#f7f7fb,#f9f6f9,#ffe1da,#f5f8fe,#ffb9a9,#ffc9bb,#fff4f2,#e5edff,#ecf2ff,#fff1ee,#ffc5b6,#ffcdc0,#ffb6a6,#ffe7e1)"></i><i style="height:4px;background:linear-gradient(90deg,#ffece8,#ffded7,#faf6f8,#e8efff,#faf6f8,#f8f6fa,#ecf2ff,#fef4f3,#fef4f3,#fef4f3,#f5f8fe,#e2ecff,#e1ebff,#f7f7fb,#ff9f90,#ff8c7d,#ff9f90,#ffb5a5,#ffbcac,#ffe6e1,#dbe6ff,#d4e2ff,#f2f7ff,#f8f7fb,#fbf5f6,#ffc2b2,#e6eeff,#bfd3ff,#cedeff,#ecf3ff,#faf6f8,#ffbeae,#ff8e7f,#ff9080,#ffb7a7,#ffae9e,#d5e3ff,#f5f8fe,#f2f6ff,#ffc1b1,#ffb1a1,#ff6261,#f00023,#ed0023,#e70023,#f10023,#ff6f68,#fdf5f5,#ffbaaa,#f5f8fe,#e4edff,#d5e2ff,#eff5ff,#ffbeae,#ffc1b1,#fbf5f7,#fff4f2,#c0d4ff,#c2d5ff,#e7efff,#ffe7e2,#ffbaaa,#ffbcac,#fbf5f6,#f6f7fc,#d4e2ff,#e9f1ff,#e9f0ff,#faf6f8,#ffc3b3,#ffcdc1,#f9f6f9,#f5f8fe,#e0eaff,#f5f8fe,#f7f7fb,#ffddd5,#f8f7fb,#ffd3c8,#ffac9d,#ffe1da,#f4f8ff,#f7f7fc,#f7f7fc,#ffd6cd,#ffb2a3,#ffbaaa)"></i><i style="height:4px;background:linear-gradient(90deg,#ffedea,#f7f7fb,#f4f8ff,#f7f7fc,#fdf5f5,#e7efff,#ffebe7,#fdf5f4,#fcf5f5,#f5f8fd,#dce7ff,#dee9ff,#f6f7fd,#ffa797,#ff8676,#ffa191,#ffb8a8,#ffa99a,#ffedea,#ebf2ff,#cbdcff,#e3edff,#fcf5f5,#faf6f8,#ffd8cf,#fdf5f4,#dbe7ff,#c4d6ff,#bbd0ff,#f5f8fe,#ffebe6,#ffb4a4,#ffb0a0,#ff6c66,#ffbeae,#ffd9d0,#c8daff,#d7e4ff,#fdf5f4,#ffc3b4,#ffbbab,#ff5e5f,#ee0023,#e90023,#e80023,#e70023,#ff545a,#ffefeb,#ffab9b,#f7f7fb,#f2f7ff,#cedeff,#edf3ff,#ffd7cd,#ffa999,#ffd5cb,#fff4f2,#d6e4ff,#e4edff,#f1f6ff,#fff0ec,#f5f7fd,#ffc6b7,#ffd0c4,#f5f8fe,#f6f7fd,#b2c8ff,#eff4ff,#f4f8fe,#fdf5f4,#ffc1b1,#ffccbf,#faf6f8,#f3f7ff,#e1ebff,#f0f5ff,#f6f7fd,#ffe5df,#f9f6fa,#ffcfc3,#ff9a8a,#ffdcd4,#faf6f7,#f4f8fe,#e0eaff,#ffd7cd,#ffaf9f)"></i><i style="height:4px;background:linear-gradient(90deg,#e4edff,#f6f7fd,#f0f5ff,#fdf5f4,#ebf2ff,#ffede9,#fff4f2,#fbf5f7,#f3f7ff,#dae6ff,#dae6ff,#f6f7fd,#ffa697,#ff8576,#ffa292,#ffc2b3,#ffa697,#fef4f3,#f5f8fe,#c2d5ff,#e3edff,#fff0ed,#f9f6f9,#fcf5f5,#ffc8bb,#e6efff,#c6d8ff,#d1e0ff,#e9f1ff,#fef5f4,#ffc6b7,#ff9081,#ff8d7e,#ff5158,#ffa898,#ffe9e4,#d6e3ff,#e6eeff,#ffd9d0,#ffe0d8,#ffc8ba,#ff5158,#eb0023,#ec0023,#e30023,#df0024,#ff4753,#fff4f2,#ffac9c,#f8f7fb,#f6f7fd,#b4caff,#c9daff,#ffebe7,#ff9e8e,#ffbbab,#ffe3dd,#fbf5f6,#c4d7ff,#bfd3ff,#f3f8ff,#fef4f3,#ffd2c7,#ffb7a7,#fcf5f6,#eef4ff,#f1f6ff,#b7ccff,#fbf6f7,#f5f8fe,#fdf5f4,#ffc1b1,#ffc1b1,#fbf5f7,#f2f7ff,#dae6ff,#f3f7ff,#f7f7fb,#ffe8e3,#faf6f8,#ffd0c4,#ff9787,#ffcfc3,#fff4f2,#dde8ff,#e5edff,#fff1ee)"></i><i style="height:4px;background:linear-gradient(90deg,#f8f6fa,#f4f8ff,#f8f7fb,#f3f7ff,#ffeeeb,#fff1ee,#fbf5f6,#f1f6ff,#d6e3ff,#dbe7ff,#f5f8fd,#ffa595,#ff7b6e,#ff9b8b,#ffc5b6,#ffaf9f,#fff4f2,#fbf5f7,#d6e3ff,#c7d9ff,#f8f7fa,#faf6f8,#fff2f0,#ffdfd7,#eef4ff,#e0eaff,#bfd3ff,#b7cdff,#f8f6fa,#ffe7e1,#ffbeae,#ff9787,#ff9283,#ffa393,#ffc9bc,#fef5f4,#e2ecff,#f8f6fa,#ffdfd7,#ffe3dc,#ffac9c,#ff4b55,#eb0023,#ec0023,#e00023,#e00023,#ff4652,#faf6f8,#ffbbab,#fdf5f4,#eaf1ff,#c2d5ff,#c5d8ff,#faf6f8,#ffb5a5,#ffaa9a,#ffefeb,#fdf5f5,#dae6ff,#dae6ff,#e4edff,#fbf5f6,#edf3ff,#ffbbab,#ffb9a9,#fcf5f5,#f4f8ff,#e4edff,#c9daff,#f9f6f9,#eff5ff,#fbf6f7,#ffc7b9,#ffc6b7,#fbf6f7,#edf3ff,#d9e5ff,#e9f1ff,#f8f7fa,#ffe8e2,#f8f7fa,#ffd3c8,#ff9b8b,#ffc8ba,#ffefeb,#e8f0ff,#f3f7ff)"></i><i style="height:4px;background:linear-gradient(90deg,#faf6f8,#f5f8fe,#faf6f8,#fff3f0,#ffe9e5,#f8f7fa,#f2f6ff,#d4e2ff,#dce7ff,#f6f7fc,#ffaa9b,#ff7d6f,#ff9e8f,#ffcabd,#ffbaaa,#ffe2db,#fef4f3,#dce7ff,#cdddff,#e3ecff,#fcf5f6,#fef4f3,#fff4f2,#ffcfc3,#e5eeff,#cedeff,#cfdeff,#d7e4ff,#f8f7fa,#ffc8ba,#ffb4a4,#ffa595,#ff6e67,#ffb4a4,#ffae9e,#e1ebff,#f5f8fe,#f4f8fe,#ffd0c5,#ffccbf,#ff9181,#ff4b55,#ea0023,#eb0023,#e30023,#ef0023,#ff3c4d,#fff4f1,#ffcdc0,#ffded7,#fdf5f4,#e1ebff,#ccddff,#f3f7ff,#ffc5b7,#ff9b8b,#ffcec1,#ffe8e3,#faf6f8,#bfd3ff,#bacfff,#f3f7ff,#faf6f8,#ffe6e0,#ffc0b0,#ffd0c5,#f5f8fe,#f4f8ff,#cdddff,#e7efff,#f2f6ff,#ecf3ff,#fff4f2,#ffbdad,#ffc7b9,#fef4f3,#f5f8fe,#dbe7ff,#e7efff,#f7f7fc,#fff4f2,#f9f6f9,#ffd8cf,#ffa596,#ffbaaa,#ffe8e2,#f3f7ff)"></i><i style="height:4px;background:linear-gradient(90deg,#eef4ff,#fff1ee,#ffebe7,#ffe6e0,#f5f8fe,#edf3ff,#d1e0ff,#dee9ff,#f8f7fa,#ffab9b,#ff6e67,#ff9182,#ffccc0,#ffbcad,#ffd4c9,#ffece8,#e2ecff,#c2d5ff,#dfe9ff,#fef4f3,#f9f6f9,#ffeeea,#ffbbac,#f1f6ff,#dfeaff,#c0d4ff,#bcd1ff,#f8f7fa,#f8f7fa,#ffc9bb,#ff9586,#ff8d7e,#ff6060,#ffa495,#ffd2c7,#ccdcff,#f3f7ff,#f6f7fd,#ffd3c8,#ffcfc3,#ff8677,#ff4853,#e90023,#eb0023,#e30023,#f40023,#ff3045,#ffe2dc,#ffcbbd,#ffcfc3,#f2f7ff,#f0f5ff,#c1d5ff,#e4edff,#ffdcd4,#ffa494,#ffb4a4,#fdf5f5,#fbf5f6,#c9dbff,#d5e2ff,#dee9ff,#f7f7fc,#fbf5f7,#ffbbab,#ffab9b,#fef4f3,#e9f1ff,#f6f7fd,#a7bfff,#edf3ff,#eef4ff,#f5f8fd,#ffd7cd,#ffb9a9,#ffcec2,#fdf5f4,#f3f7ff,#d7e4ff,#e4edff,#f6f7fd,#ffece8,#fbf5f6,#ffe5df,#ffb7a7,#ff9f90,#ffe1da)"></i><i style="height:4px;background:linear-gradient(90deg,#ffe2dc,#fff3f1,#fff3f1,#f4f8ff,#ebf2ff,#d4e2ff,#d6e3ff,#f7f7fc,#ffa696,#ff6b66,#ff8b7c,#ffb5a5,#ffb8a8,#ffbaaa,#fff3f0,#f2f7ff,#bdd2ff,#ccdcff,#fbf6f7,#fbf6f7,#ffe6e0,#ffd0c5,#ffdfd7,#dae6ff,#d4e2ff,#d1e0ff,#d1dfff,#eaf1ff,#ffede9,#ffc1b1,#ff9e8f,#ff8b7c,#ff8071,#ffbbab,#fff0ed,#c6d8ff,#e0eaff,#e4edff,#ffe7e2,#ffd8ce,#ff7b6e,#ff4250,#eb0023,#eb0023,#e50023,#f10023,#ff1d37,#ffc1b1,#ffd2c7,#ffaf9f,#f5f8fe,#f3f7ff,#b1c8ff,#bcd1ff,#fff4f2,#ffb6a6,#ff9e8f,#ffcbbe,#ffe6e1,#eff4ff,#bbd0ff,#b8cdff,#f5f8fe,#fdf5f4,#fcf5f6,#ffb8a9,#ffbdad,#fef5f4,#edf3ff,#e3ecff,#b1c7ff,#f6f7fd,#f3f7ff,#faf6f8,#ffc0b0,#ffb6a6,#ffd9cf,#fcf5f5,#f1f6ff,#d6e3ff,#e4edff,#f8f7fb,#ffe7e1,#fff4f2,#f4f8ff,#ffc0b0,#ff9686)"></i><i style="height:4px;background:linear-gradient(90deg,#fff3f1,#fef4f3,#e8f0ff,#e6eeff,#d4e2ff,#dae6ff,#f5f8fe,#ffb4a4,#ff6964,#ff8879,#ffab9b,#ffb8a8,#ffa99a,#fff4f2,#f7f7fc,#dae6ff,#c7d9ff,#e4edff,#fcf5f5,#fdf5f4,#fff4f2,#ffc8ba,#eaf1ff,#d6e3ff,#bed2ff,#bfd3ff,#f1f6ff,#f8f7fa,#ffc0b0,#ffac9c,#ff9c8c,#ff6d66,#ffaf9f,#ffd3c8,#fcf5f6,#cdddff,#c9daff,#ecf3ff,#ffd7ce,#ffd7cd,#ff8273,#ff4150,#ed0023,#e60023,#e10023,#e70023,#ff0727,#ffac9c,#fdf5f4,#ffb0a0,#f6f7fc,#e7efff,#bacfff,#c9daff,#e7efff,#ffd2c6,#ff8b7c,#ffc7b9,#ffe4dd,#fef4f4,#c5d7ff,#d5e2ff,#dbe7ff,#f1f6ff,#ffe3dc,#ffc1b1,#ffad9d,#ffd6cc,#f5f8fe,#f2f7ff,#dbe7ff,#c5d8ff,#faf6f8,#f4f8ff,#fbf5f6,#ffb8a8,#ffb6a7,#ffe4dd,#faf6f8,#f0f5ff,#d5e2ff,#dde8ff,#f9f6f9,#fff3f1,#ffe7e2,#f6f7fd,#ffcdc1)"></i><i style="height:4px;background:linear-gradient(90deg,#fef5f4,#e8f0ff,#e3ecff,#d0dfff,#d8e4ff,#f5f7fd,#ffb1a1,#ff7068,#ff8778,#ff9f8f,#ffb8a8,#ffa393,#fef5f4,#fdf5f5,#d5e2ff,#cfdeff,#dfe9ff,#fef4f4,#fdf5f5,#fff4f2,#ffd5cb,#fcf5f5,#ccddff,#ccddff,#c7d9ff,#cadbff,#ebf2ff,#ffede9,#ffb2a2,#ff9383,#ff7e70,#ff6261,#ffb3a3,#ffb5a5,#f2f7ff,#dae6ff,#eef4ff,#fff2ef,#ffd4c9,#ffcdc1,#ff7f70,#ff4c55,#f50022,#e90023,#e20023,#e40023,#fe0022,#ff9081,#fdf5f4,#ffb1a1,#fdf5f4,#f8f6fa,#dae6ff,#ccdcff,#e9f0ff,#ffe1da,#ffa191,#ffb6a6,#ffedea,#ffece8,#e3ecff,#bed2ff,#b7ccff,#f5f8fe,#ffefec,#f6f7fd,#ffaf9f,#ffb4a4,#fcf5f5,#e5eeff,#f0f6ff,#bbcfff,#dae6ff,#f6f7fc,#f2f7ff,#fcf5f5,#ffb5a5,#ffbfaf,#ffe6e0,#f8f7fa,#eff4ff,#d4e2ff,#e6eeff,#fbf6f7,#ffece8,#ffe7e1,#f7f7fc)"></i><i style="height:4px;background:linear-gradient(90deg,#e5eeff,#dce7ff,#ccddff,#d2e0ff,#f0f5ff,#ffb3a3,#ff6e67,#ff8475,#ff9a8a,#ffbbab,#ffb5a5,#ffebe7,#fff0ec,#dbe6ff,#b6ccff,#dee9ff,#fff3f0,#fdf5f4,#ffddd5,#ffefec,#ffd3c8,#e7efff,#cadbff,#b6ccff,#b7ccff,#e5eeff,#fcf5f6,#ffcfc3,#ffb3a3,#ffa697,#ff8778,#ff5e5f,#ff9f90,#ffd0c4,#d2e0ff,#eef4ff,#f4f8ff,#ffdad1,#ffd1c5,#ffc1b2,#ff7d6f,#ff4e56,#f40023,#e90023,#e20023,#e30023,#fc0022,#ff766b,#fef4f3,#ffb3a3,#ffeeeb,#f9f6f9,#e6efff,#bfd3ff,#c9dbff,#ffebe7,#ffb5a5,#ff9c8d,#ffc2b3,#ffd9d0,#fdf5f4,#b4caff,#ccdcff,#ccddff,#e4edff,#ffeeea,#ffd6cc,#ffb4a5,#ffc0b0,#fbf6f7,#e8f0ff,#e5eeff,#9db7ff,#e2ecff,#f2f7ff,#eff5ff,#fdf5f4,#ffb3a3,#ffbdad,#ffebe7,#f7f7fc,#ecf3ff,#d7e4ff,#dfeaff,#faf6f8,#fef4f3,#ffdad2)"></i><i style="height:4px;background:linear-gradient(90deg,#e1ebff,#c9daff,#cedeff,#f5f8fe,#ffb6a6,#ff6965,#ff7f70,#ff9a8b,#ffc1b1,#ffbcac,#ffd9d0,#fff2f0,#e4edff,#bacfff,#bcd1ff,#eef4ff,#fff4f2,#fdf5f4,#fff1ee,#ffcbbe,#f4f8ff,#cbdbff,#d5e3ff,#c9dbff,#c1d5ff,#ecf2ff,#fcf5f6,#ffccbf,#ff9485,#ffa292,#ff786c,#ffa798,#ffc4b4,#ffe9e5,#c6d8ff,#eef4ff,#f0f5ff,#ffeae5,#ffd1c6,#ffbaaa,#ff7d6f,#ff4c56,#f40023,#e80023,#df0023,#e10023,#f70022,#ff6261,#fbf5f6,#ffc0b1,#ffd5ca,#eef4ff,#f4f8ff,#b1c7ff,#c1d5ff,#eaf1ff,#ffc7b9,#ff8374,#ffac9d,#fef4f3,#fdf5f4,#d5e2ff,#bdd2ff,#b3c9ff,#f5f8fe,#ffeeeb,#f5f8fe,#ffb4a4,#ffa99a,#ffd9cf,#f6f7fd,#eef4ff,#dae6ff,#9eb7ff,#eaf1ff,#ecf2ff,#f4f8ff,#ffede9,#ffb4a4,#ffb8a8,#ffedea,#f3f8ff,#e7efff,#d0dfff,#dee9ff,#faf6f7,#fbf5f6)"></i><i style="height:4px;background:linear-gradient(90deg,#ccdcff,#d1e0ff,#f4f8ff,#ffb8a8,#ff6864,#ff6d67,#ff9a8b,#ffc5b6,#ffbcac,#ffcec1,#fdf5f4,#eef4ff,#ccdcff,#cdddff,#e2ecff,#fff4f2,#fdf5f4,#ffe4dd,#ffc8ba,#ffdfd7,#e6eeff,#c4d7ff,#bdd1ff,#c2d6ff,#e1ebff,#f8f7fa,#ffeae5,#ffbfaf,#ff8a7a,#ff8677,#ff5d5e,#ffad9d,#ffbeae,#fff1ee,#cfdfff,#dde8ff,#f4f8ff,#ffe2db,#fff0ed,#ffb8a8,#ff7b6e,#ff4e57,#fa0022,#ea0023,#df0024,#e40023,#f70022,#ff5158,#faf6f8,#ffd6cc,#ffcbbe,#f7f7fb,#f5f7fd,#b8cdff,#c9dbff,#f1f6ff,#ffd9d0,#ffa494,#ff9f90,#ffc2b3,#ffdbd2,#fef4f3,#b3c9ff,#ccdcff,#ccdcff,#dee9ff,#fdf5f4,#ffebe6,#ffb2a2,#ffa99a,#fff4f2,#ebf2ff,#edf3ff,#cbdcff,#bdd1ff,#f7f7fc,#ecf2ff,#f9f6f9,#ffe2db,#ffb3a3,#ffb7a7,#fff2ef,#f5f8fe,#e7efff,#cfdeff,#dae6ff,#faf6f8)"></i><i style="height:4px;background:linear-gradient(90deg,#d3e1ff,#f5f8fe,#ffbeae,#ff6663,#ff6e67,#ff9686,#ffc7b9,#ffb7a8,#ffb7a7,#fef5f4,#f8f7fa,#cadbff,#c5d8ff,#e2ecff,#fff1ee,#fbf5f7,#ffefec,#fff4f2,#ffb9a9,#e6eeff,#cfdeff,#d4e2ff,#c8daff,#c2d6ff,#f7f7fb,#f8f7fb,#ffc8ba,#ffb8a8,#ffa595,#ff8677,#ff4c56,#ff9f90,#ffb7a7,#f4f8ff,#c2d5ff,#cdddff,#ebf2ff,#ffd6cc,#ffe6e1,#ffc1b1,#ff8374,#ff4954,#f50022,#e90023,#db0024,#e00023,#f50022,#ff4652,#fef4f3,#ffd2c6,#ffb1a1,#f7f7fb,#e4edff,#d0dfff,#bfd3ff,#d5e3ff,#fff1ee,#ffac9d,#ff9788,#ffc0b0,#ffe0d8,#faf6f8,#cfdeff,#c2d5ff,#afc5ff,#f1f6ff,#fcf5f6,#fef5f4,#ffc7b9,#ffac9d,#ffbbab,#fef4f3,#eaf1ff,#f0f5ff,#b6cbff,#d0dfff,#f8f7fa,#f5f8fe,#f9f6f9,#ffd2c6,#ffb8a8,#ffb5a5,#ffeeea,#eff4ff,#eaf1ff,#ccdcff,#e1ebff)"></i><i style="height:4px;background:linear-gradient(90deg,#f5f8fd,#ffbeae,#ff6261,#ff6562,#ff9384,#ffc9bc,#ffb8a9,#ffa797,#fdf5f5,#fef4f4,#d6e3ff,#aac2ff,#c7d9ff,#ecf2ff,#fbf5f6,#fef5f4,#ffeae5,#ffd6cc,#ffe2db,#e1ebff,#b7ccff,#b4caff,#bfd3ff,#dce8ff,#f0f5ff,#fff2f0,#ffbcac,#ff9182,#ff9383,#ff7068,#ff8f80,#ffa191,#ffd5cb,#d6e3ff,#d8e4ff,#d7e4ff,#eaf1ff,#ffe1da,#ffccbf,#ffc8bb,#ff8273,#ff3f4f,#f40023,#e80023,#db0024,#df0023,#f10023,#ff3f4f,#ffe7e2,#ffdad1,#ffb8a8,#fef4f3,#fef4f3,#e0eaff,#aec5ff,#adc4ff,#f4f8ff,#ffc1b2,#ff7b6e,#ffa999,#ffe4de,#ffece7,#f6f7fc,#a8c0ff,#c4d7ff,#c6d8ff,#dce8ff,#fcf5f5,#f9f6fa,#ffab9b,#ff9f90,#ffd6cb,#f8f7fb,#eef4ff,#e1ebff,#9ab4ff,#dce7ff,#f5f8fd,#f3f7ff,#fbf5f7,#ffbeae,#ffaf9f,#ffa99a,#fef5f4,#f0f5ff,#e8f0ff,#d1e0ff)"></i><i style="height:4px;background:linear-gradient(90deg,#ffc7b9,#ff6a65,#ff6563,#ff8677,#ffbcac,#ffb8a8,#ffab9b,#fff2f0,#fff2f0,#e6eeff,#b9ceff,#bfd3ff,#dfeaff,#fef4f3,#fcf5f5,#ffd7cd,#ffd0c4,#ffc2b3,#e6eeff,#d5e3ff,#ceddff,#c6d8ff,#bcd1ff,#f6f7fd,#faf6f8,#ffd0c4,#ffbaaa,#ff8e7f,#ff8576,#ff545a,#ffa393,#ffcec1,#ffede9,#cbdcff,#edf3ff,#f4f8ff,#fbf6f7,#ffe6e1,#ffcec2,#ffc5b7,#ff6e67,#ff2e43,#f60022,#eb0023,#e00023,#dc0024,#ec0023,#ff3d4e,#ffdbd2,#fef5f4,#ffb5a5,#fff4f2,#f6f7fc,#ebf2ff,#a8c0ff,#c0d4ff,#ebf2ff,#ffd9d0,#ffa091,#ff9687,#ffbeae,#ffdcd4,#faf6f8,#c8d9ff,#c4d7ff,#b5cbff,#f2f7ff,#faf6f8,#ffe0d8,#ffd0c5,#ffae9e,#ffae9f,#fff2ef,#f2f7ff,#f2f7ff,#d5e3ff,#a4bcff,#e3ecff,#ebf2ff,#eef4ff,#fef4f3,#ffaf9f,#ffa292,#ffac9c,#fdf5f4,#eff5ff,#e3ecff)"></i><i style="height:4px;background:linear-gradient(90deg,#ff6f67,#ff6b66,#ff8879,#ffab9b,#ffbaaa,#ffb0a0,#ffddd5,#ffece8,#eef4ff,#ccdcff,#c7d9ff,#dce7ff,#ffe9e4,#fef4f4,#ffe7e2,#ffeeea,#ffbaaa,#fdf5f5,#d6e3ff,#b4caff,#b7ccff,#bcd1ff,#dae6ff,#ebf2ff,#ffebe7,#ffcbbe,#ffaf9f,#ffb2a2,#ff8677,#ff4c55,#ffb0a0,#ffb7a7,#ffece8,#bcd1ff,#f2f7ff,#f1f6ff,#ffded6,#ffd2c6,#ffd5ca,#ffb2a3,#ff6b66,#ff213a,#fa0022,#ec0023,#e10023,#d80024,#dc0024,#ff374a,#ffc0b1,#fbf5f6,#ffb3a3,#ffdfd7,#eff4ff,#f3f8ff,#b0c6ff,#c6d8ff,#dde8ff,#fff3f1,#ffab9b,#ff8e7e,#ffb6a6,#fff3f1,#fef4f3,#f3f7ff,#aac2ff,#c6d8ff,#bcd0ff,#e7efff,#fef4f3,#f4f8fe,#ffb4a4,#ffa293,#ffb4a4,#fff1ee,#e9f1ff,#ecf2ff,#c4d7ff,#b5cbff,#ecf2ff,#e8f0ff,#f0f5ff,#fff2ef,#ffa99a,#ffa090,#ffb1a1,#fdf5f4,#eaf1ff)"></i><i style="height:4px;background:linear-gradient(90deg,#ff6261,#ff7e6f,#ff9f8f,#ffbeae,#ffbaaa,#ffd7cd,#fff3f1,#f7f7fc,#c7d9ff,#c1d4ff,#d6e3ff,#eff4ff,#fdf5f5,#fef4f3,#ffe0d8,#ffc0b0,#ffc8ba,#e7efff,#dae6ff,#d1e0ff,#c8daff,#b7cdff,#f3f7ff,#fbf5f7,#ffdfd7,#ffbfaf,#ff9081,#ff8e7f,#ff7269,#ff7b6e,#ff9e8e,#ffb0a1,#f6f7fd,#c9daff,#e2ebff,#eaf1ff,#ffe1db,#ffcec2,#ffdbd2,#ff9b8c,#ff6763,#ff1f38,#fa0022,#eb0023,#e60023,#d60024,#d40024,#ff2940,#ffad9d,#fcf5f6,#ffc4b5,#ffd5cb,#f4f8ff,#e6eeff,#c9dbff,#c0d4ff,#bbd0ff,#f7f7fc,#ffc7b8,#ff776c,#ffa99a,#ffc4b4,#ffdad1,#fdf5f4,#c7d9ff,#c8daff,#adc4ff,#f0f5ff,#f4f8ff,#ffe6e0,#ffe4de,#ffae9e,#ffa091,#ffdbd2,#f7f7fb,#ebf2ff,#e7efff,#a7bfff,#c9daff,#f8f7fa,#eaf1ff,#f3f8ff,#fff2ef,#ffafa0,#ffa696,#ffbdad,#fcf5f6)"></i><i style="height:4px;background:linear-gradient(90deg,#ff7c6e,#ff9283,#ffbcac,#ffbbab,#ffcbbe,#faf6f8,#fbf6f7,#d3e1ff,#a7bfff,#bcd1ff,#e4edff,#fdf5f5,#fef4f3,#ffd5ca,#ffece7,#ffbcac,#f6f7fd,#d1e0ff,#bacfff,#bcd0ff,#bfd3ff,#d4e2ff,#edf3ff,#fbf5f6,#ffc3b4,#ffb4a4,#ff8778,#ff7f70,#ff555a,#ffa798,#ffae9f,#ffd1c6,#dfe9ff,#c1d4ff,#cbdcff,#eff5ff,#ffe7e1,#ffd0c4,#ffe0d9,#ff897a,#ff6361,#ff1934,#f30023,#e40023,#e60023,#d70024,#d50024,#ff223b,#ff9788,#f9f6f9,#ffd1c6,#ffcec1,#f5f8fe,#f5f8fe,#dce8ff,#b0c7ff,#b7ccff,#e6eeff,#ffdad1,#ff9f8f,#ff8b7c,#ffc3b3,#ffebe6,#fcf5f5,#dbe7ff,#a7bfff,#c0d4ff,#bbd0ff,#e9f0ff,#fff3f1,#f6f7fd,#ffbeae,#ffab9b,#ffa99a,#fef4f3,#ecf2ff,#ecf2ff,#d4e2ff,#9bb5ff,#d5e3ff,#f8f7fa,#f2f7ff,#f8f6fa,#ffeeeb,#ffaf9f,#ffad9d,#ffbeae)"></i></div>
<svg width="1259" height="1328" viewBox="0 0 1259 1328">
<rect x="129.5" y="7.5" width="427.0" height="385.0" fill="none" stroke="#1a1a1a" stroke-width="2"/>
<line x1="118.5" y1="28.8" x2="129.5" y2="28.8" stroke="#1a1a1a" stroke-width="2"/>
<text x="103.0" y="45.8" font-size="48" text-anchor="end" font-family="'Liberation Serif', serif">8</text>
<line x1="118.5" y1="114.5" x2="129.5" y2="114.5" stroke="#1a1a1a" stroke-width="2"/>
<text x="103.0" y="131.5" font-size="48" text-anchor="end" font-family="'Liberation Serif', serif">4</text>
<line x1="118.5" y1="200.2" x2="129.5" y2="200.2" stroke="#1a1a1a" stroke-width="2"/>
<text x="103.0" y="217.2" font-size="48" text-anchor="end" font-family="'Liberation Serif', serif">0</text>
<line x1="118.5" y1="285.9" x2="129.5" y2="285.9" stroke="#1a1a1a" stroke-width="2"/>
<text x="103.0" y="302.9" font-size="48" text-anchor="end" font-family="'Liberation Serif', serif">-4</text>
<line x1="118.5" y1="371.6" x2="129.5" y2="371.6" stroke="#1a1a1a" stroke-width="2"/>
<text x="103.0" y="388.6" font-size="48" text-anchor="end" font-family="'Liberation Serif', serif">-8</text>
<rect x="129.5" y="406.5" width="427.0" height="380.5" fill="none" stroke="#1a1a1a" stroke-width="2"/>
<line x1="118.5" y1="425.6" x2="129.5" y2="425.6" stroke="#1a1a1a" stroke-width="2"/>
<text x="103.0" y="442.6" font-size="48" text-anchor="end" font-family="'Liberation Serif', serif">8</text>
<line x1="118.5" y1="511.3" x2="129.5" y2="511.3" stroke="#1a1a1a" stroke-width="2"/>
<text x="103.0" y="528.3" font-size="48" text-anchor="end" font-family="'Liberation Serif', serif">4</text>
<line x1="118.5" y1="597.0" x2="129.5" y2="597.0" stroke="#1a1a1a" stroke-width="2"/>
<text x="103.0" y="614.0" font-size="48" text-anchor="end" font-family="'Liberation Serif', serif">0</text>
<line x1="118.5" y1="682.7" x2="129.5" y2="682.7" stroke="#1a1a1a" stroke-width="2"/>
<text x="103.0" y="699.7" font-size="48" text-anchor="end" font-family="'Liberation Serif', serif">-4</text>
<line x1="118.5" y1="768.4" x2="129.5" y2="768.4" stroke="#1a1a1a" stroke-width="2"/>
<text x="103.0" y="785.4" font-size="48" text-anchor="end" font-family="'Liberation Serif', serif">-8</text>
<rect x="129.5" y="800.5" width="427.0" height="380.0" fill="none" stroke="#1a1a1a" stroke-width="2"/>
<line x1="118.5" y1="819.2" x2="129.5" y2="819.2" stroke="#1a1a1a" stroke-width="2"/>
<text x="103.0" y="836.2" font-size="48" text-anchor="end" font-family="'Liberation Serif', serif">8</text>
<line x1="118.5" y1="904.9" x2="129.5" y2="904.9" stroke="#1a1a1a" stroke-width="2"/>
<text x="103.0" y="921.9" font-size="48" text-anchor="end" font-family="'Liberation Serif', serif">4</text>
<line x1="118.5" y1="990.6" x2="129.5" y2="990.6" stroke="#1a1a1a" stroke-width="2"/>
<text x="103.0" y="1007.6" font-size="48" text-anchor="end" font-family="'Liberation Serif', serif">0</text>
<line x1="118.5" y1="1076.3" x2="129.5" y2="1076.3" stroke="#1a1a1a" stroke-width="2"/>
<text x="103.0" y="1093.3" font-size="48" text-anchor="end" font-family="'Liberation Serif', serif">-4</text>
<line x1="118.5" y1="1162.0" x2="129.5" y2="1162.0" stroke="#1a1a1a" stroke-width="2"/>
<text x="103.0" y="1179.0" font-size="48" text-anchor="end" font-family="'Liberation Serif', serif">-8</text>
<line x1="129.5" y1="392.5" x2="129.5" y2="406.5" stroke="#1a1a1a" stroke-width="2"/>
<line x1="236.2" y1="392.5" x2="236.2" y2="406.5" stroke="#1a1a1a" stroke-width="2"/>
<line x1="343.0" y1="392.5" x2="343.0" y2="406.5" stroke="#1a1a1a" stroke-width="2"/>
<line x1="449.8" y1="392.5" x2="449.8" y2="406.5" stroke="#1a1a1a" stroke-width="2"/>
<line x1="556.5" y1="392.5" x2="556.5" y2="406.5" stroke="#1a1a1a" stroke-width="2"/>
<line x1="129.5" y1="787.0" x2="129.5" y2="800.5" stroke="#1a1a1a" stroke-width="2"/>
<line x1="236.2" y1="787.0" x2="236.2" y2="800.5" stroke="#1a1a1a" stroke-width="2"/>
<line x1="343.0" y1="787.0" x2="343.0" y2="800.5" stroke="#1a1a1a" stroke-width="2"/>
<line x1="449.8" y1="787.0" x2="449.8" y2="800.5" stroke="#1a1a1a" stroke-width="2"/>
<line x1="556.5" y1="787.0" x2="556.5" y2="800.5" stroke="#1a1a1a" stroke-width="2"/>
<line x1="129.5" y1="1180.5" x2="129.5" y2="1195" stroke="#1a1a1a" stroke-width="2"/>
<text x="140.2" y="1242.0" font-size="48" text-anchor="middle" font-family="'Liberation Serif', serif">-40</text>
<line x1="236.2" y1="1180.5" x2="236.2" y2="1195" stroke="#1a1a1a" stroke-width="2"/>
<text x="246.9" y="1242.0" font-size="48" text-anchor="middle" font-family="'Liberation Serif', serif">-20</text>
<line x1="343.0" y1="1180.5" x2="343.0" y2="1195" stroke="#1a1a1a" stroke-width="2"/>
<text x="342.0" y="1242.0" font-size="48" text-anchor="middle" font-family="'Liberation Serif', serif">0</text>
<line x1="449.8" y1="1180.5" x2="449.8" y2="1195" stroke="#1a1a1a" stroke-width="2"/>
<text x="455.1" y="1242.0" font-size="48" text-anchor="middle" font-family="'Liberation Serif', serif">20</text>
<line x1="556.5" y1="1180.5" x2="556.5" y2="1195" stroke="#1a1a1a" stroke-width="2"/>
<text x="561.8" y="1242.0" font-size="48" text-anchor="middle" font-family="'Liberation Serif', serif">40</text>
<text x="303" y="1299" font-size="48" font-family="'Liberation Serif', serif"><tspan font-style="italic">V</tspan><tspan font-style="italic" font-size="32" dy="11">g</tspan><tspan dy="-11">(V)</tspan></text>
<text transform="translate(39,189.0) rotate(-90)" font-size="48" text-anchor="middle" font-family="'Liberation Serif', serif"><tspan font-style="italic">B</tspan>&#160;(T)</text>
<text transform="translate(39,585.0) rotate(-90)" font-size="48" text-anchor="middle" font-family="'Liberation Serif', serif"><tspan font-style="italic">B</tspan>&#160;(T)</text>
<text transform="translate(39,989.5) rotate(-90)" font-size="48" text-anchor="middle" font-family="'Liberation Serif', serif"><tspan font-style="italic">B</tspan>(T)</text>
<polygon points="336.6,8.5 339.2,8.5 342.2,150 340.2,150" fill="#ff5a62" opacity="0.8"/>
<line x1="187.3" y1="674" x2="187.3" y2="636" stroke="#000" stroke-width="2.2"/><polygon points="179.1,639.5 187.3,621.8 195.7,639.5" fill="#000"/><text x="198" y="664.3" font-size="33" font-style="italic" font-family="'Liberation Serif', serif">B</text><polygon points="277.2,641.5 298.2,641.5 292.5,649.1 271.5,649.1" fill="#a8a80a"/><polygon points="310.6,641.5 330.6,641.5 325.0,649.1 304.9,649.1" fill="#a8a80a"/><polygon points="245.8,649.1 367.8,649.1 303.9,714.8 182.9,714.8" fill="#98b2b2"/><polygon points="222.9,712.0 236.3,712.0 223.9,724.4 208.6,724.4" fill="#a8a80a"/><polygon points="208.6,724.4 223.9,724.4 223.9,728.4 208.6,728.4" fill="#767600"/><polygon points="254.4,712.0 268.7,712.0 256.3,724.4 241.0,724.4" fill="#a8a80a"/><polygon points="241.0,724.4 256.3,724.4 256.3,728.4 241.0,728.4" fill="#767600"/><polygon points="245.8,648.1 266.8,648.1 203.9,709.5 182.9,709.5" fill="#a8a80a"/><polygon points="182.9,709.5 203.9,709.5 203.9,715.0 182.9,715.0" fill="#767600"/><polygon points="346.8,648.1 367.8,648.1 304.9,709.5 283.9,709.5" fill="#a8a80a"/><polygon points="283.9,709.5 304.9,709.5 367.8,648.1 367.8,653.5 304.9,715.0 283.9,715.0" fill="#767600"/><text x="253" y="687" font-size="34" font-style="italic" font-family="'Liberation Serif', serif">&#916;T</text><line x1="285" y1="697.7" x2="248" y2="697.7" stroke="#000" stroke-width="2.6"/><polygon points="233.4,697.7 250.6,689.8 250.6,705.6" fill="#000"/><polyline points="194.3,712.9 149.2,755.8 254.4,755.8 301.1,713.9" fill="none" stroke="#000" stroke-width="2"/><circle cx="208.6" cy="755.8" r="22.5" fill="#fff" stroke="#000" stroke-width="2"/><text x="190" y="762" font-size="32" font-style="italic" font-family="'Liberation Serif', serif">V<tspan font-size="22" dy="9">xx</tspan></text>
<line x1="159.6" y1="1083.3" x2="159.6" y2="1045" stroke="#000" stroke-width="2.2"/><polygon points="151.4,1048.2 159.6,1030.7 167.9,1048.2" fill="#000"/><text x="169" y="1072" font-size="31" font-style="italic" font-family="'Liberation Serif', serif">B</text><polyline points="337.2,1092.6 376.5,1049.2 297,1049.2 290.8,1056.5" fill="none" stroke="#000" stroke-width="2"/><polygon points="247.4,1057.9 265.0,1057.9 260.8,1065.8 243.3,1065.8" fill="#a8a80a"/><polygon points="280.4,1057.9 298.0,1057.9 293.9,1065.8 276.3,1065.8" fill="#a8a80a"/><polygon points="216.4,1065.8 334.1,1065.8 272.2,1129.8 150.3,1129.8" fill="#98b2b2"/><polygon points="185.4,1127.7 203.0,1127.7 194.7,1139.0 177.2,1139.0" fill="#a8a80a"/><polygon points="177.2,1139.0 194.7,1139.0 194.7,1143.5 177.2,1143.5" fill="#767600"/><polygon points="218.5,1127.7 235.0,1127.7 225.7,1139.0 209.2,1139.0" fill="#a8a80a"/><polygon points="209.2,1139.0 225.7,1139.0 225.7,1143.5 209.2,1143.5" fill="#767600"/><polygon points="216.4,1065.8 234.0,1065.8 168.9,1127.7 150.3,1127.7" fill="#a8a80a"/><polygon points="150.3,1127.7 168.9,1127.7 168.9,1132.0 150.3,1132.0" fill="#767600"/><polygon points="315.5,1065.8 334.1,1065.8 272.2,1127.7 251.5,1127.7" fill="#a8a80a"/><polygon points="251.5,1127.7 272.2,1127.7 334.1,1065.8 334.1,1070.0 272.2,1132.5 251.5,1132.5" fill="#767600"/><text x="221" y="1104" font-size="34" font-style="italic" font-family="'Liberation Serif', serif">&#916;T</text><line x1="252.6" y1="1114.3" x2="214" y2="1114.3" stroke="#000" stroke-width="2.6"/><polygon points="199.9,1114.3 217.4,1106.0 217.4,1122.6" fill="#000"/><polyline points="215.4,1142.2 203,1155.6 282.5,1155.6 305.2,1130.8" fill="none" stroke="#000" stroke-width="2"/><circle cx="322.8" cy="1113.3" r="21.7" fill="#fff" stroke="#000" stroke-width="2"/><text x="303" y="1119" font-size="31" font-style="italic" font-family="'Liberation Serif', serif">V<tspan font-size="22" dy="10">yx</tspan></text>
<text x="141.7" y="63.5" font-size="54" text-anchor="start" font-family="'Liberation Sans', sans-serif">(a)</text>
<text x="139.7" y="458.5" font-size="54" text-anchor="start" font-family="'Liberation Sans', sans-serif">(b)</text>
<text x="140.5" y="852.0" font-size="54" text-anchor="start" font-family="'Liberation Sans', sans-serif">(c)</text>
<g><path fill-rule="evenodd" fill="#000" d="M497.5,38.5 C496,30 488,27.5 481,28.5 C470,30 461,39 461.5,48 C462,55 468,57.5 475,57 C487,56 498,47 497.5,38.5 Z M488.5,37.5 C489.5,44 484,51.5 477,52.5 C472,53 469.5,50 470,45.5 C470.8,39 476,33 482,32.8 C486,32.6 488.3,34.5 488.5,37.5 Z"/><polygon fill="#000" points="482,21.4 508.2,21.4 505.8,29 492,29.5 480,30.5"/></g>
<text x="499" y="72.5" font-size="47" font-family="'Liberation Serif', serif" font-weight="bold">xy</text>
<text transform="translate(452,478.5) scale(1.17,1)" x="0" y="0" font-size="73" font-family="'Liberation Serif', serif" font-weight="bold" font-style="italic">S</text>
<text x="493" y="496" font-size="48" font-family="'Liberation Serif', serif" font-weight="bold">xx</text>
<text transform="translate(458,865) scale(1.17,1)" x="0" y="0" font-size="73" font-family="'Liberation Serif', serif" font-weight="bold" font-style="italic">S</text>
<text x="499" y="882" font-size="48" font-family="'Liberation Serif', serif" font-weight="bold">yx</text>
<rect x="573" y="84.5" width="26" height="26.2" fill="#6a001c"/>
<rect x="573" y="110.4" width="26" height="26.9" fill="#a00024"/>
<rect x="573" y="137.0" width="26" height="27.3" fill="#e00024"/>
<rect x="573" y="164.0" width="26" height="26.8" fill="#ff1f3c"/>
<rect x="573" y="190.5" width="26" height="27.4" fill="#ff7f70"/>
<rect x="573" y="217.6" width="26" height="27.1" fill="#ffcfc3"/>
<rect x="573" y="244.4" width="26" height="27.4" fill="#ddeeff"/>
<rect x="573" y="271.5" width="26" height="27.4" fill="#88a8ff"/>
<rect x="573" y="298.6" width="26" height="26.7" fill="#3340ff"/>
<rect x="573" y="325.0" width="26" height="27.3" fill="#1400d4"/>
<rect x="573" y="352.0" width="26" height="27.5" fill="#1c006e"/>
<rect x="573" y="379.2" width="26" height="6.4" fill="#120030"/>
<line x1="599" y1="84.5" x2="609" y2="84.5" stroke="#1a1a1a" stroke-width="2"/>
<line x1="599" y1="150.0" x2="609" y2="150.0" stroke="#1a1a1a" stroke-width="2"/>
<line x1="599" y1="228.0" x2="609" y2="228.0" stroke="#1a1a1a" stroke-width="2"/>
<line x1="599" y1="306.7" x2="609" y2="306.7" stroke="#1a1a1a" stroke-width="2"/>
<line x1="599" y1="385.0" x2="609" y2="385.0" stroke="#1a1a1a" stroke-width="2"/>
<text transform="translate(618.5,82.0) rotate(90)" font-size="42" text-anchor="middle" font-family="'Liberation Serif', serif">40</text>
<text transform="translate(618.5,147.5) rotate(90)" font-size="42" text-anchor="middle" font-family="'Liberation Serif', serif">20</text>
<text transform="translate(618.5,225.7) rotate(90)" font-size="42" text-anchor="middle" font-family="'Liberation Serif', serif">0</text>
<text transform="translate(618.5,300.7) rotate(90)" font-size="42" text-anchor="middle" font-family="'Liberation Serif', serif">-20</text>
<text transform="translate(618.5,382.7) rotate(90)" font-size="42" text-anchor="middle" font-family="'Liberation Serif', serif">-40</text>
<text x="561" y="49" font-size="47" font-family="'Liberation Serif', serif">(<tspan font-style="italic">e</tspan><tspan font-size="33" dy="-18">2</tspan><tspan dy="18">/</tspan><tspan font-style="italic">h</tspan>)</text>
<rect x="577" y="645.9" width="26" height="26.4" fill="#6e0018"/>
<rect x="577" y="672.0" width="26" height="27.2" fill="#a00020"/>
<rect x="577" y="698.9" width="26" height="26.9" fill="#d40024"/>
<rect x="577" y="725.5" width="26" height="26.8" fill="#ff0022"/>
<rect x="577" y="752.0" width="26" height="27.1" fill="#ff3a4c"/>
<rect x="577" y="778.8" width="26" height="27.0" fill="#ff7f70"/>
<rect x="577" y="805.5" width="26" height="27.3" fill="#ffc0b0"/>
<rect x="577" y="832.5" width="26" height="27.1" fill="#fff0ec"/>
<rect x="577" y="859.3" width="26" height="26.8" fill="#c0d4ff"/>
<rect x="577" y="885.8" width="26" height="27.7" fill="#7b9aff"/>
<rect x="577" y="913.2" width="26" height="26.7" fill="#3d4aff"/>
<rect x="577" y="939.6" width="26" height="26.7" fill="#0000f8"/>
<rect x="577" y="966.0" width="26" height="27.3" fill="#1400a8"/>
<rect x="577" y="993.0" width="26" height="27.3" fill="#1a0060"/>
<rect x="577" y="1020.0" width="26" height="9.3" fill="#100030"/>
<line x1="603" y1="645.9" x2="613" y2="645.9" stroke="#1a1a1a" stroke-width="2"/>
<line x1="603" y1="690.6" x2="613" y2="690.6" stroke="#1a1a1a" stroke-width="2"/>
<line x1="603" y1="758.9" x2="613" y2="758.9" stroke="#1a1a1a" stroke-width="2"/>
<line x1="603" y1="826.4" x2="613" y2="826.4" stroke="#1a1a1a" stroke-width="2"/>
<line x1="603" y1="894.6" x2="613" y2="894.6" stroke="#1a1a1a" stroke-width="2"/>
<line x1="603" y1="962.0" x2="613" y2="962.0" stroke="#1a1a1a" stroke-width="2"/>
<line x1="603" y1="1028.7" x2="613" y2="1028.7" stroke="#1a1a1a" stroke-width="2"/>
<text x="559" y="585" font-size="48" font-family="'Liberation Serif', serif">(&#956;V/K)</text>
<text x="620.0" y="660.4" font-size="44" text-anchor="start" font-family="'Liberation Serif', serif">30</text>
<text x="620.0" y="705.0" font-size="44" text-anchor="start" font-family="'Liberation Serif', serif">20</text>
<text x="620.0" y="778.0" font-size="44" text-anchor="start" font-family="'Liberation Serif', serif">10</text>
<text x="630.0" y="842.0" font-size="44" text-anchor="start" font-family="'Liberation Serif', serif">0</text>
<text x="620.0" y="908.0" font-size="44" text-anchor="start" font-family="'Liberation Serif', serif">-10</text>
<text x="620.0" y="981.0" font-size="44" text-anchor="start" font-family="'Liberation Serif', serif">-20</text>
<text x="620.0" y="1037.2" font-size="44" text-anchor="start" font-family="'Liberation Serif', serif">-30</text>
<line x1="743.4" y1="11" x2="743.4" y2="1183" stroke="#111" stroke-width="2.6" stroke-dasharray="4.5 11.5"/>
<line x1="788.8" y1="11" x2="788.8" y2="1183" stroke="#111" stroke-width="2.6" stroke-dasharray="4.5 11.5"/>
<line x1="834.8" y1="11" x2="834.8" y2="1183" stroke="#111" stroke-width="2.6" stroke-dasharray="4.5 11.5"/>
<line x1="881.0" y1="11" x2="881.0" y2="1183" stroke="#111" stroke-width="2.6" stroke-dasharray="4.5 11.5"/>
<line x1="927.2" y1="11" x2="927.2" y2="1183" stroke="#111" stroke-width="2.6" stroke-dasharray="4.5 11.5"/>
<line x1="973.3" y1="11" x2="973.3" y2="1183" stroke="#111" stroke-width="2.6" stroke-dasharray="4.5 11.5"/>
<line x1="1019.6" y1="11" x2="1019.6" y2="1183" stroke="#111" stroke-width="2.6" stroke-dasharray="4.5 11.5"/>
<line x1="1065.7" y1="11" x2="1065.7" y2="1183" stroke="#111" stroke-width="2.6" stroke-dasharray="4.5 11.5"/>
<line x1="901.3" y1="9" x2="901.3" y2="1185" stroke="#000" stroke-width="3"/>
<rect x="709.8" y="9.3" width="383.7" height="1176.9" fill="none" stroke="#000" stroke-width="4"/>
<line x1="709.8" y1="303.4" x2="1093.5" y2="303.4" stroke="#000" stroke-width="4"/>
<line x1="709.8" y1="597.5" x2="1093.5" y2="597.5" stroke="#000" stroke-width="4"/>
<line x1="709.8" y1="892.3" x2="1093.5" y2="892.3" stroke="#000" stroke-width="4"/>
<line x1="709.8" y1="451.5" x2="1093.5" y2="451.5" stroke="#000" stroke-width="3.6"/>
<line x1="709.8" y1="744.8" x2="1093.5" y2="744.8" stroke="#000" stroke-width="3.6"/>
<line x1="709.8" y1="1009.4" x2="1093.5" y2="1009.4" stroke="#000" stroke-width="3.6"/>
<line x1="757.8" y1="9.3" x2="757.8" y2="20.3" stroke="#000" stroke-width="3"/>
<line x1="757.8" y1="303.4" x2="757.8" y2="292.4" stroke="#000" stroke-width="3"/>
<line x1="805.7" y1="9.3" x2="805.7" y2="29.3" stroke="#000" stroke-width="3"/>
<line x1="805.7" y1="303.4" x2="805.7" y2="283.4" stroke="#000" stroke-width="3"/>
<line x1="853.6" y1="9.3" x2="853.6" y2="20.3" stroke="#000" stroke-width="3"/>
<line x1="853.6" y1="303.4" x2="853.6" y2="292.4" stroke="#000" stroke-width="3"/>
<line x1="949.6" y1="9.3" x2="949.6" y2="20.3" stroke="#000" stroke-width="3"/>
<line x1="949.6" y1="303.4" x2="949.6" y2="292.4" stroke="#000" stroke-width="3"/>
<line x1="997.5" y1="9.3" x2="997.5" y2="29.3" stroke="#000" stroke-width="3"/>
<line x1="997.5" y1="303.4" x2="997.5" y2="283.4" stroke="#000" stroke-width="3"/>
<line x1="1045.5" y1="9.3" x2="1045.5" y2="20.3" stroke="#000" stroke-width="3"/>
<line x1="1045.5" y1="303.4" x2="1045.5" y2="292.4" stroke="#000" stroke-width="3"/>
<line x1="757.8" y1="303.4" x2="757.8" y2="314.4" stroke="#000" stroke-width="3"/>
<line x1="757.8" y1="597.5" x2="757.8" y2="586.5" stroke="#000" stroke-width="3"/>
<line x1="805.7" y1="303.4" x2="805.7" y2="323.4" stroke="#000" stroke-width="3"/>
<line x1="805.7" y1="597.5" x2="805.7" y2="577.5" stroke="#000" stroke-width="3"/>
<line x1="853.6" y1="303.4" x2="853.6" y2="314.4" stroke="#000" stroke-width="3"/>
<line x1="853.6" y1="597.5" x2="853.6" y2="586.5" stroke="#000" stroke-width="3"/>
<line x1="949.6" y1="303.4" x2="949.6" y2="314.4" stroke="#000" stroke-width="3"/>
<line x1="949.6" y1="597.5" x2="949.6" y2="586.5" stroke="#000" stroke-width="3"/>
<line x1="997.5" y1="303.4" x2="997.5" y2="323.4" stroke="#000" stroke-width="3"/>
<line x1="997.5" y1="597.5" x2="997.5" y2="577.5" stroke="#000" stroke-width="3"/>
<line x1="1045.5" y1="303.4" x2="1045.5" y2="314.4" stroke="#000" stroke-width="3"/>
<line x1="1045.5" y1="597.5" x2="1045.5" y2="586.5" stroke="#000" stroke-width="3"/>
<line x1="757.8" y1="597.5" x2="757.8" y2="608.5" stroke="#000" stroke-width="3"/>
<line x1="757.8" y1="892.3" x2="757.8" y2="881.3" stroke="#000" stroke-width="3"/>
<line x1="805.7" y1="597.5" x2="805.7" y2="617.5" stroke="#000" stroke-width="3"/>
<line x1="805.7" y1="892.3" x2="805.7" y2="872.3" stroke="#000" stroke-width="3"/>
<line x1="853.6" y1="597.5" x2="853.6" y2="608.5" stroke="#000" stroke-width="3"/>
<line x1="853.6" y1="892.3" x2="853.6" y2="881.3" stroke="#000" stroke-width="3"/>
<line x1="949.6" y1="597.5" x2="949.6" y2="608.5" stroke="#000" stroke-width="3"/>
<line x1="949.6" y1="892.3" x2="949.6" y2="881.3" stroke="#000" stroke-width="3"/>
<line x1="997.5" y1="597.5" x2="997.5" y2="617.5" stroke="#000" stroke-width="3"/>
<line x1="997.5" y1="892.3" x2="997.5" y2="872.3" stroke="#000" stroke-width="3"/>
<line x1="1045.5" y1="597.5" x2="1045.5" y2="608.5" stroke="#000" stroke-width="3"/>
<line x1="1045.5" y1="892.3" x2="1045.5" y2="881.3" stroke="#000" stroke-width="3"/>
<line x1="757.8" y1="892.3" x2="757.8" y2="903.3" stroke="#000" stroke-width="3"/>
<line x1="757.8" y1="1186.2" x2="757.8" y2="1175.2" stroke="#000" stroke-width="3"/>
<line x1="805.7" y1="892.3" x2="805.7" y2="912.3" stroke="#000" stroke-width="3"/>
<line x1="805.7" y1="1186.2" x2="805.7" y2="1166.2" stroke="#000" stroke-width="3"/>
<line x1="853.6" y1="892.3" x2="853.6" y2="903.3" stroke="#000" stroke-width="3"/>
<line x1="853.6" y1="1186.2" x2="853.6" y2="1175.2" stroke="#000" stroke-width="3"/>
<line x1="949.6" y1="892.3" x2="949.6" y2="903.3" stroke="#000" stroke-width="3"/>
<line x1="949.6" y1="1186.2" x2="949.6" y2="1175.2" stroke="#000" stroke-width="3"/>
<line x1="997.5" y1="892.3" x2="997.5" y2="912.3" stroke="#000" stroke-width="3"/>
<line x1="997.5" y1="1186.2" x2="997.5" y2="1166.2" stroke="#000" stroke-width="3"/>
<line x1="1045.5" y1="892.3" x2="1045.5" y2="903.3" stroke="#000" stroke-width="3"/>
<line x1="1045.5" y1="1186.2" x2="1045.5" y2="1175.2" stroke="#000" stroke-width="3"/>
<line x1="709.8" y1="66.9" x2="721.8" y2="66.9" stroke="#000" stroke-width="3"/>
<line x1="1093.5" y1="66.9" x2="1081.5" y2="66.9" stroke="#000" stroke-width="3"/>
<line x1="709.8" y1="185.9" x2="721.8" y2="185.9" stroke="#000" stroke-width="3"/>
<line x1="1093.5" y1="185.9" x2="1081.5" y2="185.9" stroke="#000" stroke-width="3"/>
<line x1="709.8" y1="126.5" x2="716.8" y2="126.5" stroke="#000" stroke-width="3"/>
<line x1="1093.5" y1="126.5" x2="1086.5" y2="126.5" stroke="#000" stroke-width="3"/>
<line x1="709.8" y1="244.6" x2="716.8" y2="244.6" stroke="#000" stroke-width="3"/>
<line x1="1093.5" y1="244.6" x2="1086.5" y2="244.6" stroke="#000" stroke-width="3"/>
<line x1="709.8" y1="353.6" x2="721.8" y2="353.6" stroke="#000" stroke-width="3"/>
<line x1="1093.5" y1="353.6" x2="1081.5" y2="353.6" stroke="#000" stroke-width="3"/>
<line x1="709.8" y1="549.0" x2="721.8" y2="549.0" stroke="#000" stroke-width="3"/>
<line x1="1093.5" y1="549.0" x2="1081.5" y2="549.0" stroke="#000" stroke-width="3"/>
<line x1="709.8" y1="401.9" x2="716.8" y2="401.9" stroke="#000" stroke-width="3"/>
<line x1="1093.5" y1="401.9" x2="1086.5" y2="401.9" stroke="#000" stroke-width="3"/>
<line x1="709.8" y1="500.8" x2="716.8" y2="500.8" stroke="#000" stroke-width="3"/>
<line x1="1093.5" y1="500.8" x2="1086.5" y2="500.8" stroke="#000" stroke-width="3"/>
<line x1="709.8" y1="624.8" x2="721.8" y2="624.8" stroke="#000" stroke-width="3"/>
<line x1="1093.5" y1="624.8" x2="1081.5" y2="624.8" stroke="#000" stroke-width="3"/>
<line x1="709.8" y1="864.0" x2="721.8" y2="864.0" stroke="#000" stroke-width="3"/>
<line x1="1093.5" y1="864.0" x2="1081.5" y2="864.0" stroke="#000" stroke-width="3"/>
<line x1="709.8" y1="684.6" x2="716.8" y2="684.6" stroke="#000" stroke-width="3"/>
<line x1="1093.5" y1="684.6" x2="1086.5" y2="684.6" stroke="#000" stroke-width="3"/>
<line x1="709.8" y1="714.5" x2="716.8" y2="714.5" stroke="#000" stroke-width="3"/>
<line x1="1093.5" y1="714.5" x2="1086.5" y2="714.5" stroke="#000" stroke-width="3"/>
<line x1="709.8" y1="774.3" x2="716.8" y2="774.3" stroke="#000" stroke-width="3"/>
<line x1="1093.5" y1="774.3" x2="1086.5" y2="774.3" stroke="#000" stroke-width="3"/>
<line x1="709.8" y1="804.2" x2="716.8" y2="804.2" stroke="#000" stroke-width="3"/>
<line x1="1093.5" y1="804.2" x2="1086.5" y2="804.2" stroke="#000" stroke-width="3"/>
<line x1="709.8" y1="834.0" x2="716.8" y2="834.0" stroke="#000" stroke-width="3"/>
<line x1="1093.5" y1="834.0" x2="1086.5" y2="834.0" stroke="#000" stroke-width="3"/>
<line x1="709.8" y1="919.5" x2="721.8" y2="919.5" stroke="#000" stroke-width="3"/>
<line x1="1093.5" y1="919.5" x2="1081.5" y2="919.5" stroke="#000" stroke-width="3"/>
<line x1="709.8" y1="1098.0" x2="721.8" y2="1098.0" stroke="#000" stroke-width="3"/>
<line x1="1093.5" y1="1098.0" x2="1081.5" y2="1098.0" stroke="#000" stroke-width="3"/>
<line x1="709.8" y1="965.0" x2="716.8" y2="965.0" stroke="#000" stroke-width="3"/>
<line x1="1093.5" y1="965.0" x2="1086.5" y2="965.0" stroke="#000" stroke-width="3"/>
<line x1="709.8" y1="1054.7" x2="716.8" y2="1054.7" stroke="#000" stroke-width="3"/>
<line x1="1093.5" y1="1054.7" x2="1086.5" y2="1054.7" stroke="#000" stroke-width="3"/>
<line x1="709.8" y1="1142.6" x2="716.8" y2="1142.6" stroke="#000" stroke-width="3"/>
<line x1="1093.5" y1="1142.6" x2="1086.5" y2="1142.6" stroke="#000" stroke-width="3"/>
<path d="M711.1,287.5 C712.7,287.0 716.1,282.5 720.6,284.4 C725.1,286.2 730.6,301.5 738.0,298.6 C745.4,295.7 756.5,266.7 765.0,266.9 C773.5,267.1 781.8,297.6 789.0,300.0 C796.2,302.4 801.7,283.7 808.0,281.0 C814.3,278.3 822.2,280.8 827.0,283.7 C831.8,286.6 830.2,314.1 836.6,298.6 C843.0,283.1 859.1,207.3 865.2,190.6 C871.3,173.9 870.4,180.6 873.0,198.6 C875.6,216.6 878.3,287.8 881.0,298.6 C883.7,309.5 885.0,309.0 889.0,263.7 C893.0,218.4 898.4,21.2 905.0,27.0 C911.6,32.8 922.5,271.3 928.8,298.6 C935.1,325.9 938.8,204.4 943.0,190.6 C947.2,176.8 949.2,198.0 954.0,216.0 C958.8,234.0 965.2,292.8 971.6,298.6 C978.0,304.4 984.6,251.5 992.3,251.0 C1000.0,250.5 1010.6,292.6 1017.7,295.5 C1024.9,298.4 1028.1,268.8 1035.2,268.5 C1042.3,268.2 1053.7,292.0 1060.6,293.9 C1067.5,295.8 1071.5,281.8 1076.5,279.6 C1081.5,277.5 1088.4,280.8 1090.8,281.0" fill="none" stroke="#000" stroke-width="8" stroke-linejoin="round" stroke-linecap="round"/>
<path d="M711.1,461.4 C714.5,462.1 724.6,465.3 731.8,465.8 C738.9,466.3 746.1,463.8 754.0,464.6 C761.9,465.5 770.9,469.8 779.4,470.9 C787.9,471.9 796.3,468.8 804.8,470.9 C813.3,473.0 822.9,483.0 830.3,483.6 C837.7,484.2 844.3,474.1 849.3,474.7 C854.3,475.3 856.7,476.3 860.4,487.4 C864.1,498.5 868.4,531.4 871.6,541.5 C874.8,551.6 876.3,551.0 879.5,547.8 C882.7,544.6 887.4,537.2 890.6,522.4 C893.8,507.6 895.4,480.1 898.6,458.9 C901.8,437.7 906.3,411.4 909.7,395.3 C913.1,379.2 916.0,368.6 919.2,362.0 C922.4,355.4 925.6,354.6 928.8,355.6 C932.0,356.7 934.6,359.0 938.3,368.3 C942.0,377.6 947.3,402.2 951.0,411.2 C954.7,420.2 957.3,420.8 960.5,422.3 C963.7,423.8 965.8,418.4 970.0,420.0 C974.2,421.6 981.2,429.1 986.0,431.8 C990.8,434.5 993.9,435.8 998.6,436.0 C1003.4,436.2 1009.2,432.4 1014.5,432.8 C1019.8,433.2 1025.1,437.0 1030.4,438.2 C1035.7,439.4 1041.5,439.8 1046.3,439.8 C1051.1,439.8 1054.8,437.8 1059.0,438.2 C1063.2,438.6 1066.4,441.5 1071.7,442.3 C1077.0,443.1 1087.6,442.9 1090.8,443.0" fill="none" stroke="#000" stroke-width="8" stroke-linejoin="round" stroke-linecap="round"/>
<path d="M711.1,744.1 C713.0,741.7 719.0,731.9 722.2,729.8 C725.4,727.7 727.0,727.2 730.2,731.4 C733.4,735.6 738.4,754.4 741.3,755.2 C744.2,756.0 744.8,741.4 747.7,736.1 C750.6,730.8 755.1,728.7 758.8,723.4 C762.5,718.1 766.5,703.3 769.9,704.4 C773.3,705.5 775.7,720.5 779.4,729.8 C783.1,739.1 788.9,759.0 792.1,760.0 C795.3,761.0 794.8,743.3 798.5,736.1 C802.2,728.9 809.6,717.5 814.4,717.0 C819.2,716.5 823.4,724.8 827.1,733.0 C830.8,741.2 833.7,760.2 836.6,766.3 C839.5,772.4 842.2,777.7 844.6,769.5 C847.0,761.3 848.0,739.0 850.9,717.0 C853.8,695.0 859.1,648.8 862.0,637.7 C864.9,626.6 866.5,632.4 868.4,650.4 C870.3,668.4 870.6,728.2 873.2,745.7 C875.9,763.2 880.6,744.9 884.3,755.2 C888.0,765.5 892.2,802.8 895.4,807.6 C898.6,812.4 901.2,788.8 903.3,783.8 C905.4,778.8 906.2,793.9 908.1,777.5 C910.0,761.1 912.4,694.3 914.5,685.3 C916.6,676.3 918.9,710.9 920.8,723.4 C922.6,735.9 923.5,754.7 925.6,760.0 C927.7,765.3 929.3,742.5 933.5,755.2 C937.7,767.9 946.5,833.0 951.0,836.2 C955.5,839.4 957.3,787.0 960.5,774.3 C963.7,761.6 966.8,759.0 970.0,760.0 C973.2,761.0 976.4,773.5 979.6,780.6 C982.8,787.8 985.9,802.4 989.1,802.9 C992.3,803.4 994.9,791.8 998.6,783.8 C1002.3,775.8 1007.6,756.2 1011.3,755.2 C1015.0,754.2 1017.7,771.9 1020.9,777.5 C1024.1,783.1 1027.0,788.9 1030.4,788.6 C1033.8,788.3 1038.3,778.3 1041.5,775.9 C1044.7,773.5 1046.8,778.5 1049.5,774.3 C1052.2,770.0 1054.8,750.7 1057.4,750.4 C1060.1,750.1 1061.7,768.5 1065.4,772.7 C1069.1,777.0 1075.2,775.1 1079.7,775.9 C1084.2,776.7 1090.3,777.2 1092.4,777.5" fill="none" stroke="#ff0000" stroke-width="8.5" stroke-linejoin="round" stroke-linecap="round"/>
<path d="M711.1,1007.1 C711.9,1002.9 713.2,989.7 715.9,981.7 C718.5,973.8 724.4,962.6 727.0,959.4 C729.6,956.2 729.4,945.7 731.8,962.6 C734.2,979.5 738.8,1043.4 741.3,1061.1 C743.8,1078.8 744.6,1076.4 747.0,1069.0 C749.4,1061.6 752.9,1028.2 755.6,1016.6 C758.4,1005.0 761.1,1002.5 763.5,999.1 C765.9,995.7 767.8,1001.8 769.9,996.0 C772.0,990.2 773.6,965.5 776.2,964.2 C778.9,962.9 782.6,974.8 785.8,988.0 C789.0,1001.2 791.6,1042.8 795.3,1043.6 C799.0,1044.4 804.3,1005.8 808.0,992.8 C811.7,979.8 815.0,971.6 817.6,965.8 C820.2,960.0 822.0,952.0 823.9,957.8 C825.8,963.6 826.6,989.8 828.7,1000.7 C830.8,1011.6 833.2,1011.4 836.6,1023.0 C840.0,1034.7 846.1,1065.8 849.3,1070.6 C852.5,1075.4 853.1,1069.9 855.7,1051.6 C858.4,1033.3 862.3,969.0 865.2,961.0 C868.1,953.0 869.5,993.0 873.2,1003.9 C876.9,1014.8 884.1,1011.8 887.5,1026.1 C890.9,1040.4 892.2,1070.1 893.8,1089.7 C895.4,1109.3 894.9,1132.6 897.0,1143.7 C899.1,1154.8 903.9,1155.4 906.5,1156.4 C909.1,1157.5 910.2,1173.8 912.9,1150.0 C915.5,1126.2 919.2,1037.2 922.4,1013.4 C925.6,989.6 928.2,1015.6 931.9,1007.1 C935.6,998.6 941.1,967.6 944.6,962.6 C948.1,957.6 950.0,957.8 952.6,976.9 C955.2,996.0 957.3,1070.7 960.5,1077.0 C963.7,1083.3 968.1,1035.7 971.6,1015.0 C975.1,994.4 977.8,960.2 981.2,953.1 C984.7,946.0 988.1,956.8 992.3,972.1 C996.5,987.5 1002.4,1044.1 1006.6,1045.2 C1010.8,1046.3 1014.3,992.5 1017.7,978.5 C1021.1,964.5 1023.8,959.4 1027.2,961.0 C1030.7,962.6 1034.4,974.8 1038.4,988.0 C1042.4,1001.2 1047.4,1038.3 1051.1,1040.4 C1054.8,1042.5 1057.9,1013.4 1060.6,1000.7 C1063.2,988.0 1064.6,967.9 1067.0,964.2 C1069.4,960.5 1072.0,970.8 1074.9,978.5 C1077.8,986.2 1081.5,1005.3 1084.4,1010.3 C1087.3,1015.3 1091.1,1009.0 1092.4,1008.7" fill="none" stroke="#ff0000" stroke-width="8.5" stroke-linejoin="round" stroke-linecap="round"/>
<text x="716" y="61" font-size="48" font-family="'Liberation Serif', serif"><tspan font-style="italic">B</tspan> = 8.8T</text>
<text x="716" y="123" font-size="48" font-family="'Liberation Serif', serif"><tspan font-style="italic">T</tspan> = 10K</text>
<text x="1015.7" y="68.0" font-size="54" text-anchor="start" font-family="'Liberation Sans', sans-serif">(d)</text>
<text x="1016.5" y="368.8" font-size="54" text-anchor="start" font-family="'Liberation Sans', sans-serif">(e)</text>
<text x="1016.8" y="658.8" font-size="54" text-anchor="start" font-family="'Liberation Sans', sans-serif">(f)</text>
<text x="1017.3" y="949.6" font-size="54" text-anchor="start" font-family="'Liberation Sans', sans-serif">(g)</text>
<text x="1114.0" y="81.0" font-size="47" text-anchor="start" font-family="'Liberation Serif', serif">4</text>
<text x="1114.0" y="198.0" font-size="47" text-anchor="start" font-family="'Liberation Serif', serif">2</text>
<text x="1114.0" y="310.0" font-size="47" text-anchor="start" font-family="'Liberation Serif', serif">0</text>
<text x="1109.0" y="369.0" font-size="47" text-anchor="start" font-family="'Liberation Serif', serif">0.5</text>
<text x="1115.0" y="472.5" font-size="47" text-anchor="start" font-family="'Liberation Serif', serif">0.0</text>
<text x="1115.0" y="569.0" font-size="47" text-anchor="start" font-family="'Liberation Serif', serif">-0.5</text>
<text x="1114.0" y="641.0" font-size="47" text-anchor="start" font-family="'Liberation Serif', serif">20</text>
<text x="1114.0" y="765.0" font-size="47" text-anchor="start" font-family="'Liberation Serif', serif">0</text>
<text x="1114.0" y="873.5" font-size="47" text-anchor="start" font-family="'Liberation Serif', serif">-20</text>
<text x="1116.0" y="936.5" font-size="47" text-anchor="start" font-family="'Liberation Serif', serif">15</text>
<text x="1114.0" y="1028.0" font-size="47" text-anchor="start" font-family="'Liberation Serif', serif">0</text>
<text x="1106.0" y="1105.0" font-size="47" text-anchor="start" font-family="'Liberation Serif', serif">-15</text>
<text x="1116.0" y="1189.5" font-size="47" text-anchor="start" font-family="'Liberation Serif', serif">-30</text>
<text x="710.3" y="1232.0" font-size="47" text-anchor="middle" font-family="'Liberation Serif', serif">-50</text>
<text x="806.2" y="1232.0" font-size="47" text-anchor="middle" font-family="'Liberation Serif', serif">-25</text>
<text x="900.1" y="1232.0" font-size="47" text-anchor="middle" font-family="'Liberation Serif', serif">0</text>
<text x="1000.7" y="1232.0" font-size="47" text-anchor="middle" font-family="'Liberation Serif', serif">25</text>
<text x="1094.0" y="1232.0" font-size="47" text-anchor="middle" font-family="'Liberation Serif', serif">50</text>
<text x="846" y="1302" font-size="48" font-family="'Liberation Serif', serif"><tspan font-style="italic">V</tspan><tspan font-style="italic" font-size="32" dy="11">g</tspan><tspan dy="-11">&#160;(V)</tspan></text>
<text transform="translate(1209.0,144.0) rotate(90)" font-size="48" text-anchor="middle" font-family="'Liberation Serif', serif"><tspan font-style="italic">R</tspan><tspan font-style="italic" font-size="32" dy="10">xx</tspan><tspan dy="-10">&#160;(k&#937;)</tspan></text>
<text transform="translate(1214.0,441.0) rotate(90)" font-size="48" text-anchor="middle" font-family="'Liberation Serif', serif"><tspan font-style="italic">R</tspan><tspan font-style="italic" font-size="32" dy="10">xy</tspan><tspan dy="-10">&#160;(<tspan font-style="italic">e</tspan><tspan font-size="30" dy="-14">2</tspan><tspan dy="14">/</tspan><tspan font-style="italic">h</tspan>)</tspan></text>
<text transform="translate(1217.0,744.0) rotate(90)" font-size="48" text-anchor="middle" font-family="'Liberation Serif', serif"><tspan font-style="italic">S</tspan><tspan font-style="italic" font-size="32" dy="10">xx</tspan><tspan dy="-10">&#160;(&#956;V/K)</tspan></text>
<text transform="translate(1215.0,1031.0) rotate(90)" font-size="48" text-anchor="middle" font-family="'Liberation Serif', serif"><tspan font-style="italic">S</tspan><tspan font-style="italic" font-size="32" dy="10">yx</tspan><tspan dy="-10">&#160;(&#956;V/K)</tspan></text>
</svg>
</body></html>
